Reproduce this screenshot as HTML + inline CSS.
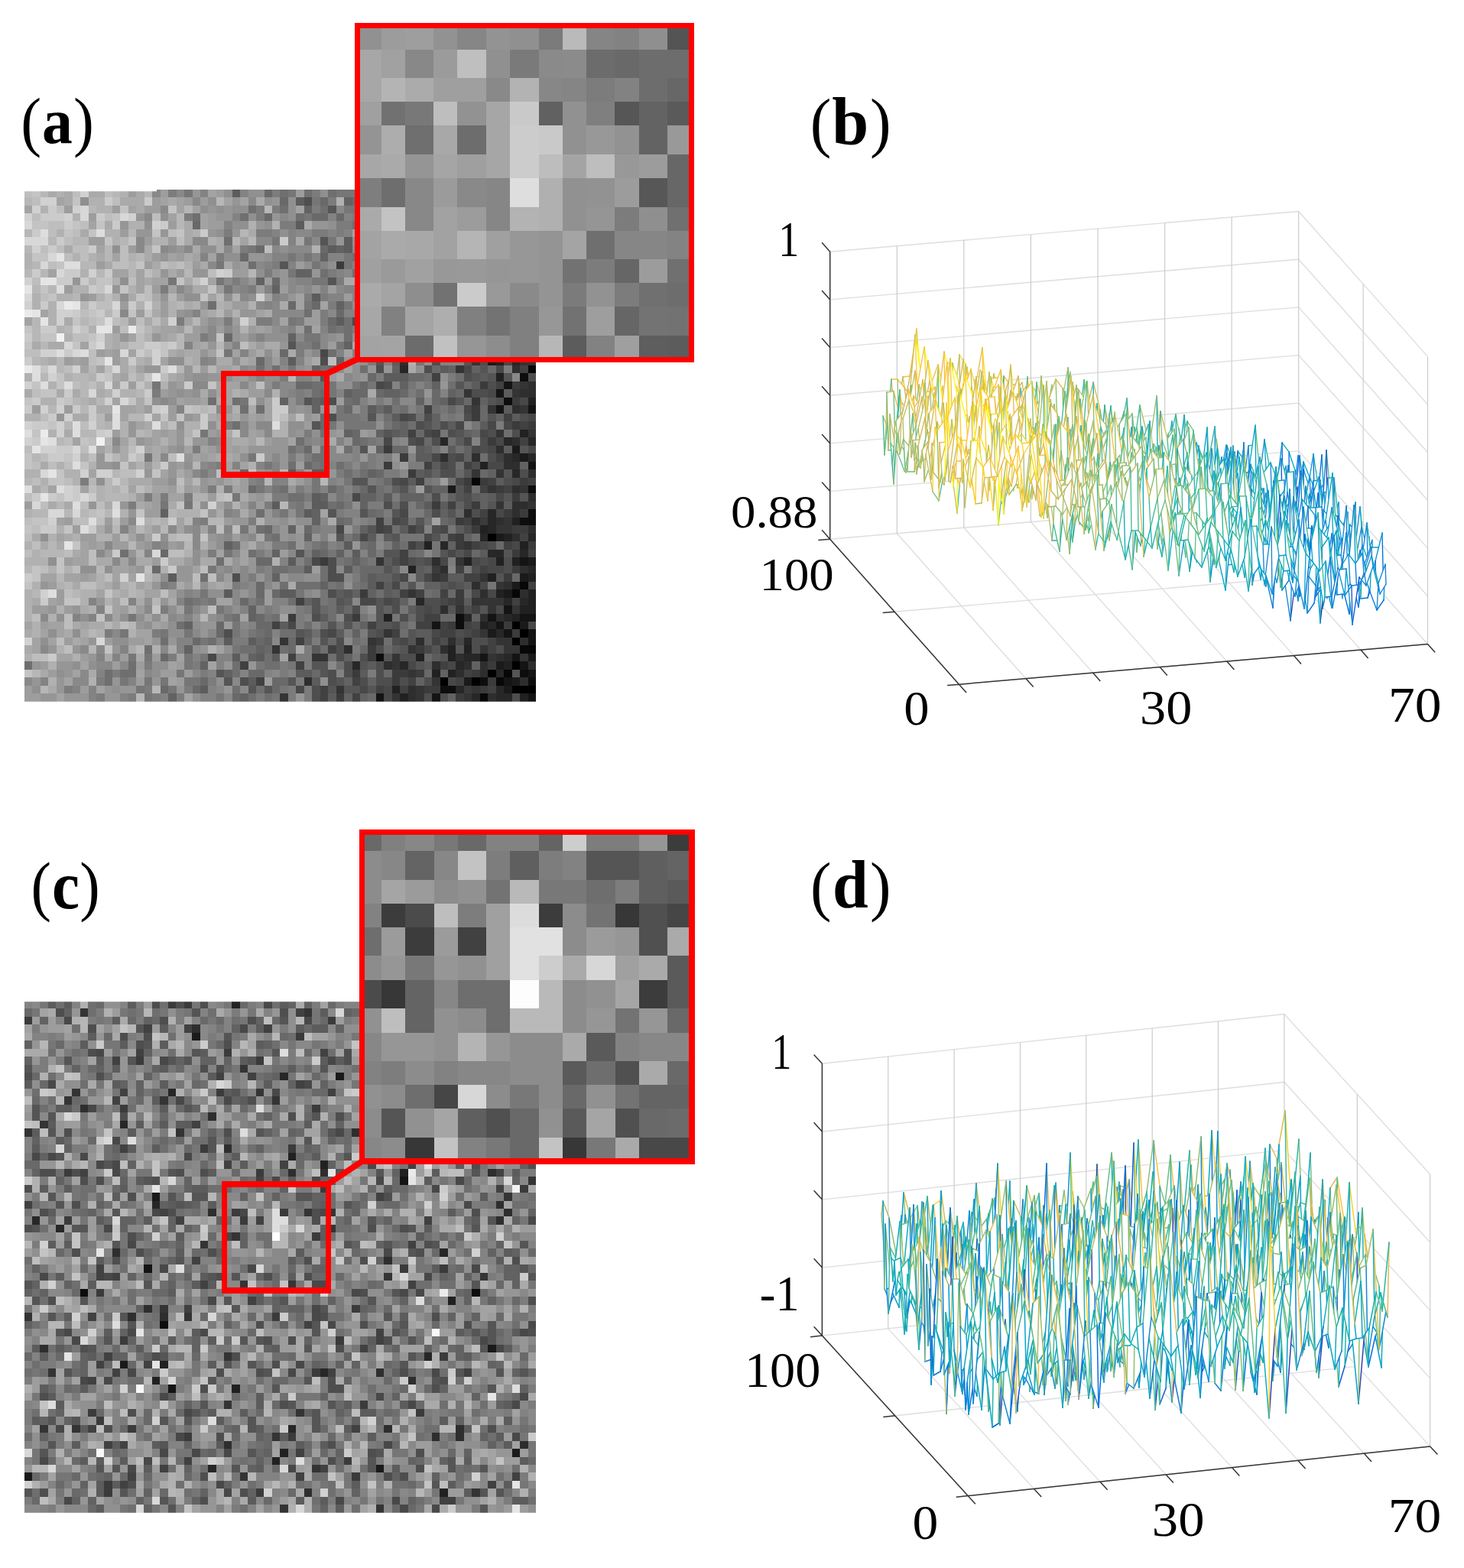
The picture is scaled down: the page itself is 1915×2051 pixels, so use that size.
<!DOCTYPE html>
<html lang="en"><head><meta charset="utf-8"><title>Infrared small target: raw and background-suppressed image with 3D intensity meshes</title>
<style>html,body{margin:0;padding:0;background:#fff}body{width:1915px;height:2051px;overflow:hidden}figure{margin:0}svg{display:block}text{font-family:"Liberation Serif","DejaVu Serif",serif;font-size:100px;fill:#000}.w{fill:#fff;stroke:none}.a{stroke:#352a87}.b{stroke:#343fb1}.c{stroke:#1558da}.d{stroke:#046de0}.e{stroke:#117ada}.f{stroke:#1487d3}.g{stroke:#0998d1}.h{stroke:#06a4c9}.i{stroke:#0dadbb}.j{stroke:#24b5aa}.k{stroke:#44bb97}.l{stroke:#6abe83}.m{stroke:#8fbf73}.n{stroke:#afbe67}.o{stroke:#ccbb5b}.p{stroke:#e7b94f}.q{stroke:#fdbe3d}.r{stroke:#fbd02c}.s{stroke:#f5e21e}.t{stroke:#f9fb0e}</style></head><body><figure>
<svg width="1915" height="2051" viewBox="0 0 1915 2051">
<rect width="1915" height="2051" fill="#fff"/>
<g id="panel-a">
<clipPath id="ca"><path d="M32 250.3H205V248H701V917.7H32Z"/></clipPath>
<g id="image-a" clip-path="url(#ca)"><g transform="translate(32.00 252.84) scale(10.4531 10.4703)" shape-rendering="crispEdges" fill="none" stroke-width="1">
<path stroke="#000" d="M62 1h1M58 3h1M61 8h1M63 16h1M58 43h1M61 54h1M62 55h1M61 56h1M61 59h1M58 60h1M52 61h1M56 61h1M61 62h3"/>
<path stroke="#070707" d="M63 22h1M56 36h1M62 49h1M61 50h1M62 57h2M60 60h1M59 61h1M57 63h1"/>
<path stroke="#0d0d0d" d="M63 8h1M63 9h1M62 23h1M60 26h1M63 37h1M63 40h1M62 41h2M54 53h1M54 54h1M44 58h1M62 60h1M57 61h1M63 61h1M52 62h2"/>
<path stroke="#141414" d="M63 0h1M59 1h1M62 2h1M63 5h1M62 15h1M60 24h1M59 25h1M59 27h1M63 27h1M63 34h1M62 46h1M60 52h1M58 53h1M62 53h2M51 54h1M59 54h1M60 55h1M63 55h1M63 56h1M57 58h1M61 58h1M62 59h1M63 60h1M60 61h1M44 63h1M51 63h1M63 63h1"/>
<path stroke="#1a1a1a" d="M57 3h1M62 3h2M60 4h1M59 7h1M61 15h1M63 15h1M63 17h1M63 20h1M58 21h1M61 32h1M62 33h1M53 37h1M59 43h1M63 46h1M62 48h1M61 49h1M60 50h1M62 54h1M58 55h1M63 58h1M59 59h1M55 61h1M61 61h1M60 62h1"/>
<path stroke="#212121" d="M60 1h1M55 3h1M62 4h1M61 5h1M63 12h1M62 13h1M55 15h1M55 16h1M59 21h1M59 23h1M63 26h1M62 30h1M57 34h1M61 41h1M57 42h1M60 43h1M50 44h1M62 44h1M55 46h1M59 46h1M61 46h1M48 47h1M58 48h1M63 48h1M59 50h1M63 50h1M63 51h1M62 52h2M45 53h1M61 53h1M57 54h1M53 57h1M55 57h1M49 58h1M53 58h1M60 59h1M51 60h1M53 60h1M46 62h1M47 63h1M62 63h1"/>
<path stroke="#272727" d="M61 6h1M47 7h1M58 8h1M61 12h1M62 20h1M61 21h1M47 22h1M52 31h1M60 31h1M63 31h1M61 33h1M63 33h1M61 35h1M58 40h1M58 41h1M58 42h1M57 43h1M63 43h1M52 44h1M58 45h2M62 45h1M63 47h1M49 51h1M60 51h1M62 51h1M55 53h1M60 53h1M58 54h1M59 55h1M55 56h1M55 58h2M60 58h1M41 59h1M47 59h1M54 59h1M59 60h1M54 62h1M59 62h1M56 63h1M59 63h2"/>
<path stroke="#2e2e2e" d="M61 0h1M61 2h1M58 5h1M63 6h1M63 7h1M59 11h1M62 12h1M59 13h1M63 13h1M61 14h1M63 14h1M62 17h1M47 21h1M61 22h1M63 24h1M62 25h2M61 27h1M61 31h1M59 32h1M52 33h1M56 33h1M60 33h1M60 34h2M63 35h1M61 37h1M63 38h1M61 39h2M55 40h1M61 40h1M56 41h1M59 41h1M63 42h1M61 43h1M51 46h1M52 47h1M62 47h1M56 49h1M60 49h1M57 50h1M62 50h1M52 52h1M57 53h1M59 53h1M49 56h1M53 56h1M62 56h1M40 57h1M52 57h1M54 58h1M59 58h1M45 59h1M51 59h1M55 59h1M57 59h1M63 59h1M54 60h1M57 60h1M35 61h1M62 61h1M48 62h1M48 63h1M58 63h1"/>
<path stroke="#343434" d="M59 0h1M62 0h1M59 3h1M61 4h1M51 5h1M54 6h1M57 6h1M53 7h1M58 7h1M62 7h1M53 8h1M58 9h1M61 10h1M53 15h1M53 16h1M52 18h1M59 18h1M56 20h1M56 21h1M62 21h2M54 22h1M62 24h1M55 25h1M61 25h1M56 26h1M58 27h1M62 27h1M59 30h1M63 30h1M56 35h1M59 35h1M58 37h1M62 37h1M59 39h1M63 39h1M60 41h1M59 42h2M55 44h1M44 46h1M54 46h1M51 48h1M57 48h1M59 49h1M48 50h1M56 51h4M54 52h1M58 52h1M61 52h1M45 55h1M57 55h1M32 56h1M43 56h1M59 56h2M31 57h1M48 57h1M57 57h1M60 57h2M36 58h2M46 58h1M58 58h1M62 58h1M46 59h1M48 60h1M51 61h1M39 62h1M49 62h1M56 62h1M32 63h1M46 63h1M49 63h1M55 63h1"/>
<path stroke="#3b3b3b" d="M57 1h1M61 3h1M46 5h1M57 5h1M60 5h1M62 5h1M59 6h1M60 7h2M60 8h1M39 9h1M60 9h1M52 10h1M60 10h1M60 11h1M63 11h1M50 12h1M57 12h1M58 15h1M56 16h1M61 16h1M45 17h1M47 17h1M61 18h1M57 24h1M61 24h1M61 26h1M56 27h1M56 28h1M61 29h1M63 29h1M58 31h1M45 32h1M47 33h1M45 34h1M48 35h1M55 36h1M57 36h1M62 36h1M59 37h1M61 38h1M51 39h1M56 39h1M60 40h1M62 40h1M54 41h1M57 41h1M56 42h1M61 42h2M54 43h1M54 44h1M63 44h1M61 45h1M37 46h1M51 47h1M61 47h1M52 48h1M60 48h1M42 50h1M54 50h1M54 51h1M33 53h1M41 53h1M53 54h1M60 54h1M61 55h1M44 56h1M43 57h1M49 57h1M43 58h1M58 59h1M41 60h1M46 60h2M49 60h1M56 60h1M46 61h1M58 61h1M50 62h2M55 62h1M57 62h1M39 63h1M54 63h1"/>
<path stroke="#414141" d="M51 0h1M60 0h1M51 1h1M53 1h1M58 1h1M61 1h1M63 1h1M56 3h1M53 4h1M58 4h1M59 5h1M51 6h1M56 6h1M62 6h1M54 7h1M57 7h1M62 8h1M59 9h1M53 10h1M63 10h1M62 11h1M60 13h1M57 15h1M59 15h1M51 17h1M56 19h1M63 19h1M48 20h1M54 20h1M62 22h1M51 23h1M59 24h1M50 27h1M60 28h1M62 29h1M48 30h1M51 30h1M62 31h1M59 33h1M50 34h1M55 34h1M49 36h1M58 36h1M63 36h1M55 37h1M57 37h1M60 37h1M53 39h1M57 40h1M44 41h1M55 41h1M44 42h1M48 42h1M53 43h1M62 43h1M48 44h1M56 44h1M60 44h1M47 45h1M63 45h1M47 46h1M54 47h1M57 47h1M55 48h2M44 49h1M63 49h1M47 50h1M49 50h1M52 50h1M34 51h1M53 51h1M61 51h1M56 52h1M50 53h2M31 54h1M43 54h1M49 54h2M52 54h1M55 54h1M46 55h1M52 55h2M56 55h1M34 56h1M51 56h1M58 56h1M38 57h1M58 57h1M33 58h1M27 59h1M34 59h1M52 59h1M55 60h1M29 61h1M41 61h1M48 61h1M54 61h1M37 62h1M44 62h1M47 62h1M58 62h1M37 63h1M41 63h1"/>
<path stroke="#484848" d="M45 0h1M47 2h1M55 2h2M60 2h1M63 2h1M47 3h1M56 4h2M59 4h1M63 4h1M44 5h1M47 5h1M53 5h1M50 6h1M49 7h1M51 7h1M52 11h1M49 12h1M53 12h1M55 12h1M58 12h1M58 13h1M60 15h1M41 16h1M57 16h2M60 16h1M48 18h1M53 18h1M58 18h1M62 18h1M59 19h1M37 20h1M61 20h1M60 21h1M55 22h1M59 22h1M44 24h1M58 25h1M53 26h1M62 26h1M55 27h1M47 28h1M63 28h1M54 29h1M58 29h1M60 29h1M50 30h1M57 30h1M45 31h1M49 31h1M55 31h1M59 31h1M56 32h1M58 32h1M63 32h1M51 33h1M54 33h1M52 34h1M58 34h2M47 36h1M54 36h1M61 36h1M41 38h1M59 38h1M47 40h1M59 40h1M46 41h1M39 42h1M45 42h1M52 42h1M42 43h1M50 43h1M57 44h1M61 44h1M53 45h1M55 45h1M36 46h1M52 46h1M56 46h1M58 46h1M58 47h2M47 48h1M50 48h1M46 49h1M57 49h1M56 50h1M58 50h1M42 51h2M45 51h1M52 51h1M50 52h1M59 52h1M33 54h1M56 54h1M63 54h1M38 55h1M51 55h1M55 55h1M47 56h1M54 56h1M50 57h1M23 58h1M48 59h1M53 59h1M53 61h1M34 62h1M42 62h1M45 62h1M45 63h1"/>
<path stroke="#4e4e4e" d="M54 0h1M56 0h1M35 1h1M48 1h1M56 1h1M46 2h1M52 2h2M57 2h1M43 3h1M44 7h1M43 8h1M56 9h1M61 9h1M54 10h1M57 10h1M56 11h1M46 12h1M50 13h1M54 13h1M56 13h1M53 14h2M62 14h1M47 16h1M51 16h1M59 16h1M52 17h1M59 17h3M57 18h1M60 18h1M52 19h1M58 19h1M57 20h1M60 20h1M37 21h1M51 21h1M57 21h1M44 22h1M50 22h1M55 23h1M63 23h1M45 24h1M58 24h1M56 25h2M38 26h1M59 26h1M38 28h1M48 28h1M50 28h1M55 28h1M62 28h1M49 29h1M52 29h1M53 30h1M58 30h1M61 30h1M48 31h1M51 31h1M57 31h1M57 32h1M53 33h1M58 33h1M53 34h1M56 34h1M52 35h2M62 35h1M46 36h1M60 36h1M51 38h1M55 38h1M45 39h1M47 39h1M55 39h1M51 40h1M56 40h1M47 41h1M49 42h1M51 42h1M55 42h1M49 44h1M58 44h1M38 46h1M46 46h1M48 46h1M50 46h1M57 46h1M60 46h1M38 47h1M56 47h1M60 47h1M26 48h1M38 48h2M53 49h1M38 50h1M46 51h1M50 51h2M41 52h1M46 52h1M49 52h1M51 52h1M55 52h1M36 53h1M40 53h1M47 53h1M49 53h1M46 54h1M25 55h1M37 55h1M44 55h1M54 55h1M39 56h1M46 56h1M52 56h1M56 56h2M39 57h1M44 57h1M56 57h1M59 57h1M39 58h1M42 58h1M47 58h2M40 59h1M44 59h1M38 60h1M40 60h1M44 60h1M27 61h1M38 61h1M42 61h1M44 61h2M47 61h1M50 61h1M36 62h1M36 63h1M50 63h1M52 63h1M61 63h1"/>
<path stroke="#555" d="M42 0h1M48 0h1M55 1h1M38 2h1M49 2h1M59 2h1M52 3h1M54 3h1M48 4h1M52 4h1M54 4h1M52 5h1M56 5h1M37 6h1M48 6h1M55 6h1M52 7h1M48 8h1M57 8h1M32 9h1M62 9h1M45 10h1M48 10h1M62 10h1M38 11h1M53 11h1M55 11h1M61 11h1M42 12h1M57 13h1M61 13h1M59 14h1M54 15h1M50 16h1M62 16h1M55 17h1M33 19h1M49 19h1M60 19h2M43 20h1M58 20h1M44 21h1M55 21h1M57 22h1M37 23h1M56 23h1M58 23h1M60 23h1M54 24h1M35 26h1M54 26h1M58 26h1M43 28h1M58 28h1M36 29h1M50 29h1M45 30h1M54 30h1M42 32h1M62 32h1M50 35h1M55 35h1M60 35h1M41 36h2M43 37h1M47 37h1M50 37h1M54 37h1M54 38h1M60 38h1M62 38h1M58 39h1M38 40h1M42 40h1M46 40h1M53 40h1M49 41h1M43 42h1M39 43h1M46 43h1M51 43h1M34 45h1M45 45h2M52 45h1M54 45h1M60 45h1M49 46h1M45 47h1M46 48h1M59 48h1M48 49h1M52 49h1M54 49h1M40 50h1M36 51h1M39 51h1M44 51h1M36 52h1M44 52h1M53 52h1M57 52h1M44 53h1M38 54h1M40 54h1M44 54h2M34 55h1M43 55h1M48 55h1M37 56h1M48 56h1M47 57h1M51 57h1M54 57h1M45 58h1M52 58h1M36 59h2M42 59h1M49 59h1M24 60h1M37 60h1M61 60h1M25 61h1M33 61h1M39 61h1M28 62h1M30 62h1M38 62h1M40 62h2M43 62h1"/>
<path stroke="#5c5c5c" d="M26 0h1M52 0h1M57 0h1M34 1h1M51 2h1M48 3h1M50 3h1M34 4h1M47 4h1M50 5h1M40 6h1M43 6h1M47 6h1M49 6h1M52 6h1M58 6h1M38 7h1M40 7h1M43 7h1M59 8h1M48 9h1M52 9h3M49 10h2M58 10h1M50 11h1M57 11h2M51 12h2M54 12h1M59 12h1M36 13h1M43 13h1M55 13h1M49 14h2M56 14h1M47 15h1M52 15h1M56 15h1M39 16h1M52 16h1M46 17h1M50 18h2M54 18h1M43 19h1M46 19h1M48 19h1M54 19h1M62 19h1M59 20h1M33 21h1M46 21h1M52 22h1M45 23h3M57 23h1M56 24h1M60 25h1M37 26h1M43 27h1M45 27h1M60 27h1M46 28h1M61 28h1M53 29h1M57 29h1M46 30h1M54 31h1M49 32h1M53 32h1M60 32h1M49 33h2M51 34h1M33 35h1M36 35h2M49 35h1M48 36h1M59 36h1M36 38h1M45 38h1M56 38h1M58 38h1M31 39h1M36 39h2M50 39h1M52 39h1M60 39h1M35 40h1M47 42h1M54 42h1M43 43h1M45 43h1M40 44h1M41 45h1M57 45h1M33 46h1M45 46h1M35 47h1M40 47h1M49 47h1M18 48h1M43 48h1M49 48h1M53 48h2M43 49h1M45 49h1M55 49h1M25 50h1M32 50h2M39 50h1M45 50h1M40 51h1M55 51h1M39 52h1M48 52h1M37 53h1M32 54h1M35 55h1M39 55h1M49 55h2M25 56h1M28 56h1M50 56h1M36 57h1M46 57h1M26 58h1M29 58h1M31 58h1M51 58h1M43 59h1M50 59h1M34 60h2M42 60h1M28 61h1M36 61h1M22 62h1M38 63h1"/>
<path stroke="#626262" d="M53 0h1M55 0h1M40 1h1M49 1h2M52 1h1M35 2h1M42 2h1M44 2h1M54 2h1M58 2h1M51 3h1M60 3h1M51 4h1M44 6h2M60 6h1M39 7h1M56 7h1M37 8h1M49 8h1M52 8h1M54 8h1M49 9h1M34 10h2M43 10h1M29 11h1M44 11h1M48 11h1M51 11h1M31 12h1M56 12h1M51 13h1M39 14h1M46 14h1M51 14h2M57 14h1M48 15h1M51 15h1M44 17h1M54 17h1M33 18h1M63 18h1M40 19h1M39 21h1M36 22h1M46 22h1M53 22h1M56 22h1M47 24h1M51 24h1M40 25h1M45 25h2M53 25h1M32 26h1M36 26h1M49 26h1M52 26h1M57 26h1M36 27h1M51 28h1M59 28h1M47 29h1M51 29h1M40 30h1M44 30h1M47 30h1M55 30h1M44 32h1M50 32h1M55 32h1M55 33h1M62 34h1M43 35h1M51 35h1M58 35h1M46 37h1M51 37h2M37 38h1M42 38h2M47 38h3M53 38h1M57 38h1M42 39h1M54 39h1M57 39h1M17 40h1M36 40h1M52 40h1M36 41h1M53 41h1M33 42h1M42 42h1M35 43h1M55 43h1M25 44h1M46 44h1M53 44h1M31 45h1M36 45h1M39 45h1M41 46h1M46 47h1M50 47h1M31 48h1M44 48h2M37 49h1M50 49h2M41 50h1M43 50h1M46 50h1M35 51h1M47 51h1M28 52h1M45 52h1M28 53h1M56 53h1M20 54h1M42 54h1M41 55h1M30 56h1M35 56h1M20 57h1M29 57h1M28 58h1M40 58h1M22 59h1M56 59h1M25 60h1M52 60h1M40 61h1M43 61h1M49 61h1M18 63h1M27 63h1M40 63h1M42 63h1M53 63h1"/>
<path stroke="#696969" d="M30 0h1M47 0h1M58 0h1M32 1h1M37 1h1M41 1h1M44 1h2M54 1h1M45 2h1M50 2h1M30 3h1M36 3h2M39 3h1M45 3h2M21 4h1M46 4h1M55 4h1M54 5h1M46 6h1M29 7h1M37 7h1M45 7h1M27 8h1M51 8h1M56 8h1M44 10h1M47 10h1M56 10h1M31 11h1M47 11h1M49 11h1M48 12h1M52 13h1M33 14h1M36 14h1M43 14h1M48 14h1M58 14h1M39 15h1M50 15h1M38 16h1M43 16h1M42 17h1M48 17h1M58 17h1M25 18h1M46 18h1M56 18h1M50 19h1M53 19h1M32 20h1M47 20h1M53 20h1M29 21h1M38 22h1M51 22h1M58 22h1M43 23h1M48 23h2M34 24h2M42 24h1M55 24h1M37 25h1M41 25h2M44 25h1M47 25h1M51 25h1M54 25h1M41 26h1M51 26h1M55 26h1M40 27h1M44 27h1M53 27h1M57 27h1M37 28h1M57 28h1M37 29h1M46 29h1M41 30h1M49 30h1M56 30h1M41 31h1M50 31h1M35 32h1M46 32h2M35 34h1M27 35h1M44 35h1M54 35h1M57 35h1M45 36h1M28 37h1M38 37h1M42 37h1M39 39h1M49 39h1M43 40h1M50 40h1M54 40h1M39 41h1M52 41h1M30 42h1M35 42h1M41 43h1M43 44h1M59 44h1M17 45h1M37 45h1M43 45h1M48 45h1M56 45h1M29 46h2M16 47h1M42 47h3M42 48h1M61 48h1M29 49h1M29 50h1M31 50h1M51 50h1M53 50h1M55 50h1M27 51h1M37 52h1M40 52h1M29 53h1M48 53h1M52 53h2M24 54h1M29 54h2M47 54h1M24 55h1M30 55h1M21 56h1M29 56h1M33 56h1M38 56h1M30 57h1M33 57h1M42 57h1M45 57h1M17 58h1M50 58h1M28 60h2M36 60h1M45 60h1M50 60h1M22 61h1M31 61h2M17 62h1M21 62h1M31 62h1M26 63h1M43 63h1"/>
<path stroke="#6f6f6f" d="M32 0h1M35 0h1M38 0h1M43 0h1M50 0h1M28 2h1M32 2h1M37 2h1M21 3h1M27 3h1M34 3h1M41 4h2M50 4h1M25 6h1M53 6h1M41 8h1M50 8h1M55 8h1M28 9h1M57 9h1M37 10h1M41 10h1M51 10h1M46 11h1M43 12h2M47 13h2M53 13h1M23 14h1M55 14h1M35 15h1M42 15h1M49 15h1M40 16h1M35 17h1M38 17h1M40 17h1M56 17h1M40 18h1M45 18h1M49 18h1M55 18h1M36 19h1M42 19h1M57 19h1M38 20h1M46 20h1M29 22h1M31 22h1M37 22h1M42 22h1M50 23h1M54 23h1M36 24h2M53 24h1M36 25h1M49 25h1M23 26h1M26 26h1M40 26h1M46 26h1M27 27h1M29 27h1M47 27h1M51 27h1M45 28h1M49 28h1M26 29h1M48 29h1M37 30h1M60 30h1M34 31h1M42 31h1M53 31h1M33 32h1M37 32h1M40 32h1M51 32h1M54 32h1M36 33h2M57 33h1M33 34h1M37 34h1M39 34h1M54 34h1M40 35h1M42 35h1M53 36h1M32 37h1M44 37h1M48 37h1M56 37h1M33 38h2M44 38h1M50 38h1M38 39h1M46 39h1M29 40h1M44 40h1M40 41h1M48 41h1M50 41h1M29 42h1M46 42h1M31 43h1M52 43h1M56 43h1M26 44h1M33 44h1M37 44h1M42 44h1M47 44h1M12 45h1M28 45h1M49 45h1M24 46h1M35 46h1M40 46h1M42 46h1M31 47h2M37 47h1M22 48h1M37 48h1M32 49h1M34 49h3M39 49h1M42 49h1M47 49h1M44 50h1M50 50h1M20 51h1M29 51h1M33 51h1M38 51h1M38 52h1M26 53h1M31 53h1M38 53h1M19 54h1M35 54h1M37 54h1M39 54h1M41 54h1M29 55h1M32 55h2M36 55h1M47 55h1M17 56h1M23 56h1M41 56h1M45 56h1M15 57h1M27 57h2M32 57h1M37 57h1M30 58h1M38 58h1M0 59h1M13 59h1M26 59h1M30 59h2M39 59h1M10 60h1M12 60h2M26 60h1M10 61h1M26 62h1M29 62h1M28 63h1M30 63h1"/>
<path stroke="#767676" d="M20 0h1M33 0h1M39 0h3M36 1h1M42 1h1M47 1h1M40 2h2M35 3h1M49 3h1M53 3h1M43 4h1M43 5h1M45 5h1M49 5h1M31 6h1M35 6h1M38 6h1M28 7h1M48 7h1M55 7h1M33 8h1M35 8h1M40 8h1M45 8h3M24 9h1M36 9h1M40 9h1M45 9h2M50 9h1M55 9h1M33 10h1M59 10h1M18 11h1M24 11h1M36 11h2M25 12h1M45 12h1M35 14h1M40 14h1M47 14h1M33 16h1M39 17h1M50 17h1M35 18h2M39 19h1M51 19h1M25 20h1M51 20h1M55 20h1M49 21h1M33 22h1M16 24h1M38 24h1M41 24h1M43 24h1M48 24h1M50 24h1M38 25h1M27 26h1M39 27h1M46 27h1M49 27h1M52 27h1M54 27h1M39 28h3M53 28h1M38 29h1M40 29h4M45 29h1M56 29h1M22 30h1M52 30h1M43 31h1M15 33h1M28 33h1M30 34h1M36 34h1M42 34h1M36 36h1M40 36h1M44 36h1M50 36h1M29 37h1M31 37h1M36 37h1M39 37h1M41 37h1M45 37h1M26 38h1M39 38h1M52 38h1M17 39h1M20 39h1M34 39h1M40 39h1M32 40h1M34 40h1M45 41h1M27 42h1M53 42h1M30 43h1M40 43h1M47 43h3M36 44h1M51 44h1M25 45h1M38 45h1M51 45h1M39 46h1M43 46h1M23 47h1M33 47h2M41 47h1M55 47h1M38 49h1M41 49h1M58 49h1M22 50h1M34 50h1M37 50h1M21 51h1M23 51h1M37 51h1M20 52h1M24 52h1M35 52h1M47 52h1M13 53h1M25 53h1M30 53h1M42 53h1M46 53h1M26 54h1M48 54h1M12 55h1M17 55h1M20 55h1M26 55h1M28 55h1M22 56h1M42 56h1M26 57h1M13 58h1M15 58h1M20 58h1M22 58h1M41 58h1M20 59h1M29 59h1M33 59h1M19 60h1M12 61h1M15 61h1M17 61h1M20 61h2M14 62h1M18 62h1M32 62h1M15 63h1M24 63h1M31 63h1"/>
<path stroke="#7c7c7c" d="M18 0h1M31 0h1M36 0h1M46 0h1M38 1h1M43 1h1M46 1h1M29 2h1M31 2h1M36 2h1M43 2h1M20 3h1M29 3h1M41 3h1M32 4h2M39 4h2M45 4h1M25 5h1M29 5h2M36 5h2M39 5h1M48 5h1M42 6h1M27 7h1M50 7h1M24 8h1M44 8h1M31 9h1M47 9h1M30 10h1M38 10h1M26 11h1M39 11h1M17 12h1M28 12h1M35 13h1M37 13h1M38 14h1M44 14h1M60 14h1M37 15h1M44 15h1M19 16h1M25 16h1M29 16h2M34 16h1M37 16h1M44 16h1M48 16h1M54 16h1M41 17h1M22 18h1M34 19h2M44 19h2M34 20h1M42 20h1M49 20h1M52 20h1M43 21h1M60 22h1M32 23h1M44 23h1M53 23h1M31 24h1M16 25h1M34 25h1M48 25h1M34 26h1M44 26h1M42 27h1M42 28h1M52 28h1M54 28h1M25 29h1M59 29h1M35 30h1M44 31h1M21 32h1M34 32h1M33 33h1M35 33h1M43 33h1M45 33h1M24 34h1M40 34h1M43 34h1M48 34h2M22 35h1M39 35h1M41 35h1M45 35h2M7 36h1M29 36h1M43 36h1M51 36h1M23 37h1M25 37h1M34 37h1M15 38h1M17 38h1M20 38h1M31 38h2M35 38h1M40 38h1M46 38h1M13 39h1M30 39h1M33 39h1M43 39h2M48 39h1M39 40h1M45 40h1M48 40h2M22 41h1M28 41h1M43 41h1M36 42h1M41 42h1M31 44h2M39 44h1M45 44h1M23 45h1M29 45h1M35 45h1M44 45h1M53 46h1M29 47h1M28 48h1M41 48h1M17 49h1M26 49h1M49 49h1M22 51h1M28 51h1M48 51h1M17 52h1M30 52h1M34 52h1M34 53h1M34 54h1M10 55h1M16 55h1M40 55h1M42 55h1M26 56h2M36 56h1M35 57h1M41 57h1M18 58h1M34 58h2M15 59h1M21 59h1M32 59h1M35 59h1M11 60h1M22 60h1M32 60h1M43 60h1M9 61h1M23 61h1M34 61h1M5 62h1M15 62h1M20 62h1M33 62h1M35 62h1M9 63h1M13 63h1M16 63h1M19 63h1M29 63h1M33 63h1M35 63h1"/>
<path stroke="#838383" d="M22 0h1M27 0h1M48 2h1M26 3h1M38 3h1M40 3h1M44 3h1M25 4h1M31 5h1M33 5h1M38 5h1M40 5h1M42 5h1M33 6h1M22 8h1M31 8h2M34 8h1M36 8h1M38 8h2M42 8h1M30 9h1M33 9h1M37 9h1M41 9h1M39 10h1M42 10h1M34 11h2M43 11h1M27 12h1M30 12h1M37 12h1M40 12h2M60 12h1M31 13h1M38 13h2M41 13h1M46 13h1M30 14h1M45 14h1M21 15h1M40 15h2M46 15h1M49 16h1M33 17h1M37 17h1M49 17h1M29 18h1M47 18h1M20 19h1M26 19h1M47 19h1M27 20h1M39 20h1M41 20h1M22 21h1M32 21h1M34 21h1M45 21h1M52 21h3M29 23h1M34 23h2M46 24h1M49 24h1M33 25h1M35 25h1M39 25h1M52 25h1M42 26h1M19 27h1M48 27h1M44 28h1M23 31h1M35 31h1M37 31h1M39 31h1M46 31h1M56 31h1M41 32h1M52 32h1M41 33h1M44 33h1M48 33h1M23 34h1M26 34h1M29 34h1M31 34h1M38 34h1M44 34h1M31 35h1M34 35h1M28 36h1M31 36h2M38 36h1M30 37h1M37 37h1M40 37h1M28 39h1M25 40h1M31 40h1M40 40h2M21 41h1M42 41h1M12 42h1M23 42h1M25 42h1M37 42h2M50 42h1M37 43h1M44 43h1M16 44h1M35 44h1M38 44h1M15 45h1M40 45h1M42 45h1M32 46h1M34 46h1M30 47h1M53 47h1M30 48h1M18 49h1M27 49h1M20 50h1M8 51h1M13 51h1M19 51h1M31 51h2M9 52h1M25 52h1M27 52h1M31 52h1M42 52h1M6 53h1M8 53h1M20 53h1M35 53h1M43 53h1M28 54h1M36 54h1M27 55h1M31 55h1M19 56h2M24 56h1M12 57h1M19 57h1M9 58h1M11 58h1M21 58h1M24 58h2M27 58h1M24 59h1M9 60h1M23 60h1M27 60h1M30 60h1M33 60h1M39 60h1M2 61h1M13 61h1M6 62h1M8 62h1M23 62h1M8 63h1M12 63h1M17 63h1M22 63h2"/>
<path stroke="#898989" d="M16 0h1M19 0h1M21 1h1M28 1h1M17 2h1M39 2h1M15 3h1M32 3h1M49 4h1M34 5h2M55 5h1M14 6h1M21 6h2M29 6h2M36 6h1M14 7h1M17 7h1M20 7h1M25 7h1M31 7h1M33 7h3M41 7h2M23 9h1M29 9h1M42 9h1M40 10h1M46 10h1M25 11h1M27 11h1M33 11h1M19 12h1M26 12h1M33 12h1M35 12h1M39 12h1M27 13h1M32 13h1M42 13h1M44 13h1M29 14h1M31 14h1M12 15h1M31 15h4M38 15h1M31 16h1M42 16h1M46 16h1M23 17h1M25 17h1M32 17h1M53 17h1M57 17h1M23 18h1M34 18h1M37 18h1M37 19h1M36 20h1M23 21h1M30 21h1M27 22h1M30 22h1M32 22h1M40 23h1M61 23h1M21 24h2M27 24h1M32 24h2M30 25h1M32 25h1M17 26h1M45 26h1M47 26h2M50 26h1M24 27h1M27 29h1M29 29h2M55 29h1M27 30h1M30 30h1M11 31h1M24 31h1M36 31h1M47 31h1M38 32h1M17 33h1M31 33h1M38 33h3M22 34h1M41 34h1M21 35h1M23 35h1M47 35h1M39 36h1M35 37h1M38 38h1M35 39h1M26 40h1M13 41h1M37 41h1M41 41h1M18 42h1M21 42h1M31 42h1M21 43h1M25 43h1M28 43h1M10 44h1M17 44h1M21 44h1M44 44h1M9 45h1M26 45h1M30 45h1M33 45h1M50 45h1M11 46h1M13 46h1M25 47h1M27 47h1M39 47h1M47 47h1M24 48h1M27 48h1M33 48h2M40 48h1M48 48h1M28 49h1M30 49h1M21 50h1M26 50h1M28 50h1M35 50h1M26 51h1M41 51h1M15 52h1M21 52h1M29 52h1M2 53h1M10 53h1M18 53h1M24 53h1M39 53h1M27 54h1M11 55h1M21 55h1M23 55h1M31 56h1M40 56h1M2 57h1M7 57h1M9 57h1M17 57h1M9 59h2M12 59h1M38 59h1M7 60h1M15 60h1M21 60h1M31 60h1M0 61h1M6 61h2M26 61h1M24 62h1M27 62h1M25 63h1"/>
<path stroke="#909090" d="M25 0h1M28 0h2M37 0h1M44 0h1M49 0h1M7 1h1M23 1h1M30 1h1M33 1h1M22 2h1M24 2h1M26 2h2M33 2h1M17 3h1M28 3h1M33 3h1M15 4h1M26 4h2M30 4h1M38 4h1M24 5h1M32 5h1M41 6h1M11 7h1M18 7h1M22 7h2M32 7h1M46 7h1M25 8h2M30 8h1M35 9h1M38 9h1M44 9h1M51 9h1M29 10h1M31 10h1M55 10h1M12 11h1M45 11h1M54 11h1M34 12h1M47 12h1M12 13h1M20 13h2M25 13h1M28 13h1M49 13h1M41 14h1M20 15h1M23 16h1M31 17h1M43 17h1M28 18h1M30 18h3M38 18h1M41 18h1M43 18h1M30 20h1M18 21h2M26 21h1M42 21h1M50 21h1M28 22h1M34 22h1M39 22h1M41 22h1M49 22h1M21 23h2M25 23h1M28 23h1M30 23h2M36 23h1M41 23h1M52 23h1M30 24h1M39 24h2M19 25h1M21 25h1M23 25h1M16 26h1M18 26h1M29 26h1M33 26h1M43 26h1M33 27h1M35 27h1M41 27h1M19 29h1M23 29h1M33 29h2M39 29h1M44 29h1M33 30h1M36 30h1M19 32h1M24 32h1M27 33h1M34 33h1M11 34h1M20 34h1M46 34h1M30 35h1M9 36h1M18 36h1M35 36h1M22 39h1M25 39h1M41 39h1M33 40h1M32 41h1M34 41h2M20 42h1M2 43h1M14 43h1M17 43h1M24 43h1M27 43h1M33 43h1M24 44h1M29 44h1M21 45h1M3 46h1M21 46h1M7 47h2M10 47h1M24 47h1M17 48h1M35 48h2M22 49h1M40 49h1M19 50h1M23 50h2M36 50h1M15 51h1M18 52h1M26 52h1M32 52h2M43 52h1M4 53h1M7 53h1M12 53h1M14 53h1M16 53h1M19 53h1M23 53h1M15 54h1M18 54h1M21 54h1M3 55h1M6 55h1M18 55h2M2 56h1M11 56h2M21 57h1M25 57h1M6 59h1M8 59h1M16 59h2M4 60h1M16 60h1M24 61h1M37 61h1M1 62h1M11 62h1M21 63h1"/>
<path stroke="#969696" d="M21 0h1M26 1h1M31 1h1M23 2h1M25 2h1M14 3h1M24 3h2M31 3h1M12 4h1M29 4h1M36 4h2M44 4h1M14 5h2M17 5h1M23 5h1M26 5h1M39 6h1M19 7h1M17 8h1M28 8h2M26 9h1M17 10h1M21 10h2M32 10h1M36 10h1M6 11h1M28 11h1M32 11h1M42 11h1M11 12h1M20 12h1M36 12h1M7 13h1M17 13h1M33 13h1M22 14h1M42 14h1M19 15h1M27 15h2M24 16h1M22 17h1M26 17h1M12 18h1M16 18h1M26 18h1M39 18h1M42 18h1M44 18h1M23 19h1M25 19h1M32 19h1M22 20h1M35 20h1M44 20h1M40 21h2M15 22h2M20 22h1M35 22h1M43 22h1M45 22h1M20 23h1M23 23h2M42 23h1M18 24h1M52 24h1M18 25h1M20 25h1M50 25h1M25 27h1M34 27h1M37 27h1M4 28h1M20 28h1M27 28h1M35 28h1M13 29h1M13 30h1M19 30h1M24 30h1M34 30h1M38 30h1M43 30h1M14 31h1M19 31h1M21 31h2M31 31h2M40 31h1M11 32h1M18 32h1M28 32h5M48 32h1M9 33h1M20 33h1M30 33h1M32 33h1M42 33h1M46 33h1M9 34h2M18 34h1M32 34h1M15 35h1M18 35h1M29 35h1M38 35h1M22 36h1M24 36h1M22 37h1M33 37h1M29 38h1M8 39h1M12 39h1M13 40h1M23 40h1M28 40h1M30 40h1M26 41h2M30 41h2M10 42h1M32 42h1M40 42h1M23 43h1M32 43h1M34 43h1M36 43h1M15 44h1M19 44h1M30 44h1M34 44h1M41 44h1M13 45h1M26 46h1M28 46h1M14 47h1M19 47h2M26 47h1M28 47h1M19 48h2M29 48h1M32 48h1M2 49h1M16 49h1M31 49h1M27 50h1M9 51h1M17 51h1M3 52h1M6 52h1M22 52h1M21 53h1M14 54h1M22 54h2M22 55h1M8 56h1M16 56h1M18 56h1M3 57h1M6 57h1M11 57h1M22 57h1M8 58h1M1 59h1M4 59h2M25 59h1M28 59h1M5 60h1M1 61h1M4 61h1M11 61h1M16 61h1M4 62h1M10 62h1M12 62h2M19 62h1M25 62h1M2 63h2M5 63h3M10 63h2M34 63h1"/>
<path stroke="#9d9d9d" d="M13 0h1M17 0h1M24 0h1M34 0h1M16 1h1M20 1h1M22 1h1M5 2h1M11 2h1M15 2h2M8 3h1M23 3h1M18 4h1M23 4h2M12 5h1M8 6h2M15 6h1M18 6h1M13 7h1M16 8h1M19 8h1M9 9h1M15 9h1M21 9h1M27 9h1M34 9h1M43 9h1M19 10h1M26 10h2M30 11h1M5 12h1M16 12h1M24 12h1M29 12h1M32 12h1M38 12h1M8 13h1M19 13h1M40 13h1M12 14h1M17 14h1M26 14h2M14 15h1M17 15h1M25 15h1M36 15h1M45 15h1M13 16h1M22 16h1M26 16h1M35 16h2M45 16h1M11 17h1M19 17h1M21 17h1M24 17h1M28 17h1M30 17h1M34 17h1M20 18h2M27 18h1M29 19h1M38 19h1M55 19h1M9 20h1M11 20h1M28 20h1M45 20h1M5 21h1M7 21h1M11 21h1M31 21h1M35 21h1M22 22h1M26 23h2M38 23h1M13 24h1M19 24h1M28 24h1M17 25h1M28 25h2M20 26h2M39 26h1M1 27h1M5 27h1M15 27h1M18 27h1M10 28h1M18 28h1M21 28h1M29 28h1M36 28h1M28 29h1M35 29h1M11 30h1M17 30h1M23 30h1M29 30h1M39 30h1M42 30h1M15 31h1M30 31h1M23 32h1M26 32h1M36 32h1M22 33h1M15 34h1M19 34h1M34 34h1M47 34h1M20 35h1M35 35h1M16 36h2M23 36h1M27 36h1M34 36h1M52 36h1M18 37h1M20 37h1M27 37h1M49 37h1M14 38h1M16 38h1M23 38h1M28 38h1M0 39h1M16 39h1M27 39h1M29 39h1M15 40h2M5 41h1M10 41h1M12 41h1M25 41h1M33 41h1M6 42h1M13 42h1M16 42h1M28 42h1M34 42h1M7 43h2M11 43h1M26 43h1M38 43h1M8 44h1M11 44h2M14 44h1M18 44h1M23 44h1M27 44h1M10 45h1M22 45h1M32 45h1M5 46h1M16 46h1M20 46h1M13 47h1M36 47h1M7 48h1M25 48h1M3 49h1M11 49h1M20 49h1M4 50h1M30 50h1M4 51h1M30 51h1M1 52h2M5 52h1M12 52h1M14 52h1M2 54h1M17 54h1M25 54h1M5 56h1M10 56h1M13 56h2M7 58h1M12 58h1M16 58h1M2 59h1M11 59h1M14 59h1M19 59h1M3 60h1M17 60h2M20 60h1M14 61h1M19 61h1M30 61h1M0 62h1M7 62h1M0 63h2"/>
<path stroke="#a3a3a3" d="M23 0h1M4 1h1M17 1h1M19 1h1M25 1h1M27 1h1M0 2h1M13 2h1M19 2h1M21 2h1M34 2h1M18 3h1M22 3h1M42 3h1M8 4h1M22 4h1M41 5h1M27 6h1M9 7h1M26 7h1M11 8h1M18 8h1M21 8h1M23 8h1M3 10h1M11 10h2M14 10h1M14 11h1M16 11h2M23 11h1M14 12h1M18 12h1M23 13h1M30 13h1M34 13h1M45 13h1M34 14h1M37 14h1M2 15h1M22 15h1M29 15h1M43 15h1M0 16h1M20 16h1M32 16h1M17 17h2M29 17h1M36 17h1M13 18h1M17 18h1M7 19h1M21 19h1M10 20h1M13 20h1M19 20h1M23 20h1M26 20h1M31 20h1M40 20h1M50 20h1M6 21h1M17 21h1M28 21h1M7 22h1M9 22h1M14 22h1M24 22h2M40 22h1M12 23h1M19 23h1M11 24h1M24 24h3M24 25h2M11 26h1M19 26h1M22 26h1M25 26h1M30 26h1M12 27h2M30 27h1M38 27h1M12 28h1M16 28h1M24 28h2M28 28h1M30 28h1M33 28h1M14 29h1M16 30h1M18 30h1M28 30h1M6 31h1M12 31h1M16 31h1M18 31h1M25 31h1M28 31h1M33 31h1M9 32h1M15 32h1M17 32h1M20 32h1M22 32h1M25 32h1M27 32h1M43 32h1M21 33h1M23 33h1M26 33h1M13 34h1M25 34h1M27 34h1M8 35h1M17 35h1M25 35h2M20 36h1M25 36h1M3 37h1M7 37h1M13 37h1M16 37h2M21 37h1M26 37h1M18 38h2M30 38h1M15 39h1M24 39h1M37 40h1M4 41h1M19 41h1M51 41h1M19 42h1M22 42h1M4 43h1M13 43h1M15 43h1M7 44h1M9 44h1M7 45h1M24 45h1M27 45h1M6 46h2M12 46h1M27 46h1M11 47h2M21 47h1M2 48h2M5 48h2M8 48h1M11 48h1M13 48h1M14 49h1M23 49h1M25 49h1M9 50h1M15 50h2M18 50h1M3 51h1M11 51h1M24 51h2M11 52h1M19 52h1M11 53h1M15 53h1M27 53h1M32 53h1M0 54h1M3 54h2M7 54h1M16 54h1M2 55h1M4 55h1M14 55h2M1 56h1M3 56h1M7 56h1M15 56h1M1 57h1M24 57h1M4 58h2M19 58h1M32 58h1M7 59h1M18 59h1M23 59h1M6 60h1M14 60h1M5 61h1M18 61h1M9 62h1M4 63h1M20 63h1"/>
<path stroke="#aaa" d="M3 0h1M5 0h1M8 0h2M14 0h1M5 1h1M12 1h3M18 1h1M29 1h1M14 2h1M10 4h1M20 4h1M35 4h1M7 5h1M20 5h1M28 5h1M20 6h1M24 6h1M34 6h1M5 7h1M15 7h1M21 7h1M24 7h1M9 8h1M15 8h1M20 8h1M10 9h1M16 9h1M22 9h1M25 9h1M18 10h1M15 11h1M20 11h1M40 11h2M21 12h2M13 13h1M16 13h1M20 14h1M25 14h1M32 14h1M16 15h1M23 15h1M30 15h1M5 16h1M15 16h1M17 16h1M16 17h1M11 18h1M18 18h1M1 19h1M3 19h2M11 19h1M22 19h1M28 19h1M30 19h2M41 19h1M18 20h1M20 20h2M29 20h1M33 20h1M3 21h1M12 21h1M15 21h1M21 21h1M24 21h2M27 21h1M36 21h1M12 22h1M26 22h1M48 22h1M11 23h1M18 23h1M39 23h1M0 25h1M4 25h1M6 25h1M9 25h1M22 25h1M27 25h1M43 25h1M8 26h1M14 26h1M24 26h1M9 27h2M14 27h1M28 27h1M6 28h2M23 28h1M26 28h1M15 29h1M24 29h1M5 30h1M25 30h1M26 31h2M38 31h1M12 32h1M16 32h1M39 32h1M12 33h1M16 33h1M24 33h2M2 34h1M19 35h1M13 36h3M26 36h1M33 36h1M1 37h1M27 38h1M3 39h1M5 39h1M10 39h1M14 39h1M18 39h1M24 40h1M27 40h1M38 41h1M9 42h1M15 42h1M1 43h1M5 43h1M29 43h1M2 44h1M4 44h1M28 44h1M6 45h1M9 46h2M14 46h2M18 46h2M22 46h2M25 46h1M16 48h1M6 49h1M10 49h1M15 49h1M19 49h1M24 49h1M33 49h1M12 50h1M1 51h1M14 51h1M18 51h1M7 52h1M17 53h1M6 54h1M8 54h2M11 54h1M0 55h1M5 55h1M7 55h1M6 56h1M0 57h1M13 57h1M18 57h1M34 57h1M10 58h1M14 58h1M2 60h1M8 60h1M3 62h1"/>
<path stroke="#b1b1b1" d="M4 0h1M12 0h1M8 1h2M39 1h1M2 2h1M9 2h2M6 3h1M13 4h2M28 4h1M31 4h1M4 5h1M10 5h2M21 5h1M11 6h1M16 6h2M23 6h1M36 7h1M0 8h1M6 8h1M8 8h1M13 8h1M0 9h1M20 9h1M7 10h1M16 10h1M11 11h1M6 12h2M13 12h1M1 13h1M4 13h2M9 13h1M11 13h1M26 13h1M1 14h1M3 14h1M14 14h1M16 14h1M18 14h1M21 14h1M24 14h1M28 14h1M3 15h1M18 15h1M26 15h1M3 16h1M28 16h1M4 17h1M8 17h1M27 17h1M5 18h1M10 18h1M15 18h1M10 19h1M12 19h1M2 21h1M14 21h1M20 21h1M48 21h1M0 23h1M5 23h1M8 23h1M14 23h1M3 24h1M9 24h1M15 24h1M17 24h1M10 25h1M12 25h2M26 25h1M31 25h1M2 26h2M7 26h1M26 27h1M0 28h2M10 29h1M12 29h1M17 29h1M20 29h2M32 29h1M3 30h1M12 30h1M15 30h1M20 30h1M31 30h2M17 31h1M10 32h1M7 33h1M4 34h1M8 34h1M14 34h1M16 34h1M28 34h1M0 35h2M5 35h2M2 36h1M6 36h1M9 37h1M11 37h1M15 37h1M24 37h1M9 38h1M13 38h1M21 38h2M26 39h1M0 40h1M12 40h1M19 40h3M15 41h1M17 41h1M29 41h1M4 42h1M3 43h1M6 43h1M9 43h2M0 44h1M22 44h1M1 45h1M14 45h1M20 45h1M0 46h3M31 46h1M3 47h1M5 47h1M17 47h1M9 48h1M1 49h1M4 49h1M9 49h1M12 49h1M0 50h1M7 50h2M11 50h1M14 50h1M0 51h1M7 51h1M10 51h1M0 52h1M4 52h1M8 52h1M13 52h1M0 53h1M3 53h1M1 54h1M1 55h1M9 55h1M13 55h1M4 57h1M16 57h1M23 57h1M0 58h1M6 58h1M3 59h1M3 61h1M8 61h1"/>
<path stroke="#b7b7b7" d="M2 0h1M11 0h1M15 0h1M0 1h1M24 1h1M8 2h1M20 2h1M30 2h1M19 3h1M19 4h1M0 5h1M13 5h1M27 5h1M3 6h1M6 6h2M12 6h1M26 6h1M28 6h1M0 7h1M10 7h1M10 8h1M14 8h1M1 9h1M7 9h2M13 9h1M18 9h1M0 10h1M2 10h1M9 10h1M13 10h1M20 10h1M28 10h1M8 11h1M1 12h1M3 12h1M6 13h1M18 13h1M24 13h1M7 14h1M19 14h1M10 15h1M24 15h1M1 16h1M7 16h1M12 16h1M21 16h1M1 17h1M5 17h1M15 17h1M20 17h1M1 18h1M19 18h1M2 19h1M19 19h1M24 19h1M1 21h1M4 21h1M4 22h1M8 22h1M13 22h1M19 22h1M21 22h1M23 22h1M2 23h1M6 23h2M33 23h1M7 24h1M7 25h1M14 25h1M6 26h1M9 26h1M3 27h1M7 27h1M22 27h1M9 28h1M13 28h2M5 29h1M9 29h1M7 30h2M14 30h1M4 31h1M10 31h1M13 31h1M20 31h1M29 31h1M1 33h1M11 33h1M21 34h1M11 35h1M32 35h1M0 36h1M8 36h1M10 36h1M12 36h1M21 36h1M30 36h1M37 36h1M2 37h1M10 37h1M19 37h1M10 38h3M4 39h1M21 39h1M32 39h1M1 40h2M5 40h1M7 40h1M10 40h1M18 40h1M16 41h1M20 41h1M23 41h2M11 42h1M14 42h1M17 42h1M12 43h1M18 43h1M3 44h1M13 44h1M20 44h1M2 45h3M0 47h1M9 47h1M4 48h1M15 48h1M5 49h1M13 49h1M21 49h1M1 50h1M6 50h1M13 50h1M16 51h1M22 53h1M10 54h1M13 54h1M8 55h1M8 57h1M14 57h1M1 60h1M2 62h1M16 62h1M14 63h1"/>
<path stroke="#bebebe" d="M0 0h1M6 0h1M10 0h1M1 1h1M11 1h1M4 2h1M1 3h1M10 3h1M16 3h1M3 4h2M7 4h1M3 5h1M6 5h1M18 5h1M5 6h1M19 6h1M2 7h1M4 7h1M6 7h2M12 7h1M30 7h1M5 8h1M7 8h1M12 8h1M3 9h1M11 9h2M17 9h1M19 9h1M15 10h1M23 10h1M1 11h1M13 11h1M21 11h1M15 12h1M2 13h1M10 13h1M15 13h1M9 14h2M7 15h1M8 16h1M11 16h1M14 16h1M16 16h1M12 17h1M6 18h2M14 18h1M13 19h2M27 19h1M0 20h2M8 20h1M15 20h1M8 21h1M38 21h1M5 22h1M10 22h1M13 23h1M17 23h1M6 24h1M8 24h1M29 24h1M1 25h1M28 26h1M21 27h1M23 27h1M2 28h1M32 28h1M34 28h1M7 29h1M18 29h1M5 31h1M8 31h1M0 32h1M7 32h1M13 32h1M2 33h1M8 33h1M14 33h1M18 33h1M1 34h1M3 34h1M5 34h1M12 35h2M24 35h1M1 36h1M5 36h1M19 36h1M8 37h1M12 37h1M14 37h1M0 38h1M24 38h1M2 39h1M7 39h1M9 39h1M8 40h1M0 41h1M6 41h2M9 41h1M11 41h1M1 42h1M24 42h1M26 42h1M0 43h1M19 43h2M1 44h1M0 45h1M5 45h1M8 45h1M18 45h2M8 46h1M2 47h1M6 47h1M15 47h1M22 47h1M10 48h1M21 48h1M23 48h1M7 49h2M5 50h1M17 50h1M12 51h1M23 52h1M1 53h1M5 53h1M5 54h1M12 54h1M4 56h1M5 57h1M1 58h2"/>
<path stroke="#c4c4c4" d="M1 0h1M6 1h1M12 2h1M18 2h1M11 3h1M1 4h2M6 4h1M9 4h1M5 5h1M8 5h1M16 5h1M19 5h1M10 6h1M13 6h1M16 7h1M1 8h2M4 9h1M14 9h1M9 11h2M19 11h1M2 12h1M9 12h1M12 12h1M23 12h1M3 13h1M14 13h1M22 13h1M8 15h1M13 15h1M15 15h1M6 16h1M9 16h1M0 17h1M7 17h1M14 17h1M2 18h2M8 18h1M24 18h1M0 19h1M6 19h1M17 19h1M17 20h1M24 20h1M9 21h1M2 22h1M4 23h1M10 23h1M15 23h1M1 24h1M4 24h1M14 24h1M23 24h1M2 25h2M0 26h1M5 26h1M13 26h1M15 26h1M20 27h1M17 28h1M19 28h1M3 29h1M1 30h1M21 30h1M26 30h1M7 31h1M0 33h1M5 33h1M10 33h1M0 34h1M7 34h1M12 34h1M4 35h1M16 35h1M28 35h1M3 36h2M4 38h1M25 38h1M19 39h1M9 40h1M14 40h1M22 40h1M1 41h2M0 42h1M5 42h1M22 43h1M6 44h1M4 46h1M1 47h1M4 47h1M1 48h1M0 49h1M10 50h1M5 51h2M10 52h1M16 52h1M9 53h1M10 57h1M0 60h1"/>
<path stroke="#cbcbcb" d="M10 1h1M15 1h1M3 2h1M2 3h3M9 3h1M5 4h1M11 4h1M17 4h1M1 5h1M22 5h1M4 6h1M32 6h1M3 7h1M8 7h1M1 10h1M5 10h2M10 10h1M25 10h1M4 11h2M7 11h1M8 12h1M2 14h1M8 14h1M13 14h1M6 15h1M9 15h1M11 15h1M2 17h2M0 18h1M8 19h1M15 19h2M18 19h1M5 20h1M14 20h1M0 21h1M13 21h1M17 22h1M9 23h1M12 24h1M20 24h1M5 25h1M15 25h1M1 26h1M4 26h1M31 26h1M0 27h1M6 27h1M8 27h1M16 27h1M31 27h2M3 28h1M8 28h1M22 28h1M31 28h1M1 29h2M22 29h1M9 30h1M1 31h1M4 32h2M3 33h2M13 33h1M29 33h1M17 34h1M11 36h1M6 37h1M1 38h1M3 38h1M6 38h1M8 38h1M18 41h1M2 42h2M8 42h1M16 43h1M11 45h1M17 46h1M18 47h1M0 48h1M2 51h1M3 58h1"/>
<path stroke="#d1d1d1" d="M7 0h1M2 1h2M1 2h1M6 2h1M0 3h1M5 3h1M13 3h1M16 4h1M1 7h1M8 10h1M24 10h1M0 11h1M22 11h1M29 13h1M0 14h1M15 14h1M4 15h2M4 16h1M18 16h1M27 16h1M6 17h1M9 18h1M2 20h2M16 20h1M16 21h1M6 22h1M3 23h1M0 24h1M11 25h1M10 26h1M2 27h1M4 27h1M17 27h1M5 28h1M15 28h1M0 29h1M4 29h1M8 29h1M4 30h1M10 30h1M0 31h1M2 32h2M14 32h1M6 33h1M7 35h1M9 35h2M14 35h1M5 37h1M5 38h1M23 39h1M3 41h1M12 48h1M2 50h1M0 56h1"/>
<path stroke="#d8d8d8" d="M7 2h1M7 3h1M12 3h1M0 4h1M0 6h3M3 8h1M2 9h1M4 10h1M10 12h1M0 13h1M4 14h1M11 14h1M5 19h1M9 19h1M6 20h1M12 20h1M3 22h1M11 22h1M10 24h1M8 25h1M12 26h1M6 32h1M2 35h1M7 38h1M1 39h1M11 39h1M3 40h2M6 40h1M16 45h1M9 56h1"/>
<path stroke="#dedede" d="M2 5h1M9 5h1M5 9h2M4 12h1M10 16h1M4 20h1M7 20h1M1 22h1M18 22h1M1 23h1M2 24h1M5 24h1M11 28h1M6 29h1M11 29h1M16 29h1M31 29h1M0 30h1M6 30h1M3 31h1M8 32h1M19 33h1M6 34h1M0 37h1M4 37h1M6 39h1M11 40h1M8 41h1M14 41h1M7 42h1M3 50h1"/>
<path stroke="#e5e5e5" d="M4 8h1M2 11h2M0 12h1M6 14h1M1 15h1M2 16h1M9 17h2M10 21h1M16 23h1M11 27h1M2 31h1M1 32h1M3 35h1M2 38h1M5 44h1M14 48h1"/>
<path stroke="#ebebeb" d="M5 14h1M0 15h1M13 17h1M0 22h1M2 30h1"/>
<path stroke="#f2f2f2" d="M4 18h1M9 31h1"/>
</g></g>
<g id="inset-a"><rect x="464" y="30" width="444" height="444" fill="#f00"/>
<g shape-rendering="crispEdges">
<rect x="471" y="37" width="28" height="28" fill="#919191"/>
<rect x="499" y="37" width="31" height="28" fill="#9c9c9c"/>
<rect x="530" y="37" width="37" height="28" fill="#9e9e9e"/>
<rect x="567" y="37" width="31" height="28" fill="#929292"/>
<rect x="598" y="37" width="38" height="28" fill="#868686"/>
<rect x="636" y="37" width="31" height="28" fill="#939393"/>
<rect x="667" y="37" width="38" height="28" fill="#909090"/>
<rect x="705" y="37" width="31" height="28" fill="#7b7b7b"/>
<rect x="736" y="37" width="31" height="28" fill="#bababa"/>
<rect x="767" y="37" width="37" height="28" fill="#858585"/>
<rect x="804" y="37" width="32" height="28" fill="#828282"/>
<rect x="836" y="37" width="37" height="28" fill="#8f8f8f"/>
<rect x="873" y="37" width="28" height="28" fill="#545454"/>
<rect x="471" y="65" width="28" height="37" fill="#a7a7a7"/>
<rect x="499" y="65" width="31" height="37" fill="#a1a1a1"/>
<rect x="530" y="65" width="37" height="37" fill="#888"/>
<rect x="567" y="65" width="31" height="37" fill="#9b9b9b"/>
<rect x="598" y="65" width="38" height="37" fill="#bfbfbf"/>
<rect x="636" y="65" width="31" height="37" fill="#909090"/>
<rect x="667" y="65" width="38" height="37" fill="#7a7a7a"/>
<rect x="705" y="65" width="31" height="37" fill="#8a8a8a"/>
<rect x="736" y="65" width="31" height="37" fill="#8b8b8b"/>
<rect x="767" y="65" width="37" height="37" fill="#6c6c6c"/>
<rect x="804" y="65" width="32" height="37" fill="#696969"/>
<rect x="836" y="65" width="37" height="37" fill="#6d6d6d"/>
<rect x="873" y="65" width="28" height="37" fill="#6d6d6d"/>
<rect x="471" y="102" width="28" height="31" fill="#a7a7a7"/>
<rect x="499" y="102" width="31" height="31" fill="#b4b4b4"/>
<rect x="530" y="102" width="37" height="31" fill="#ababab"/>
<rect x="567" y="102" width="31" height="31" fill="#9f9f9f"/>
<rect x="598" y="102" width="38" height="31" fill="#9f9f9f"/>
<rect x="636" y="102" width="31" height="31" fill="#898989"/>
<rect x="667" y="102" width="38" height="31" fill="#b3b3b3"/>
<rect x="705" y="102" width="31" height="31" fill="#878787"/>
<rect x="736" y="102" width="31" height="31" fill="#858585"/>
<rect x="767" y="102" width="37" height="31" fill="#7c7c7c"/>
<rect x="804" y="102" width="32" height="31" fill="#828282"/>
<rect x="836" y="102" width="37" height="31" fill="#6d6d6d"/>
<rect x="873" y="102" width="28" height="31" fill="#676767"/>
<rect x="471" y="133" width="28" height="31" fill="#a0a0a0"/>
<rect x="499" y="133" width="31" height="31" fill="#717171"/>
<rect x="530" y="133" width="37" height="31" fill="#787878"/>
<rect x="567" y="133" width="31" height="31" fill="#bebebe"/>
<rect x="598" y="133" width="38" height="31" fill="#929292"/>
<rect x="636" y="133" width="31" height="31" fill="#a6a6a6"/>
<rect x="667" y="133" width="38" height="31" fill="#c9c9c9"/>
<rect x="705" y="133" width="31" height="31" fill="#616161"/>
<rect x="736" y="133" width="31" height="31" fill="#919191"/>
<rect x="767" y="133" width="37" height="31" fill="#7f7f7f"/>
<rect x="804" y="133" width="32" height="31" fill="#565656"/>
<rect x="836" y="133" width="37" height="31" fill="#636363"/>
<rect x="873" y="133" width="28" height="31" fill="#5a5a5a"/>
<rect x="471" y="164" width="28" height="38" fill="#949494"/>
<rect x="499" y="164" width="31" height="38" fill="#adadad"/>
<rect x="530" y="164" width="37" height="38" fill="#6f6f6f"/>
<rect x="567" y="164" width="31" height="38" fill="#a8a8a8"/>
<rect x="598" y="164" width="38" height="38" fill="#6d6d6d"/>
<rect x="636" y="164" width="31" height="38" fill="#a6a6a6"/>
<rect x="667" y="164" width="38" height="38" fill="#ccc"/>
<rect x="705" y="164" width="31" height="38" fill="#c9c9c9"/>
<rect x="736" y="164" width="31" height="38" fill="#919191"/>
<rect x="767" y="164" width="37" height="38" fill="#989898"/>
<rect x="804" y="164" width="32" height="38" fill="#929292"/>
<rect x="836" y="164" width="37" height="38" fill="#636363"/>
<rect x="873" y="164" width="28" height="38" fill="#999"/>
<rect x="471" y="202" width="28" height="31" fill="#a7a7a7"/>
<rect x="499" y="202" width="31" height="31" fill="#aaa"/>
<rect x="530" y="202" width="37" height="31" fill="#959595"/>
<rect x="567" y="202" width="31" height="31" fill="#a5a5a5"/>
<rect x="598" y="202" width="38" height="31" fill="#9f9f9f"/>
<rect x="636" y="202" width="31" height="31" fill="#a6a6a6"/>
<rect x="667" y="202" width="38" height="31" fill="#ccc"/>
<rect x="705" y="202" width="31" height="31" fill="#bdbdbd"/>
<rect x="736" y="202" width="31" height="31" fill="#a4a4a4"/>
<rect x="767" y="202" width="37" height="31" fill="#bebebe"/>
<rect x="804" y="202" width="32" height="31" fill="#989898"/>
<rect x="836" y="202" width="37" height="31" fill="#9c9c9c"/>
<rect x="873" y="202" width="28" height="31" fill="#676767"/>
<rect x="471" y="233" width="28" height="38" fill="#7e7e7e"/>
<rect x="499" y="233" width="31" height="38" fill="#6e6e6e"/>
<rect x="530" y="233" width="37" height="38" fill="#888"/>
<rect x="567" y="233" width="31" height="38" fill="#9b9b9b"/>
<rect x="598" y="233" width="38" height="38" fill="#898989"/>
<rect x="636" y="233" width="31" height="38" fill="#868686"/>
<rect x="667" y="233" width="38" height="38" fill="#dedede"/>
<rect x="705" y="233" width="31" height="38" fill="#b0b0b0"/>
<rect x="736" y="233" width="31" height="38" fill="#919191"/>
<rect x="767" y="233" width="37" height="38" fill="#929292"/>
<rect x="804" y="233" width="32" height="38" fill="#9c9c9c"/>
<rect x="836" y="233" width="37" height="38" fill="#575757"/>
<rect x="873" y="233" width="28" height="38" fill="#676767"/>
<rect x="471" y="271" width="28" height="31" fill="#aaa"/>
<rect x="499" y="271" width="31" height="31" fill="#c3c3c3"/>
<rect x="530" y="271" width="37" height="31" fill="#888"/>
<rect x="567" y="271" width="31" height="31" fill="#a2a2a2"/>
<rect x="598" y="271" width="38" height="31" fill="#9c9c9c"/>
<rect x="636" y="271" width="31" height="31" fill="#868686"/>
<rect x="667" y="271" width="38" height="31" fill="#b3b3b3"/>
<rect x="705" y="271" width="31" height="31" fill="#b0b0b0"/>
<rect x="736" y="271" width="31" height="31" fill="#919191"/>
<rect x="767" y="271" width="37" height="31" fill="#959595"/>
<rect x="804" y="271" width="32" height="31" fill="#7c7c7c"/>
<rect x="836" y="271" width="37" height="31" fill="#8f8f8f"/>
<rect x="873" y="271" width="28" height="31" fill="#707070"/>
<rect x="471" y="302" width="28" height="37" fill="#a3a3a3"/>
<rect x="499" y="302" width="31" height="37" fill="#aaa"/>
<rect x="530" y="302" width="37" height="37" fill="#a8a8a8"/>
<rect x="567" y="302" width="31" height="37" fill="#a2a2a2"/>
<rect x="598" y="302" width="38" height="37" fill="#b5b5b5"/>
<rect x="636" y="302" width="31" height="37" fill="#a0a0a0"/>
<rect x="667" y="302" width="38" height="37" fill="#979797"/>
<rect x="705" y="302" width="31" height="37" fill="#949494"/>
<rect x="736" y="302" width="31" height="37" fill="#a4a4a4"/>
<rect x="767" y="302" width="37" height="37" fill="#6f6f6f"/>
<rect x="804" y="302" width="32" height="37" fill="#868686"/>
<rect x="836" y="302" width="37" height="37" fill="#868686"/>
<rect x="873" y="302" width="28" height="37" fill="#838383"/>
<rect x="471" y="339" width="28" height="31" fill="#a0a0a0"/>
<rect x="499" y="339" width="31" height="31" fill="#9a9a9a"/>
<rect x="530" y="339" width="37" height="31" fill="#a1a1a1"/>
<rect x="567" y="339" width="31" height="31" fill="#989898"/>
<rect x="598" y="339" width="38" height="31" fill="#999"/>
<rect x="636" y="339" width="31" height="31" fill="#969696"/>
<rect x="667" y="339" width="38" height="31" fill="#979797"/>
<rect x="705" y="339" width="31" height="31" fill="#949494"/>
<rect x="736" y="339" width="31" height="31" fill="#727272"/>
<rect x="767" y="339" width="37" height="31" fill="#7c7c7c"/>
<rect x="804" y="339" width="32" height="31" fill="#666"/>
<rect x="836" y="339" width="37" height="31" fill="#9c9c9c"/>
<rect x="873" y="339" width="28" height="31" fill="#707070"/>
<rect x="471" y="370" width="28" height="31" fill="#aaa"/>
<rect x="499" y="370" width="31" height="31" fill="#a4a4a4"/>
<rect x="530" y="370" width="37" height="31" fill="#8e8e8e"/>
<rect x="567" y="370" width="31" height="31" fill="#727272"/>
<rect x="598" y="370" width="38" height="31" fill="#cbcbcb"/>
<rect x="636" y="370" width="31" height="31" fill="#999"/>
<rect x="667" y="370" width="38" height="31" fill="#8a8a8a"/>
<rect x="705" y="370" width="31" height="31" fill="#949494"/>
<rect x="736" y="370" width="31" height="31" fill="#7b7b7b"/>
<rect x="767" y="370" width="37" height="31" fill="#929292"/>
<rect x="804" y="370" width="32" height="31" fill="#7c7c7c"/>
<rect x="836" y="370" width="37" height="31" fill="#707070"/>
<rect x="873" y="370" width="28" height="31" fill="#6d6d6d"/>
<rect x="471" y="401" width="28" height="38" fill="#a7a7a7"/>
<rect x="499" y="401" width="31" height="38" fill="#818181"/>
<rect x="530" y="401" width="37" height="38" fill="#a4a4a4"/>
<rect x="567" y="401" width="31" height="38" fill="#aeaeae"/>
<rect x="598" y="401" width="38" height="38" fill="#808080"/>
<rect x="636" y="401" width="31" height="38" fill="#737373"/>
<rect x="667" y="401" width="38" height="38" fill="#808080"/>
<rect x="705" y="401" width="31" height="38" fill="#979797"/>
<rect x="736" y="401" width="31" height="38" fill="#727272"/>
<rect x="767" y="401" width="37" height="38" fill="#9e9e9e"/>
<rect x="804" y="401" width="32" height="38" fill="#666"/>
<rect x="836" y="401" width="37" height="38" fill="#737373"/>
<rect x="873" y="401" width="28" height="38" fill="#727272"/>
<rect x="471" y="439" width="28" height="28" fill="#a3a3a3"/>
<rect x="499" y="439" width="31" height="28" fill="#a4a4a4"/>
<rect x="530" y="439" width="37" height="28" fill="#6c6c6c"/>
<rect x="567" y="439" width="31" height="28" fill="#c1c1c1"/>
<rect x="598" y="439" width="38" height="28" fill="#969696"/>
<rect x="636" y="439" width="31" height="28" fill="#8d8d8d"/>
<rect x="667" y="439" width="38" height="28" fill="#808080"/>
<rect x="705" y="439" width="31" height="28" fill="#b7b7b7"/>
<rect x="736" y="439" width="31" height="28" fill="#5c5c5c"/>
<rect x="767" y="439" width="37" height="28" fill="#828282"/>
<rect x="804" y="439" width="32" height="28" fill="#9f9f9f"/>
<rect x="836" y="439" width="37" height="28" fill="#5e5e5e"/>
<rect x="873" y="439" width="28" height="28" fill="#5c5c5c"/>
</g></g>
<path fill="#f00" d="M289 485H431V625H289ZM296 492V617H424V492ZM464 30H908V474H464ZM471 37V467H901V37ZM426.7 484.8L463.7 467.1L467.4 474.2L431.2 491.2Z"/>
<text transform="matrix(0.8065 0 0 0.8628 0 0)"><tspan x="33.8" y="217.6">(</tspan><tspan x="68.3" y="216.7" font-weight="bold" font-size="98.8px">a</tspan><tspan x="119.1" y="217.6">)</tspan></text>
</g>
<g id="panel-b">
<path d="M1085.7 705.3L1698.7 652.6M1085.7 642.6L1698.7 589.9M1085.7 579.9L1698.7 527.2M1085.7 517.3L1698.7 464.6M1085.7 454.6L1698.7 401.9M1085.7 391.9L1698.7 339.2M1085.7 329.2L1698.7 276.5M1698.7 652.6L1867.5 842.5M1698.7 589.9L1867.5 779.8M1698.7 527.2L1867.5 717.1M1698.7 464.6L1867.5 654.5M1698.7 401.9L1867.5 591.8M1698.7 339.2L1867.5 529.1M1698.7 276.5L1867.5 466.4M1254.5 895.2L1085.7 705.3M1342.1 887.7L1173.3 697.8M1429.6 880.1L1260.8 690.2M1517.2 872.6L1348.4 682.7M1604.8 865.1L1436 675.2M1692.4 857.6L1523.6 667.7M1779.9 850L1611.1 660.1M1867.5 842.5L1698.7 652.6M1254.5 895.2L1867.5 842.5M1170.1 800.2L1783.1 747.5M1085.7 705.3L1698.7 652.6" fill="none" stroke="#dedede" stroke-width="1.4"/><path d="M1085.7 705.3L1085.7 329.2M1173.3 697.8L1173.3 321.7M1260.8 690.2L1260.8 314.1M1348.4 682.7L1348.4 306.6M1436 675.2L1436 299.1M1523.6 667.7L1523.6 291.6M1611.1 660.1L1611.1 284M1698.7 652.6L1698.7 276.5M1867.5 842.5L1867.5 466.4M1783.1 747.5L1783.1 371.4M1698.7 652.6L1698.7 276.5" fill="none" stroke="#cacaca" stroke-width="1.15"/>
<g fill="none" stroke-width="1.35" stroke-linejoin="round" stroke-linecap="round">
<path class="w" d="M1691 648l9-26-2-26-9 87z"/>
<path class="g" d="M1700 622l-2-26"/>
<path class="d" d="M1689 683l9-87"/>
<path class="w" d="M1656 614l9 61-2-51-9-49z"/>
<path class="d" d="M1665 675l-2-51"/>
<path class="j" d="M1654 575l9 49"/>
<path class="w" d="M1647 627l9-13-2-39-8 62z"/>
<path class="h" d="M1656 614l-2-39"/>
<path class="f" d="M1646 637l8-62"/>
<path class="w" d="M1621 605l9 23-2-26-9-12z"/>
<path class="g" d="M1630 628l-2-26"/>
<path class="i" d="M1619 590l9 12"/>
<path class="w" d="M1612 642l9-37-2-15-8 87z"/>
<path class="h" d="M1621 605l-2-15"/>
<path class="d" d="M1611 677l8-87"/>
<path class="w" d="M1568 597l9 36-1-27-9-23z"/>
<path class="g" d="M1577 633l-1-27"/>
<path class="j" d="M1567 583l9 23"/>
<path class="w" d="M1455 557l8 12-1 35-9-73z"/>
<path class="k" d="M1463 569l-1 35"/>
<path class="m" d="M1453 531l9 73"/>
<path class="w" d="M1446 558l9-1-2-26-9 74z"/>
<path class="l" d="M1455 557l-2-26"/>
<path class="i" d="M1444 605l9-74"/>
<path class="w" d="M1420 597l8-13-1-26-9-61z"/>
<path class="k" d="M1428 584l-1-26"/>
<path class="o" d="M1418 497l9 61"/>
<path class="w" d="M1411 524l9 73-2-100-9 75z"/>
<path class="j" d="M1420 597l-2-100"/>
<path class="k" d="M1409 572l9-75"/>
<path class="w" d="M1393 526l9 11-2-51-8 50z"/>
<path class="m" d="M1402 537l-2-51-8 50"/>
<path class="w" d="M1271 561l9-50-2-14-9 1z"/>
<path class="o" d="M1280 511l-2-14"/>
<path class="p" d="M1269 498l9-1"/>
<path class="w" d="M1236 527l8-25-1-27-9 1z"/>
<path class="p" d="M1244 502l-1-27"/>
<path class="r" d="M1234 476l9-1"/>
<path class="w" d="M1201 518l8 48-1-26-9-110z"/>
<path class="m" d="M1209 566l-1-26"/>
<path class="t" d="M1199 430l9 110"/>
<path class="w" d="M1192 519l9-1-2-88-9 62z"/>
<path class="o" d="M1201 518l-2-88"/>
<path class="q" d="M1190 492l9-62"/>
<path class="w" d="M1183 507l9 12-2-27-9 1z"/>
<path class="o" d="M1192 519l-2-27"/>
<path class="q" d="M1181 493l9-1"/>
<path class="w" d="M1174 496l9 11-2-14-8 50z"/>
<path class="p" d="M1183 507l-2-14"/>
<path class="n" d="M1173 543l8-50"/>
<path class="w" d="M1157 595l9-99-2 72-9-24z"/>
<path class="q" d="M1166 496l-2 72"/>
<path class="n" d="M1155 544l9 24"/>
<path class="k" d="M1157 595l-2-51"/>
<path class="w" d="M1596 658l9-75-1-1-9 49z"/>
<path class="j" d="M1605 583l-1-1"/>
<path class="g" d="M1595 631l9-49"/>
<path class="w" d="M1526 639l9 12-2-100-8 50z"/>
<path class="f" d="M1535 651l-2-100"/>
<path class="i" d="M1525 601l8-50"/>
<path class="w" d="M1369 518l9 24-2-39-9 50z"/>
<path class="m" d="M1378 542l-2-39-9 50"/>
<path class="w" d="M1351 532l9-1-2-14-8-12z"/>
<path class="n" d="M1360 531l-2-14"/>
<path class="o" d="M1350 505l8 12"/>
<path class="w" d="M1185 521l9-50-2 48-9-12z"/>
<path class="r" d="M1194 471l-2 48"/>
<path class="p" d="M1183 507l9 12"/>
<path class="w" d="M1176 571l9-50-2-14-9-11z"/>
<path class="o" d="M1185 521l-2-14"/>
<path class="q" d="M1174 496l9 11"/>
<path class="w" d="M1167 510l9 61-2-75-8 0z"/>
<path class="m" d="M1176 571l-2-75"/>
<path class="q" d="M1166 496l8 0"/>
<path class="w" d="M1159 560l8-50-1-14-9 99z"/>
<path class="p" d="M1167 510l-1-14"/>
<path class="k" d="M1157 595l9-99"/>
<path class="m" d="M1159 560l-2 35"/>
<path class="w" d="M1607 671l9-25-2-39-9-24z"/>
<path class="f" d="M1616 646l-2-39"/>
<path class="j" d="M1605 583l9 24"/>
<path class="w" d="M1598 598l9 73-2-88-9 75z"/>
<path class="e" d="M1607 671l-2-88"/>
<path class="f" d="M1596 658l9-75"/>
<path class="w" d="M1563 601l9 0-2 22-9-60z"/>
<path class="i" d="M1572 601l-2 22"/>
<path class="k" d="M1561 563l9 60"/>
<path class="w" d="M1554 565l9 36-2-38-8-12z"/>
<path class="i" d="M1563 601l-2-38"/>
<path class="l" d="M1553 551l8 12"/>
<path class="w" d="M1546 640l8-75-1-14-9 38z"/>
<path class="k" d="M1554 565l-1-14"/>
<path class="j" d="M1544 589l9-38"/>
<path class="w" d="M1476 609l8-50-1 60-9-98z"/>
<path class="l" d="M1484 559l-1 60"/>
<path class="n" d="M1474 521l9 98"/>
<path class="w" d="M1467 597l9 12-2-88-9 50z"/>
<path class="i" d="M1476 609l-2-88"/>
<path class="k" d="M1465 571l9-50"/>
<path class="w" d="M1449 587l9-26-2-14-8 38z"/>
<path class="l" d="M1458 561l-2-14"/>
<path class="k" d="M1448 585l8-38"/>
<path class="w" d="M1441 587l8 0-1-2-9-49z"/>
<path class="k" d="M1449 587l-1-2"/>
<path class="m" d="M1439 536l9 49"/>
<path class="w" d="M1432 637l9-50-2-51-9-36z"/>
<path class="k" d="M1441 587l-2-51"/>
<path class="o" d="M1430 500l9 36"/>
<path class="w" d="M1423 564l9 73-2-137-9 38z"/>
<path class="h" d="M1432 637l-2-137"/>
<path class="m" d="M1421 538l9-38"/>
<path class="w" d="M1187 523l8 36-1-88-9 50z"/>
<path class="m" d="M1195 559l-1-88"/>
<path class="o" d="M1185 521l9-50"/>
<path class="w" d="M1160 513l9-1-2-2-8 50z"/>
<path class="p" d="M1169 512l-2-2"/>
<path class="m" d="M1159 560l8-50"/>
<path class="p" d="M1160 513l-1 47"/>
<path class="w" d="M1696 653l9-49-2 35-9-24z"/>
<path class="h" d="M1705 604l-2 35-9-24"/>
<path class="w" d="M1687 679l9-26-2-38-8-24z"/>
<path class="f" d="M1696 653l-2-38"/>
<path class="i" d="M1686 591l8 24"/>
<path class="w" d="M1679 692l8-13-1-88-9-12z"/>
<path class="d" d="M1687 679l-1-88"/>
<path class="j" d="M1677 579l9 12"/>
<path class="w" d="M1670 631l9 61-2-113-9 75z"/>
<path class="d" d="M1679 692l-2-113"/>
<path class="f" d="M1668 654l9-75"/>
<path class="w" d="M1635 646l9 0-2-64-9 1z"/>
<path class="f" d="M1644 646l-2-64"/>
<path class="j" d="M1633 583l9-1"/>
<path class="w" d="M1626 635l9 11-2-63-9 75z"/>
<path class="f" d="M1635 646l-2-63-9 75"/>
<path class="w" d="M1591 613l9 61-2-76-9 50z"/>
<path class="e" d="M1600 674l-2-76"/>
<path class="f" d="M1589 648l9-50"/>
<path class="w" d="M1530 594l9 36-2-76-9 14z"/>
<path class="h" d="M1539 630l-2-76"/>
<path class="k" d="M1528 568l9-14"/>
<path class="w" d="M1521 582l9 12-2-26-9 25z"/>
<path class="j" d="M1530 594l-2-26-9 25"/>
<path class="w" d="M1477 586l9 36-2-63-8 50z"/>
<path class="h" d="M1486 622l-2-63"/>
<path class="i" d="M1476 609l8-50"/>
<path class="w" d="M1398 605l9-74-2 35-8-85z"/>
<path class="n" d="M1407 531l-2 35"/>
<path class="q" d="M1397 481l8 85"/>
<path class="w" d="M1390 508l8 97-1-124-9 49z"/>
<path class="j" d="M1398 605l-1-124"/>
<path class="n" d="M1388 530l9-49"/>
<path class="w" d="M1302 540l9-25-2 10-9-36z"/>
<path class="o" d="M1311 515l-2 10"/>
<path class="q" d="M1300 489l9 36"/>
<path class="w" d="M1293 541l9-1-2-51-8 37z"/>
<path class="n" d="M1302 540l-2-51"/>
<path class="o" d="M1292 526l8-37"/>
<path class="w" d="M1267 531l9-26-2 35-9-60z"/>
<path class="p" d="M1276 505l-2 35"/>
<path class="r" d="M1265 480l9 60"/>
<path class="w" d="M1258 507l9 24-2-51-8 37z"/>
<path class="o" d="M1267 531l-2-51-8 37"/>
<path class="w" d="M1171 588l8-62-1 22-9-36z"/>
<path class="o" d="M1179 526l-1 22"/>
<path class="p" d="M1169 512l9 36"/>
<path class="w" d="M1162 589l9-1-2-76-9 1z"/>
<path class="l" d="M1171 588l-2-76"/>
<path class="p" d="M1160 513l9-1"/>
<path class="l" d="M1162 589l-2-76"/>
<path class="w" d="M1707 642l8 12-1-27-9-23z"/>
<path class="f" d="M1715 654l-1-27"/>
<path class="h" d="M1705 604l9 23"/>
<path class="w" d="M1698 655l9-13-2-38-9 49z"/>
<path class="f" d="M1707 642l-2-38-9 49"/>
<path class="w" d="M1566 642l9-38-1-1-9-24z"/>
<path class="i" d="M1575 604l-1-1"/>
<path class="k" d="M1565 579l9 24"/>
<path class="w" d="M1558 581l8 61-1-63-9 25z"/>
<path class="g" d="M1566 642l-1-63"/>
<path class="i" d="M1556 604l9-25"/>
<path class="w" d="M1391 559l9-1-2 47-8-97z"/>
<path class="m" d="M1400 558l-2 47"/>
<path class="o" d="M1390 508l8 97"/>
<path class="w" d="M1383 560l8-1-1-51-9-12z"/>
<path class="m" d="M1391 559l-1-51"/>
<path class="p" d="M1381 496l9 12"/>
<path class="w" d="M1374 523l9 37-2-64-9 26z"/>
<path class="m" d="M1383 560l-2-64"/>
<path class="o" d="M1372 522l9-26"/>
<path class="w" d="M1365 536l9-13-2-1-9 0z"/>
<path class="o" d="M1374 523l-2-1-9 0"/>
<path class="w" d="M1330 503l9 11-2-14-9 13z"/>
<path class="o" d="M1339 514l-2-14-9 13"/>
<path class="w" d="M1286 494l9 36-2 11-8-86z"/>
<path class="o" d="M1295 530l-2 11"/>
<path class="s" d="M1285 455l8 86"/>
<path class="w" d="M1278 519l8-25-1-39-9 50z"/>
<path class="q" d="M1286 494l-1-39"/>
<path class="p" d="M1276 505l9-50"/>
<path class="w" d="M1199 489l8 73-1-63-9-61z"/>
<path class="m" d="M1207 562l-1-63"/>
<path class="t" d="M1197 438l9 61"/>
<path class="w" d="M1190 515l9-26-2-51-9 99z"/>
<path class="r" d="M1199 489l-2-51"/>
<path class="o" d="M1188 537l9-99"/>
<path class="w" d="M1181 552l9-37-2 22-9-11z"/>
<path class="p" d="M1190 515l-2 22"/>
<path class="o" d="M1179 526l9 11"/>
<path class="w" d="M1164 542l8 48-1-2-9 1z"/>
<path class="l" d="M1172 590l-1-2-9 1"/>
<path class="o" d="M1164 542l-2 47"/>
<path class="w" d="M1463 579l9-25-2-14-9 25z"/>
<path class="m" d="M1472 554l-2-14"/>
<path class="l" d="M1461 565l9-25"/>
<path class="w" d="M1402 548l9-38-2-2-9 50z"/>
<path class="o" d="M1411 510l-2-2"/>
<path class="m" d="M1400 558l9-50"/>
<path class="w" d="M1376 550l8 48-1-38-9-37z"/>
<path class="k" d="M1384 598l-1-38"/>
<path class="o" d="M1374 523l9 37"/>
<path class="w" d="M1367 526l9 24-2-27-9 13z"/>
<path class="m" d="M1376 550l-2-27"/>
<path class="n" d="M1365 536l9-13"/>
<path class="w" d="M1358 576l9-50-2 10-9-36z"/>
<path class="o" d="M1367 526l-2 10"/>
<path class="p" d="M1356 500l9 36"/>
<path class="w" d="M1349 589l9-13-2-76-8 99z"/>
<path class="l" d="M1358 576l-2-76"/>
<path class="k" d="M1348 599l8-99"/>
<path class="w" d="M1323 518l9-26-2 11-9 0z"/>
<path class="q" d="M1332 492l-2 11"/>
<path class="p" d="M1321 503l9 0"/>
<path class="w" d="M1314 518l9 0-2-15-8-11z"/>
<path class="o" d="M1323 518l-2-15"/>
<path class="q" d="M1313 492l8 11"/>
<path class="w" d="M1305 494l9 24-1-26-9 123z"/>
<path class="o" d="M1314 518l-1-26"/>
<path class="j" d="M1304 615l9-123"/>
<path class="w" d="M1288 557l9-62-2 35-9-36z"/>
<path class="q" d="M1297 495l-2 35-9-36"/>
<path class="w" d="M1192 504l8 0-1-15-9 26z"/>
<path class="q" d="M1200 504l-1-15"/>
<path class="p" d="M1190 515l9-26"/>
<path class="w" d="M1183 616l9-112-2 11-9 37z"/>
<path class="q" d="M1192 504l-2 11"/>
<path class="n" d="M1181 552l9-37"/>
<path class="w" d="M1165 580l9 12-2-2-8-48z"/>
<path class="l" d="M1174 592l-2-2"/>
<path class="o" d="M1164 542l8 48"/>
<path class="m" d="M1165 580l-1-38"/>
<path class="w" d="M1701 696l9-38-2-1-8-61z"/>
<path class="f" d="M1710 658l-2-1"/>
<path class="i" d="M1700 596l8 61"/>
<path class="w" d="M1692 635l9 61-1-100-9 74z"/>
<path class="d" d="M1701 696l-1-100"/>
<path class="e" d="M1691 670l9-74"/>
<path class="w" d="M1684 648l8-13-1 35-9-60z"/>
<path class="g" d="M1692 635l-1 35"/>
<path class="h" d="M1682 610l9 60"/>
<path class="w" d="M1675 649l9-1-2-38-9 25z"/>
<path class="f" d="M1684 648l-2-38"/>
<path class="g" d="M1673 635l9-25"/>
<path class="w" d="M1570 634l9-75-2 97-9-73z"/>
<path class="l" d="M1579 559l-2 97"/>
<path class="k" d="M1568 583l9 73"/>
<path class="w" d="M1561 647l9-13-2-51-9 49z"/>
<path class="h" d="M1570 634l-2-51-9 49"/>
<path class="w" d="M1544 624l8-50-1 35-9-49z"/>
<path class="k" d="M1552 574l-1 35"/>
<path class="l" d="M1542 560l9 49"/>
<path class="w" d="M1482 592l9-62-2 84-8-73z"/>
<path class="n" d="M1491 530l-2 84"/>
<path class="m" d="M1481 541l8 73"/>
<path class="w" d="M1474 580l8 12-1-51-9 13z"/>
<path class="k" d="M1482 592l-1-51"/>
<path class="m" d="M1472 554l9-13"/>
<path class="w" d="M1412 549l9-50-2 23-8-12z"/>
<path class="p" d="M1421 499l-2 23"/>
<path class="o" d="M1411 510l8 12"/>
<path class="w" d="M1403 500l9 49-1-39-9 38z"/>
<path class="m" d="M1412 549l-1-39-9 38"/>
<path class="w" d="M1395 563l8-63-1 48-9-36z"/>
<path class="p" d="M1403 500l-1 48"/>
<path class="o" d="M1393 512l9 36"/>
<path class="w" d="M1386 563l9 0-2-51-9 86z"/>
<path class="m" d="M1395 563l-2-51"/>
<path class="k" d="M1384 598l9-86"/>
<path class="w" d="M1333 519l9-13-2 47-8-61z"/>
<path class="p" d="M1342 506l-2 47"/>
<path class="q" d="M1332 492l8 61"/>
<path class="w" d="M1325 519l8 0-1-27-9 26z"/>
<path class="o" d="M1333 519l-1-27-9 26"/>
<path class="w" d="M1298 559l9-50-2-15-8 1z"/>
<path class="p" d="M1307 509l-2-15"/>
<path class="q" d="M1297 495l8-1"/>
<path class="w" d="M1228 552l9-62-2 23-8-36z"/>
<path class="r" d="M1237 490l-2 23-8-36"/>
<path class="w" d="M1220 516l8 36-1-75-9 25z"/>
<path class="n" d="M1228 552l-1-75"/>
<path class="q" d="M1218 502l9-25"/>
<path class="w" d="M1211 492l9 24-2-14-9-48z"/>
<path class="p" d="M1220 516l-2-14"/>
<path class="t" d="M1209 454l9 48"/>
<path class="w" d="M1202 542l9-50-2-38-9 50z"/>
<path class="r" d="M1211 492l-2-38"/>
<path class="q" d="M1200 504l9-50"/>
<path class="w" d="M1185 618l8-87-1-27-9 112z"/>
<path class="o" d="M1193 531l-1-27"/>
<path class="k" d="M1183 616l9-112"/>
<path class="w" d="M1176 520l9 98-2-2-9-24z"/>
<path class="k" d="M1185 618l-2-2"/>
<path class="l" d="M1174 592l9 24"/>
<path class="w" d="M1167 607l9-87-2 72-9-12z"/>
<path class="p" d="M1176 520l-2 72"/>
<path class="m" d="M1165 580l9 12"/>
<path class="k" d="M1167 607l-2-27"/>
<path class="w" d="M1607 669l8-25-1-2-9-48z"/>
<path class="g" d="M1615 644l-1-2"/>
<path class="j" d="M1605 594l9 48"/>
<path class="w" d="M1598 682l9-13-2-75-9 37z"/>
<path class="f" d="M1607 669l-2-75"/>
<path class="h" d="M1596 631l9-37"/>
<path class="w" d="M1580 635l9-1-2 72-8-147z"/>
<path class="h" d="M1589 634l-2 72"/>
<path class="l" d="M1579 559l8 147"/>
<path class="w" d="M1572 635l8 0-1-76-9 75z"/>
<path class="h" d="M1580 635l-1-76-9 75"/>
<path class="w" d="M1493 581l9-26-2 11-9-36z"/>
<path class="m" d="M1502 555l-2 11"/>
<path class="n" d="M1491 530l9 36"/>
<path class="w" d="M1484 594l9-13-2-51-9 62z"/>
<path class="k" d="M1493 581l-2-51-9 62"/>
<path class="w" d="M1414 551l9-1-2-51-9 50z"/>
<path class="m" d="M1423 550l-2-51-9 50"/>
<path class="w" d="M1405 551l9 0-2-2-9-49z"/>
<path class="m" d="M1414 551l-2-2"/>
<path class="p" d="M1403 500l9 49"/>
<path class="w" d="M1396 577l9-26-2-51-8 63z"/>
<path class="m" d="M1405 551l-2-51-8 63"/>
<path class="w" d="M1335 508l9 36-2-38-9 13z"/>
<path class="n" d="M1344 544l-2-38"/>
<path class="o" d="M1333 519l9-13"/>
<path class="w" d="M1326 558l9-50-2 11-8 0z"/>
<path class="p" d="M1335 508l-2 11"/>
<path class="o" d="M1325 519l8 0"/>
<path class="w" d="M1265 576l9-62-2 22-9-60z"/>
<path class="p" d="M1274 514l-2 22"/>
<path class="r" d="M1263 476l9 60"/>
<path class="w" d="M1256 552l9 24-2-100-8-12z"/>
<path class="m" d="M1265 576l-2-100"/>
<path class="s" d="M1255 464l8 12"/>
<path class="w" d="M1248 516l8 36-1-88-9 75z"/>
<path class="n" d="M1256 552l-1-88"/>
<path class="o" d="M1246 539l9-75"/>
<path class="w" d="M1204 556l9-13-2-51-9 50z"/>
<path class="o" d="M1213 543l-2-51-9 50"/>
<path class="w" d="M1177 510l9 73-1 35-9-98z"/>
<path class="m" d="M1186 583l-1 35"/>
<path class="p" d="M1176 520l9 98"/>
<path class="w" d="M1169 633l8-123-1 10-9 87z"/>
<path class="q" d="M1177 510l-1 10"/>
<path class="k" d="M1167 607l9-87"/>
<path class="j" d="M1169 633l-2-26"/>
<path class="w" d="M1643 631l9 12-2-2-8-85z"/>
<path class="g" d="M1652 643l-2-2"/>
<path class="l" d="M1642 556l8 85"/>
<path class="w" d="M1635 608l8 23-1-75-9 62z"/>
<path class="h" d="M1643 631l-1-75-9 62"/>
<path class="w" d="M1626 657l9-49-2 10-9 1z"/>
<path class="i" d="M1635 608l-2 10"/>
<path class="h" d="M1624 619l9-1"/>
<path class="w" d="M1494 558l9 49-1-52-9 26z"/>
<path class="j" d="M1503 607l-1-52"/>
<path class="k" d="M1493 581l9-26"/>
<path class="w" d="M1451 562l8 48-1-63-9 13z"/>
<path class="j" d="M1459 610l-1-63"/>
<path class="m" d="M1449 560l9-13"/>
<path class="w" d="M1381 580l8 12-1 10-9-73z"/>
<path class="k" d="M1389 592l-1 10"/>
<path class="o" d="M1379 529l9 73"/>
<path class="w" d="M1372 569l9 11-2-51-9 25z"/>
<path class="l" d="M1381 580l-2-51"/>
<path class="m" d="M1370 554l9-25"/>
<path class="w" d="M1337 645l9-99-2-2-9-36z"/>
<path class="n" d="M1346 546l-2-2"/>
<path class="p" d="M1335 508l9 36"/>
<path class="w" d="M1328 536l9 109-2-137-9 50z"/>
<path class="h" d="M1337 645l-2-137"/>
<path class="m" d="M1326 558l9-50"/>
<path class="w" d="M1284 588l9-13-2-63-8-24z"/>
<path class="m" d="M1293 575l-2-63"/>
<path class="r" d="M1283 488l8 24"/>
<path class="w" d="M1179 585l9-50-2 48-9-73z"/>
<path class="o" d="M1188 535l-2 48"/>
<path class="q" d="M1177 510l9 73"/>
<path class="w" d="M1170 561l9 24-2-75-8 123z"/>
<path class="m" d="M1179 585l-2-75"/>
<path class="j" d="M1169 633l8-123"/>
<path class="n" d="M1170 561l-1 72"/>
<path class="w" d="M1706 689l9-13-2-38-8-24z"/>
<path class="e" d="M1715 676l-2-38"/>
<path class="h" d="M1705 614l8 24"/>
<path class="w" d="M1698 690l8-1-1-75-9 99z"/>
<path class="d" d="M1706 689l-1-75"/>
<path class="c" d="M1696 713l9-99"/>
<path class="w" d="M1627 647l9-13-1-26-9 49z"/>
<path class="h" d="M1636 634l-1-26"/>
<path class="f" d="M1626 657l9-49"/>
<path class="w" d="M1592 613l9-13-1 35-9-61z"/>
<path class="j" d="M1601 600l-1 35"/>
<path class="k" d="M1591 574l9 61"/>
<path class="w" d="M1540 618l9-75-2 47-9-48z"/>
<path class="m" d="M1549 543l-2 47-9-48"/>
<path class="w" d="M1531 618l9 0-2-76-9 38z"/>
<path class="i" d="M1540 618l-2-76"/>
<path class="k" d="M1529 580l9-38"/>
<path class="w" d="M1496 621l9 0-2-14-9-49z"/>
<path class="i" d="M1505 621l-2-14"/>
<path class="m" d="M1494 558l9 49"/>
<path class="w" d="M1487 647l9-26-2-63-8 87z"/>
<path class="i" d="M1496 621l-2-63"/>
<path class="h" d="M1486 645l8-87"/>
<path class="w" d="M1312 539l9-25-2-15-8 26z"/>
<path class="p" d="M1321 514l-2-15"/>
<path class="o" d="M1311 525l8-26"/>
<path class="w" d="M1216 498l9 36-2-14-9-48z"/>
<path class="o" d="M1225 534l-2-14"/>
<path class="s" d="M1214 472l9 48"/>
<path class="w" d="M1207 548l9-50-2-26-9 62z"/>
<path class="r" d="M1216 498l-2-26"/>
<path class="o" d="M1205 534l9-62"/>
<path class="w" d="M1198 536l9 12-2-14-8-49z"/>
<path class="o" d="M1207 548l-2-14"/>
<path class="r" d="M1197 485l8 49"/>
<path class="w" d="M1190 562l8-26-1-51-9 50z"/>
<path class="o" d="M1198 536l-1-51-9 50"/>
<path class="w" d="M1172 551l9-13-2 47-9-24z"/>
<path class="o" d="M1181 538l-2 47"/>
<path class="n" d="M1170 561l9 24"/>
<path class="o" d="M1172 551l-2 10"/>
<path class="w" d="M1603 651l9-1-2-1-9-49z"/>
<path class="g" d="M1612 650l-2-1"/>
<path class="j" d="M1601 600l9 49"/>
<path class="w" d="M1594 640l9 11-2-51-9 13z"/>
<path class="g" d="M1603 651l-2-51"/>
<path class="i" d="M1592 613l9-13"/>
<path class="w" d="M1550 643l9-49-2 10-8-61z"/>
<path class="k" d="M1559 594l-2 10"/>
<path class="m" d="M1549 543l8 61"/>
<path class="w" d="M1542 607l8 36-1-100-9 75z"/>
<path class="h" d="M1550 643l-1-100"/>
<path class="i" d="M1540 618l9-75"/>
<path class="w" d="M1463 577l9 24-2-63-9 62z"/>
<path class="k" d="M1472 601l-2-63-9 62"/>
<path class="w" d="M1437 629l8-99-1 35-9-37z"/>
<path class="o" d="M1445 530l-1 35-9-37"/>
<path class="w" d="M1428 654l9-25-2-101-9 87z"/>
<path class="i" d="M1437 629l-2-101"/>
<path class="j" d="M1426 615l9-87"/>
<path class="w" d="M1288 531l8-38-1 72-9-73z"/>
<path class="r" d="M1296 493l-1 72-9-73"/>
<path class="w" d="M1279 519l9 12-2-39-9 1z"/>
<path class="o" d="M1288 531l-2-39"/>
<path class="r" d="M1277 493l9-1"/>
<path class="w" d="M1270 483l9 36-2-26-9 62z"/>
<path class="p" d="M1279 519l-2-26"/>
<path class="n" d="M1268 555l9-62"/>
<path class="w" d="M1261 508l9-25-2 72-8-85z"/>
<path class="r" d="M1270 483l-2 72"/>
<path class="s" d="M1260 470l8 85"/>
<path class="w" d="M1253 558l8-50-1-38-9 62z"/>
<path class="q" d="M1261 508l-1-38"/>
<path class="o" d="M1251 532l9-62"/>
<path class="w" d="M1218 512l8 49-1-27-9-36z"/>
<path class="n" d="M1226 561l-1-27"/>
<path class="r" d="M1216 498l9 36"/>
<path class="w" d="M1209 513l9-1-2-14-9 50z"/>
<path class="q" d="M1218 512l-2-14"/>
<path class="o" d="M1207 548l9-50"/>
<path class="w" d="M1174 577l9 12-2-51-9 13z"/>
<path class="m" d="M1183 589l-2-51"/>
<path class="o" d="M1172 551l9-13"/>
<path class="m" d="M1174 577l-2-26"/>
<path class="w" d="M1447 556l9 12-2 10-9-48z"/>
<path class="m" d="M1456 568l-2 10"/>
<path class="o" d="M1445 530l9 48"/>
<path class="w" d="M1438 545l9 11-2-26-8 99z"/>
<path class="m" d="M1447 556l-2-26"/>
<path class="i" d="M1437 629l8-99"/>
<path class="w" d="M1324 591l9-62-2-14-8 37z"/>
<path class="o" d="M1333 529l-2-14"/>
<path class="n" d="M1323 552l8-37"/>
<path class="w" d="M1298 593l9-37-2-27-9-36z"/>
<path class="n" d="M1307 556l-2-27"/>
<path class="r" d="M1296 493l9 36"/>
<path class="w" d="M1289 594l9-1-2-100-8 38z"/>
<path class="l" d="M1298 593l-2-100"/>
<path class="o" d="M1288 531l8-38"/>
<path class="w" d="M1272 534l9 24-2-39-9-36z"/>
<path class="n" d="M1281 558l-2-39"/>
<path class="r" d="M1270 483l9 36"/>
<path class="w" d="M1263 535l9-1-2-51-9 25z"/>
<path class="o" d="M1272 534l-2-51"/>
<path class="q" d="M1261 508l9-25"/>
<path class="w" d="M1211 527l8 12-1-27-9 1z"/>
<path class="o" d="M1219 539l-1-27"/>
<path class="q" d="M1209 513l9-1"/>
<path class="w" d="M1175 567l9-38-1 60-9-12z"/>
<path class="p" d="M1184 529l-1 60"/>
<path class="m" d="M1174 577l9 12"/>
<path class="n" d="M1175 567l-1 10"/>
<path class="w" d="M1720 694l9-99-2 60-9-61z"/>
<path class="j" d="M1729 595l-2 60-9-61"/>
<path class="w" d="M1711 634l9 60-2-100-8 50z"/>
<path class="d" d="M1720 694l-2-100"/>
<path class="g" d="M1710 644l8-50"/>
<path class="w" d="M1598 656l8-1-1-51-9 38z"/>
<path class="g" d="M1606 655l-1-51"/>
<path class="h" d="M1596 642l9-38"/>
<path class="w" d="M1475 580l9-13-2 23-9-49z"/>
<path class="m" d="M1484 567l-2 23"/>
<path class="n" d="M1473 541l9 49"/>
<path class="w" d="M1466 606l9-26-2-39-9 14z"/>
<path class="l" d="M1475 580l-2-39"/>
<path class="m" d="M1464 555l9-14"/>
<path class="w" d="M1457 631l9-25-2-51-8 13z"/>
<path class="k" d="M1466 606l-2-51"/>
<path class="m" d="M1456 568l8-13"/>
<path class="w" d="M1449 583l8 48-1-63-9-12z"/>
<path class="i" d="M1457 631l-1-63"/>
<path class="m" d="M1447 556l9 12"/>
<path class="w" d="M1440 559l9 24-2-27-9-11z"/>
<path class="l" d="M1449 583l-2-27"/>
<path class="n" d="M1438 545l9 11"/>
<path class="w" d="M1431 584l9-25-2-14-9-24z"/>
<path class="m" d="M1440 559l-2-14"/>
<path class="o" d="M1429 521l9 24"/>
<path class="w" d="M1405 586l9 24-2-63-9-36z"/>
<path class="k" d="M1414 610l-2-63"/>
<path class="p" d="M1403 511l9 36"/>
<path class="w" d="M1256 525l9 24-2-14-9-36z"/>
<path class="o" d="M1265 549l-2-14"/>
<path class="r" d="M1254 499l9 36"/>
<path class="w" d="M1247 575l9-50-2-26-8-24z"/>
<path class="p" d="M1256 525l-2-26"/>
<path class="s" d="M1246 475l8 24"/>
<path class="w" d="M1238 564l9 11-1-100-9 87z"/>
<path class="m" d="M1247 575l-1-100"/>
<path class="n" d="M1237 562l9-87"/>
<path class="w" d="M1203 530l9-1-1-2-9-24z"/>
<path class="p" d="M1212 529l-1-2"/>
<path class="r" d="M1202 503l9 24"/>
<path class="w" d="M1195 518l8 12-1-27-9 75z"/>
<path class="p" d="M1203 530l-1-27"/>
<path class="m" d="M1193 578l9-75"/>
<path class="w" d="M1177 594l9-38-2-27-9 38z"/>
<path class="o" d="M1186 556l-2-27"/>
<path class="n" d="M1175 567l9-38"/>
<path class="m" d="M1177 594l-2-27"/>
<path class="w" d="M1722 647l9-13-2-39-9 99z"/>
<path class="h" d="M1731 634l-2-39"/>
<path class="d" d="M1720 694l9-99"/>
<path class="w" d="M1696 674l8-1-1-14-9-24z"/>
<path class="f" d="M1704 673l-1-14"/>
<path class="h" d="M1694 635l9 24"/>
<path class="w" d="M1678 725l9 11-2-100-9-36z"/>
<path class="b" d="M1687 736l-2-100"/>
<path class="j" d="M1676 600l9 36"/>
<path class="w" d="M1669 664l9 61-2-125-8 37z"/>
<path class="c" d="M1678 725l-2-125"/>
<path class="h" d="M1668 637l8-37"/>
<path class="w" d="M1590 658l9-25-1 23-9-98z"/>
<path class="h" d="M1599 633l-1 23"/>
<path class="m" d="M1589 558l9 98"/>
<path class="w" d="M1582 622l8 36-1-100-9 50z"/>
<path class="g" d="M1590 658l-1-100"/>
<path class="j" d="M1580 608l9-50"/>
<path class="w" d="M1442 647l8-63-1-1-9-24z"/>
<path class="l" d="M1450 584l-1-1"/>
<path class="m" d="M1440 559l9 24"/>
<path class="w" d="M1433 586l9 61-2-88-9 25z"/>
<path class="h" d="M1442 647l-2-88"/>
<path class="l" d="M1431 584l9-25"/>
<path class="w" d="M1424 550l9 36-2-2-9-85z"/>
<path class="l" d="M1433 586l-2-2"/>
<path class="q" d="M1422 499l9 85"/>
<path class="w" d="M1415 600l9-50-2-51-8 111z"/>
<path class="n" d="M1424 550l-2-51"/>
<path class="k" d="M1414 610l8-111"/>
<path class="w" d="M1345 532l9 12-2 10-8-61z"/>
<path class="o" d="M1354 544l-2 10"/>
<path class="r" d="M1344 493l8 61"/>
<path class="w" d="M1336 545l9-13-1-39-9 112z"/>
<path class="o" d="M1345 532l-1-39"/>
<path class="k" d="M1335 605l9-112"/>
<path class="w" d="M1310 535l9-1-2-2-8-48z"/>
<path class="o" d="M1319 534l-2-2"/>
<path class="r" d="M1309 484l8 48"/>
<path class="w" d="M1301 560l9-25-1-51-9 25z"/>
<path class="o" d="M1310 535l-1-51"/>
<path class="q" d="M1300 509l9-25"/>
<path class="w" d="M1196 533l9-14-2 11-8-12z"/>
<path class="q" d="M1205 519l-2 11-8-12"/>
<path class="w" d="M1188 509l8 24-1-15-9 38z"/>
<path class="p" d="M1196 533l-1-15"/>
<path class="o" d="M1186 556l9-38"/>
<path class="w" d="M1179 546l9-37-2 47-9 38z"/>
<path class="r" d="M1188 509l-2 47"/>
<path class="m" d="M1177 594l9-38"/>
<path class="o" d="M1179 546l-2 48"/>
<path class="w" d="M1723 649l9 36-1-51-9 13z"/>
<path class="e" d="M1732 685l-1-51"/>
<path class="g" d="M1722 647l9-13"/>
<path class="w" d="M1715 662l8-13-1-2-9-24z"/>
<path class="g" d="M1723 649l-1-2"/>
<path class="h" d="M1713 623l9 24"/>
<path class="w" d="M1706 651l9 11-2-39-9 50z"/>
<path class="f" d="M1715 662l-2-39-9 50"/>
<path class="w" d="M1399 542l9-38-1 96-9-109z"/>
<path class="q" d="M1408 504l-1 96"/>
<path class="r" d="M1398 491l9 109"/>
<path class="w" d="M1391 555l8-13-1-51-9 111z"/>
<path class="o" d="M1399 542l-1-51"/>
<path class="k" d="M1389 602l9-111"/>
<path class="w" d="M1224 557l9 24-2-52-8-23z"/>
<path class="m" d="M1233 581l-2-52"/>
<path class="r" d="M1223 506l8 23"/>
<path class="w" d="M1216 557l8 0-1-51-9 13z"/>
<path class="o" d="M1224 557l-1-51"/>
<path class="q" d="M1214 519l9-13"/>
<path class="w" d="M1207 497l9 60-2-38-9 0z"/>
<path class="o" d="M1216 557l-2-38"/>
<path class="q" d="M1205 519l9 0"/>
<path class="w" d="M1198 547l9-50-2 22-9 14z"/>
<path class="r" d="M1207 497l-2 22"/>
<path class="p" d="M1196 533l9-14"/>
<path class="w" d="M1189 523l9 24-2-14-8-24z"/>
<path class="o" d="M1198 547l-2-14"/>
<path class="r" d="M1188 509l8 24"/>
<path class="w" d="M1181 548l8-25-1-14-9 37z"/>
<path class="q" d="M1189 523l-1-14"/>
<path class="o" d="M1179 546l9-37"/>
<path class="o" d="M1181 548l-2-2"/>
<path class="w" d="M1673 692l8-13-1-51-9 1z"/>
<path class="f" d="M1681 679l-1-51"/>
<path class="h" d="M1671 629l9-1"/>
<path class="w" d="M1664 668l9 24-2-63-9-24z"/>
<path class="e" d="M1673 692l-2-63"/>
<path class="j" d="M1662 605l9 24"/>
<path class="w" d="M1655 669l9-1-2-63-9 13z"/>
<path class="f" d="M1664 668l-2-63"/>
<path class="i" d="M1653 618l9-13"/>
<path class="w" d="M1638 671l8-1-1-39-9-24z"/>
<path class="f" d="M1646 670l-1-39"/>
<path class="j" d="M1636 607l9 24"/>
<path class="w" d="M1629 622l9 49-2-64-9 63z"/>
<path class="f" d="M1638 671l-2-64-9 63"/>
<path class="w" d="M1611 661l9-26-2 23-8-73z"/>
<path class="h" d="M1620 635l-2 23"/>
<path class="k" d="M1610 585l8 73"/>
<path class="w" d="M1603 686l8-25-1-76-9 75z"/>
<path class="g" d="M1611 661l-1-76-9 75"/>
<path class="w" d="M1594 650l9 36-2-26-9-73z"/>
<path class="f" d="M1603 686l-2-26"/>
<path class="k" d="M1592 587l9 73"/>
<path class="w" d="M1585 614l9 36-2-63-9 62z"/>
<path class="h" d="M1594 650l-2-63-9 62"/>
<path class="w" d="M1489 610l8-13-1 10-9-48z"/>
<path class="k" d="M1497 597l-1 10"/>
<path class="m" d="M1487 559l9 48"/>
<path class="w" d="M1480 635l9-25-2-51-9 25z"/>
<path class="k" d="M1489 610l-2-51"/>
<path class="l" d="M1478 584l9-25"/>
<path class="w" d="M1462 575l9 24-1-39-9 62z"/>
<path class="k" d="M1471 599l-1-39"/>
<path class="j" d="M1461 622l9-62"/>
<path class="w" d="M1410 604l9 0-2-27-9-73z"/>
<path class="k" d="M1419 604l-2-27"/>
<path class="q" d="M1408 504l9 73"/>
<path class="w" d="M1401 593l9 11-2-100-9 38z"/>
<path class="k" d="M1410 604l-2-100"/>
<path class="o" d="M1399 542l9-38"/>
<path class="w" d="M1209 523l8 24-1 10-9-60z"/>
<path class="o" d="M1217 547l-1 10"/>
<path class="r" d="M1207 497l9 60"/>
<path class="w" d="M1200 598l9-75-2-26-9 50z"/>
<path class="q" d="M1209 523l-2-26"/>
<path class="o" d="M1198 547l9-50"/>
<path class="w" d="M1191 586l9 12-2-51-9-24z"/>
<path class="m" d="M1200 598l-2-51"/>
<path class="q" d="M1189 523l9 24"/>
<path class="w" d="M1182 575l9 11-2-63-8 25z"/>
<path class="m" d="M1191 586l-2-63"/>
<path class="o" d="M1181 548l8-25"/>
<path class="n" d="M1182 575l-1-27"/>
<path class="w" d="M1324 540l9-25-2 47-9-85z"/>
<path class="q" d="M1333 515l-2 47"/>
<path class="s" d="M1322 477l9 85"/>
<path class="w" d="M1315 553l9-13-2-63-8 74z"/>
<path class="o" d="M1324 540l-2-63-8 74"/>
<path class="w" d="M1245 584l9-50-2-27-8-11z"/>
<path class="p" d="M1254 534l-2-27"/>
<path class="r" d="M1244 496l8 11"/>
<path class="w" d="M1236 523l9 61-1-88-9-36z"/>
<path class="m" d="M1245 584l-1-88"/>
<path class="t" d="M1235 460l9 36"/>
<path class="w" d="M1228 536l8-13-1-63-9 74z"/>
<path class="q" d="M1236 523l-1-63"/>
<path class="p" d="M1226 534l9-74"/>
<path class="w" d="M1184 613l9-49-2 22-9-11z"/>
<path class="o" d="M1193 564l-2 22"/>
<path class="n" d="M1182 575l9 11"/>
<path class="l" d="M1184 613l-2-38"/>
<path class="w" d="M1729 667l8-13-1 47-9-73z"/>
<path class="g" d="M1737 654l-1 47"/>
<path class="h" d="M1727 628l9 73"/>
<path class="w" d="M1720 692l9-25-2-39-9 1z"/>
<path class="f" d="M1729 667l-2-39"/>
<path class="h" d="M1718 629l9-1"/>
<path class="w" d="M1711 693l9-1-2-63-9 50z"/>
<path class="e" d="M1720 692l-2-63"/>
<path class="f" d="M1709 679l9-50"/>
<path class="w" d="M1658 648l9 37-1 10-9-61z"/>
<path class="f" d="M1667 685l-1 10"/>
<path class="h" d="M1657 634l9 61"/>
<path class="w" d="M1650 661l8-13-1-14-9-36z"/>
<path class="h" d="M1658 648l-1-14"/>
<path class="k" d="M1648 598l9 36"/>
<path class="w" d="M1641 650l9 11-2-63-9 38z"/>
<path class="g" d="M1650 661l-2-63"/>
<path class="h" d="M1639 636l9-38"/>
<path class="w" d="M1580 631l8 48-1-26-9-61z"/>
<path class="f" d="M1588 679l-1-26"/>
<path class="k" d="M1578 592l9 61"/>
<path class="w" d="M1571 607l9 24-2-39-9 25z"/>
<path class="i" d="M1580 631l-2-39"/>
<path class="j" d="M1569 617l9-25"/>
<path class="w" d="M1352 515l9 36-2-26-9 13z"/>
<path class="o" d="M1361 551l-2-26-9 13"/>
<path class="w" d="M1334 541l9-1-1-2-9-23z"/>
<path class="o" d="M1343 540l-1-2"/>
<path class="q" d="M1333 515l9 23"/>
<path class="w" d="M1326 517l8 24-1-26-9 25z"/>
<path class="o" d="M1334 541l-1-26-9 25"/>
<path class="w" d="M1212 576l9-37-2 47-9-85z"/>
<path class="p" d="M1221 539l-2 47"/>
<path class="r" d="M1210 501l9 85"/>
<path class="w" d="M1203 577l9-1-2-75-9 86z"/>
<path class="n" d="M1212 576l-2-75"/>
<path class="m" d="M1201 587l9-86"/>
<path class="w" d="M1186 615l8-74-1 23-9 49z"/>
<path class="p" d="M1194 541l-1 23"/>
<path class="l" d="M1184 613l9-49"/>
<path class="l" d="M1186 615l-2-2"/>
<path class="w" d="M1686 660l9 0-1 35-9-86z"/>
<path class="g" d="M1695 660l-1 35"/>
<path class="j" d="M1685 609l9 86"/>
<path class="w" d="M1678 686l8-26-1-51-9 99z"/>
<path class="g" d="M1686 660l-1-51"/>
<path class="d" d="M1676 708l9-99"/>
<path class="w" d="M1616 617l9 49-2-2-8-73z"/>
<path class="g" d="M1625 666l-2-2"/>
<path class="k" d="M1615 591l8 73"/>
<path class="w" d="M1608 593l8 24-1-26-9 99z"/>
<path class="j" d="M1616 617l-1-26"/>
<path class="f" d="M1606 690l9-99"/>
<path class="w" d="M1538 612l8-1-1 10-9-60z"/>
<path class="k" d="M1546 611l-1 10"/>
<path class="m" d="M1536 561l9 60"/>
<path class="w" d="M1529 600l9 12-2-51-9 13z"/>
<path class="k" d="M1538 612l-2-51"/>
<path class="m" d="M1527 574l9-13"/>
<path class="w" d="M1520 576l9 24-2-26-9-36z"/>
<path class="k" d="M1529 600l-2-26"/>
<path class="o" d="M1518 538l9 36"/>
<path class="w" d="M1511 626l9-50-2-38-8 99z"/>
<path class="m" d="M1520 576l-2-38"/>
<path class="i" d="M1510 637l8-99"/>
<path class="w" d="M1485 641l9-62-2-15-9 50z"/>
<path class="m" d="M1494 579l-2-15"/>
<path class="k" d="M1483 614l9-50"/>
<path class="w" d="M1432 535l9 48-1-14-9-12z"/>
<path class="m" d="M1441 583l-1-14"/>
<path class="n" d="M1431 557l9 12"/>
<path class="w" d="M1415 585l9-25-2 35-9-73z"/>
<path class="n" d="M1424 560l-2 35"/>
<path class="p" d="M1413 522l9 73"/>
<path class="w" d="M1406 525l9 60-2-63-8 111z"/>
<path class="m" d="M1415 585l-2-63"/>
<path class="j" d="M1405 633l8-111"/>
<path class="w" d="M1354 591l8-99-1 59-9-36z"/>
<path class="r" d="M1362 492l-1 59"/>
<path class="q" d="M1352 515l9 36"/>
<path class="w" d="M1310 570l9-25-2 47-9-86z"/>
<path class="o" d="M1319 545l-2 47"/>
<path class="r" d="M1308 506l9 86"/>
<path class="w" d="M1301 521l9 49-2-64-9 1z"/>
<path class="n" d="M1310 570l-2-64"/>
<path class="r" d="M1299 507l9-1"/>
<path class="w" d="M1292 584l9-63-2-14-8 50z"/>
<path class="q" d="M1301 521l-2-14"/>
<path class="o" d="M1291 557l8-50"/>
<path class="w" d="M1275 573l9-87-2-2-9 62z"/>
<path class="s" d="M1284 486l-2-2"/>
<path class="o" d="M1273 546l9-62"/>
<path class="w" d="M1249 575l8-38-1-26-9 1z"/>
<path class="p" d="M1257 537l-1-26"/>
<path class="r" d="M1247 512l9-1"/>
<path class="w" d="M1196 617l9-50-2 10-9-36z"/>
<path class="o" d="M1205 567l-2 10"/>
<path class="p" d="M1194 541l9 36"/>
<path class="w" d="M1187 617l9 0-2-76-8 74z"/>
<path class="l" d="M1196 617l-2-76-8 74"/>
<path class="l" d="M1187 617l-1-2"/>
<path class="w" d="M1714 685l9-50-2 72-8-61z"/>
<path class="h" d="M1723 635l-2 72-8-61"/>
<path class="w" d="M1706 722l8-37-1-39-9 37z"/>
<path class="f" d="M1714 685l-1-39-9 37"/>
<path class="w" d="M1644 691l9-26-2-26-8 13z"/>
<path class="g" d="M1653 665l-2-26"/>
<path class="h" d="M1643 652l8-13"/>
<path class="w" d="M1609 657l9-38-2-2-8-24z"/>
<path class="j" d="M1618 619l-2-2"/>
<path class="k" d="M1608 593l8 24"/>
<path class="w" d="M1601 694l8-37-1-64-9 112z"/>
<path class="h" d="M1609 657l-1-64"/>
<path class="e" d="M1599 705l9-112"/>
<path class="w" d="M1522 640l9-26-2-14-9-24z"/>
<path class="k" d="M1531 614l-2-14"/>
<path class="m" d="M1520 576l9 24"/>
<path class="w" d="M1513 518l9 122-2-64-9 50z"/>
<path class="i" d="M1522 640l-2-64"/>
<path class="j" d="M1511 626l9-50"/>
<path class="w" d="M1460 596l9-1-1-26-9 25z"/>
<path class="l" d="M1469 595l-1-26-9 25"/>
<path class="w" d="M1434 598l9-25-2 10-9-48z"/>
<path class="m" d="M1443 573l-2 10"/>
<path class="o" d="M1432 535l9 48"/>
<path class="w" d="M1399 626l9-26-2-75-9-24z"/>
<path class="l" d="M1408 600l-2-75"/>
<path class="r" d="M1397 501l9 24"/>
<path class="w" d="M1390 577l9 49-2-125-8 124z"/>
<path class="k" d="M1399 626l-2-125-8 124"/>
<path class="w" d="M1364 567l9-13-2 11-9-73z"/>
<path class="o" d="M1373 554l-2 11"/>
<path class="r" d="M1362 492l9 73"/>
<path class="w" d="M1355 543l9 24-2-75-8 99z"/>
<path class="n" d="M1364 567l-2-75"/>
<path class="m" d="M1354 591l8-99"/>
<path class="w" d="M1329 533l9 24-2-26-9 13z"/>
<path class="o" d="M1338 557l-2-26-9 13"/>
<path class="w" d="M1285 562l9-75-2 97-8-98z"/>
<path class="s" d="M1294 487l-2 97-8-98"/>
<path class="w" d="M1277 538l8 24-1-76-9 87z"/>
<path class="o" d="M1285 562l-1-76"/>
<path class="n" d="M1275 573l9-87"/>
<path class="w" d="M1198 557l8-38-1 48-9 50z"/>
<path class="r" d="M1206 519l-1 48"/>
<path class="l" d="M1196 617l9-50"/>
<path class="w" d="M1189 582l9-25-2 60-9 0z"/>
<path class="o" d="M1198 557l-2 60"/>
<path class="l" d="M1187 617l9 0"/>
<path class="n" d="M1189 582l-2 35"/>
<path class="w" d="M1690 676l9-13-2-26-9 111z"/>
<path class="g" d="M1699 663l-2-26"/>
<path class="b" d="M1688 748l9-111"/>
<path class="w" d="M1515 642l8-50-1 48-9-122z"/>
<path class="l" d="M1523 592l-1 48"/>
<path class="p" d="M1513 518l9 122"/>
<path class="w" d="M1506 606l9 36-2-124-9 62z"/>
<path class="i" d="M1515 642l-2-124"/>
<path class="m" d="M1504 580l9-62"/>
<path class="w" d="M1488 608l9 24-2 22-8-85z"/>
<path class="j" d="M1497 632l-2 22"/>
<path class="m" d="M1487 569l8 85"/>
<path class="w" d="M1480 559l8 49-1-39-9 50z"/>
<path class="k" d="M1488 608l-1-39-9 50"/>
<path class="w" d="M1357 594l9-37-2 10-9-24z"/>
<path class="o" d="M1366 557l-2 10-9-24"/>
<path class="w" d="M1313 574l9-63-2 11-8 37z"/>
<path class="r" d="M1322 511l-2 11"/>
<path class="o" d="M1312 559l8-37"/>
<path class="w" d="M1296 575l9-25-2 22-9-85z"/>
<path class="o" d="M1305 550l-2 22"/>
<path class="s" d="M1294 487l9 85"/>
<path class="w" d="M1287 502l9 73-2-88-9 75z"/>
<path class="n" d="M1296 575l-2-88"/>
<path class="o" d="M1285 562l9-75"/>
<path class="w" d="M1226 532l8 24-1-51-9 37z"/>
<path class="o" d="M1234 556l-1-51"/>
<path class="p" d="M1224 542l9-37"/>
<path class="w" d="M1208 570l9-62-2 35-9-24z"/>
<path class="r" d="M1217 508l-2 35-9-24"/>
<path class="w" d="M1199 620l9-50-2-51-8 38z"/>
<path class="o" d="M1208 570l-2-51-8 38"/>
<path class="w" d="M1191 560l8 60-1-63-9 25z"/>
<path class="l" d="M1199 620l-1-63"/>
<path class="n" d="M1189 582l9-25"/>
<path class="o" d="M1191 560l-2 22"/>
<path class="w" d="M1727 700l8-111-1 108-9-73z"/>
<path class="k" d="M1735 589l-1 108"/>
<path class="i" d="M1725 624l9 73"/>
<path class="w" d="M1718 639l9 61-2-76-9 26z"/>
<path class="e" d="M1727 700l-2-76"/>
<path class="h" d="M1716 650l9-26"/>
<path class="w" d="M1709 701l9-62-2 11-9 25z"/>
<path class="h" d="M1718 639l-2 11"/>
<path class="f" d="M1707 675l9-25"/>
<path class="w" d="M1674 692l9-74-2 22-9 13z"/>
<path class="j" d="M1683 618l-2 22"/>
<path class="h" d="M1672 653l9-13"/>
<path class="w" d="M1586 638l9 49-1-51-9-49z"/>
<path class="f" d="M1595 687l-1-51"/>
<path class="l" d="M1585 587l9 49"/>
<path class="w" d="M1578 627l8 11-1-51-9 99z"/>
<path class="i" d="M1586 638l-1-51"/>
<path class="f" d="M1576 686l9-99"/>
<path class="w" d="M1560 628l9-25-2-2-9 62z"/>
<path class="k" d="M1569 603l-2-2"/>
<path class="h" d="M1558 663l9-62"/>
<path class="w" d="M1481 696l9-111-2 23-8-49z"/>
<path class="m" d="M1490 585l-2 23"/>
<path class="n" d="M1480 559l8 49"/>
<path class="w" d="M1473 599l8 97-1-137-9 75z"/>
<path class="f" d="M1481 696l-1-137"/>
<path class="j" d="M1471 634l9-75"/>
<path class="w" d="M1403 556l8 48-1-14-9-98z"/>
<path class="l" d="M1411 604l-1-14"/>
<path class="r" d="M1401 492l9 98"/>
<path class="w" d="M1394 593l9-37-2-64-9 63z"/>
<path class="o" d="M1403 556l-2-64-9 63"/>
<path class="w" d="M1324 562l8 0-1-2-9-49z"/>
<path class="o" d="M1332 562l-1-2"/>
<path class="r" d="M1322 511l9 49"/>
<path class="w" d="M1315 600l9-38-2-51-9 63z"/>
<path class="o" d="M1324 562l-2-51"/>
<path class="n" d="M1313 574l9-63"/>
<path class="w" d="M1289 553l8-37-1 59-9-73z"/>
<path class="r" d="M1297 516l-1 59-9-73"/>
<path class="w" d="M1280 554l9-1-2-51-9 50z"/>
<path class="o" d="M1289 553l-2-51-9 50"/>
<path class="w" d="M1245 532l9 37-2-52-9-48z"/>
<path class="o" d="M1254 569l-2-52"/>
<path class="t" d="M1243 469l9 48"/>
<path class="w" d="M1236 545l9-13-2-63-9 87z"/>
<path class="q" d="M1245 532l-2-63"/>
<path class="o" d="M1234 556l9-87"/>
<path class="w" d="M1219 584l8-99-1 47-9-24z"/>
<path class="t" d="M1227 485l-1 47"/>
<path class="r" d="M1217 508l9 24"/>
<path class="w" d="M1210 523l9 61-2-76-9 62z"/>
<path class="n" d="M1219 584l-2-76"/>
<path class="o" d="M1208 570l9-62"/>
<path class="w" d="M1201 561l9-38-2 47-9 50z"/>
<path class="r" d="M1210 523l-2 47"/>
<path class="l" d="M1199 620l9-50"/>
<path class="w" d="M1192 598l9-37-2 59-8-60z"/>
<path class="o" d="M1201 561l-2 59-8-60"/>
<path class="m" d="M1192 598l-1-38"/>
<path class="w" d="M1737 750l9-37-2-27-9-97z"/>
<path class="d" d="M1746 713l-2-27"/>
<path class="k" d="M1735 589l9 97"/>
<path class="w" d="M1728 677l9 73-2-161-8 111z"/>
<path class="b" d="M1737 750l-2-161"/>
<path class="e" d="M1727 700l8-111"/>
<path class="w" d="M1719 678l9-1-1 23-9-61z"/>
<path class="f" d="M1728 677l-1 23"/>
<path class="h" d="M1718 639l9 61"/>
<path class="w" d="M1711 691l8-13-1-39-9 62z"/>
<path class="f" d="M1719 678l-1-39"/>
<path class="e" d="M1709 701l9-62"/>
<path class="w" d="M1693 680l9 12-2-2-8-73z"/>
<path class="f" d="M1702 692l-2-2"/>
<path class="j" d="M1692 617l8 73"/>
<path class="w" d="M1684 644l9 36-1-63-9 1z"/>
<path class="f" d="M1693 680l-1-63"/>
<path class="j" d="M1683 618l9-1"/>
<path class="w" d="M1676 706l8-62-1-26-9 74z"/>
<path class="h" d="M1684 644l-1-26"/>
<path class="f" d="M1674 692l9-74"/>
<path class="w" d="M1649 684l9-13-2-26-8 37z"/>
<path class="g" d="M1658 671l-2-26"/>
<path class="f" d="M1648 682l8-37"/>
<path class="w" d="M1623 637l9 85-2-63-9-61z"/>
<path class="d" d="M1632 722l-2-63"/>
<path class="k" d="M1621 598l9 61"/>
<path class="w" d="M1614 626l9 11-2-39-8 50z"/>
<path class="i" d="M1623 637l-2-39"/>
<path class="h" d="M1613 648l8-50"/>
<path class="w" d="M1562 618l9 11-2-26-9 25z"/>
<path class="j" d="M1571 629l-2-26-9 25"/>
<path class="w" d="M1536 620l8-50-1 47-9-48z"/>
<path class="m" d="M1544 570l-1 47-9-48"/>
<path class="w" d="M1527 670l9-50-2-51-9 50z"/>
<path class="k" d="M1536 620l-2-51-9 50"/>
<path class="w" d="M1518 597l9 73-2-51-9-36z"/>
<path class="h" d="M1527 670l-2-51"/>
<path class="m" d="M1516 583l9 36"/>
<path class="w" d="M1509 610l9-13-2-14-8 111z"/>
<path class="l" d="M1518 597l-2-14"/>
<path class="f" d="M1508 694l8-111"/>
<path class="w" d="M1492 636l9-13-2-51-9 13z"/>
<path class="k" d="M1501 623l-2-51"/>
<path class="m" d="M1490 585l9-13"/>
<path class="w" d="M1439 616l9 36-2-88-8 13z"/>
<path class="i" d="M1448 652l-2-88"/>
<path class="m" d="M1438 577l8-13"/>
<path class="w" d="M1404 631l9-25-2-2-8-48z"/>
<path class="l" d="M1413 606l-2-2"/>
<path class="o" d="M1403 556l8 48"/>
<path class="w" d="M1395 608l9 23-1-75-9 37z"/>
<path class="k" d="M1404 631l-1-75"/>
<path class="m" d="M1394 593l9-37"/>
<path class="w" d="M1387 645l8-37-1-15-9-48z"/>
<path class="l" d="M1395 608l-1-15"/>
<path class="o" d="M1385 545l9 48"/>
<path class="w" d="M1378 597l9 48-2-100-9 13z"/>
<path class="j" d="M1387 645l-2-100"/>
<path class="o" d="M1376 558l9-13"/>
<path class="w" d="M1352 587l8-13-1-2-9-73z"/>
<path class="n" d="M1360 574l-1-2"/>
<path class="r" d="M1350 499l9 73"/>
<path class="w" d="M1343 587l9 0-2-88-9 13z"/>
<path class="m" d="M1352 587l-2-88"/>
<path class="r" d="M1341 512l9-13"/>
<path class="w" d="M1334 588l9-1-2-75-9 50z"/>
<path class="m" d="M1343 587l-2-75"/>
<path class="o" d="M1332 562l9-50"/>
<path class="w" d="M1308 566l9-13-2 47-9-97z"/>
<path class="o" d="M1317 553l-2 47"/>
<path class="r" d="M1306 503l9 97"/>
<path class="w" d="M1299 542l9 24-2-63-9 13z"/>
<path class="o" d="M1308 566l-2-63"/>
<path class="r" d="M1297 516l9-13"/>
<path class="w" d="M1290 567l9-25-2-26-8 37z"/>
<path class="p" d="M1299 542l-2-26"/>
<path class="o" d="M1289 553l8-37"/>
<path class="w" d="M1273 557l9-38-2 35-9-48z"/>
<path class="r" d="M1282 519l-2 35-9-48"/>
<path class="w" d="M1264 508l9 49-2-51-9 62z"/>
<path class="o" d="M1273 557l-2-51-9 62"/>
<path class="w" d="M1229 634l9-111-2 22-9-60z"/>
<path class="r" d="M1238 523l-2 22"/>
<path class="t" d="M1227 485l9 60"/>
<path class="w" d="M1220 549l9 85-2-149-8 99z"/>
<path class="k" d="M1229 634l-2-149"/>
<path class="n" d="M1219 584l8-99"/>
<path class="w" d="M1212 586l8-37-1 35-9-61z"/>
<path class="p" d="M1220 549l-1 35"/>
<path class="r" d="M1210 523l9 61"/>
<path class="w" d="M1203 575l9 11-2-63-9 38z"/>
<path class="n" d="M1212 586l-2-63"/>
<path class="o" d="M1201 561l9-38"/>
<path class="w" d="M1194 576l9-1-2-14-9 37z"/>
<path class="o" d="M1203 575l-2-14"/>
<path class="m" d="M1192 598l9-37"/>
<path class="o" d="M1194 576l-2 22"/>
<path class="w" d="M1677 671l9-13-2-14-8 62z"/>
<path class="h" d="M1686 658l-2-14"/>
<path class="e" d="M1676 706l8-62"/>
<path class="w" d="M1590 667l9-1-2-27-9-23z"/>
<path class="h" d="M1599 666l-2-27"/>
<path class="k" d="M1588 616l9 23"/>
<path class="w" d="M1581 618l9 49-2-51-9 62z"/>
<path class="h" d="M1590 667l-2-51"/>
<path class="g" d="M1579 678l9-62"/>
<path class="w" d="M1537 622l9-38-2-14-8 50z"/>
<path class="m" d="M1546 584l-2-14"/>
<path class="k" d="M1536 620l8-50"/>
<path class="w" d="M1371 587l9-13-2 23-9-98z"/>
<path class="n" d="M1380 574l-2 23"/>
<path class="r" d="M1369 499l9 98"/>
<path class="w" d="M1362 563l9 24-2-88-9 75z"/>
<path class="m" d="M1371 587l-2-88"/>
<path class="n" d="M1360 574l9-75"/>
<path class="w" d="M1196 602l8-13-1-14-9 1z"/>
<path class="n" d="M1204 589l-1-14"/>
<path class="o" d="M1194 576l9-1"/>
<path class="m" d="M1196 602l-2-26"/>
<path class="w" d="M1679 747l9-25-2-64-9 13z"/>
<path class="d" d="M1688 722l-2-64"/>
<path class="g" d="M1677 671l9-13"/>
<path class="w" d="M1670 699l9 48-2-76-8-60z"/>
<path class="c" d="M1679 747l-2-76"/>
<path class="k" d="M1669 611l8 60"/>
<path class="w" d="M1662 724l8-25-1-88-9 62z"/>
<path class="f" d="M1670 699l-1-88"/>
<path class="g" d="M1660 673l9-62"/>
<path class="w" d="M1556 610l9-1-1 60-9-110z"/>
<path class="k" d="M1565 609l-1 60"/>
<path class="n" d="M1555 559l9 110"/>
<path class="w" d="M1548 574l8 36-1-51-9 25z"/>
<path class="k" d="M1556 610l-1-51"/>
<path class="m" d="M1546 584l9-25"/>
<path class="w" d="M1495 628l9-13-2-2-9-49z"/>
<path class="k" d="M1504 615l-2-2"/>
<path class="n" d="M1493 564l9 49"/>
<path class="w" d="M1486 628l9 0-2-64-8 50z"/>
<path class="k" d="M1495 628l-2-64-8 50"/>
<path class="w" d="M1346 628l9-74-2 10-8-12z"/>
<path class="o" d="M1355 554l-2 10-8-12"/>
<path class="w" d="M1303 546l8 48-1 11-9-86z"/>
<path class="m" d="M1311 594l-1 11"/>
<path class="r" d="M1301 519l9 86"/>
<path class="w" d="M1294 547l9-1-2-27-9 1z"/>
<path class="p" d="M1303 546l-2-27"/>
<path class="r" d="M1292 520l9-1"/>
<path class="w" d="M1224 528l8 48-1-26-9-36z"/>
<path class="o" d="M1232 576l-1-26"/>
<path class="r" d="M1222 514l9 36"/>
<path class="w" d="M1215 541l9-13-2-14-9 74z"/>
<path class="r" d="M1224 528l-2-14"/>
<path class="n" d="M1213 588l9-74"/>
<path class="w" d="M1197 579l9 24-2-14-8 13z"/>
<path class="m" d="M1206 603l-2-14-8 13"/>
<path class="o" d="M1197 579l-1 23"/>
<path class="w" d="M1733 658l9 36-2-51-8 1z"/>
<path class="f" d="M1742 694l-2-51"/>
<path class="h" d="M1732 644l8-1"/>
<path class="w" d="M1725 721l8-63-1-14-9 50z"/>
<path class="h" d="M1733 658l-1-14"/>
<path class="f" d="M1723 694l9-50"/>
<path class="w" d="M1654 714l9-13-1 23-9-85z"/>
<path class="f" d="M1663 701l-1 23"/>
<path class="i" d="M1653 639l9 85"/>
<path class="w" d="M1646 629l8 85-1-75-9 25z"/>
<path class="e" d="M1654 714l-1-75"/>
<path class="h" d="M1644 664l9-25"/>
<path class="w" d="M1628 692l9-75-2 85-8-123z"/>
<path class="k" d="M1637 617l-2 85"/>
<path class="m" d="M1627 579l8 123"/>
<path class="w" d="M1619 619l9 73-1-113-9 136z"/>
<path class="f" d="M1628 692l-1-113"/>
<path class="e" d="M1618 715l9-136"/>
<path class="w" d="M1549 686l9-62-2-14-8-36z"/>
<path class="k" d="M1558 624l-2-14"/>
<path class="m" d="M1548 574l8 36"/>
<path class="w" d="M1541 613l8 73-1-112-9 13z"/>
<path class="g" d="M1549 686l-1-112"/>
<path class="m" d="M1539 587l9-13"/>
<path class="w" d="M1348 618l9-62-2-2-9 74z"/>
<path class="o" d="M1357 556l-2-2"/>
<path class="k" d="M1346 628l9-74"/>
<path class="w" d="M1278 550l9 36-2-39-9-48z"/>
<path class="n" d="M1287 586l-2-39"/>
<path class="s" d="M1276 499l9 48"/>
<path class="w" d="M1269 563l9-13-2-51-9 62z"/>
<path class="p" d="M1278 550l-2-51"/>
<path class="o" d="M1267 561l9-62"/>
<path class="w" d="M1217 568l8-38-1-2-9 13z"/>
<path class="r" d="M1225 530l-1-2"/>
<path class="q" d="M1215 541l9-13"/>
<path class="w" d="M1208 581l9-13-2-27-9 62z"/>
<path class="o" d="M1217 568l-2-27"/>
<path class="m" d="M1206 603l9-62"/>
<path class="w" d="M1199 606l9-25-2 22-9-24z"/>
<path class="o" d="M1208 581l-2 22-9-24"/>
<path class="m" d="M1199 606l-2-27"/>
<path class="w" d="M1744 709l9-1-2-51-9 37z"/>
<path class="e" d="M1753 708l-2-51"/>
<path class="f" d="M1742 694l9-37"/>
<path class="w" d="M1639 619l8 24-1-14-9-12z"/>
<path class="i" d="M1647 643l-1-14"/>
<path class="k" d="M1637 617l9 12"/>
<path class="w" d="M1630 682l9-63-2-2-9 75z"/>
<path class="k" d="M1639 619l-2-2"/>
<path class="f" d="M1628 692l9-75"/>
<path class="w" d="M1621 695l9-13-2 10-9-73z"/>
<path class="g" d="M1630 682l-2 10"/>
<path class="k" d="M1619 619l9 73"/>
<path class="w" d="M1612 622l9 73-2-76-8 25z"/>
<path class="f" d="M1621 695l-2-76"/>
<path class="i" d="M1611 644l8-25"/>
<path class="w" d="M1472 572l9-1-2-1-8 62z"/>
<path class="n" d="M1481 571l-2-1"/>
<path class="k" d="M1471 632l8-62"/>
<path class="w" d="M1411 565l9 49-2-39-9-61z"/>
<path class="l" d="M1420 614l-2-39"/>
<path class="r" d="M1409 514l9 61"/>
<path class="w" d="M1402 640l9-75-2-51-8 99z"/>
<path class="o" d="M1411 565l-2-51"/>
<path class="l" d="M1401 613l8-99"/>
<path class="w" d="M1385 604l8-37-1 35-9-61z"/>
<path class="o" d="M1393 567l-1 35"/>
<path class="p" d="M1383 541l9 61"/>
<path class="w" d="M1376 581l9 23-2-63-9-12z"/>
<path class="m" d="M1385 604l-2-63"/>
<path class="q" d="M1374 529l9 12"/>
<path class="w" d="M1367 643l9-62-2-52-9 63z"/>
<path class="n" d="M1376 581l-2-52"/>
<path class="m" d="M1365 592l9-63"/>
<path class="w" d="M1253 566l9 37-2-101-8 50z"/>
<path class="m" d="M1262 603l-2-101"/>
<path class="p" d="M1252 552l8-50"/>
<path class="w" d="M1201 583l9-37-2 35-9 25z"/>
<path class="q" d="M1210 546l-2 35"/>
<path class="m" d="M1199 606l9-25"/>
<path class="o" d="M1201 583l-2 23"/>
<path class="w" d="M1693 727l9-111-2 10-9 75z"/>
<path class="k" d="M1702 616l-2 10"/>
<path class="f" d="M1691 701l9-75"/>
<path class="w" d="M1649 645l9 85-2-63-9-24z"/>
<path class="d" d="M1658 730l-2-63"/>
<path class="i" d="M1647 643l9 24"/>
<path class="w" d="M1640 658l9-13-2-2-8-24z"/>
<path class="i" d="M1649 645l-2-2"/>
<path class="k" d="M1639 619l8 24"/>
<path class="w" d="M1632 708l8-50-1-39-9 63z"/>
<path class="h" d="M1640 658l-1-39"/>
<path class="g" d="M1630 682l9-63"/>
<path class="w" d="M1491 597l9 24-1-26-9-12z"/>
<path class="k" d="M1500 621l-1-26"/>
<path class="m" d="M1490 583l9 12"/>
<path class="w" d="M1483 623l8-26-1-14-9-12z"/>
<path class="m" d="M1491 597l-1-14"/>
<path class="n" d="M1481 571l9 12"/>
<path class="w" d="M1474 537l9 86-2-52-9 1z"/>
<path class="k" d="M1483 623l-2-52"/>
<path class="n" d="M1472 572l9-1"/>
<path class="w" d="M1439 577l9-13-2 47-9-48z"/>
<path class="o" d="M1448 564l-2 47-9-48"/>
<path class="w" d="M1316 539l9-26-2 47-8-48z"/>
<path class="r" d="M1325 513l-2 47-8-48"/>
<path class="w" d="M1308 552l8-13-1-27-9 75z"/>
<path class="q" d="M1316 539l-1-27"/>
<path class="n" d="M1306 587l9-75"/>
<path class="w" d="M1211 572l9-13-2 47-8-60z"/>
<path class="p" d="M1220 559l-2 47"/>
<path class="q" d="M1210 546l8 60"/>
<path class="w" d="M1202 610l9-38-1-26-9 37z"/>
<path class="o" d="M1211 572l-1-26-9 37"/>
<path class="m" d="M1202 610l-1-27"/>
<path class="w" d="M1747 725l9-26-2 11-9-85z"/>
<path class="f" d="M1756 699l-2 11"/>
<path class="j" d="M1745 625l9 85"/>
<path class="w" d="M1738 652l9 73-2-100-8 0z"/>
<path class="d" d="M1747 725l-2-100"/>
<path class="j" d="M1737 625l8 0"/>
<path class="w" d="M1730 739l8-87-1-27-9 75z"/>
<path class="h" d="M1738 652l-1-27"/>
<path class="f" d="M1728 700l9-75"/>
<path class="w" d="M1703 704l9-25-2-15-8-48z"/>
<path class="g" d="M1712 679l-2-15"/>
<path class="k" d="M1702 616l8 48"/>
<path class="w" d="M1695 656l8 48-1-88-9 111z"/>
<path class="f" d="M1703 704l-1-88"/>
<path class="d" d="M1693 727l9-111"/>
<path class="w" d="M1651 672l9 48-2 10-9-85z"/>
<path class="e" d="M1660 720l-2 10"/>
<path class="i" d="M1649 645l9 85"/>
<path class="w" d="M1642 660l9 12-2-27-9 13z"/>
<path class="h" d="M1651 672l-2-27-9 13"/>
<path class="w" d="M1589 640l9 48-1-75-9 25z"/>
<path class="g" d="M1598 688l-1-75"/>
<path class="j" d="M1588 638l9-25"/>
<path class="w" d="M1581 678l8-38-1-2-9-36z"/>
<path class="j" d="M1589 640l-1-2"/>
<path class="l" d="M1579 602l9 36"/>
<path class="w" d="M1572 678l9 0-2-76-9 62z"/>
<path class="h" d="M1581 678l-2-76-9 62"/>
<path class="w" d="M1554 643l9-50-1 72-9-73z"/>
<path class="m" d="M1563 593l-1 72-9-73"/>
<path class="w" d="M1546 668l8-25-1-51-9 38z"/>
<path class="j" d="M1554 643l-1-51"/>
<path class="k" d="M1544 630l9-38"/>
<path class="w" d="M1476 637l8-49-1 35-9-86z"/>
<path class="m" d="M1484 588l-1 35"/>
<path class="p" d="M1474 537l9 86"/>
<path class="w" d="M1467 614l9 23-2-100-9 75z"/>
<path class="k" d="M1476 637l-2-100"/>
<path class="l" d="M1465 612l9-75"/>
<path class="w" d="M1441 616l8-1-1-51-9 13z"/>
<path class="l" d="M1449 615l-1-51"/>
<path class="n" d="M1439 577l9-13"/>
<path class="w" d="M1432 604l9 12-2-39-9-61z"/>
<path class="l" d="M1441 616l-2-39"/>
<path class="r" d="M1430 516l9 61"/>
<path class="w" d="M1423 617l9-13-2-88-9 38z"/>
<path class="m" d="M1432 604l-2-88"/>
<path class="o" d="M1421 554l9-38"/>
<path class="w" d="M1414 557l9 60-2-63-8 62z"/>
<path class="l" d="M1423 617l-2-63-8 62"/>
<path class="w" d="M1371 573l8 24-1-15-9-11z"/>
<path class="m" d="M1379 597l-1-15"/>
<path class="o" d="M1369 571l9 11"/>
<path class="w" d="M1327 552l9 36-2-51-9-24z"/>
<path class="n" d="M1336 588l-2-51"/>
<path class="r" d="M1325 513l9 24"/>
<path class="w" d="M1318 614l9-62-2-39-9 26z"/>
<path class="p" d="M1327 552l-2-39"/>
<path class="q" d="M1316 539l9-26"/>
<path class="w" d="M1213 562l9 73-2-76-9 13z"/>
<path class="l" d="M1222 635l-2-76"/>
<path class="o" d="M1211 572l9-13"/>
<path class="w" d="M1204 612l9-50-2 10-9 38z"/>
<path class="p" d="M1213 562l-2 10"/>
<path class="m" d="M1202 610l9-38"/>
<path class="m" d="M1204 612l-2-2"/>
<path class="w" d="M1696 694l9-13-2 23-8-48z"/>
<path class="g" d="M1705 681l-2 23"/>
<path class="h" d="M1695 656l8 48"/>
<path class="w" d="M1688 707l8-13-1-38-9 49z"/>
<path class="f" d="M1696 694l-1-38-9 49"/>
<path class="w" d="M1670 684l9 0-2-27-9 13z"/>
<path class="g" d="M1679 684l-2-27"/>
<path class="h" d="M1668 670l9-13"/>
<path class="w" d="M1495 675l9-124-2 23-9 62z"/>
<path class="o" d="M1504 551l-2 23"/>
<path class="k" d="M1493 636l9-62"/>
<path class="w" d="M1477 603l9-1-2-14-8 49z"/>
<path class="m" d="M1486 602l-2-14"/>
<path class="k" d="M1476 637l8-49"/>
<path class="w" d="M1416 608l9-13-2 22-9-60z"/>
<path class="m" d="M1425 595l-2 22"/>
<path class="o" d="M1414 557l9 60"/>
<path class="w" d="M1407 621l9-13-2-51-8 123z"/>
<path class="m" d="M1416 608l-2-51"/>
<path class="h" d="M1406 680l8-123"/>
<path class="w" d="M1390 610l9-38-2-26-9 99z"/>
<path class="o" d="M1399 572l-2-26"/>
<path class="k" d="M1388 645l9-99"/>
<path class="w" d="M1372 599l9 12-2-14-8-24z"/>
<path class="m" d="M1381 611l-2-14"/>
<path class="o" d="M1371 573l8 24"/>
<path class="w" d="M1285 533l8-13-1-2-9-11z"/>
<path class="r" d="M1293 520l-1-2"/>
<path class="s" d="M1283 507l9 11"/>
<path class="w" d="M1276 534l9-1-2-26-9 37z"/>
<path class="r" d="M1285 533l-2-26"/>
<path class="q" d="M1274 544l9-37"/>
<path class="w" d="M1250 524l8 36-1-51-9 111z"/>
<path class="p" d="M1258 560l-1-51"/>
<path class="m" d="M1248 620l9-111"/>
<path class="w" d="M1241 549l9-25-2 96-9-147z"/>
<path class="r" d="M1250 524l-2 96"/>
<path class="t" d="M1239 473l9 147"/>
<path class="w" d="M1232 587l9-38-2-76-9 75z"/>
<path class="q" d="M1241 549l-2-76-9 75"/>
<path class="w" d="M1206 589l9-13-2-14-9 50z"/>
<path class="o" d="M1215 576l-2-14"/>
<path class="m" d="M1204 612l9-50"/>
<path class="o" d="M1206 589l-2 23"/>
<path class="w" d="M1733 755l9-63-2-14-9-11z"/>
<path class="f" d="M1742 692l-2-14"/>
<path class="h" d="M1731 667l9 11"/>
<path class="w" d="M1724 645l9 110-2-88-8 0z"/>
<path class="c" d="M1733 755l-2-88"/>
<path class="h" d="M1723 667l8 0"/>
<path class="w" d="M1628 715l9-75-2 23-9-73z"/>
<path class="j" d="M1637 640l-2 23"/>
<path class="m" d="M1626 590l9 73"/>
<path class="w" d="M1619 678l9 37-2-125-9 74z"/>
<path class="f" d="M1628 715l-2-125"/>
<path class="h" d="M1617 664l9-74"/>
<path class="w" d="M1505 651l9-25-2-2-8-73z"/>
<path class="k" d="M1514 626l-2-2"/>
<path class="o" d="M1504 551l8 73"/>
<path class="w" d="M1497 615l8 36-1-100-9 124z"/>
<path class="j" d="M1505 651l-1-100"/>
<path class="h" d="M1495 675l9-124"/>
<path class="w" d="M1339 592l9-25-2-15-9-23z"/>
<path class="o" d="M1348 567l-2-15"/>
<path class="r" d="M1337 529l9 23"/>
<path class="w" d="M1330 605l9-13-2-63-9 37z"/>
<path class="n" d="M1339 592l-2-63"/>
<path class="o" d="M1328 566l9-37"/>
<path class="w" d="M1295 559l9 24-2 10-9-73z"/>
<path class="o" d="M1304 583l-2 10"/>
<path class="r" d="M1293 520l9 73"/>
<path class="w" d="M1286 572l9-13-2-39-8 13z"/>
<path class="p" d="M1295 559l-2-39"/>
<path class="r" d="M1285 533l8-13"/>
<path class="w" d="M1269 561l9-1-2-26-9-24z"/>
<path class="p" d="M1278 560l-2-26"/>
<path class="s" d="M1267 510l9 24"/>
<path class="w" d="M1208 603l8-13-1-14-9 13z"/>
<path class="o" d="M1216 590l-1-14-9 13"/>
<path class="n" d="M1208 603l-2-14"/>
<path class="w" d="M1726 708l9 24-2 23-9-110z"/>
<path class="d" d="M1735 732l-2 23"/>
<path class="i" d="M1724 645l9 110"/>
<path class="w" d="M1717 684l9 24-2-63-9 87z"/>
<path class="f" d="M1726 708l-2-63"/>
<path class="d" d="M1715 732l9-87"/>
<path class="w" d="M1682 675l9 12-2 10-9-48z"/>
<path class="g" d="M1691 687l-2 10"/>
<path class="i" d="M1680 649l9 48"/>
<path class="w" d="M1673 676l9-1-2-26-8 62z"/>
<path class="h" d="M1682 675l-2-26"/>
<path class="f" d="M1672 711l8-62"/>
<path class="w" d="M1638 765l9-50-2-63-8-12z"/>
<path class="f" d="M1647 715l-2-63"/>
<path class="j" d="M1637 640l8 12"/>
<path class="w" d="M1630 618l8 147-1-125-9 75z"/>
<path class="c" d="M1638 765l-1-125"/>
<path class="f" d="M1628 715l9-75"/>
<path class="w" d="M1542 650l9-37-2 10-9-36z"/>
<path class="l" d="M1551 613l-2 10"/>
<path class="m" d="M1540 587l9 36"/>
<path class="w" d="M1533 639l9 11-2-63-8 99z"/>
<path class="j" d="M1542 650l-2-63"/>
<path class="h" d="M1532 686l8-99"/>
<path class="w" d="M1402 638l9 11-2-39-9-48z"/>
<path class="k" d="M1411 649l-2-39"/>
<path class="o" d="M1400 562l9 48"/>
<path class="w" d="M1393 577l9 61-2-76-9 38z"/>
<path class="k" d="M1402 638l-2-76"/>
<path class="m" d="M1391 600l9-38"/>
<path class="w" d="M1367 641l9-50-2 47-9-134z"/>
<path class="n" d="M1376 591l-2 47"/>
<path class="s" d="M1365 504l9 134"/>
<path class="w" d="M1358 555l9 86-2-137-9 86z"/>
<path class="k" d="M1367 641l-2-137"/>
<path class="n" d="M1356 590l9-86"/>
<path class="w" d="M1236 578l8-13-1 35-9-73z"/>
<path class="p" d="M1244 565l-1 35"/>
<path class="r" d="M1234 527l9 73"/>
<path class="w" d="M1227 567l9 11-2-51-9 75z"/>
<path class="o" d="M1236 578l-2-51"/>
<path class="n" d="M1225 602l9-75"/>
<path class="w" d="M1209 630l9-26-2-14-8 13z"/>
<path class="n" d="M1218 604l-2-14-8 13"/>
<path class="m" d="M1209 630l-1-27"/>
<path class="w" d="M1710 687l9-13-2 10-9-48z"/>
<path class="h" d="M1719 674l-2 10"/>
<path class="j" d="M1708 636l9 48"/>
<path class="w" d="M1701 700l9-13-2-51-8 87z"/>
<path class="g" d="M1710 687l-2-51"/>
<path class="e" d="M1700 723l8-87"/>
<path class="w" d="M1640 668l9 12-2 35-9 50z"/>
<path class="h" d="M1649 680l-2 35"/>
<path class="c" d="M1638 765l9-50"/>
<path class="w" d="M1631 681l9-13-2 97-8-147z"/>
<path class="h" d="M1640 668l-2 97"/>
<path class="k" d="M1630 618l8 147"/>
<path class="w" d="M1623 670l8 11-1-63-9 50z"/>
<path class="h" d="M1631 681l-1-63-9 50"/>
<path class="w" d="M1500 607l9-26-2 11-9 13z"/>
<path class="n" d="M1509 581l-2 11"/>
<path class="m" d="M1498 605l9-13"/>
<path class="w" d="M1482 596l9 11-2-1-8-24z"/>
<path class="m" d="M1491 607l-2-1"/>
<path class="n" d="M1481 582l8 24"/>
<path class="w" d="M1474 634l8-38-1-14-9 25z"/>
<path class="m" d="M1482 596l-1-14-9 25"/>
<path class="w" d="M1421 589l9-38-2 72-9-73z"/>
<path class="p" d="M1430 551l-2 72-9-73"/>
<path class="w" d="M1412 639l9-50-2-39-8 99z"/>
<path class="n" d="M1421 589l-2-39"/>
<path class="k" d="M1411 649l8-99"/>
<path class="w" d="M1334 596l8-13-1-26-9-24z"/>
<path class="o" d="M1342 583l-1-26"/>
<path class="r" d="M1332 533l9 24"/>
<path class="w" d="M1325 597l9-1-2-63-9 13z"/>
<path class="n" d="M1334 596l-2-63"/>
<path class="q" d="M1323 546l9-13"/>
<path class="w" d="M1316 623l9-26-2-51-9 13z"/>
<path class="n" d="M1325 597l-2-51"/>
<path class="p" d="M1314 559l9-13"/>
<path class="w" d="M1211 595l9 48-2-39-9 26z"/>
<path class="l" d="M1220 643l-2-39"/>
<path class="m" d="M1209 630l9-26"/>
<path class="o" d="M1211 595l-2 35"/>
<path class="w" d="M1756 783l8-62-1-51-9 25z"/>
<path class="e" d="M1764 721l-1-51"/>
<path class="f" d="M1754 695l9-25"/>
<path class="w" d="M1729 663l9 60-2 60-8-61z"/>
<path class="e" d="M1738 723l-2 60-8-61"/>
<path class="w" d="M1659 693l9-37-2-27-8 112z"/>
<path class="i" d="M1668 656l-2-27"/>
<path class="d" d="M1658 741l8-112"/>
<path class="w" d="M1580 663l9-13-2-2-8-11z"/>
<path class="j" d="M1589 650l-2-2"/>
<path class="k" d="M1579 637l8 11"/>
<path class="w" d="M1563 652l9-25-2-2-9-60z"/>
<path class="k" d="M1572 627l-2-2"/>
<path class="o" d="M1561 565l9 60"/>
<path class="w" d="M1554 604l9 48-2-87-9 49z"/>
<path class="j" d="M1563 652l-2-87"/>
<path class="l" d="M1552 614l9-49"/>
<path class="w" d="M1545 703l9-99-2 10-8 75z"/>
<path class="m" d="M1554 604l-2 10"/>
<path class="h" d="M1544 689l8-75"/>
<path class="w" d="M1510 682l9-50-2-39-8-12z"/>
<path class="k" d="M1519 632l-2-39"/>
<path class="n" d="M1509 581l8 12"/>
<path class="w" d="M1502 621l8 61-1-101-9 26z"/>
<path class="h" d="M1510 682l-1-101"/>
<path class="m" d="M1500 607l9-26"/>
<path class="w" d="M1475 623l9-25-2-2-8 38z"/>
<path class="m" d="M1484 598l-2-2"/>
<path class="k" d="M1474 634l8-38"/>
<path class="w" d="M1440 602l9 11-2-39-8 26z"/>
<path class="m" d="M1449 613l-2-39-8 26"/>
<path class="w" d="M1432 602l8 0-1-2-9-49z"/>
<path class="m" d="M1440 602l-1-2"/>
<path class="p" d="M1430 551l9 49"/>
<path class="w" d="M1423 628l9-26-2-51-9 38z"/>
<path class="m" d="M1432 602l-2-51"/>
<path class="n" d="M1421 589l9-38"/>
<path class="w" d="M1397 593l8-1-1 48-9-98z"/>
<path class="n" d="M1405 592l-1 48"/>
<path class="q" d="M1395 542l9 98"/>
<path class="w" d="M1388 606l9-13-2-51-9 38z"/>
<path class="n" d="M1397 593l-2-51"/>
<path class="o" d="M1386 580l9-38"/>
<path class="w" d="M1370 620l9-13-2-14-8-24z"/>
<path class="m" d="M1379 607l-2-14"/>
<path class="o" d="M1369 569l8 24"/>
<path class="w" d="M1274 591l9-37-2 59-9-97z"/>
<path class="q" d="M1283 554l-2 59"/>
<path class="s" d="M1272 516l9 97"/>
<path class="w" d="M1265 543l9 48-2-75-9-24z"/>
<path class="o" d="M1274 591l-2-75"/>
<path class="t" d="M1263 492l9 24"/>
<path class="w" d="M1256 544l9-1-2-51-8 37z"/>
<path class="r" d="M1265 543l-2-51-8 37"/>
<path class="w" d="M1230 558l9 49-2-2-9 50z"/>
<path class="n" d="M1239 607l-2-2"/>
<path class="k" d="M1228 655l9-50"/>
<path class="w" d="M1221 547l9 11-2 97-8-12z"/>
<path class="q" d="M1230 558l-2 97"/>
<path class="l" d="M1220 643l8 12"/>
<path class="w" d="M1213 584l8-37-1 96-9-48z"/>
<path class="r" d="M1221 547l-1 96"/>
<path class="o" d="M1211 595l9 48"/>
<path class="o" d="M1213 584l-2 11"/>
<path class="w" d="M1748 712l9-13-1 84-9-85z"/>
<path class="f" d="M1757 699l-1 84-9-85"/>
<path class="w" d="M1731 702l9-26-2 47-9-60z"/>
<path class="h" d="M1740 676l-2 47-9-60"/>
<path class="w" d="M1722 739l9-37-2-39-8 1z"/>
<path class="f" d="M1731 702l-2-39"/>
<path class="h" d="M1721 664l8-1"/>
<path class="w" d="M1713 691l9 48-1-75-9 0z"/>
<path class="d" d="M1722 739l-1-75"/>
<path class="h" d="M1712 664l9 0"/>
<path class="w" d="M1705 692l8-1-1-27-9-11z"/>
<path class="g" d="M1713 691l-1-27"/>
<path class="i" d="M1703 653l9 11"/>
<path class="w" d="M1696 741l9-49-2-39-9 50z"/>
<path class="g" d="M1705 692l-2-39"/>
<path class="f" d="M1694 703l9-50"/>
<path class="w" d="M1556 667l9-13-2-2-9-48z"/>
<path class="j" d="M1565 654l-2-2"/>
<path class="m" d="M1554 604l9 48"/>
<path class="w" d="M1547 656l9 11-2-63-9 99z"/>
<path class="i" d="M1556 667l-2-63"/>
<path class="g" d="M1545 703l9-99"/>
<path class="w" d="M1538 607l9 49-2 47-8-134z"/>
<path class="j" d="M1547 656l-2 47"/>
<path class="o" d="M1537 569l8 134"/>
<path class="w" d="M1530 608l8-1-1-38-9 62z"/>
<path class="m" d="M1538 607l-1-38"/>
<path class="k" d="M1528 631l9-62"/>
<path class="w" d="M1460 614l8 12-1-39-9-48z"/>
<path class="l" d="M1468 626l-1-39"/>
<path class="q" d="M1458 539l9 48"/>
<path class="w" d="M1451 541l9 73-2-75-9 74z"/>
<path class="m" d="M1460 614l-2-75-9 74"/>
<path class="w" d="M1346 599l8-37-1-2-9 38z"/>
<path class="p" d="M1354 562l-1-2"/>
<path class="n" d="M1344 598l9-38"/>
<path class="w" d="M1319 602l9-13-2-2-8-49z"/>
<path class="o" d="M1328 589l-2-2"/>
<path class="r" d="M1318 538l8 49"/>
<path class="w" d="M1311 627l8-25-1-64-9 1z"/>
<path class="n" d="M1319 602l-1-64"/>
<path class="r" d="M1309 539l9-1"/>
<path class="w" d="M1293 555l9 24-2-15-9-36z"/>
<path class="o" d="M1302 579l-2-15"/>
<path class="r" d="M1291 528l9 36"/>
<path class="w" d="M1267 582l9 23-2-14-9-48z"/>
<path class="n" d="M1276 605l-2-14"/>
<path class="r" d="M1265 543l9 48"/>
<path class="w" d="M1258 570l9 12-2-39-9 1z"/>
<path class="o" d="M1267 582l-2-39"/>
<path class="r" d="M1256 544l9-1"/>
<path class="w" d="M1214 586l9-62-2 23-8 37z"/>
<path class="s" d="M1223 524l-2 23"/>
<path class="o" d="M1213 584l8-37"/>
<path class="o" d="M1214 586l-1-2"/>
<path class="w" d="M1759 689l9 48-2-51-9 13z"/>
<path class="d" d="M1768 737l-2-51"/>
<path class="f" d="M1757 699l9-13"/>
<path class="w" d="M1628 676l8-13-1-27-9 38z"/>
<path class="i" d="M1636 663l-1-27"/>
<path class="h" d="M1626 674l9-38"/>
<path class="w" d="M1540 671l9-1-2-14-9-49z"/>
<path class="i" d="M1549 670l-2-14"/>
<path class="m" d="M1538 607l9 49"/>
<path class="w" d="M1531 610l9 61-2-64-8 1z"/>
<path class="i" d="M1540 671l-2-64"/>
<path class="m" d="M1530 608l8-1"/>
<path class="w" d="M1514 636l8 36-1-63-9-24z"/>
<path class="i" d="M1522 672l-1-63"/>
<path class="n" d="M1512 585l9 24"/>
<path class="w" d="M1505 588l9 48-2-51-9 38z"/>
<path class="k" d="M1514 636l-2-51"/>
<path class="l" d="M1503 623l9-38"/>
<path class="w" d="M1452 605l9 23-1-14-9-73z"/>
<path class="l" d="M1461 628l-1-14"/>
<path class="q" d="M1451 541l9 73"/>
<path class="w" d="M1444 667l8-62-1-64-9 112z"/>
<path class="m" d="M1452 605l-1-64"/>
<path class="k" d="M1442 653l9-112"/>
<path class="w" d="M1426 656l9-74-2 35-9-49z"/>
<path class="o" d="M1435 582l-2 35-9-49"/>
<path class="w" d="M1417 571l9 85-2-88-8 38z"/>
<path class="k" d="M1426 656l-2-88"/>
<path class="m" d="M1416 606l8-38"/>
<path class="w" d="M1347 601l9 24-2-63-8 37z"/>
<path class="m" d="M1356 625l-2-63"/>
<path class="n" d="M1346 599l8-37"/>
<path class="w" d="M1225 563l9 36-2-51-9-24z"/>
<path class="o" d="M1234 599l-2-51"/>
<path class="s" d="M1223 524l9 24"/>
<path class="w" d="M1216 600l9-37-2-39-9 62z"/>
<path class="q" d="M1225 563l-2-39"/>
<path class="o" d="M1214 586l9-62"/>
<path class="o" d="M1216 600l-2-14"/>
<path class="w" d="M1752 753l9-50-2-14-9-12z"/>
<path class="f" d="M1761 703l-2-14"/>
<path class="h" d="M1750 677l9 12"/>
<path class="w" d="M1743 619l9 134-2-76-9-11z"/>
<path class="d" d="M1752 753l-2-76"/>
<path class="h" d="M1741 666l9 11"/>
<path class="w" d="M1603 606l9 73-2-76-9 38z"/>
<path class="h" d="M1612 679l-2-76"/>
<path class="k" d="M1601 641l9-38"/>
<path class="w" d="M1577 657l8 0-1 35-9-98z"/>
<path class="j" d="M1585 657l-1 35"/>
<path class="m" d="M1575 594l9 98"/>
<path class="w" d="M1568 670l9-13-2-63-9 25z"/>
<path class="j" d="M1577 657l-2-63"/>
<path class="l" d="M1566 619l9-25"/>
<path class="w" d="M1498 677l9-38-2-51-9 87z"/>
<path class="k" d="M1507 639l-2-51"/>
<path class="i" d="M1496 675l9-87"/>
<path class="w" d="M1454 656l9-50-2 22-9-23z"/>
<path class="m" d="M1463 606l-2 22-9-23"/>
<path class="w" d="M1445 669l9-13-2-51-8 62z"/>
<path class="k" d="M1454 656l-2-51"/>
<path class="j" d="M1444 667l8-62"/>
<path class="w" d="M1419 634l9-50-2 72-9-85z"/>
<path class="o" d="M1428 584l-2 72-9-85"/>
<path class="w" d="M1410 610l9 24-2-63-8 62z"/>
<path class="l" d="M1419 634l-2-63-8 62"/>
<path class="w" d="M1323 593l9-1-2 35-9-85z"/>
<path class="o" d="M1332 592l-2 35"/>
<path class="r" d="M1321 542l9 85"/>
<path class="w" d="M1314 594l9-1-2-51-9 50z"/>
<path class="o" d="M1323 593l-2-51-9 50"/>
<path class="w" d="M1218 627l8-75-1 11-9 37z"/>
<path class="r" d="M1226 552l-1 11"/>
<path class="o" d="M1216 600l9-37"/>
<path class="m" d="M1218 627l-2-27"/>
<path class="w" d="M1745 706l9 0-2 47-9-134z"/>
<path class="f" d="M1754 706l-2 47"/>
<path class="k" d="M1743 619l9 134"/>
<path class="w" d="M1736 695l9 11-2-87-9 62z"/>
<path class="f" d="M1745 706l-2-87"/>
<path class="h" d="M1734 681l9-62"/>
<path class="w" d="M1727 720l9-25-2-14-8 25z"/>
<path class="g" d="M1736 695l-2-14"/>
<path class="f" d="M1726 706l8-25"/>
<path class="w" d="M1613 583l9 122-1-64-9 38z"/>
<path class="g" d="M1622 705l-1-64"/>
<path class="h" d="M1612 679l9-38"/>
<path class="w" d="M1605 706l8-123-1 96-9-73z"/>
<path class="n" d="M1613 583l-1 96"/>
<path class="m" d="M1603 606l9 73"/>
<path class="w" d="M1596 658l9 48-2-100-9 25z"/>
<path class="g" d="M1605 706l-2-100"/>
<path class="k" d="M1594 631l9-25"/>
<path class="w" d="M1587 671l9-13-2-27-9 26z"/>
<path class="j" d="M1596 658l-2-27-9 26"/>
<path class="w" d="M1552 686l9 24-2-88-9-11z"/>
<path class="g" d="M1561 710l-2-88"/>
<path class="m" d="M1550 611l9 11"/>
<path class="w" d="M1543 625l9 61-2-75-8 25z"/>
<path class="h" d="M1552 686l-2-75"/>
<path class="k" d="M1542 636l8-25"/>
<path class="w" d="M1508 641l9-38-2-14-8 50z"/>
<path class="m" d="M1517 603l-2-14"/>
<path class="k" d="M1507 639l8-50"/>
<path class="w" d="M1482 606l9 24-2-2-9-36z"/>
<path class="l" d="M1491 630l-2-2"/>
<path class="n" d="M1480 592l9 36"/>
<path class="w" d="M1473 644l9-38-2-14-8 62z"/>
<path class="m" d="M1482 606l-2-14"/>
<path class="k" d="M1472 654l8-62"/>
<path class="w" d="M1421 648l9-74-2 10-9 50z"/>
<path class="o" d="M1430 574l-2 10"/>
<path class="l" d="M1419 634l9-50"/>
<path class="w" d="M1254 552l9 48-2 35-8-48z"/>
<path class="o" d="M1263 600l-2 35-8-48"/>
<path class="w" d="M1228 591l9-1-2-14-9-24z"/>
<path class="o" d="M1237 590l-2-14"/>
<path class="r" d="M1226 552l9 24"/>
<path class="w" d="M1219 580l9 11-2-39-8 75z"/>
<path class="o" d="M1228 591l-2-39"/>
<path class="m" d="M1218 627l8-75"/>
<path class="p" d="M1219 580l-1 47"/>
<path class="w" d="M1694 762l9-38-2-14-9-60z"/>
<path class="f" d="M1703 724l-2-14"/>
<path class="j" d="M1692 650l9 60"/>
<path class="w" d="M1685 689l9 73-2-112-9 74z"/>
<path class="d" d="M1694 762l-2-112"/>
<path class="f" d="M1683 724l9-74"/>
<path class="w" d="M1650 729l9-87-2 11-9 49z"/>
<path class="k" d="M1659 642l-2 11"/>
<path class="g" d="M1648 702l9-49"/>
<path class="w" d="M1615 707l9-50-2 48-9-122z"/>
<path class="j" d="M1624 657l-2 48"/>
<path class="n" d="M1613 583l9 122"/>
<path class="w" d="M1606 659l9 48-2-124-8 123z"/>
<path class="g" d="M1615 707l-2-124-8 123"/>
<path class="w" d="M1545 664l9-25-2 47-9-61z"/>
<path class="k" d="M1554 639l-2 47"/>
<path class="l" d="M1543 625l9 61"/>
<path class="w" d="M1536 653l9 11-2-39-8 38z"/>
<path class="j" d="M1545 664l-2-39-8 38"/>
<path class="w" d="M1458 623l8-1-1-27-9 13z"/>
<path class="m" d="M1466 622l-1-27-9 13"/>
<path class="w" d="M1431 600l9 12-2-2-8-36z"/>
<path class="m" d="M1440 612l-2-2"/>
<path class="o" d="M1430 574l8 36"/>
<path class="w" d="M1422 663l9-63-1-26-9 74z"/>
<path class="n" d="M1431 600l-1-26"/>
<path class="k" d="M1421 648l9-74"/>
<path class="w" d="M1405 603l9 23-2 60-9-122z"/>
<path class="m" d="M1414 626l-2 60"/>
<path class="p" d="M1403 564l9 122"/>
<path class="w" d="M1396 603l9 0-2-39-8 50z"/>
<path class="n" d="M1405 603l-2-39"/>
<path class="m" d="M1395 614l8-50"/>
<path class="w" d="M1352 582l9 12-2-26-8 0z"/>
<path class="o" d="M1361 594l-2-26"/>
<path class="p" d="M1351 568l8 0"/>
<path class="w" d="M1335 584l9 24-2-27-9-36z"/>
<path class="n" d="M1344 608l-2-27"/>
<path class="r" d="M1333 545l9 36"/>
<path class="w" d="M1326 572l9 12-2-39-9 38z"/>
<path class="o" d="M1335 584l-2-39-9 38"/>
<path class="w" d="M1309 611l8-1-1-14-9-73z"/>
<path class="n" d="M1317 610l-1-14"/>
<path class="s" d="M1307 523l9 73"/>
<path class="w" d="M1300 575l9 36-2-88-9 38z"/>
<path class="n" d="M1309 611l-2-88"/>
<path class="q" d="M1298 561l9-38"/>
<path class="w" d="M1274 614l8-50-1 47-9-85z"/>
<path class="q" d="M1282 564l-1 47"/>
<path class="s" d="M1272 526l9 85"/>
<path class="w" d="M1265 602l9 12-2-88-9 74z"/>
<path class="n" d="M1274 614l-2-88"/>
<path class="o" d="M1263 600l9-74"/>
<path class="w" d="M1221 618l9 12-2-39-9-11z"/>
<path class="m" d="M1230 630l-2-39"/>
<path class="p" d="M1219 580l9 11"/>
<path class="n" d="M1221 618l-2-38"/>
<path class="w" d="M1766 733l8-13-1-63-9 74z"/>
<path class="f" d="M1774 720l-1-63"/>
<path class="e" d="M1764 731l9-74"/>
<path class="w" d="M1722 737l9-37-2 59-9-85z"/>
<path class="g" d="M1731 700l-2 59"/>
<path class="h" d="M1720 674l9 85"/>
<path class="w" d="M1713 750l9-13-2-63-9-12z"/>
<path class="e" d="M1722 737l-2-63"/>
<path class="i" d="M1711 662l9 12"/>
<path class="w" d="M1704 689l9 61-2-88-8 62z"/>
<path class="d" d="M1713 750l-2-88"/>
<path class="f" d="M1703 724l8-62"/>
<path class="w" d="M1661 693l8-74-1 133-9-110z"/>
<path class="l" d="M1669 619l-1 133"/>
<path class="k" d="M1659 642l9 110"/>
<path class="w" d="M1652 706l9-13-2-51-9 87z"/>
<path class="h" d="M1661 693l-2-51"/>
<path class="f" d="M1650 729l9-87"/>
<path class="w" d="M1591 687l8-1-1-39-9-23z"/>
<path class="h" d="M1599 686l-1-39"/>
<path class="l" d="M1589 624l9 23"/>
<path class="w" d="M1582 663l9 24-2-63-9 50z"/>
<path class="h" d="M1591 687l-2-63"/>
<path class="i" d="M1580 674l9-50"/>
<path class="w" d="M1372 669l8-13-1-100-9 50z"/>
<path class="k" d="M1380 656l-1-100"/>
<path class="n" d="M1370 606l9-50"/>
<path class="w" d="M1232 607l8-62-1 35-9 50z"/>
<path class="r" d="M1240 545l-1 35"/>
<path class="m" d="M1230 630l9-50"/>
<path class="w" d="M1223 559l9 48-2 23-9-12z"/>
<path class="o" d="M1232 607l-2 23"/>
<path class="n" d="M1221 618l9 12"/>
<path class="r" d="M1223 559l-2 59"/>
<path class="w" d="M1732 701l9 49-2-64-8 14z"/>
<path class="d" d="M1741 750l-2-64"/>
<path class="g" d="M1731 700l8-14"/>
<path class="w" d="M1689 693l8 48-1-38-9-24z"/>
<path class="e" d="M1697 741l-1-38"/>
<path class="h" d="M1687 679l9 24"/>
<path class="w" d="M1671 694l9-25-2 10-9-60z"/>
<path class="i" d="M1680 669l-2 10"/>
<path class="l" d="M1669 619l9 60"/>
<path class="w" d="M1662 695l9-1-2-75-8 74z"/>
<path class="h" d="M1671 694l-2-75-8 74"/>
<path class="w" d="M1513 622l9 36-2-63-8 37z"/>
<path class="k" d="M1522 658l-2-63"/>
<path class="l" d="M1512 632l8-37"/>
<path class="w" d="M1347 612l9-50-2 35-9-49z"/>
<path class="q" d="M1356 562l-2 35"/>
<path class="r" d="M1345 548l9 49"/>
<path class="w" d="M1338 551l9 61-2-64-8 26z"/>
<path class="n" d="M1347 612l-2-64"/>
<path class="p" d="M1337 574l8-26"/>
<path class="w" d="M1251 595l8 36-1-87-9-24z"/>
<path class="m" d="M1259 631l-1-87"/>
<path class="t" d="M1249 520l9 24"/>
<path class="w" d="M1242 571l9 24-2-75-9 25z"/>
<path class="o" d="M1251 595l-2-75"/>
<path class="r" d="M1240 545l9-25"/>
<path class="w" d="M1233 597l9-26-2-26-8 62z"/>
<path class="q" d="M1242 571l-2-26"/>
<path class="o" d="M1232 607l8-62"/>
<path class="w" d="M1224 561l9 36-1 10-9-48z"/>
<path class="o" d="M1233 597l-1 10"/>
<path class="r" d="M1223 559l9 48"/>
<path class="r" d="M1224 561l-1-2"/>
<path class="w" d="M1752 739l8-50-1 47-9-61z"/>
<path class="h" d="M1760 689l-1 47-9-61"/>
<path class="w" d="M1743 727l9 12-2-64-9 75z"/>
<path class="e" d="M1752 739l-2-64"/>
<path class="d" d="M1741 750l9-75"/>
<path class="w" d="M1708 718l9-1-2-26-9 0z"/>
<path class="f" d="M1717 717l-2-26"/>
<path class="h" d="M1706 691l9 0"/>
<path class="w" d="M1681 696l9 48-1-51-9-24z"/>
<path class="e" d="M1690 744l-1-51"/>
<path class="i" d="M1680 669l9 24"/>
<path class="w" d="M1673 721l8-25-1-27-9 25z"/>
<path class="h" d="M1681 696l-1-27-9 25"/>
<path class="w" d="M1611 714l9-13-1-27-9-60z"/>
<path class="h" d="M1620 701l-1-27"/>
<path class="m" d="M1610 614l9 60"/>
<path class="w" d="M1603 678l8 36-1-100-9 74z"/>
<path class="g" d="M1611 714l-1-100"/>
<path class="h" d="M1601 688l9-74"/>
<path class="w" d="M1541 708l9-87-2 22-8-11z"/>
<path class="m" d="M1550 621l-2 22"/>
<path class="l" d="M1540 632l8 11"/>
<path class="w" d="M1489 638l9-25-2-14-9 123z"/>
<path class="m" d="M1498 613l-2-14"/>
<path class="g" d="M1487 722l9-123"/>
<path class="w" d="M1480 602l9 36-2 84-9-109z"/>
<path class="l" d="M1489 638l-2 84"/>
<path class="m" d="M1478 613l9 109"/>
<path class="w" d="M1471 640l9-38-2 11-8-37z"/>
<path class="n" d="M1480 602l-2 11"/>
<path class="o" d="M1470 576l8 37"/>
<path class="w" d="M1463 665l8-25-1-64-9 63z"/>
<path class="l" d="M1471 640l-1-64-9 63"/>
<path class="w" d="M1436 594l9 36-2 23-8-86z"/>
<path class="m" d="M1445 630l-2 23"/>
<path class="p" d="M1435 567l8 86"/>
<path class="w" d="M1428 668l8-74-1-27-9 38z"/>
<path class="o" d="M1436 594l-1-27"/>
<path class="n" d="M1426 605l9-38"/>
<path class="w" d="M1419 644l9 24-2-63-9-24z"/>
<path class="k" d="M1428 668l-2-63"/>
<path class="o" d="M1417 581l9 24"/>
<path class="w" d="M1410 571l9 73-2-63-9-36z"/>
<path class="l" d="M1419 644l-2-63"/>
<path class="r" d="M1408 545l9 36"/>
<path class="w" d="M1401 609l9-38-2-26-8 62z"/>
<path class="p" d="M1410 571l-2-26"/>
<path class="n" d="M1400 607l8-62"/>
<path class="w" d="M1357 551l9 61-1-39-9-11z"/>
<path class="n" d="M1366 612l-1-39"/>
<path class="q" d="M1356 562l9 11"/>
<path class="w" d="M1331 615l9-62-2-2-8 25z"/>
<path class="r" d="M1340 553l-2-2"/>
<path class="p" d="M1330 576l8-25"/>
<path class="w" d="M1287 594l9-13-2 60-8-24z"/>
<path class="p" d="M1296 581l-2 60"/>
<path class="n" d="M1286 617l8 24"/>
<path class="w" d="M1261 572l9-25-2-2-9 86z"/>
<path class="r" d="M1270 547l-2-2"/>
<path class="m" d="M1259 631l9-86"/>
<path class="w" d="M1252 671l9-99-2 59-8-36z"/>
<path class="q" d="M1261 572l-2 59"/>
<path class="o" d="M1251 595l8 36"/>
<path class="w" d="M1226 563l9-13-2 47-9-36z"/>
<path class="r" d="M1235 550l-2 47-9-36"/>
<path class="r" d="M1226 563l-2-2"/>
<path class="w" d="M1762 777l9-87-2-2-9 1z"/>
<path class="h" d="M1771 690l-2-2-9 1"/>
<path class="w" d="M1657 687l9 24-2-51-9 38z"/>
<path class="g" d="M1666 711l-2-51"/>
<path class="h" d="M1655 698l9-38"/>
<path class="w" d="M1552 660l9 23-2-38-9-24z"/>
<path class="i" d="M1561 683l-2-38"/>
<path class="m" d="M1550 621l9 24"/>
<path class="w" d="M1543 660l9 0-2-39-9 87z"/>
<path class="k" d="M1552 660l-2-39"/>
<path class="h" d="M1541 708l9-87"/>
<path class="w" d="M1526 613l8 11-1-14-9-12z"/>
<path class="m" d="M1534 624l-1-14"/>
<path class="n" d="M1524 598l9 12"/>
<path class="w" d="M1517 638l9-25-2-15-9 1z"/>
<path class="m" d="M1526 613l-2-15"/>
<path class="n" d="M1515 599l9-1"/>
<path class="w" d="M1508 614l9 24-2-39-9-11z"/>
<path class="l" d="M1517 638l-2-39"/>
<path class="o" d="M1506 588l9 11"/>
<path class="w" d="M1499 701l9-87-2-26-8 25z"/>
<path class="m" d="M1508 614l-2-26-8 25"/>
<path class="w" d="M1438 682l9-63-2 11-9-36z"/>
<path class="m" d="M1447 619l-2 11"/>
<path class="o" d="M1436 594l9 36"/>
<path class="w" d="M1429 646l9 36-2-88-8 74z"/>
<path class="j" d="M1438 682l-2-88"/>
<path class="k" d="M1428 668l8-74"/>
<path class="w" d="M1412 635l8-38-1 47-9-73z"/>
<path class="o" d="M1420 597l-1 47"/>
<path class="p" d="M1410 571l9 73"/>
<path class="w" d="M1403 709l9-74-2-64-9 38z"/>
<path class="m" d="M1412 635l-2-64"/>
<path class="n" d="M1401 609l9-38"/>
<path class="w" d="M1385 625l9 24-1-2-9-98z"/>
<path class="l" d="M1394 649l-1-2"/>
<path class="r" d="M1384 549l9 98"/>
<path class="w" d="M1377 625l8 0-1-76-9 111z"/>
<path class="m" d="M1385 625l-1-76"/>
<path class="k" d="M1375 660l9-111"/>
<path class="w" d="M1359 602l9-37-2 47-9-61z"/>
<path class="q" d="M1368 565l-2 47"/>
<path class="r" d="M1357 551l9 61"/>
<path class="w" d="M1350 652l9-50-2-51-8 75z"/>
<path class="o" d="M1359 602l-2-51"/>
<path class="m" d="M1349 626l8-75"/>
<path class="w" d="M1254 513l9 73-2-14-9 99z"/>
<path class="p" d="M1263 586l-2-14"/>
<path class="k" d="M1252 671l9-99"/>
<path class="w" d="M1245 612l9-99-2 158-8-61z"/>
<path class="t" d="M1254 513l-2 158"/>
<path class="o" d="M1244 610l8 61"/>
<path class="w" d="M1237 588l8 24-1-2-9-60z"/>
<path class="o" d="M1245 612l-1-2"/>
<path class="r" d="M1235 550l9 60"/>
<path class="w" d="M1228 638l9-50-2-38-9 13z"/>
<path class="p" d="M1237 588l-2-38"/>
<path class="r" d="M1226 563l9-13"/>
<path class="m" d="M1228 638l-2-75"/>
<path class="w" d="M1466 620l9 61-2-76-9 1z"/>
<path class="j" d="M1475 681l-2-76"/>
<path class="n" d="M1464 606l9-1"/>
<path class="w" d="M1457 608l9 12-2-14-9 25z"/>
<path class="m" d="M1466 620l-2-14-9 25"/>
<path class="w" d="M1413 624l9-13-2-14-8 38z"/>
<path class="n" d="M1422 611l-2-14"/>
<path class="m" d="M1412 635l8-38"/>
<path class="w" d="M1405 650l8-26-1 11-9 74z"/>
<path class="m" d="M1413 624l-1 11"/>
<path class="h" d="M1403 709l9-74"/>
<path class="w" d="M1396 564l9 86-2 59-9-60z"/>
<path class="l" d="M1405 650l-2 59-9-60"/>
<path class="w" d="M1370 677l8-87-1 35-9-60z"/>
<path class="o" d="M1378 590l-1 35"/>
<path class="q" d="M1368 565l9 60"/>
<path class="w" d="M1361 617l9 60-2-112-9 37z"/>
<path class="k" d="M1370 677l-2-112"/>
<path class="o" d="M1359 602l9-37"/>
<path class="w" d="M1352 580l9 37-2-15-9 50z"/>
<path class="n" d="M1361 617l-2-15"/>
<path class="l" d="M1350 652l9-50"/>
<path class="w" d="M1343 630l9-50-2 72-8-85z"/>
<path class="p" d="M1352 580l-2 72"/>
<path class="q" d="M1342 567l8 85"/>
<path class="w" d="M1282 574l9-13-2-39-9 75z"/>
<path class="r" d="M1291 561l-2-39"/>
<path class="o" d="M1280 597l9-75"/>
<path class="w" d="M1247 577l9 36-2-100-9 99z"/>
<path class="o" d="M1256 613l-2-100-9 99"/>
<path class="w" d="M1229 579l9-1-1 10-9 50z"/>
<path class="q" d="M1238 578l-1 10"/>
<path class="m" d="M1228 638l9-50"/>
<path class="q" d="M1229 579l-1 59"/>
<path class="w" d="M1608 659l8 73-1-64-9-36z"/>
<path class="f" d="M1616 732l-1-64"/>
<path class="l" d="M1606 632l9 36"/>
<path class="w" d="M1599 733l9-74-2-27-9 1z"/>
<path class="k" d="M1608 659l-2-27"/>
<path class="l" d="M1597 633l9-1"/>
<path class="w" d="M1590 660l9 73-2-100-8 38z"/>
<path class="f" d="M1599 733l-2-100"/>
<path class="j" d="M1589 671l8-38"/>
<path class="w" d="M1573 686l8 0-1-15-9-60z"/>
<path class="i" d="M1581 686l-1-15"/>
<path class="m" d="M1571 611l9 60"/>
<path class="w" d="M1564 675l9 11-2-75-9 13z"/>
<path class="i" d="M1573 686l-2-75"/>
<path class="m" d="M1562 624l9-13"/>
<path class="w" d="M1555 663l9 12-2-51-8 13z"/>
<path class="j" d="M1564 675l-2-51"/>
<path class="l" d="M1554 637l8-13"/>
<path class="w" d="M1433 649l8-74-1 59-9-36z"/>
<path class="p" d="M1441 575l-1 59"/>
<path class="o" d="M1431 598l9 36"/>
<path class="w" d="M1424 576l9 73-2-51-9 13z"/>
<path class="l" d="M1433 649l-2-51"/>
<path class="n" d="M1422 611l9-13"/>
<path class="w" d="M1398 652l8-62-1 60-9-86z"/>
<path class="o" d="M1406 590l-1 60"/>
<path class="q" d="M1396 564l9 86"/>
<path class="w" d="M1389 628l9 24-2-88-9-11z"/>
<path class="l" d="M1398 652l-2-88"/>
<path class="r" d="M1387 553l9 11"/>
<path class="w" d="M1380 678l9-50-2-75-9 37z"/>
<path class="m" d="M1389 628l-2-75"/>
<path class="o" d="M1378 590l9-37"/>
<path class="w" d="M1363 618l8 12-1 47-9-60z"/>
<path class="m" d="M1371 630l-1 47"/>
<path class="n" d="M1361 617l9 60"/>
<path class="w" d="M1231 605l9-37-2 10-9 1z"/>
<path class="r" d="M1240 568l-2 10"/>
<path class="q" d="M1229 579l9-1"/>
<path class="o" d="M1231 605l-2-26"/>
<path class="w" d="M1723 725l9 11-2 60-8-36z"/>
<path class="f" d="M1732 736l-2 60"/>
<path class="d" d="M1722 760l8 36"/>
<path class="w" d="M1688 740l9-38-2 35-8-97z"/>
<path class="h" d="M1697 702l-2 35"/>
<path class="k" d="M1687 640l8 97"/>
<path class="w" d="M1679 692l9 48-1-100-9 111z"/>
<path class="f" d="M1688 740l-1-100"/>
<path class="e" d="M1678 751l9-111"/>
<path class="w" d="M1539 691l9-25-2-14-8-24z"/>
<path class="k" d="M1548 666l-2-14"/>
<path class="m" d="M1538 628l8 24"/>
<path class="w" d="M1522 644l9-1-2 23-9 62z"/>
<path class="l" d="M1531 643l-2 23"/>
<path class="g" d="M1520 728l9-62"/>
<path class="w" d="M1513 644l9 0-2 84-9-36z"/>
<path class="l" d="M1522 644l-2 84"/>
<path class="i" d="M1511 692l9 36"/>
<path class="w" d="M1496 683l8-75-1 48-9-73z"/>
<path class="n" d="M1504 608l-1 48"/>
<path class="o" d="M1494 583l9 73"/>
<path class="w" d="M1487 647l9 36-2-100-9 13z"/>
<path class="j" d="M1496 683l-2-100"/>
<path class="o" d="M1485 596l9-13"/>
<path class="w" d="M1478 611l9 36-2-51-9 13z"/>
<path class="l" d="M1487 647l-2-51"/>
<path class="n" d="M1476 609l9-13"/>
<path class="w" d="M1469 624l9-13-2-2-8 0z"/>
<path class="n" d="M1478 611l-2-2-8 0"/>
<path class="w" d="M1461 637l8-13-1-15-9 13z"/>
<path class="m" d="M1469 624l-1-15-9 13"/>
<path class="w" d="M1443 663l9-13-2-27-9-48z"/>
<path class="l" d="M1452 650l-2-27"/>
<path class="p" d="M1441 575l9 48"/>
<path class="w" d="M1434 639l9 24-2-88-8 74z"/>
<path class="k" d="M1443 663l-2-88"/>
<path class="l" d="M1433 649l8-74"/>
<path class="w" d="M1426 615l8 24-1 10-9-73z"/>
<path class="m" d="M1434 639l-1 10"/>
<path class="p" d="M1424 576l9 73"/>
<path class="w" d="M1417 640l9-25-2-39-9 87z"/>
<path class="n" d="M1426 615l-2-39"/>
<path class="k" d="M1415 663l9-87"/>
<path class="w" d="M1268 604l9-74-2 10-9 50z"/>
<path class="t" d="M1277 530l-2 10"/>
<path class="p" d="M1266 590l9-50"/>
<path class="w" d="M1233 632l9-38-2-26-9 37z"/>
<path class="p" d="M1242 594l-2-26"/>
<path class="o" d="M1231 605l9-37"/>
<path class="n" d="M1233 632l-2-27"/>
<path class="w" d="M1646 610l9 123-2-64-9-11z"/>
<path class="f" d="M1655 733l-2-64"/>
<path class="k" d="M1644 658l9 11"/>
<path class="w" d="M1637 685l9-75-2 48-8-12z"/>
<path class="m" d="M1646 610l-2 48"/>
<path class="k" d="M1636 646l8 12"/>
<path class="w" d="M1629 649l8 36-1-39-9-36z"/>
<path class="i" d="M1637 685l-1-39"/>
<path class="m" d="M1627 610l9 36"/>
<path class="w" d="M1620 662l9-13-2-39-9 50z"/>
<path class="k" d="M1629 649l-2-39-9 50"/>
<path class="w" d="M1611 663l9-1-2-2-9-12z"/>
<path class="k" d="M1620 662l-2-2-9-12"/>
<path class="w" d="M1602 676l9-13-2-15-8 26z"/>
<path class="k" d="M1611 663l-2-15"/>
<path class="j" d="M1601 674l8-26"/>
<path class="w" d="M1585 689l9-25-2 23-9 74z"/>
<path class="k" d="M1594 664l-2 23"/>
<path class="e" d="M1583 761l9-74"/>
<path class="w" d="M1576 727l9-38-2 72-9-97z"/>
<path class="i" d="M1585 689l-2 72"/>
<path class="k" d="M1574 664l9 97"/>
<path class="w" d="M1559 716l8-99-1 23-9 13z"/>
<path class="m" d="M1567 617l-1 23"/>
<path class="k" d="M1557 653l9-13"/>
<path class="w" d="M1480 711l9-87-2 23-9-36z"/>
<path class="m" d="M1489 624l-2 23"/>
<path class="n" d="M1478 611l9 36"/>
<path class="w" d="M1471 650l9 61-2-100-9 13z"/>
<path class="h" d="M1480 711l-2-100"/>
<path class="m" d="M1469 624l9-13"/>
<path class="w" d="M1418 642l9-25-1-2-9 25z"/>
<path class="n" d="M1427 617l-1-2"/>
<path class="m" d="M1417 640l9-25"/>
<path class="w" d="M1278 605l9 24-2-63-8-36z"/>
<path class="n" d="M1287 629l-2-63"/>
<path class="t" d="M1277 530l8 36"/>
<path class="w" d="M1270 557l8 48-1-75-9 74z"/>
<path class="o" d="M1278 605l-1-75-9 74"/>
<path class="w" d="M1235 634l8-50-1 10-9 38z"/>
<path class="q" d="M1243 584l-1 10"/>
<path class="n" d="M1233 632l9-38"/>
<path class="n" d="M1235 634l-2-2"/>
<path class="w" d="M1753 726l9-13-2 11-9-24z"/>
<path class="g" d="M1762 713l-2 11"/>
<path class="h" d="M1751 700l9 24"/>
<path class="w" d="M1744 702l9 24-2-26-9-36z"/>
<path class="f" d="M1753 726l-2-26"/>
<path class="j" d="M1742 664l9 36"/>
<path class="w" d="M1735 740l9-38-2-38-8 50z"/>
<path class="h" d="M1744 702l-2-38"/>
<path class="g" d="M1734 714l8-50"/>
<path class="w" d="M1700 780l9-13-2-14-8-73z"/>
<path class="d" d="M1709 767l-2-14"/>
<path class="i" d="M1699 680l8 73"/>
<path class="w" d="M1692 719l8 61-1-100-9 37z"/>
<path class="d" d="M1700 780l-1-100"/>
<path class="g" d="M1690 717l9-37"/>
<path class="w" d="M1648 698l9 61-2-26-9-123z"/>
<path class="e" d="M1657 759l-2-26"/>
<path class="m" d="M1646 610l9 123"/>
<path class="w" d="M1639 687l9 11-2-88-9 75z"/>
<path class="h" d="M1648 698l-2-88"/>
<path class="i" d="M1637 685l9-75"/>
<path class="w" d="M1630 700l9-13-2-2-8-36z"/>
<path class="i" d="M1639 687l-2-2"/>
<path class="k" d="M1629 649l8 36"/>
<path class="w" d="M1613 665l9 11-2-14-9 1z"/>
<path class="j" d="M1622 676l-2-14"/>
<path class="k" d="M1611 663l9-1"/>
<path class="w" d="M1604 690l9-25-2-2-9 13z"/>
<path class="k" d="M1613 665l-2-2"/>
<path class="j" d="M1602 676l9-13"/>
<path class="w" d="M1560 669l9-62-2 10-8 99z"/>
<path class="n" d="M1569 607l-2 10"/>
<path class="h" d="M1559 716l8-99"/>
<path class="w" d="M1429 668l9-50-2 11-9-12z"/>
<path class="n" d="M1438 618l-2 11-9-12"/>
<path class="w" d="M1420 693l9-25-2-51-9 25z"/>
<path class="k" d="M1429 668l-2-51"/>
<path class="m" d="M1418 642l9-25"/>
<path class="w" d="M1333 590l8-25-1 72-9 1z"/>
<path class="r" d="M1341 565l-1 72"/>
<path class="m" d="M1331 638l9-1"/>
<path class="w" d="M1324 591l9-1-2 48-9-37z"/>
<path class="p" d="M1333 590l-2 48"/>
<path class="o" d="M1322 601l9 37"/>
<path class="w" d="M1306 642l9-124-2 23-8 0z"/>
<path class="t" d="M1315 518l-2 23"/>
<path class="s" d="M1305 541l8 0"/>
<path class="w" d="M1298 618l8 24-1-101-9 1z"/>
<path class="m" d="M1306 642l-1-101"/>
<path class="s" d="M1296 542l9-1"/>
<path class="w" d="M1289 619l9-1-2-76-9 87z"/>
<path class="o" d="M1298 618l-2-76"/>
<path class="n" d="M1287 629l9-87"/>
<path class="w" d="M1245 549l9 48-2-51-9 38z"/>
<path class="p" d="M1254 597l-2-51"/>
<path class="q" d="M1243 584l9-38"/>
<path class="w" d="M1236 623l9-74-2 35-8 50z"/>
<path class="s" d="M1245 549l-2 35"/>
<path class="n" d="M1235 634l8-50"/>
<path class="o" d="M1236 623l-1 11"/>
<path class="w" d="M1781 689l9 36-2 35-9-97z"/>
<path class="f" d="M1790 725l-2 35"/>
<path class="j" d="M1779 663l9 97"/>
<path class="w" d="M1772 739l9-50-2-26-9 74z"/>
<path class="h" d="M1781 689l-2-26"/>
<path class="f" d="M1770 737l9-74"/>
<path class="w" d="M1728 694l9 11-2 35-8 75z"/>
<path class="h" d="M1737 705l-2 35"/>
<path class="a" d="M1727 815l8-75"/>
<path class="w" d="M1720 682l8 12-1 121-9-123z"/>
<path class="h" d="M1728 694l-1 121-9-123"/>
<path class="w" d="M1702 733l9-13-2 47-9 13z"/>
<path class="g" d="M1711 720l-2 47"/>
<path class="d" d="M1700 780l9-13"/>
<path class="w" d="M1693 746l9-13-2 47-8-61z"/>
<path class="f" d="M1702 733l-2 47"/>
<path class="g" d="M1692 719l8 61"/>
<path class="w" d="M1676 723l9-38-2 10-9-48z"/>
<path class="i" d="M1685 685l-2 10"/>
<path class="k" d="M1674 647l9 48"/>
<path class="w" d="M1667 748l9-25-2-76-9 148z"/>
<path class="g" d="M1676 723l-2-76"/>
<path class="c" d="M1665 795l9-148"/>
<path class="w" d="M1658 687l9 61-2 47-8-36z"/>
<path class="f" d="M1667 748l-2 47"/>
<path class="e" d="M1657 759l8 36"/>
<path class="w" d="M1614 703l9-50-1 23-9-11z"/>
<path class="k" d="M1623 653l-1 23-9-11"/>
<path class="w" d="M1606 679l8 24-1-38-9 25z"/>
<path class="h" d="M1614 703l-1-38"/>
<path class="i" d="M1604 690l9-25"/>
<path class="w" d="M1571 670l8 12-1-2-9-73z"/>
<path class="j" d="M1579 682l-1-2"/>
<path class="n" d="M1569 607l9 73"/>
<path class="w" d="M1562 696l9-26-2-63-9 62z"/>
<path class="k" d="M1571 670l-2-63-9 62"/>
<path class="w" d="M1422 658l9-25-2 35-9 25z"/>
<path class="m" d="M1431 633l-2 35"/>
<path class="j" d="M1420 693l9-25"/>
<path class="w" d="M1413 622l9 36-2 35-9-11z"/>
<path class="l" d="M1422 658l-2 35"/>
<path class="k" d="M1411 682l9 11"/>
<path class="w" d="M1404 685l9-63-2 60-8-61z"/>
<path class="n" d="M1413 622l-2 60-8-61"/>
<path class="w" d="M1317 581l9 61-2-51-9-73z"/>
<path class="m" d="M1326 642l-2-51"/>
<path class="t" d="M1315 518l9 73"/>
<path class="w" d="M1308 607l9-26-2-63-9 124z"/>
<path class="q" d="M1317 581l-2-63"/>
<path class="m" d="M1306 642l9-124"/>
<path class="w" d="M1247 637l8-124-1 84-9-48z"/>
<path class="t" d="M1255 513l-1 84"/>
<path class="s" d="M1245 549l9 48"/>
<path class="w" d="M1238 527l9 110-2-88-9 74z"/>
<path class="n" d="M1247 637l-2-88"/>
<path class="o" d="M1236 623l9-74"/>
<path class="t" d="M1238 527l-2 96"/>
<path class="w" d="M1783 740l8-38-1 23-9-36z"/>
<path class="h" d="M1791 702l-1 23-9-36"/>
<path class="w" d="M1774 753l9-13-2-51-9 50z"/>
<path class="f" d="M1783 740l-2-51-9 50"/>
<path class="w" d="M1748 694l8 73-1-63-9 37z"/>
<path class="d" d="M1756 767l-1-63"/>
<path class="f" d="M1746 741l9-37"/>
<path class="w" d="M1730 720l9-1-2-14-9-11z"/>
<path class="g" d="M1739 719l-2-14"/>
<path class="h" d="M1728 694l9 11"/>
<path class="w" d="M1721 684l9 36-2-26-8-12z"/>
<path class="g" d="M1730 720l-2-26"/>
<path class="i" d="M1720 682l8 12"/>
<path class="w" d="M1713 734l8-50-1-2-9 38z"/>
<path class="i" d="M1721 684l-1-2"/>
<path class="g" d="M1711 720l9-38"/>
<path class="w" d="M1686 711l9 49-2-14-8-61z"/>
<path class="e" d="M1695 760l-2-14"/>
<path class="i" d="M1685 685l8 61"/>
<path class="w" d="M1677 761l9-50-1-26-9 38z"/>
<path class="h" d="M1686 711l-1-26"/>
<path class="g" d="M1676 723l9-38"/>
<path class="w" d="M1651 678l9 73-2-64-8-24z"/>
<path class="f" d="M1660 751l-2-64"/>
<path class="k" d="M1650 663l8 24"/>
<path class="w" d="M1642 691l9-13-1-15-9 13z"/>
<path class="j" d="M1651 678l-1-15-9 13"/>
<path class="w" d="M1634 679l8 12-1-15-9 1z"/>
<path class="i" d="M1642 691l-1-15"/>
<path class="j" d="M1632 677l9-1"/>
<path class="w" d="M1494 605l8 24-1 47-9 38z"/>
<path class="m" d="M1502 629l-1 47"/>
<path class="h" d="M1492 714l9-38"/>
<path class="w" d="M1485 630l9-25-2 109-9-24z"/>
<path class="o" d="M1494 605l-2 109"/>
<path class="j" d="M1483 690l9 24"/>
<path class="w" d="M1467 693l9-49-2-15-8 13z"/>
<path class="m" d="M1476 644l-2-15-8 13"/>
<path class="w" d="M1450 670l9-62-2 72-9 25z"/>
<path class="o" d="M1459 608l-2 72"/>
<path class="i" d="M1448 705l9-25"/>
<path class="w" d="M1397 638l9 48-2-1-8-86z"/>
<path class="k" d="M1406 686l-2-1"/>
<path class="o" d="M1396 599l8 86"/>
<path class="w" d="M1388 590l9 48-1-39-9 62z"/>
<path class="m" d="M1397 638l-1-39"/>
<path class="l" d="M1387 661l9-62"/>
<path class="w" d="M1371 616l9 48-2-76-9 63z"/>
<path class="l" d="M1380 664l-2-76"/>
<path class="m" d="M1369 651l9-63"/>
<path class="w" d="M1318 583l9 0-1 59-9-61z"/>
<path class="q" d="M1327 583l-1 59-9-61"/>
<path class="w" d="M1292 586l9-26-2 23-9-61z"/>
<path class="r" d="M1301 560l-2 23"/>
<path class="t" d="M1290 522l9 61"/>
<path class="w" d="M1283 513l9 73-2-64-8 62z"/>
<path class="q" d="M1292 586l-2-64-8 62"/>
<path class="w" d="M1266 576l9-1-2-14-9-12z"/>
<path class="r" d="M1275 575l-2-14"/>
<path class="s" d="M1264 549l9 12"/>
<path class="w" d="M1257 576l9 0-2-27-9-36z"/>
<path class="r" d="M1266 576l-2-27"/>
<path class="t" d="M1255 513l9 36"/>
<path class="w" d="M1248 565l9 11-2-63-8 124z"/>
<path class="r" d="M1257 576l-2-63"/>
<path class="n" d="M1247 637l8-124"/>
<path class="w" d="M1240 590l8-25-1 72-9-110z"/>
<path class="r" d="M1248 565l-1 72"/>
<path class="t" d="M1238 527l9 110"/>
<path class="q" d="M1240 590l-2-63"/>
<path class="w" d="M1767 731l8-1-1 23-9 50z"/>
<path class="f" d="M1775 730l-1 23"/>
<path class="b" d="M1765 803l9-50"/>
<path class="w" d="M1758 757l9-26-2 72-9-36z"/>
<path class="f" d="M1767 731l-2 72"/>
<path class="d" d="M1756 767l9 36"/>
<path class="w" d="M1749 720l9 37-2 10-8-73z"/>
<path class="e" d="M1758 757l-2 10"/>
<path class="h" d="M1748 694l8 73"/>
<path class="w" d="M1740 721l9-1-1-26-9 25z"/>
<path class="g" d="M1749 720l-1-26-9 25"/>
<path class="w" d="M1644 729l9-37-2-14-9 13z"/>
<path class="i" d="M1653 692l-2-14-9 13"/>
<path class="w" d="M1592 722l8-13-1-2-9-86z"/>
<path class="h" d="M1600 709l-1-2"/>
<path class="m" d="M1590 621l9 86"/>
<path class="w" d="M1583 722l9 0-2-101-9 63z"/>
<path class="h" d="M1592 722l-2-101"/>
<path class="j" d="M1581 684l9-63"/>
<path class="w" d="M1530 604l9 36-2-14-8 38z"/>
<path class="m" d="M1539 640l-2-14"/>
<path class="k" d="M1529 664l8-38"/>
<path class="w" d="M1487 608l8 85-1-88-9 25z"/>
<path class="j" d="M1495 693l-1-88"/>
<path class="m" d="M1485 630l9-25"/>
<path class="w" d="M1451 611l9 48-1-51-9 62z"/>
<path class="l" d="M1460 659l-1-51"/>
<path class="k" d="M1450 670l9-62"/>
<path class="w" d="M1425 675l9 11-2-14-8 25z"/>
<path class="k" d="M1434 686l-2-14"/>
<path class="j" d="M1424 697l8-25"/>
<path class="w" d="M1416 602l9 73-1 22-9-48z"/>
<path class="k" d="M1425 675l-1 22"/>
<path class="m" d="M1415 649l9 48"/>
<path class="w" d="M1408 602l8 0-1 47-9 37z"/>
<path class="o" d="M1416 602l-1 47"/>
<path class="k" d="M1406 686l9-37"/>
<path class="w" d="M1399 677l9-75-2 84-9-48z"/>
<path class="o" d="M1408 602l-2 84"/>
<path class="m" d="M1397 638l9 48"/>
<path class="w" d="M1390 653l9 24-2-39-9-48z"/>
<path class="k" d="M1399 677l-2-39"/>
<path class="p" d="M1388 590l9 48"/>
<path class="w" d="M1381 555l9 98-2-63-8 74z"/>
<path class="m" d="M1390 653l-2-63"/>
<path class="l" d="M1380 664l8-74"/>
<path class="w" d="M1311 623l9 24-2-64-8-48z"/>
<path class="m" d="M1320 647l-2-64"/>
<path class="t" d="M1310 535l8 48"/>
<path class="w" d="M1303 611l8 12-1-88-9 25z"/>
<path class="o" d="M1311 623l-1-88"/>
<path class="r" d="M1301 560l9-25"/>
<path class="w" d="M1285 601l9-26-2 11-9-73z"/>
<path class="r" d="M1294 575l-2 11"/>
<path class="t" d="M1283 513l9 73"/>
<path class="w" d="M1276 577l9 24-2-88-8 62z"/>
<path class="p" d="M1285 601l-2-88"/>
<path class="r" d="M1275 575l8-62"/>
<path class="w" d="M1259 627l9-13-2-38-9 0z"/>
<path class="o" d="M1268 614l-2-38"/>
<path class="r" d="M1257 576l9 0"/>
<path class="w" d="M1250 554l9 73-2-51-9-11z"/>
<path class="o" d="M1259 627l-2-51"/>
<path class="r" d="M1248 565l9 11"/>
<path class="w" d="M1241 629l9-75-2 11-8 25z"/>
<path class="s" d="M1250 554l-2 11"/>
<path class="q" d="M1240 590l8-25"/>
<path class="o" d="M1241 629l-1-39"/>
<path class="w" d="M1742 698l9 37-2-15-9 1z"/>
<path class="f" d="M1751 735l-2-15"/>
<path class="g" d="M1740 721l9-1"/>
<path class="w" d="M1707 788l9-100-2 35-9-60z"/>
<path class="i" d="M1716 688l-2 35"/>
<path class="k" d="M1705 663l9 60"/>
<path class="w" d="M1698 727l9 61-2-125-8 74z"/>
<path class="d" d="M1707 788l-2-125"/>
<path class="f" d="M1697 737l8-74"/>
<path class="w" d="M1690 740l8-13-1 10-9 75z"/>
<path class="g" d="M1698 727l-1 10"/>
<path class="b" d="M1688 812l9-75"/>
<path class="w" d="M1681 728l9 12-2 72-9-61z"/>
<path class="f" d="M1690 740l-2 72-9-61"/>
<path class="w" d="M1672 717l9 11-2 23-9-73z"/>
<path class="g" d="M1681 728l-2 23"/>
<path class="j" d="M1670 678l9 73"/>
<path class="w" d="M1663 705l9 12-2-39-8 38z"/>
<path class="h" d="M1672 717l-2-39-8 38"/>
<path class="w" d="M1611 673l9 11-2-14-9 26z"/>
<path class="j" d="M1620 684l-2-14"/>
<path class="i" d="M1609 696l9-26"/>
<path class="w" d="M1585 700l8-1-1 23-9 0z"/>
<path class="i" d="M1593 699l-1 23"/>
<path class="h" d="M1583 722l9 0"/>
<path class="w" d="M1576 713l9-13-2 22-9-48z"/>
<path class="i" d="M1585 700l-2 22"/>
<path class="k" d="M1574 674l9 48"/>
<path class="w" d="M1558 714l9-62-2 84-8-85z"/>
<path class="l" d="M1567 652l-2 84-8-85"/>
<path class="w" d="M1532 667l9 12-2-39-9-36z"/>
<path class="k" d="M1541 679l-2-39"/>
<path class="o" d="M1530 604l9 36"/>
<path class="w" d="M1523 656l9 11-2-63-8-12z"/>
<path class="k" d="M1532 667l-2-63"/>
<path class="o" d="M1522 592l8 12"/>
<path class="w" d="M1514 718l9-62-1-64-9 112z"/>
<path class="l" d="M1523 656l-1-64"/>
<path class="i" d="M1513 704l9-112"/>
<path class="w" d="M1453 686l9-86-2 59-9-48z"/>
<path class="o" d="M1462 600l-2 59-9-48"/>
<path class="w" d="M1444 601l9 85-2-75-8 62z"/>
<path class="k" d="M1453 686l-2-75-8 62"/>
<path class="w" d="M1409 616l9 0-2-14-8 0z"/>
<path class="o" d="M1418 616l-2-14-8 0"/>
<path class="w" d="M1401 617l8-1-1-14-9 75z"/>
<path class="o" d="M1409 616l-1-14"/>
<path class="k" d="M1399 677l9-75"/>
<path class="w" d="M1383 631l9 48-2-26-9-98z"/>
<path class="k" d="M1392 679l-2-26"/>
<path class="r" d="M1381 555l9 98"/>
<path class="w" d="M1374 583l9 48-2-76-8 124z"/>
<path class="n" d="M1383 631l-2-76"/>
<path class="k" d="M1373 679l8-124"/>
<path class="w" d="M1366 571l8 12-1 96-9-36z"/>
<path class="q" d="M1374 583l-1 96"/>
<path class="m" d="M1364 643l9 36"/>
<path class="w" d="M1348 548l9 85-2-26-9 50z"/>
<path class="n" d="M1357 633l-2-26"/>
<path class="m" d="M1346 657l9-50"/>
<path class="w" d="M1339 622l9-74-2 109-8-24z"/>
<path class="s" d="M1348 548l-2 109"/>
<path class="n" d="M1338 633l8 24"/>
<path class="w" d="M1331 623l8-1-1 11-9 1z"/>
<path class="o" d="M1339 622l-1 11"/>
<path class="n" d="M1329 634l9-1"/>
<path class="w" d="M1322 563l9 60-2 11-9 13z"/>
<path class="o" d="M1331 623l-2 11"/>
<path class="m" d="M1320 647l9-13"/>
<path class="w" d="M1313 612l9-49-2 84-9-24z"/>
<path class="r" d="M1322 563l-2 84"/>
<path class="o" d="M1311 623l9 24"/>
<path class="w" d="M1252 581l9 48-2-2-9-73z"/>
<path class="o" d="M1261 629l-2-2"/>
<path class="s" d="M1250 554l9 73"/>
<path class="w" d="M1243 631l9-50-2-27-9 75z"/>
<path class="r" d="M1252 581l-2-27"/>
<path class="o" d="M1241 629l9-75"/>
<path class="o" d="M1243 631l-2-2"/>
<path class="w" d="M1788 684l8 61-1-39-9 26z"/>
<path class="f" d="M1796 745l-1-39-9 26"/>
<path class="w" d="M1779 747l9-63-2 48-9 62z"/>
<path class="i" d="M1788 684l-2 48"/>
<path class="c" d="M1777 794l9-62"/>
<path class="w" d="M1770 735l9 12-2 47-9-36z"/>
<path class="f" d="M1779 747l-2 47"/>
<path class="e" d="M1768 758l9 36"/>
<path class="w" d="M1744 750l9-14-2-1-9-37z"/>
<path class="f" d="M1753 736l-2-1"/>
<path class="h" d="M1742 698l9 37"/>
<path class="w" d="M1735 713l9 37-2-52-9 63z"/>
<path class="f" d="M1744 750l-2-52"/>
<path class="e" d="M1733 761l9-63"/>
<path class="w" d="M1718 739l8-25-1 47-9-73z"/>
<path class="h" d="M1726 714l-1 47"/>
<path class="i" d="M1716 688l9 73"/>
<path class="w" d="M1709 728l9 11-2-51-9 100z"/>
<path class="f" d="M1718 739l-2-51"/>
<path class="d" d="M1707 788l9-100"/>
<path class="w" d="M1656 708l9 24-2-27-8-24z"/>
<path class="g" d="M1665 732l-2-27"/>
<path class="j" d="M1655 681l8 24"/>
<path class="w" d="M1648 733l8-25-1-27-9 38z"/>
<path class="h" d="M1656 708l-1-27-9 38"/>
<path class="w" d="M1612 724l9-75-1 35-9-11z"/>
<path class="l" d="M1621 649l-1 35"/>
<path class="k" d="M1611 673l9 11"/>
<path class="w" d="M1604 700l8 24-1-51-9 38z"/>
<path class="h" d="M1612 724l-1-51-9 38"/>
<path class="w" d="M1516 658l9 24-2-26-9 62z"/>
<path class="k" d="M1525 682l-2-26"/>
<path class="h" d="M1514 718l9-62"/>
<path class="w" d="M1507 635l9 23-2 60-8-98z"/>
<path class="l" d="M1516 658l-2 60"/>
<path class="n" d="M1506 620l8 98"/>
<path class="w" d="M1499 697l8-62-1-15-9-23z"/>
<path class="m" d="M1507 635l-1-15"/>
<path class="o" d="M1497 597l9 23"/>
<path class="w" d="M1490 624l9 73-2-100-9 62z"/>
<path class="j" d="M1499 697l-2-100"/>
<path class="l" d="M1488 659l9-62"/>
<path class="w" d="M1464 688l8-63-1 23-9-48z"/>
<path class="n" d="M1472 625l-1 23"/>
<path class="o" d="M1462 600l9 48"/>
<path class="w" d="M1455 676l9 12-2-88-9 86z"/>
<path class="k" d="M1464 688l-2-88-9 86"/>
<path class="w" d="M1437 616l9-13-2-2-8 13z"/>
<path class="o" d="M1446 603l-2-2-8 13"/>
<path class="w" d="M1429 691l8-75-1-2-9 26z"/>
<path class="o" d="M1437 616l-1-2"/>
<path class="m" d="M1427 640l9-26"/>
<path class="w" d="M1411 680l9-62-2-2-9 0z"/>
<path class="o" d="M1420 618l-2-2-9 0"/>
<path class="w" d="M1376 707l9 0-2-76-9-48z"/>
<path class="j" d="M1385 707l-2-76"/>
<path class="q" d="M1374 583l9 48"/>
<path class="w" d="M1367 634l9 73-2-124-8-12z"/>
<path class="j" d="M1376 707l-2-124"/>
<path class="r" d="M1366 571l8 12"/>
<path class="w" d="M1350 599l9-13-2 47-9-85z"/>
<path class="q" d="M1359 586l-2 47"/>
<path class="s" d="M1348 548l9 85"/>
<path class="w" d="M1341 526l9 73-2-51-9 74z"/>
<path class="p" d="M1350 599l-2-51"/>
<path class="o" d="M1339 622l9-74"/>
<path class="w" d="M1324 626l8-25-1 22-9-60z"/>
<path class="p" d="M1332 601l-1 22"/>
<path class="r" d="M1322 563l9 60"/>
<path class="w" d="M1315 651l9-25-2-63-9 49z"/>
<path class="o" d="M1324 626l-2-63-9 49"/>
<path class="w" d="M1245 620l8-13-1-26-9 50z"/>
<path class="p" d="M1253 607l-1-26"/>
<path class="o" d="M1243 631l9-50"/>
<path class="o" d="M1245 620l-2 11"/>
<path class="w" d="M1789 735l9 12-2-2-8-61z"/>
<path class="f" d="M1798 747l-2-2"/>
<path class="i" d="M1788 684l8 61"/>
<path class="w" d="M1781 761l8-26-1-51-9 63z"/>
<path class="f" d="M1789 735l-1-51-9 63"/>
<path class="w" d="M1763 762l9-25-2-2-9-73z"/>
<path class="f" d="M1772 737l-2-2"/>
<path class="k" d="M1761 662l9 73"/>
<path class="w" d="M1754 726l9 36-2-100-8 74z"/>
<path class="e" d="M1763 762l-2-100"/>
<path class="f" d="M1753 736l8-74"/>
<path class="w" d="M1693 731l9 12-2-14-9-12z"/>
<path class="f" d="M1702 743l-2-14"/>
<path class="h" d="M1691 717l9 12"/>
<path class="w" d="M1684 757l9-26-2-14-8-36z"/>
<path class="g" d="M1693 731l-2-14"/>
<path class="j" d="M1683 681l8 36"/>
<path class="w" d="M1675 671l9 86-1-76-9 50z"/>
<path class="f" d="M1684 757l-1-76"/>
<path class="g" d="M1674 731l9-50"/>
<path class="w" d="M1632 724l8-25-1 10-9-60z"/>
<path class="i" d="M1640 699l-1 10"/>
<path class="l" d="M1630 649l9 60"/>
<path class="w" d="M1623 664l9 60-2-75-9 0z"/>
<path class="h" d="M1632 724l-2-75"/>
<path class="l" d="M1621 649l9 0"/>
<path class="w" d="M1614 738l9-74-2-15-9 75z"/>
<path class="k" d="M1623 664l-2-15"/>
<path class="h" d="M1612 724l9-75"/>
<path class="w" d="M1597 666l8 73-1-39-9-61z"/>
<path class="g" d="M1605 739l-1-39"/>
<path class="m" d="M1595 639l9 61"/>
<path class="w" d="M1588 642l9 24-2-27-9 87z"/>
<path class="k" d="M1597 666l-2-27"/>
<path class="h" d="M1586 726l9-87"/>
<path class="w" d="M1579 643l9-1-2 84-9-60z"/>
<path class="m" d="M1588 642l-2 84"/>
<path class="k" d="M1577 666l9 60"/>
<path class="w" d="M1544 683l9-50-2 96-9-60z"/>
<path class="m" d="M1553 633l-2 96"/>
<path class="k" d="M1542 669l9 60"/>
<path class="w" d="M1483 639l9 61-2-76-9 62z"/>
<path class="j" d="M1492 700l-2-76"/>
<path class="k" d="M1481 686l9-62"/>
<path class="w" d="M1465 689l9-49-2-15-8 63z"/>
<path class="m" d="M1474 640l-2-15"/>
<path class="k" d="M1464 688l8-63"/>
<path class="w" d="M1448 630l9-26-2 72-9-73z"/>
<path class="o" d="M1457 604l-2 72-9-73"/>
<path class="w" d="M1439 655l9-25-2-27-9 13z"/>
<path class="n" d="M1448 630l-2-27"/>
<path class="o" d="M1437 616l9-13"/>
<path class="w" d="M1430 643l9 12-2-39-8 75z"/>
<path class="m" d="M1439 655l-2-39"/>
<path class="k" d="M1429 691l8-75"/>
<path class="w" d="M1413 657l9-38-2-1-9 62z"/>
<path class="o" d="M1422 619l-2-1"/>
<path class="k" d="M1411 680l9-62"/>
<path class="w" d="M1404 572l9 85-2 23-9-49z"/>
<path class="m" d="M1413 657l-2 23"/>
<path class="n" d="M1402 631l9 49"/>
<path class="w" d="M1386 721l9-99-1-14-9 99z"/>
<path class="o" d="M1395 622l-1-14"/>
<path class="j" d="M1385 707l9-99"/>
<path class="w" d="M1378 685l8 36-1-14-9 0z"/>
<path class="i" d="M1386 721l-1-14"/>
<path class="j" d="M1376 707l9 0"/>
<path class="w" d="M1369 612l9 73-2 22-9-73z"/>
<path class="k" d="M1378 685l-2 22"/>
<path class="n" d="M1367 634l9 73"/>
<path class="w" d="M1351 601l9 73-1-88-9 13z"/>
<path class="l" d="M1360 674l-1-88"/>
<path class="p" d="M1350 599l9-13"/>
<path class="w" d="M1343 663l8-62-1-2-9-73z"/>
<path class="p" d="M1351 601l-1-2"/>
<path class="t" d="M1341 526l9 73"/>
<path class="w" d="M1334 578l9 85-2-137-9 75z"/>
<path class="m" d="M1343 663l-2-137"/>
<path class="p" d="M1332 601l9-75"/>
<path class="w" d="M1316 555l9 60-1 11-9 25z"/>
<path class="o" d="M1325 615l-1 11"/>
<path class="m" d="M1315 651l9-25"/>
<path class="w" d="M1308 568l8-13-1 96-9 13z"/>
<path class="s" d="M1316 555l-1 96"/>
<path class="m" d="M1306 664l9-13"/>
<path class="w" d="M1290 582l9 85-2-113-9 38z"/>
<path class="m" d="M1299 667l-2-113"/>
<path class="q" d="M1288 592l9-38"/>
<path class="w" d="M1273 632l8-74-1 59-9-85z"/>
<path class="s" d="M1281 558l-1 59"/>
<path class="t" d="M1271 532l9 85"/>
<path class="w" d="M1264 584l9 48-2-100-9 62z"/>
<path class="o" d="M1273 632l-2-100"/>
<path class="q" d="M1262 594l9-62"/>
<path class="w" d="M1246 610l9 24-2-27-8 13z"/>
<path class="o" d="M1255 634l-2-27-8 13"/>
<path class="p" d="M1246 610l-1 10"/>
<path class="w" d="M1747 778l9-38-2-14-8 1z"/>
<path class="f" d="M1756 740l-2-14"/>
<path class="g" d="M1746 727l8-1"/>
<path class="w" d="M1712 781l9-1-2-2-8-73z"/>
<path class="d" d="M1721 780l-2-2"/>
<path class="h" d="M1711 705l8 73"/>
<path class="w" d="M1703 769l9 12-1-76-9 38z"/>
<path class="d" d="M1712 781l-1-76"/>
<path class="f" d="M1702 743l9-38"/>
<path class="w" d="M1677 772l9-13-2-2-9-86z"/>
<path class="f" d="M1686 759l-2-2"/>
<path class="k" d="M1675 671l9 86"/>
<path class="w" d="M1668 699l9 73-2-101-8 87z"/>
<path class="e" d="M1677 772l-2-101"/>
<path class="f" d="M1667 758l8-87"/>
<path class="w" d="M1625 715l8-13-1 22-9-60z"/>
<path class="i" d="M1633 702l-1 22"/>
<path class="k" d="M1623 664l9 60"/>
<path class="w" d="M1616 715l9 0-2-51-9 74z"/>
<path class="h" d="M1625 715l-2-51"/>
<path class="g" d="M1614 738l9-74"/>
<path class="w" d="M1607 655l9 60-2 23-9 1z"/>
<path class="h" d="M1616 715l-2 23"/>
<path class="g" d="M1605 739l9-1"/>
<path class="w" d="M1590 705l8-25-1-14-9-24z"/>
<path class="k" d="M1598 680l-1-14"/>
<path class="m" d="M1588 642l9 24"/>
<path class="w" d="M1581 657l9 48-2-63-9 1z"/>
<path class="i" d="M1590 705l-2-63"/>
<path class="m" d="M1579 643l9-1"/>
<path class="w" d="M1555 647l8 36-1-14-9-36z"/>
<path class="k" d="M1563 683l-1-14"/>
<path class="m" d="M1553 633l9 36"/>
<path class="w" d="M1546 635l9 12-2-14-9 50z"/>
<path class="m" d="M1555 647l-2-14"/>
<path class="k" d="M1544 683l9-50"/>
<path class="w" d="M1528 686l9-50-2 35-8-61z"/>
<path class="m" d="M1537 636l-2 35"/>
<path class="o" d="M1527 610l8 61"/>
<path class="w" d="M1520 711l8-25-1-76-9 87z"/>
<path class="k" d="M1528 686l-1-76"/>
<path class="j" d="M1518 697l9-87"/>
<path class="w" d="M1511 663l9 48-2-14-9-97z"/>
<path class="i" d="M1520 711l-2-14"/>
<path class="o" d="M1509 600l9 97"/>
<path class="w" d="M1502 676l9-13-2-63-9 13z"/>
<path class="l" d="M1511 663l-2-63"/>
<path class="o" d="M1500 613l9-13"/>
<path class="w" d="M1493 701l9-25-2-63-8 87z"/>
<path class="k" d="M1502 676l-2-63"/>
<path class="j" d="M1492 700l8-87"/>
<path class="w" d="M1485 628l8 73-1-1-9-61z"/>
<path class="j" d="M1493 701l-1-1"/>
<path class="m" d="M1483 639l9 61"/>
<path class="w" d="M1458 643l9-1-2 47-8-85z"/>
<path class="m" d="M1467 642l-2 47"/>
<path class="o" d="M1457 604l8 85"/>
<path class="w" d="M1449 681l9-38-1-39-9 26z"/>
<path class="m" d="M1458 643l-1-39"/>
<path class="n" d="M1448 630l9-26"/>
<path class="w" d="M1441 681l8 0-1-51-9 25z"/>
<path class="k" d="M1449 681l-1-51"/>
<path class="m" d="M1439 655l9-25"/>
<path class="w" d="M1423 634l9 48-2-39-8-24z"/>
<path class="k" d="M1432 682l-2-39"/>
<path class="o" d="M1422 619l8 24"/>
<path class="w" d="M1414 647l9-13-1-15-9 38z"/>
<path class="n" d="M1423 634l-1-15"/>
<path class="m" d="M1413 657l9-38"/>
<path class="w" d="M1406 635l8 12-1 10-9-85z"/>
<path class="m" d="M1414 647l-1 10"/>
<path class="r" d="M1404 572l9 85"/>
<path class="w" d="M1397 599l9 36-2-63-9 50z"/>
<path class="n" d="M1406 635l-2-63"/>
<path class="o" d="M1395 622l9-50"/>
<path class="w" d="M1388 661l9-62-2 23-9 99z"/>
<path class="p" d="M1397 599l-2 23"/>
<path class="i" d="M1386 721l9-99"/>
<path class="w" d="M1379 650l9 11-2 60-8-36z"/>
<path class="m" d="M1388 661l-2 60"/>
<path class="k" d="M1378 685l8 36"/>
<path class="w" d="M1371 650l8 0-1 35-9-73z"/>
<path class="m" d="M1379 650l-1 35"/>
<path class="o" d="M1369 612l9 73"/>
<path class="w" d="M1353 591l9 85-2-2-9-73z"/>
<path class="l" d="M1362 676l-2-2"/>
<path class="p" d="M1351 601l9 73"/>
<path class="w" d="M1344 579l9 12-2 10-8 62z"/>
<path class="q" d="M1353 591l-2 10"/>
<path class="m" d="M1343 663l8-62"/>
<path class="w" d="M1336 567l8 12-1 84-9-85z"/>
<path class="r" d="M1344 579l-1 84-9-85"/>
<path class="w" d="M1318 643l9-62-2 34-9-60z"/>
<path class="r" d="M1327 581l-2 34"/>
<path class="s" d="M1316 555l9 60"/>
<path class="w" d="M1309 607l9 36-2-88-8 13z"/>
<path class="n" d="M1318 643l-2-88"/>
<path class="r" d="M1308 568l8-13"/>
<path class="w" d="M1301 620l8-13-1-39-9 99z"/>
<path class="p" d="M1309 607l-1-39"/>
<path class="m" d="M1299 667l9-99"/>
<path class="w" d="M1292 559l9 61-2 47-9-85z"/>
<path class="o" d="M1301 620l-2 47"/>
<path class="r" d="M1290 582l9 85"/>
<path class="w" d="M1283 646l9-87-2 23-9-24z"/>
<path class="s" d="M1292 559l-2 23-9-24"/>
<path class="w" d="M1274 573l9 73-2-88-8 74z"/>
<path class="n" d="M1283 646l-2-88"/>
<path class="o" d="M1273 632l8-74"/>
<path class="w" d="M1266 610l8-37-1 59-9-48z"/>
<path class="r" d="M1274 573l-1 59-9-48"/>
<path class="w" d="M1257 587l9 23-2-26-9 50z"/>
<path class="p" d="M1266 610l-2-26"/>
<path class="o" d="M1255 634l9-50"/>
<path class="w" d="M1248 612l9-25-2 47-9-24z"/>
<path class="r" d="M1257 587l-2 47"/>
<path class="p" d="M1246 610l9 24"/>
<path class="p" d="M1248 612l-2-2"/>
<path class="w" d="M1784 740l9-25-2 22-9-24z"/>
<path class="h" d="M1793 715l-2 22-9-24"/>
<path class="w" d="M1775 728l9 12-2-27-9 38z"/>
<path class="f" d="M1784 740l-2-27-9 38"/>
<path class="w" d="M1766 729l9-1-2 23-8-61z"/>
<path class="g" d="M1775 728l-2 23"/>
<path class="i" d="M1765 690l8 61"/>
<path class="w" d="M1758 767l8-38-1-39-9 50z"/>
<path class="g" d="M1766 729l-1-39"/>
<path class="f" d="M1756 740l9-50"/>
<path class="w" d="M1740 731l9 12-2 35-9-24z"/>
<path class="f" d="M1749 743l-2 35-9-24"/>
<path class="w" d="M1723 770l8-1-1-2-9 13z"/>
<path class="e" d="M1731 769l-1-2"/>
<path class="d" d="M1721 780l9-13"/>
<path class="w" d="M1714 771l9-1-2 10-9 1z"/>
<path class="e" d="M1723 770l-2 10"/>
<path class="d" d="M1712 781l9-1"/>
<path class="w" d="M1679 688l9 23-2 48-9 13z"/>
<path class="h" d="M1688 711l-2 48"/>
<path class="e" d="M1677 772l9-13"/>
<path class="w" d="M1670 762l9-74-2 84-9-73z"/>
<path class="j" d="M1679 688l-2 84"/>
<path class="i" d="M1668 699l9 73"/>
<path class="w" d="M1653 702l8 24-1-14-9-12z"/>
<path class="h" d="M1661 726l-1-14"/>
<path class="i" d="M1651 700l9 12"/>
<path class="w" d="M1609 718l9-25-2 22-9-60z"/>
<path class="j" d="M1618 693l-2 22"/>
<path class="l" d="M1607 655l9 60"/>
<path class="w" d="M1600 657l9 61-2-63-9 25z"/>
<path class="h" d="M1609 718l-2-63"/>
<path class="k" d="M1598 680l9-25"/>
<path class="w" d="M1556 747l9-62-2-2-8-36z"/>
<path class="k" d="M1565 685l-2-2"/>
<path class="m" d="M1555 647l8 36"/>
<path class="w" d="M1547 687l9 60-1-100-9-12z"/>
<path class="g" d="M1556 747l-1-100"/>
<path class="m" d="M1546 635l9 12"/>
<path class="w" d="M1539 638l8 49-1-52-9 1z"/>
<path class="k" d="M1547 687l-1-52"/>
<path class="m" d="M1537 636l9-1"/>
<path class="w" d="M1530 713l9-75-2-2-9 50z"/>
<path class="m" d="M1539 638l-2-2"/>
<path class="k" d="M1528 686l9-50"/>
<path class="w" d="M1521 640l9 73-2-27-8 25z"/>
<path class="i" d="M1530 713l-2-27-8 25"/>
<path class="w" d="M1512 665l9-25-1 71-9-48z"/>
<path class="m" d="M1521 640l-1 71"/>
<path class="l" d="M1511 663l9 48"/>
<path class="w" d="M1399 724l8-99-1 10-9-36z"/>
<path class="o" d="M1407 625l-1 10"/>
<path class="p" d="M1397 599l9 36"/>
<path class="w" d="M1390 639l9 85-2-125-9 62z"/>
<path class="i" d="M1399 724l-2-125"/>
<path class="m" d="M1388 661l9-62"/>
<path class="w" d="M1364 555l8 48-1 47-9 26z"/>
<path class="p" d="M1372 603l-1 47"/>
<path class="l" d="M1362 676l9-26"/>
<path class="w" d="M1355 654l9-99-2 121-9-85z"/>
<path class="s" d="M1364 555l-2 121"/>
<path class="q" d="M1353 591l9 85"/>
<path class="w" d="M1337 668l9-50-2-39-8-12z"/>
<path class="o" d="M1346 618l-2-39"/>
<path class="r" d="M1336 567l8 12"/>
<path class="w" d="M1329 582l8 86-1-101-9 14z"/>
<path class="m" d="M1337 668l-1-101"/>
<path class="r" d="M1327 581l9-14"/>
<path class="w" d="M1320 608l9-26-2-1-9 62z"/>
<path class="r" d="M1329 582l-2-1"/>
<path class="n" d="M1318 643l9-62"/>
<path class="w" d="M1311 596l9 12-2 35-9-36z"/>
<path class="p" d="M1320 608l-2 35-9-36"/>
<path class="w" d="M1267 588l9 24-2-39-8 37z"/>
<path class="p" d="M1276 612l-2-39-8 37"/>
<path class="w" d="M1250 626l9-1-2-38-9 25z"/>
<path class="o" d="M1259 625l-2-38"/>
<path class="p" d="M1248 612l9-25"/>
<path class="o" d="M1250 626l-2-14"/>
<path class="w" d="M1786 742l8-26-1-1-9 25z"/>
<path class="h" d="M1794 716l-1-1"/>
<path class="f" d="M1784 740l9-25"/>
<path class="w" d="M1681 739l8-1-1-27-9-23z"/>
<path class="g" d="M1689 738l-1-27"/>
<path class="j" d="M1679 688l9 23"/>
<path class="w" d="M1663 666l9 86-2 10-9-36z"/>
<path class="f" d="M1672 752l-2 10"/>
<path class="h" d="M1661 726l9 36"/>
<path class="w" d="M1654 765l9-99-2 60-8-24z"/>
<path class="k" d="M1663 666l-2 60"/>
<path class="i" d="M1653 702l8 24"/>
<path class="w" d="M1646 643l8 122-1-63-9-24z"/>
<path class="f" d="M1654 765l-1-63"/>
<path class="k" d="M1644 678l9 24"/>
<path class="w" d="M1602 733l8-38-1 23-9-61z"/>
<path class="j" d="M1610 695l-1 23"/>
<path class="l" d="M1600 657l9 61"/>
<path class="w" d="M1593 734l9-1-2-76-9 75z"/>
<path class="h" d="M1602 733l-2-76-9 75"/>
<path class="w" d="M1558 725l9-38-2-2-9 62z"/>
<path class="k" d="M1567 687l-2-2"/>
<path class="g" d="M1556 747l9-62"/>
<path class="w" d="M1549 676l9 49-2 22-9-60z"/>
<path class="h" d="M1558 725l-2 22"/>
<path class="k" d="M1547 687l9 60"/>
<path class="w" d="M1540 652l9 24-2 11-8-49z"/>
<path class="k" d="M1549 676l-2 11"/>
<path class="m" d="M1539 638l8 49"/>
<path class="w" d="M1532 678l8-26-1-14-9 75z"/>
<path class="m" d="M1540 652l-1-14"/>
<path class="i" d="M1530 713l9-75"/>
<path class="w" d="M1462 659l8 12-1-51-9 13z"/>
<path class="l" d="M1470 671l-1-51"/>
<path class="n" d="M1460 633l9-13"/>
<path class="w" d="M1453 635l9 24-2-26-9 74z"/>
<path class="m" d="M1462 659l-2-26"/>
<path class="j" d="M1451 707l9-74"/>
<path class="w" d="M1444 661l9-26-2 72-9-73z"/>
<path class="n" d="M1453 635l-2 72-9-73"/>
<path class="w" d="M1435 661l9 0-2-27-8 1z"/>
<path class="m" d="M1444 661l-2-27"/>
<path class="n" d="M1434 635l8-1"/>
<path class="w" d="M1418 663l9 11-2-2-9-73z"/>
<path class="l" d="M1427 674l-2-2"/>
<path class="p" d="M1416 599l9 73"/>
<path class="w" d="M1409 627l9 36-2-64-9 26z"/>
<path class="m" d="M1418 663l-2-64"/>
<path class="o" d="M1407 625l9-26"/>
<path class="w" d="M1400 664l9-37-2-2-8 99z"/>
<path class="o" d="M1409 627l-2-2"/>
<path class="i" d="M1399 724l8-99"/>
<path class="w" d="M1392 628l8 36-1 60-9-85z"/>
<path class="m" d="M1400 664l-1 60"/>
<path class="n" d="M1390 639l9 85"/>
<path class="w" d="M1365 581l9 36-2-14-8-48z"/>
<path class="o" d="M1374 617l-2-14"/>
<path class="s" d="M1364 555l8 48"/>
<path class="w" d="M1357 607l8-26-1-26-9 99z"/>
<path class="r" d="M1365 581l-1-26"/>
<path class="m" d="M1355 654l9-99"/>
<path class="w" d="M1348 632l9-25-2 47-9-36z"/>
<path class="p" d="M1357 607l-2 47"/>
<path class="o" d="M1346 618l9 36"/>
<path class="w" d="M1339 596l9 36-2-14-9 50z"/>
<path class="o" d="M1348 632l-2-14"/>
<path class="m" d="M1337 668l9-50"/>
<path class="w" d="M1330 621l9-25-2 72-8-86z"/>
<path class="q" d="M1339 596l-2 72"/>
<path class="r" d="M1329 582l8 86"/>
<path class="w" d="M1295 612l9-62-2-2-8 25z"/>
<path class="t" d="M1304 550l-2-2"/>
<path class="r" d="M1294 573l8-25"/>
<path class="w" d="M1260 603l9-13-2-2-8 37z"/>
<path class="r" d="M1269 590l-2-2"/>
<path class="o" d="M1259 625l8-37"/>
<path class="w" d="M1251 603l9 0-1 22-9 1z"/>
<path class="q" d="M1260 603l-1 22"/>
<path class="o" d="M1250 626l9-1"/>
<path class="q" d="M1251 603l-1 23"/>
<path class="w" d="M1796 768l9 11-2-63-9 0z"/>
<path class="d" d="M1805 779l-2-63"/>
<path class="h" d="M1794 716l9 0"/>
<path class="w" d="M1787 744l9 24-2-52-8 26z"/>
<path class="e" d="M1796 768l-2-52"/>
<path class="f" d="M1786 742l8-26"/>
<path class="w" d="M1752 771l9-74-2 22-8 38z"/>
<path class="i" d="M1761 697l-2 22"/>
<path class="f" d="M1751 757l8-38"/>
<path class="w" d="M1735 736l9 36-2 23-9-36z"/>
<path class="e" d="M1744 772l-2 23"/>
<path class="f" d="M1733 759l9 36"/>
<path class="w" d="M1726 724l9 12-2 23-9 13z"/>
<path class="g" d="M1735 736l-2 23"/>
<path class="e" d="M1724 772l9-13"/>
<path class="w" d="M1717 750l9-26-2 48-8-36z"/>
<path class="h" d="M1726 724l-2 48"/>
<path class="g" d="M1716 736l8 36"/>
<path class="w" d="M1709 738l8 12-1-14-9-37z"/>
<path class="f" d="M1717 750l-1-14"/>
<path class="i" d="M1707 699l9 37"/>
<path class="w" d="M1700 739l9-1-2-39-9 87z"/>
<path class="g" d="M1709 738l-2-39"/>
<path class="d" d="M1698 786l9-87"/>
<path class="w" d="M1691 715l9 24-2 47-9-48z"/>
<path class="g" d="M1700 739l-2 47-9-48"/>
<path class="w" d="M1665 705l8 36-1 11-9-86z"/>
<path class="g" d="M1673 741l-1 11"/>
<path class="k" d="M1663 666l9 86"/>
<path class="w" d="M1647 707l9 60-2-2-8-122z"/>
<path class="f" d="M1656 767l-2-2"/>
<path class="m" d="M1646 643l8 122"/>
<path class="w" d="M1638 720l9-13-1-64-9 38z"/>
<path class="i" d="M1647 707l-1-64"/>
<path class="k" d="M1637 681l9-38"/>
<path class="w" d="M1630 684l8 36-1-39-9 74z"/>
<path class="h" d="M1638 720l-1-39"/>
<path class="f" d="M1628 755l9-74"/>
<path class="w" d="M1621 709l9-25-2 71-9-48z"/>
<path class="k" d="M1630 684l-2 71"/>
<path class="i" d="M1619 707l9 48"/>
<path class="w" d="M1551 690l9-25-2 60-9-49z"/>
<path class="l" d="M1560 665l-2 60"/>
<path class="k" d="M1549 676l9 49"/>
<path class="w" d="M1542 753l9-63-2-14-9-24z"/>
<path class="k" d="M1551 690l-2-14"/>
<path class="m" d="M1540 652l9 24"/>
<path class="w" d="M1533 667l9 86-2-101-8 26z"/>
<path class="g" d="M1542 753l-2-101"/>
<path class="k" d="M1532 678l8-26"/>
<path class="w" d="M1498 646l9 23-2-26-8-24z"/>
<path class="l" d="M1507 669l-2-26"/>
<path class="o" d="M1497 619l8 24"/>
<path class="w" d="M1490 634l8 12-1-27-9 13z"/>
<path class="m" d="M1498 646l-1-27"/>
<path class="n" d="M1488 632l9-13"/>
<path class="w" d="M1455 686l8-13-1-14-9-24z"/>
<path class="l" d="M1463 673l-1-14"/>
<path class="n" d="M1453 635l9 24"/>
<path class="w" d="M1446 662l9 24-2-51-9 26z"/>
<path class="k" d="M1455 686l-2-51"/>
<path class="m" d="M1444 661l9-26"/>
<path class="w" d="M1384 643l9-13-1-2-9 1z"/>
<path class="o" d="M1393 630l-1-2-9 1"/>
<path class="w" d="M1367 595l9 37-2-15-9-36z"/>
<path class="o" d="M1376 632l-2-15"/>
<path class="r" d="M1365 581l9 36"/>
<path class="w" d="M1358 596l9-1-2-14-8 26z"/>
<path class="q" d="M1367 595l-2-14"/>
<path class="p" d="M1357 607l8-26"/>
<path class="w" d="M1349 560l9 36-1 11-9 25z"/>
<path class="q" d="M1358 596l-1 11"/>
<path class="o" d="M1348 632l9-25"/>
<path class="w" d="M1341 610l8-50-1 72-9-36z"/>
<path class="s" d="M1349 560l-1 72"/>
<path class="q" d="M1339 596l9 36"/>
<path class="w" d="M1323 636l9-50-2 35-9-36z"/>
<path class="r" d="M1332 586l-2 35-9-36"/>
<path class="w" d="M1314 612l9 24-2-51-8 87z"/>
<path class="o" d="M1323 636l-2-51"/>
<path class="m" d="M1313 672l8-87"/>
<path class="w" d="M1306 687l8-75-1 60-9-122z"/>
<path class="p" d="M1314 612l-1 60"/>
<path class="t" d="M1304 550l9 122"/>
<path class="w" d="M1297 565l9 122-2-137-9 62z"/>
<path class="l" d="M1306 687l-2-137"/>
<path class="p" d="M1295 612l9-62"/>
<path class="w" d="M1262 605l9 23-2-38-9 13z"/>
<path class="o" d="M1271 628l-2-38"/>
<path class="q" d="M1260 603l9-13"/>
<path class="w" d="M1253 581l9 24-2-2-9 0z"/>
<path class="q" d="M1262 605l-2-2-9 0"/>
<path class="r" d="M1253 581l-2 22"/>
<path class="w" d="M1780 783l9-1-2-38-8-24z"/>
<path class="d" d="M1789 782l-2-38"/>
<path class="h" d="M1779 720l8 24"/>
<path class="w" d="M1771 661l9 122-1-63-9 38z"/>
<path class="d" d="M1780 783l-1-63"/>
<path class="f" d="M1770 758l9-38"/>
<path class="w" d="M1763 748l8-87-1 97-9-61z"/>
<path class="k" d="M1771 661l-1 97"/>
<path class="i" d="M1761 697l9 61"/>
<path class="w" d="M1754 773l9-25-2-51-9 74z"/>
<path class="f" d="M1763 748l-2-51"/>
<path class="e" d="M1752 771l9-74"/>
<path class="w" d="M1693 742l8-1-1-2-9-24z"/>
<path class="g" d="M1701 741l-1-2"/>
<path class="h" d="M1691 715l9 24"/>
<path class="w" d="M1684 718l9 24-2-27-9 1z"/>
<path class="g" d="M1693 742l-2-27"/>
<path class="h" d="M1682 716l9-1"/>
<path class="w" d="M1666 633l9 135-2-27-8-36z"/>
<path class="f" d="M1675 768l-2-27"/>
<path class="i" d="M1665 705l8 36"/>
<path class="w" d="M1658 708l8-75-1 72-9 62z"/>
<path class="m" d="M1666 633l-1 72"/>
<path class="f" d="M1656 767l9-62"/>
<path class="w" d="M1649 758l9-50-2 59-9-60z"/>
<path class="i" d="M1658 708l-2 59-9-60"/>
<path class="w" d="M1631 722l9-13-2 11-8-36z"/>
<path class="i" d="M1640 709l-2 11"/>
<path class="k" d="M1630 684l8 36"/>
<path class="w" d="M1605 712l9 36-2-63-9 87z"/>
<path class="g" d="M1614 748l-2-63"/>
<path class="f" d="M1603 772l9-87"/>
<path class="w" d="M1596 652l9 60-2 60-8-36z"/>
<path class="i" d="M1605 712l-2 60"/>
<path class="h" d="M1595 736l8 36"/>
<path class="w" d="M1588 738l8-86-1 84-9-86z"/>
<path class="m" d="M1596 652l-1 84-9-86"/>
<path class="w" d="M1579 678l9 60-2-88-9-11z"/>
<path class="h" d="M1588 738l-2-88"/>
<path class="m" d="M1577 639l9 11"/>
<path class="w" d="M1570 703l9-25-2-39-9 1z"/>
<path class="k" d="M1579 678l-2-39"/>
<path class="m" d="M1568 640l9-1"/>
<path class="w" d="M1561 679l9 24-2-63-8 25z"/>
<path class="j" d="M1570 703l-2-63"/>
<path class="l" d="M1560 665l8-25"/>
<path class="w" d="M1544 668l9 24-2-2-9 63z"/>
<path class="k" d="M1553 692l-2-2"/>
<path class="g" d="M1542 753l9-63"/>
<path class="w" d="M1535 681l9-13-2 85-9-86z"/>
<path class="l" d="M1544 668l-2 85-9-86"/>
<path class="w" d="M1526 658l9 23-2-14-8-11z"/>
<path class="k" d="M1535 681l-2-14"/>
<path class="m" d="M1525 656l8 11"/>
<path class="w" d="M1483 661l8-13-1-14-9 111z"/>
<path class="m" d="M1491 648l-1-14"/>
<path class="h" d="M1481 745l9-111"/>
<path class="w" d="M1474 662l9-1-2 84-9-60z"/>
<path class="m" d="M1483 661l-2 84"/>
<path class="k" d="M1472 685l9 60"/>
<path class="w" d="M1430 654l9-1-2-2-9-36z"/>
<path class="m" d="M1439 653l-2-2"/>
<path class="o" d="M1428 615l9 36"/>
<path class="w" d="M1421 630l9 24-2-39-8 50z"/>
<path class="m" d="M1430 654l-2-39-8 50"/>
<path class="w" d="M1412 643l9-13-1 35-9-36z"/>
<path class="o" d="M1421 630l-1 35-9-36"/>
<path class="w" d="M1404 668l8-25-1-14-9-24z"/>
<path class="n" d="M1412 643l-1-14"/>
<path class="p" d="M1402 605l9 24"/>
<path class="w" d="M1395 706l9-38-2-63-9 25z"/>
<path class="m" d="M1404 668l-2-63"/>
<path class="o" d="M1393 630l9-25"/>
<path class="w" d="M1386 657l9 49-2-76-9 13z"/>
<path class="k" d="M1395 706l-2-76"/>
<path class="n" d="M1384 643l9-13"/>
<path class="w" d="M1369 671l8-50-1 11-9-37z"/>
<path class="o" d="M1377 621l-1 11"/>
<path class="q" d="M1367 595l9 37"/>
<path class="w" d="M1360 610l9 61-2-76-9 1z"/>
<path class="m" d="M1369 671l-2-76"/>
<path class="q" d="M1358 596l9-1"/>
<path class="w" d="M1351 574l9 36-2-14-9-36z"/>
<path class="p" d="M1360 610l-2-14"/>
<path class="s" d="M1349 560l9 36"/>
<path class="w" d="M1342 649l9-75-2-14-8 50z"/>
<path class="r" d="M1351 574l-2-14"/>
<path class="p" d="M1341 610l8-50"/>
<path class="w" d="M1325 589l9 11-2-14-9 50z"/>
<path class="q" d="M1334 600l-2-14"/>
<path class="o" d="M1323 636l9-50"/>
<path class="w" d="M1316 639l9-50-2 47-9-24z"/>
<path class="r" d="M1325 589l-2 47"/>
<path class="p" d="M1314 612l9 24"/>
<path class="w" d="M1307 553l9 86-2-27-8 75z"/>
<path class="o" d="M1316 639l-2-27"/>
<path class="l" d="M1306 687l8-75"/>
<path class="w" d="M1299 628l8-75-1 134-9-122z"/>
<path class="t" d="M1307 553l-1 134"/>
<path class="s" d="M1297 565l9 122"/>
<path class="w" d="M1290 592l9 36-2-63-9-36z"/>
<path class="o" d="M1299 628l-2-63"/>
<path class="t" d="M1288 529l9 36"/>
<path class="w" d="M1281 568l9 24-2-63-9 74z"/>
<path class="r" d="M1290 592l-2-63"/>
<path class="q" d="M1279 603l9-74"/>
<path class="w" d="M1255 583l9 48-2-26-9-24z"/>
<path class="o" d="M1264 631l-2-26"/>
<path class="r" d="M1253 581l9 24"/>
<path class="r" d="M1255 583l-2-2"/>
<path class="w" d="M1791 772l8-38-1 23-9 25z"/>
<path class="g" d="M1799 734l-1 23"/>
<path class="d" d="M1789 782l9-25"/>
<path class="w" d="M1782 724l9 48-2 10-9 1z"/>
<path class="e" d="M1791 772l-2 10"/>
<path class="d" d="M1780 783l9-1"/>
<path class="w" d="M1773 737l9-13-2 59-9-122z"/>
<path class="h" d="M1782 724l-2 59"/>
<path class="k" d="M1771 661l9 122"/>
<path class="w" d="M1764 725l9 12-2-76-8 87z"/>
<path class="g" d="M1773 737l-2-76"/>
<path class="f" d="M1763 748l8-87"/>
<path class="w" d="M1747 764l9-26-2 35-9-73z"/>
<path class="g" d="M1756 738l-2 35"/>
<path class="i" d="M1745 700l9 73"/>
<path class="w" d="M1738 703l9 61-2-64-9 50z"/>
<path class="f" d="M1747 764l-2-64-9 50"/>
<path class="w" d="M1721 766l8-50-1 23-9 50z"/>
<path class="h" d="M1729 716l-1 23"/>
<path class="d" d="M1719 789l9-50"/>
<path class="w" d="M1712 754l9 12-2 23-9 13z"/>
<path class="f" d="M1721 766l-2 23"/>
<path class="d" d="M1710 802l9-13"/>
<path class="w" d="M1703 755l9-1-2 48-9-61z"/>
<path class="f" d="M1712 754l-2 48"/>
<path class="g" d="M1701 741l9 61"/>
<path class="w" d="M1686 757l8 23-1-38-9-24z"/>
<path class="e" d="M1694 780l-1-38"/>
<path class="h" d="M1684 718l9 24"/>
<path class="w" d="M1677 708l9 49-2-39-9 50z"/>
<path class="f" d="M1686 757l-2-39-9 50"/>
<path class="w" d="M1668 721l9-13-2 60-9-135z"/>
<path class="i" d="M1677 708l-2 60"/>
<path class="m" d="M1666 633l9 135"/>
<path class="w" d="M1659 734l9-13-2-88-8 75z"/>
<path class="h" d="M1668 721l-2-88"/>
<path class="i" d="M1658 708l8-75"/>
<path class="w" d="M1651 710l8 24-1-26-9 50z"/>
<path class="h" d="M1659 734l-1-26"/>
<path class="f" d="M1649 758l9-50"/>
<path class="w" d="M1642 711l9-1-2 48-9-49z"/>
<path class="i" d="M1651 710l-2 48-9-49"/>
<path class="w" d="M1616 677l8 36-1-2-9 37z"/>
<path class="i" d="M1624 713l-1-2"/>
<path class="g" d="M1614 748l9-37"/>
<path class="w" d="M1607 702l9-25-2 71-9-36z"/>
<path class="k" d="M1616 677l-2 71"/>
<path class="i" d="M1605 712l9 36"/>
<path class="w" d="M1589 667l9-14-2-1-8 86z"/>
<path class="m" d="M1598 653l-2-1"/>
<path class="h" d="M1588 738l8-86"/>
<path class="w" d="M1581 716l8-49-1 71-9-60z"/>
<path class="l" d="M1589 667l-1 71"/>
<path class="k" d="M1579 678l9 60"/>
<path class="w" d="M1572 742l9-26-2-38-9 25z"/>
<path class="i" d="M1581 716l-2-38"/>
<path class="j" d="M1570 703l9-25"/>
<path class="w" d="M1545 707l9-1-1-14-9-24z"/>
<path class="j" d="M1554 706l-1-14"/>
<path class="l" d="M1544 668l9 24"/>
<path class="w" d="M1537 671l8 36-1-39-9 13z"/>
<path class="j" d="M1545 707l-1-39"/>
<path class="k" d="M1535 681l9-13"/>
<path class="w" d="M1528 746l9-75-2 10-9-23z"/>
<path class="l" d="M1537 671l-2 10"/>
<path class="m" d="M1526 658l9 23"/>
<path class="w" d="M1449 691l9-38-2 11-9-12z"/>
<path class="m" d="M1458 653l-2 11-9-12"/>
<path class="w" d="M1440 679l9 12-2-39-8 1z"/>
<path class="k" d="M1449 691l-2-39"/>
<path class="m" d="M1439 653l8-1"/>
<path class="w" d="M1432 631l8 48-1-26-9 1z"/>
<path class="l" d="M1440 679l-1-26"/>
<path class="m" d="M1430 654l9-1"/>
<path class="w" d="M1423 681l9-50-2 23-9-24z"/>
<path class="o" d="M1432 631l-2 23-9-24"/>
<path class="w" d="M1414 632l9 49-2-51-9 13z"/>
<path class="l" d="M1423 681l-2-51"/>
<path class="n" d="M1412 643l9-13"/>
<path class="w" d="M1405 658l9-26-2 11-8 25z"/>
<path class="o" d="M1414 632l-2 11"/>
<path class="m" d="M1404 668l8-25"/>
<path class="w" d="M1397 634l8 24-1 10-9 38z"/>
<path class="m" d="M1405 658l-1 10"/>
<path class="k" d="M1395 706l9-38"/>
<path class="w" d="M1388 635l9-1-2 72-9-49z"/>
<path class="o" d="M1397 634l-2 72"/>
<path class="m" d="M1386 657l9 49"/>
<path class="w" d="M1370 624l9-13-2 10-8 50z"/>
<path class="p" d="M1379 611l-2 10"/>
<path class="m" d="M1369 671l8-50"/>
<path class="w" d="M1362 612l8 12-1 47-9-61z"/>
<path class="o" d="M1370 624l-1 47"/>
<path class="p" d="M1360 610l9 61"/>
<path class="w" d="M1344 602l9-13-2-15-9 75z"/>
<path class="r" d="M1353 589l-2-15"/>
<path class="n" d="M1342 649l9-75"/>
<path class="w" d="M1335 651l9-49-2 47-8-49z"/>
<path class="q" d="M1344 602l-2 47-8-49"/>
<path class="w" d="M1318 592l9-1-2-2-9 50z"/>
<path class="r" d="M1327 591l-2-2"/>
<path class="o" d="M1316 639l9-50"/>
<path class="w" d="M1309 654l9-62-2 47-9-86z"/>
<path class="r" d="M1318 592l-2 47"/>
<path class="t" d="M1307 553l9 86"/>
<path class="w" d="M1300 556l9 98-2-101-8 75z"/>
<path class="n" d="M1309 654l-2-101"/>
<path class="o" d="M1299 628l8-75"/>
<path class="w" d="M1292 655l8-99-1 72-9-36z"/>
<path class="t" d="M1300 556l-1 72"/>
<path class="r" d="M1290 592l9 36"/>
<path class="w" d="M1283 607l9 48-2-63-9-24z"/>
<path class="n" d="M1292 655l-2-63"/>
<path class="s" d="M1281 568l9 24"/>
<path class="w" d="M1274 644l9-37-2-39-9 25z"/>
<path class="q" d="M1283 607l-2-39"/>
<path class="r" d="M1272 593l9-25"/>
<path class="w" d="M1257 572l8 36-1 23-9-48z"/>
<path class="q" d="M1265 608l-1 23"/>
<path class="r" d="M1255 583l9 48"/>
<path class="s" d="M1257 572l-2 11"/>
<path class="w" d="M1801 798l9-13-2-88-9 37z"/>
<path class="d" d="M1810 785l-2-88"/>
<path class="g" d="M1799 734l9-37"/>
<path class="w" d="M1792 774l9 24-2-64-8 38z"/>
<path class="d" d="M1801 798l-2-64"/>
<path class="e" d="M1791 772l8-38"/>
<path class="w" d="M1784 750l8 24-1-2-9-48z"/>
<path class="e" d="M1792 774l-1-2"/>
<path class="h" d="M1782 724l9 48"/>
<path class="w" d="M1775 776l9-26-2-26-9 13z"/>
<path class="f" d="M1784 750l-2-26"/>
<path class="g" d="M1773 737l9-13"/>
<path class="w" d="M1766 764l9 12-2-39-9-12z"/>
<path class="e" d="M1775 776l-2-39"/>
<path class="h" d="M1764 725l9 12"/>
<path class="w" d="M1757 777l9-13-2-39-8 13z"/>
<path class="f" d="M1766 764l-2-39"/>
<path class="g" d="M1756 738l8-13"/>
<path class="w" d="M1749 778l8-1-1-39-9 26z"/>
<path class="e" d="M1757 777l-1-39"/>
<path class="f" d="M1747 764l9-26"/>
<path class="w" d="M1740 729l9 49-2-14-9-61z"/>
<path class="e" d="M1749 778l-2-14"/>
<path class="i" d="M1738 703l9 61"/>
<path class="w" d="M1731 792l9-63-2-26-9 13z"/>
<path class="h" d="M1740 729l-2-26-9 13"/>
<path class="w" d="M1722 731l9 61-2-76-8 50z"/>
<path class="d" d="M1731 792l-2-76"/>
<path class="f" d="M1721 766l8-50"/>
<path class="w" d="M1714 744l8-13-1 35-9-12z"/>
<path class="h" d="M1722 731l-1 35"/>
<path class="f" d="M1712 754l9 12"/>
<path class="w" d="M1705 732l9 12-2 10-9 1z"/>
<path class="g" d="M1714 744l-2 10"/>
<path class="f" d="M1703 755l9-1"/>
<path class="w" d="M1696 758l9-26-2 23-9 25z"/>
<path class="h" d="M1705 732l-2 23"/>
<path class="e" d="M1694 780l9-25"/>
<path class="w" d="M1687 746l9 12-2 22-8-23z"/>
<path class="f" d="M1696 758l-2 22-8-23"/>
<path class="w" d="M1679 747l8-1-1 11-9-49z"/>
<path class="g" d="M1687 746l-1 11"/>
<path class="i" d="M1677 708l9 49"/>
<path class="w" d="M1635 689l9-1-2 23-9 62z"/>
<path class="k" d="M1644 688l-2 23"/>
<path class="f" d="M1633 773l9-62"/>
<path class="w" d="M1626 727l9-38-2 84-9-60z"/>
<path class="k" d="M1635 689l-2 84"/>
<path class="i" d="M1624 713l9 60"/>
<path class="w" d="M1617 703l9 24-2-14-8-36z"/>
<path class="h" d="M1626 727l-2-14"/>
<path class="k" d="M1616 677l8 36"/>
<path class="w" d="M1608 728l9-25-1-26-9 25z"/>
<path class="j" d="M1617 703l-1-26-9 25"/>
<path class="w" d="M1600 705l8 23-1-26-9-49z"/>
<path class="h" d="M1608 728l-1-26"/>
<path class="m" d="M1598 653l9 49"/>
<path class="w" d="M1591 742l9-37-2-52-9 14z"/>
<path class="j" d="M1600 705l-2-52"/>
<path class="l" d="M1589 667l9-14"/>
<path class="w" d="M1582 694l9 48-2-75-8 49z"/>
<path class="h" d="M1591 742l-2-75"/>
<path class="i" d="M1581 716l8-49"/>
<path class="w" d="M1573 682l9 12-1 22-9 26z"/>
<path class="k" d="M1582 694l-1 22"/>
<path class="h" d="M1572 742l9-26"/>
<path class="w" d="M1565 671l8 11-1 60-9-12z"/>
<path class="k" d="M1573 682l-1 60"/>
<path class="h" d="M1563 730l9 12"/>
<path class="w" d="M1556 671l9 0-2 59-9-24z"/>
<path class="l" d="M1565 671l-2 59"/>
<path class="j" d="M1554 706l9 24"/>
<path class="w" d="M1547 672l9-1-2 35-9 1z"/>
<path class="l" d="M1556 671l-2 35"/>
<path class="j" d="M1545 707l9-1"/>
<path class="w" d="M1538 673l9-1-2 35-8-36z"/>
<path class="l" d="M1547 672l-2 35-8-36"/>
<path class="w" d="M1530 698l8-25-1-2-9 75z"/>
<path class="l" d="M1538 673l-1-2"/>
<path class="h" d="M1528 746l9-75"/>
<path class="w" d="M1521 613l9 85-2 48-9-73z"/>
<path class="k" d="M1530 698l-2 48"/>
<path class="l" d="M1519 673l9 73"/>
<path class="w" d="M1512 614l9-1-2 60-9 0z"/>
<path class="o" d="M1521 613l-2 60"/>
<path class="l" d="M1510 673l9 0"/>
<path class="w" d="M1468 654l9 36-2-51-8-23z"/>
<path class="k" d="M1477 690l-2-51"/>
<path class="o" d="M1467 616l8 23"/>
<path class="w" d="M1460 631l8 23-1-38-9 37z"/>
<path class="m" d="M1468 654l-1-38-9 37"/>
<path class="w" d="M1416 647l9 23-2 11-9-49z"/>
<path class="m" d="M1425 670l-2 11"/>
<path class="o" d="M1414 632l9 49"/>
<path class="w" d="M1407 660l9-13-2-15-9 26z"/>
<path class="n" d="M1416 647l-2-15"/>
<path class="m" d="M1405 658l9-26"/>
<path class="w" d="M1390 673l8-13-1-26-9 1z"/>
<path class="m" d="M1398 660l-1-26"/>
<path class="o" d="M1388 635l9-1"/>
<path class="w" d="M1381 662l9 11-2-38-9-24z"/>
<path class="m" d="M1390 673l-2-38"/>
<path class="p" d="M1379 611l9 24"/>
<path class="w" d="M1372 663l9-1-2-51-9 13z"/>
<path class="m" d="M1381 662l-2-51"/>
<path class="o" d="M1370 624l9-13"/>
<path class="w" d="M1363 651l9 12-2-39-8-12z"/>
<path class="m" d="M1372 663l-2-39"/>
<path class="p" d="M1362 612l8 12"/>
<path class="w" d="M1355 627l8 24-1-39-9-23z"/>
<path class="n" d="M1363 651l-1-39"/>
<path class="r" d="M1353 589l9 23"/>
<path class="w" d="M1346 579l9 48-2-38-9 13z"/>
<path class="o" d="M1355 627l-2-38"/>
<path class="q" d="M1344 602l9-13"/>
<path class="w" d="M1337 580l9-1-2 23-9 49z"/>
<path class="r" d="M1346 579l-2 23"/>
<path class="n" d="M1335 651l9-49"/>
<path class="w" d="M1328 568l9 12-2 71-8-60z"/>
<path class="r" d="M1337 580l-2 71-8-60"/>
<path class="w" d="M1311 594l8-1-1-1-9 62z"/>
<path class="r" d="M1319 593l-1-1"/>
<path class="n" d="M1309 654l9-62"/>
<path class="w" d="M1302 632l9-38-2 60-9-98z"/>
<path class="r" d="M1311 594l-2 60"/>
<path class="t" d="M1300 556l9 98"/>
<path class="w" d="M1293 583l9 49-2-76-8 99z"/>
<path class="o" d="M1302 632l-2-76"/>
<path class="n" d="M1292 655l8-99"/>
<path class="w" d="M1284 658l9-75-1 72-9-48z"/>
<path class="r" d="M1293 583l-1 72"/>
<path class="q" d="M1283 607l9 48"/>
<path class="w" d="M1267 598l9 61-2-15-9-36z"/>
<path class="n" d="M1276 659l-2-15"/>
<path class="q" d="M1265 608l9 36"/>
<path class="w" d="M1258 623l9-25-2 10-8-36z"/>
<path class="r" d="M1267 598l-2 10"/>
<path class="s" d="M1257 572l8 36"/>
<path class="p" d="M1258 623l-1-51"/>
<path class="w" d="M1803 763l9-25-2 47-9 13z"/>
<path class="g" d="M1812 738l-2 47"/>
<path class="d" d="M1801 798l9-13"/>
<path class="w" d="M1794 727l9 36-2 35-9-24z"/>
<path class="f" d="M1803 763l-2 35"/>
<path class="e" d="M1792 774l9 24"/>
<path class="w" d="M1785 752l9-25-2 47-8-24z"/>
<path class="h" d="M1794 727l-2 47"/>
<path class="f" d="M1784 750l8 24"/>
<path class="w" d="M1777 765l8-13-1-2-9 26z"/>
<path class="f" d="M1785 752l-1-2"/>
<path class="e" d="M1775 776l9-26"/>
<path class="w" d="M1768 766l9-1-2 11-9-12z"/>
<path class="f" d="M1777 765l-2 11-9-12"/>
<path class="w" d="M1759 779l9-13-2-2-9 13z"/>
<path class="f" d="M1768 766l-2-2"/>
<path class="e" d="M1757 777l9-13"/>
<path class="w" d="M1750 743l9 36-2-2-8 1z"/>
<path class="e" d="M1759 779l-2-2-8 1"/>
<path class="w" d="M1742 780l8-37-1 35-9-49z"/>
<path class="g" d="M1750 743l-1 35"/>
<path class="h" d="M1740 729l9 49"/>
<path class="w" d="M1733 781l9-1-2-51-9 63z"/>
<path class="e" d="M1742 780l-2-51"/>
<path class="d" d="M1731 792l9-63"/>
<path class="w" d="M1724 671l9 110-2 11-9-61z"/>
<path class="e" d="M1733 781l-2 11"/>
<path class="h" d="M1722 731l9 61"/>
<path class="w" d="M1715 709l9-38-2 60-8 13z"/>
<path class="k" d="M1724 671l-2 60"/>
<path class="g" d="M1714 744l8-13"/>
<path class="w" d="M1706 796l9-87-1 35-9-12z"/>
<path class="i" d="M1715 709l-1 35"/>
<path class="h" d="M1705 732l9 12"/>
<path class="w" d="M1689 736l9 24-2-2-9-12z"/>
<path class="f" d="M1698 760l-2-2"/>
<path class="g" d="M1687 746l9 12"/>
<path class="w" d="M1680 675l9 61-2 10-8 1z"/>
<path class="h" d="M1689 736l-2 10"/>
<path class="g" d="M1679 747l8-1"/>
<path class="w" d="M1671 713l9-38-1 72-9-24z"/>
<path class="k" d="M1680 675l-1 72"/>
<path class="h" d="M1670 723l9 24"/>
<path class="w" d="M1654 763l9-74-2 23-9 0z"/>
<path class="k" d="M1663 689l-2 23"/>
<path class="i" d="M1652 712l9 0"/>
<path class="w" d="M1645 727l9 36-2-51-8-24z"/>
<path class="f" d="M1654 763l-2-51"/>
<path class="k" d="M1644 688l8 24"/>
<path class="w" d="M1636 679l9 48-1-39-9 1z"/>
<path class="h" d="M1645 727l-1-39"/>
<path class="k" d="M1635 689l9-1"/>
<path class="w" d="M1610 718l9 36-2-51-9 25z"/>
<path class="g" d="M1619 754l-2-51"/>
<path class="h" d="M1608 728l9-25"/>
<path class="w" d="M1601 706l9 12-2 10-8-23z"/>
<path class="i" d="M1610 718l-2 10"/>
<path class="j" d="M1600 705l8 23"/>
<path class="w" d="M1593 695l8 11-1-1-9 37z"/>
<path class="j" d="M1601 706l-1-1"/>
<path class="h" d="M1591 742l9-37"/>
<path class="w" d="M1584 683l9 12-2 47-9-48z"/>
<path class="k" d="M1593 695l-2 47-9-48"/>
<path class="w" d="M1575 721l9-38-2 11-9-12z"/>
<path class="k" d="M1584 683l-2 11-9-12"/>
<path class="w" d="M1566 697l9 24-2-39-8-11z"/>
<path class="i" d="M1575 721l-2-39"/>
<path class="l" d="M1565 671l8 11"/>
<path class="w" d="M1558 686l8 11-1-26-9 0z"/>
<path class="k" d="M1566 697l-1-26"/>
<path class="l" d="M1556 671l9 0"/>
<path class="w" d="M1549 674l9 12-2-15-9 1z"/>
<path class="k" d="M1558 686l-2-15"/>
<path class="l" d="M1547 672l9-1"/>
<path class="w" d="M1540 712l9-38-2-2-9 1z"/>
<path class="l" d="M1549 674l-2-2-9 1"/>
<path class="w" d="M1531 663l9 49-2-39-8 25z"/>
<path class="j" d="M1540 712l-2-39"/>
<path class="k" d="M1530 698l8-25"/>
<path class="w" d="M1523 627l8 36-1 35-9-85z"/>
<path class="m" d="M1531 663l-1 35"/>
<path class="o" d="M1521 613l9 85"/>
<path class="w" d="M1514 652l9-25-2-14-9 1z"/>
<path class="o" d="M1523 627l-2-14-9 1"/>
<path class="w" d="M1505 690l9-38-2-38-9 37z"/>
<path class="m" d="M1514 652l-2-38-9 37"/>
<path class="w" d="M1496 728l9-38-2-39-8-48z"/>
<path class="k" d="M1505 690l-2-39"/>
<path class="p" d="M1495 603l8 48"/>
<path class="w" d="M1488 606l8 122-1-125-9 87z"/>
<path class="i" d="M1496 728l-1-125"/>
<path class="k" d="M1486 690l9-87"/>
<path class="w" d="M1461 706l9-50-2-2-8-23z"/>
<path class="m" d="M1470 656l-2-2"/>
<path class="o" d="M1460 631l8 23"/>
<path class="w" d="M1453 682l8 24-1-75-9 25z"/>
<path class="k" d="M1461 706l-1-75"/>
<path class="m" d="M1451 656l9-25"/>
<path class="w" d="M1444 720l9-38-2-26-9 13z"/>
<path class="l" d="M1453 682l-2-26"/>
<path class="m" d="M1442 669l9-13"/>
<path class="w" d="M1435 622l9 98-2-51-9 50z"/>
<path class="j" d="M1444 720l-2-51-9 50"/>
<path class="w" d="M1426 648l9-26-2 97-8-49z"/>
<path class="o" d="M1435 622l-2 97"/>
<path class="m" d="M1425 670l8 49"/>
<path class="w" d="M1418 698l8-50-1 22-9-23z"/>
<path class="n" d="M1426 648l-1 22-9-23"/>
<path class="w" d="M1409 612l9 86-2-51-9 13z"/>
<path class="k" d="M1418 698l-2-51"/>
<path class="m" d="M1407 660l9-13"/>
<path class="w" d="M1400 675l9-63-2 48-9 0z"/>
<path class="p" d="M1409 612l-2 48"/>
<path class="m" d="M1398 660l9 0"/>
<path class="w" d="M1391 651l9 24-2-15-8 13z"/>
<path class="m" d="M1400 675l-2-15-8 13"/>
<path class="w" d="M1382 627l9 24-1 22-9-11z"/>
<path class="n" d="M1391 651l-1 22"/>
<path class="m" d="M1381 662l9 11"/>
<path class="w" d="M1374 603l8 24-1 35-9 1z"/>
<path class="o" d="M1382 627l-1 35"/>
<path class="m" d="M1372 663l9-1"/>
<path class="w" d="M1365 678l9-75-2 60-9-12z"/>
<path class="q" d="M1374 603l-2 60"/>
<path class="n" d="M1363 651l9 12"/>
<path class="w" d="M1356 568l9 110-2-27-8-24z"/>
<path class="m" d="M1365 678l-2-27"/>
<path class="o" d="M1355 627l8 24"/>
<path class="w" d="M1347 581l9-13-1 59-9-48z"/>
<path class="s" d="M1356 568l-1 59"/>
<path class="r" d="M1346 579l9 48"/>
<path class="w" d="M1339 594l8-13-1-2-9 1z"/>
<path class="r" d="M1347 581l-1-2-9 1"/>
<path class="w" d="M1330 619l9-25-2-14-9-12z"/>
<path class="r" d="M1339 594l-2-14"/>
<path class="s" d="M1328 568l9 12"/>
<path class="w" d="M1321 595l9 24-2-51-9 25z"/>
<path class="p" d="M1330 619l-2-51"/>
<path class="r" d="M1319 593l9-25"/>
<path class="w" d="M1295 598l9 23-2 11-9-49z"/>
<path class="p" d="M1304 621l-2 11"/>
<path class="r" d="M1293 583l9 49"/>
<path class="w" d="M1286 611l9-13-2-15-9 75z"/>
<path class="r" d="M1295 598l-2-15"/>
<path class="n" d="M1284 658l9-75"/>
<path class="w" d="M1277 599l9 12-2 47-8 1z"/>
<path class="q" d="M1286 611l-2 47"/>
<path class="n" d="M1276 659l8-1"/>
<path class="w" d="M1269 637l8-38-1 60-9-61z"/>
<path class="r" d="M1277 599l-1 60-9-61"/>
<path class="w" d="M1260 601l9 36-2-39-9 25z"/>
<path class="o" d="M1269 637l-2-39"/>
<path class="p" d="M1258 623l9-25"/>
<path class="r" d="M1260 601l-2 22"/>
<path class="w" d="M1805 777l8-13-1-26-9 25z"/>
<path class="f" d="M1813 764l-1-26-9 25"/>
<path class="e" d="M1805 777l8-13"/>
<path class="w" d="M1796 741l9 36-2-14-9-36z"/>
<path class="e" d="M1805 777l-2-14"/>
<path class="h" d="M1794 727l9 36"/>
<path class="g" d="M1796 741l9 36"/>
<path class="w" d="M1787 766l9-25-2-14-9 25z"/>
<path class="g" d="M1796 741l-2-14"/>
<path class="f" d="M1785 752l9-25"/>
<path class="f" d="M1787 766l9-25"/>
<path class="w" d="M1778 755l9 11-2-14-8 13z"/>
<path class="f" d="M1787 766l-2-14-8 13"/>
<path class="f" d="M1778 755l9 11"/>
<path class="w" d="M1769 817l9-62-1 10-9 1z"/>
<path class="f" d="M1778 755l-1 10-9 1"/>
<path class="c" d="M1769 817l9-62"/>
<path class="w" d="M1761 744l8 73-1-51-9 13z"/>
<path class="c" d="M1769 817l-1-51"/>
<path class="e" d="M1759 779l9-13"/>
<path class="g" d="M1761 744l8 73"/>
<path class="w" d="M1752 745l9-1-2 35-9-36z"/>
<path class="g" d="M1761 744l-2 35-9-36"/>
<path class="g" d="M1752 745l9-1"/>
<path class="w" d="M1743 795l9-50-2-2-8 37z"/>
<path class="g" d="M1752 745l-2-2"/>
<path class="e" d="M1742 780l8-37"/>
<path class="d" d="M1743 795l9-50"/>
<path class="w" d="M1734 734l9 61-1-15-9 1z"/>
<path class="d" d="M1743 795l-1-15"/>
<path class="e" d="M1733 781l9-1"/>
<path class="h" d="M1734 734l9 61"/>
<path class="w" d="M1726 747l8-13-1 47-9-110z"/>
<path class="h" d="M1734 734l-1 47"/>
<path class="k" d="M1724 671l9 110"/>
<path class="g" d="M1726 747l8-13"/>
<path class="w" d="M1717 735l9 12-2-76-9 38z"/>
<path class="g" d="M1726 747l-2-76"/>
<path class="i" d="M1715 709l9-38"/>
<path class="h" d="M1717 735l9 12"/>
<path class="w" d="M1708 724l9 11-2-26-9 87z"/>
<path class="h" d="M1717 735l-2-26"/>
<path class="d" d="M1706 796l9-87"/>
<path class="h" d="M1708 724l9 11"/>
<path class="w" d="M1699 700l9 24-2 72-8-36z"/>
<path class="h" d="M1708 724l-2 72"/>
<path class="f" d="M1698 760l8 36"/>
<path class="j" d="M1699 700l9 24"/>
<path class="w" d="M1691 762l8-62-1 60-9-24z"/>
<path class="j" d="M1699 700l-1 60"/>
<path class="h" d="M1689 736l9 24"/>
<path class="f" d="M1691 762l8-62"/>
<path class="w" d="M1682 726l9 36-2-26-9-61z"/>
<path class="f" d="M1691 762l-2-26"/>
<path class="k" d="M1680 675l9 61"/>
<path class="h" d="M1682 726l9 36"/>
<path class="w" d="M1673 727l9-1-2-51-9 38z"/>
<path class="h" d="M1682 726l-2-51"/>
<path class="i" d="M1671 713l9-38"/>
<path class="h" d="M1673 727l9-1"/>
<path class="w" d="M1664 777l9-50-2-14-8-24z"/>
<path class="h" d="M1673 727l-2-14"/>
<path class="k" d="M1663 689l8 24"/>
<path class="f" d="M1664 777l9-50"/>
<path class="w" d="M1656 753l8 24-1-88-9 74z"/>
<path class="f" d="M1664 777l-1-88-9 74"/>
<path class="g" d="M1656 753l8 24"/>
<path class="w" d="M1647 741l9 12-2 10-9-36z"/>
<path class="g" d="M1656 753l-2 10"/>
<path class="h" d="M1645 727l9 36"/>
<path class="h" d="M1647 741l9 12"/>
<path class="w" d="M1638 754l9-13-2-14-9-48z"/>
<path class="h" d="M1647 741l-2-14"/>
<path class="k" d="M1636 679l9 48"/>
<path class="g" d="M1638 754l9-13"/>
<path class="w" d="M1629 681l9 73-2-75-8 50z"/>
<path class="g" d="M1638 754l-2-75"/>
<path class="h" d="M1628 729l8-50"/>
<path class="k" d="M1629 681l9 73"/>
<path class="w" d="M1621 707l8-26-1 48-9 25z"/>
<path class="k" d="M1629 681l-1 48"/>
<path class="g" d="M1619 754l9-25"/>
<path class="j" d="M1621 707l8-26"/>
<path class="w" d="M1612 695l9 12-2 47-9-36z"/>
<path class="j" d="M1621 707l-2 47"/>
<path class="i" d="M1610 718l9 36"/>
<path class="k" d="M1612 695l9 12"/>
<path class="w" d="M1603 733l9-38-2 23-9-12z"/>
<path class="k" d="M1612 695l-2 23"/>
<path class="j" d="M1601 706l9 12"/>
<path class="h" d="M1603 733l9-38"/>
<path class="w" d="M1594 709l9 24-2-27-8-11z"/>
<path class="h" d="M1603 733l-2-27"/>
<path class="k" d="M1593 695l8 11"/>
<path class="j" d="M1594 709l9 24"/>
<path class="w" d="M1586 673l8 36-1-14-9-12z"/>
<path class="j" d="M1594 709l-1-14"/>
<path class="k" d="M1584 683l9 12"/>
<path class="l" d="M1586 673l8 36"/>
<path class="w" d="M1577 686l9-13-2 10-9 38z"/>
<path class="l" d="M1586 673l-2 10"/>
<path class="i" d="M1575 721l9-38"/>
<path class="k" d="M1577 686l9-13"/>
<path class="w" d="M1568 699l9-13-2 35-9-24z"/>
<path class="k" d="M1577 686l-2 35-9-24"/>
<path class="k" d="M1568 699l9-13"/>
<path class="w" d="M1559 663l9 36-2-2-8-11z"/>
<path class="k" d="M1568 699l-2-2-8-11"/>
<path class="m" d="M1559 663l9 36"/>
<path class="w" d="M1551 676l8-13-1 23-9-12z"/>
<path class="m" d="M1559 663l-1 23"/>
<path class="l" d="M1549 674l9 12"/>
<path class="l" d="M1551 676l8-13"/>
<path class="w" d="M1542 714l9-38-2-2-9 38z"/>
<path class="l" d="M1551 676l-2-2"/>
<path class="j" d="M1540 712l9-38"/>
<path class="j" d="M1542 714l9-38"/>
<path class="w" d="M1533 690l9 24-2-2-9-49z"/>
<path class="j" d="M1542 714l-2-2"/>
<path class="m" d="M1531 663l9 49"/>
<path class="k" d="M1533 690l9 24"/>
<path class="w" d="M1524 654l9 36-2-27-8-36z"/>
<path class="k" d="M1533 690l-2-27"/>
<path class="o" d="M1523 627l8 36"/>
<path class="m" d="M1524 654l9 36"/>
<path class="w" d="M1516 679l8-25-1-27-9 25z"/>
<path class="m" d="M1524 654l-1-27-9 25"/>
<path class="l" d="M1516 679l8-25"/>
<path class="w" d="M1507 717l9-38-2-27-9 38z"/>
<path class="l" d="M1516 679l-2-27"/>
<path class="k" d="M1505 690l9-38"/>
<path class="j" d="M1507 717l9-38"/>
<path class="w" d="M1498 705l9 12-2-27-9 38z"/>
<path class="j" d="M1507 717l-2-27"/>
<path class="i" d="M1496 728l9-38"/>
<path class="k" d="M1498 705l9 12"/>
<path class="w" d="M1489 694l9 11-2 23-8-122z"/>
<path class="k" d="M1498 705l-2 23"/>
<path class="p" d="M1488 606l8 122"/>
<path class="k" d="M1489 694l9 11"/>
<path class="w" d="M1480 694l9 0-1-88-9 13z"/>
<path class="k" d="M1489 694l-1-88"/>
<path class="o" d="M1479 619l9-13"/>
<path class="k" d="M1480 694l9 0"/>
<path class="w" d="M1472 732l8-38-1-75-9 37z"/>
<path class="k" d="M1480 694l-1-75"/>
<path class="m" d="M1470 656l9-37"/>
<path class="i" d="M1472 732l8-38"/>
<path class="w" d="M1463 696l9 36-2-76-9 50z"/>
<path class="i" d="M1472 732l-2-76"/>
<path class="k" d="M1461 706l9-50"/>
<path class="k" d="M1463 696l9 36"/>
<path class="w" d="M1454 660l9 36-2 10-8-24z"/>
<path class="k" d="M1463 696l-2 10"/>
<path class="l" d="M1453 682l8 24"/>
<path class="m" d="M1454 660l9 36"/>
<path class="w" d="M1445 710l9-50-1 22-9 38z"/>
<path class="m" d="M1454 660l-1 22"/>
<path class="j" d="M1444 720l9-38"/>
<path class="k" d="M1445 710l9-50"/>
<path class="w" d="M1437 698l8 12-1 10-9-98z"/>
<path class="k" d="M1445 710l-1 10"/>
<path class="o" d="M1435 622l9 98"/>
<path class="k" d="M1437 698l8 12"/>
<path class="w" d="M1428 637l9 61-2-76-9 26z"/>
<path class="k" d="M1437 698l-2-76"/>
<path class="n" d="M1426 648l9-26"/>
<path class="o" d="M1428 637l9 61"/>
<path class="w" d="M1419 663l9-26-2 11-8 50z"/>
<path class="o" d="M1428 637l-2 11"/>
<path class="k" d="M1418 698l8-50"/>
<path class="m" d="M1419 663l9-26"/>
<path class="w" d="M1410 663l9 0-1 35-9-86z"/>
<path class="m" d="M1419 663l-1 35"/>
<path class="p" d="M1409 612l9 86"/>
<path class="m" d="M1410 663l9 0"/>
<path class="w" d="M1402 627l8 36-1-51-9 63z"/>
<path class="m" d="M1410 663l-1-51-9 63"/>
<path class="o" d="M1402 627l8 36"/>
<path class="w" d="M1393 640l9-13-2 48-9-24z"/>
<path class="o" d="M1402 627l-2 48"/>
<path class="n" d="M1391 651l9 24"/>
<path class="o" d="M1393 640l9-13"/>
<path class="w" d="M1384 653l9-13-2 11-9-24z"/>
<path class="o" d="M1393 640l-2 11-9-24"/>
<path class="n" d="M1384 653l9-13"/>
<path class="w" d="M1375 642l9 11-2-26-8-24z"/>
<path class="n" d="M1384 653l-2-26"/>
<path class="q" d="M1374 603l8 24"/>
<path class="o" d="M1375 642l9 11"/>
<path class="w" d="M1367 606l8 36-1-39-9 75z"/>
<path class="o" d="M1375 642l-1-39"/>
<path class="m" d="M1365 678l9-75"/>
<path class="q" d="M1367 606l8 36"/>
<path class="w" d="M1358 631l9-25-2 72-9-110z"/>
<path class="q" d="M1367 606l-2 72"/>
<path class="s" d="M1356 568l9 110"/>
<path class="o" d="M1358 631l9-25"/>
<path class="w" d="M1349 570l9 61-2-63-9 13z"/>
<path class="o" d="M1358 631l-2-63"/>
<path class="r" d="M1347 581l9-13"/>
<path class="s" d="M1349 570l9 61"/>
<path class="w" d="M1340 657l9-87-2 11-8 13z"/>
<path class="s" d="M1349 570l-2 11"/>
<path class="r" d="M1339 594l8-13"/>
<path class="n" d="M1340 657l9-87"/>
<path class="w" d="M1332 584l8 73-1-63-9 25z"/>
<path class="n" d="M1340 657l-1-63"/>
<path class="p" d="M1330 619l9-25"/>
<path class="r" d="M1332 584l8 73"/>
<path class="w" d="M1323 610l9-26-2 35-9-24z"/>
<path class="r" d="M1332 584l-2 35-9-24"/>
<path class="q" d="M1323 610l9-26"/>
<path class="w" d="M1314 598l9 12-2-15-9-24z"/>
<path class="q" d="M1323 610l-2-15"/>
<path class="s" d="M1312 571l9 24"/>
<path class="r" d="M1314 598l9 12"/>
<path class="w" d="M1305 623l9-25-2-27-8 50z"/>
<path class="r" d="M1314 598l-2-27"/>
<path class="p" d="M1304 621l8-50"/>
<path class="p" d="M1305 623l9-25"/>
<path class="w" d="M1297 624l8-1-1-2-9-23z"/>
<path class="p" d="M1305 623l-1-2"/>
<path class="r" d="M1295 598l9 23"/>
<path class="p" d="M1297 624l8-1"/>
<path class="w" d="M1288 625l9-1-2-26-9 13z"/>
<path class="p" d="M1297 624l-2-26"/>
<path class="q" d="M1286 611l9-13"/>
<path class="p" d="M1288 625l9-1"/>
<path class="w" d="M1279 576l9 49-2-14-9-12z"/>
<path class="p" d="M1288 625l-2-14"/>
<path class="r" d="M1277 599l9 12"/>
<path class="s" d="M1279 576l9 49"/>
<path class="w" d="M1270 577l9-1-2 23-8 38z"/>
<path class="s" d="M1279 576l-2 23"/>
<path class="o" d="M1269 637l8-38"/>
<path class="s" d="M1270 577l9-1"/>
<path class="w" d="M1262 664l8-87-1 60-9-36z"/>
<path class="s" d="M1270 577l-1 60"/>
<path class="r" d="M1260 601l9 36"/>
<path class="n" d="M1262 664l-2-63"/>
<path class="n" d="M1262 664l8-87"/>
</g>
<path d="M1254.5 895.2L1867.5 842.5M1254.5 895.2L1085.7 705.3M1085.7 705.3L1085.7 329.2M1085.7 705.3L1075.1 693.3M1085.7 642.6L1075.1 630.7M1085.7 579.9L1075.1 568M1085.7 517.3L1075.1 505.3M1085.7 454.6L1075.1 442.6M1085.7 391.9L1075.1 379.9M1085.7 329.2L1075.1 317.2M1254.5 895.2L1264.1 906M1342.1 887.7L1351.7 898.5M1429.6 880.1L1439.3 891M1517.2 872.6L1526.8 883.5M1604.8 865.1L1614.4 875.9M1692.4 857.6L1702 868.4M1779.9 850L1789.6 860.9M1867.5 842.5L1877.1 853.3M1254.5 895.2L1239.1 896.5M1170.1 800.2L1154.7 801.6M1085.7 705.3L1070.3 706.6" fill="none" stroke="#353535" stroke-width="1.5"/>
<text transform="matrix(0.5390 0 0 0.6500 1018.28 335.20)">1</text>
<text transform="matrix(0.6484 0 0 0.6221 955.97 689.87)">0.88</text>
<text transform="matrix(0.6487 0 0 0.6207 993.52 771.58)">100</text>
<text transform="matrix(0.6659 0 0 0.6237 1182.30 948.48)">0</text>
<text transform="matrix(0.6831 0 0 0.6252 1491.06 946.87)">30</text>
<text transform="matrix(0.6953 0 0 0.6504 1815.88 943.55)">70</text>
<text transform="matrix(0.8284 0 0 0.8573 0 0)"><tspan x="1279.4" y="219.9">(</tspan><tspan x="1313.8" y="220.2" font-weight="bold" font-size="104.2px">b</tspan><tspan x="1373.6" y="219.9">)</tspan></text>
</g>
<g id="panel-c">
<clipPath id="cc"><path d="M31.5 1310.3H701V1978.8H31.5Z"/></clipPath>
<g id="image-c" clip-path="url(#cc)"><g transform="translate(31.50 1314.03) scale(10.4609 10.4688)" shape-rendering="crispEdges" fill="none" stroke-width="1">
<path stroke="#0d0d0d" d="M58 3h1M7 36h1M56 36h1M17 40h1"/>
<path stroke="#141414" d="M47 7h1M47 22h1M15 33h1M18 48h1"/>
<path stroke="#1a1a1a" d="M21 4h1M39 9h1M16 24h1M58 43h1M12 45h1M61 56h1M44 58h1M0 59h1"/>
<path stroke="#212121" d="M26 0h1M61 8h1M33 19h1M37 20h1M47 21h1M53 37h1M17 45h1M16 47h1M26 48h1M32 56h1M31 57h1M52 61h1"/>
<path stroke="#272727" d="M32 9h1M18 11h1M12 15h1M55 16h1M45 17h1M16 25h1M1 27h1M4 28h1M52 31h1M50 44h1M37 46h1M33 53h1M23 58h1"/>
<path stroke="#2e2e2e" d="M62 1h1M21 3h1M55 3h1M7 13h1M23 14h1M55 15h1M41 16h1M63 16h1M25 18h1M33 21h1M37 21h1M58 21h1M59 25h1M23 26h1M60 26h1M59 27h1M11 31h1M45 32h1M15 38h1M13 39h1M17 39h1M2 43h1M44 46h1M48 47h1M45 53h1M54 53h1M51 54h1M54 54h1M25 55h1M62 55h1M35 61h1"/>
<path stroke="#343434" d="M7 1h1M35 1h1M59 1h1M57 3h1M46 5h1M27 8h1M6 11h1M29 11h1M5 12h1M17 12h1M31 12h1M2 15h1M0 16h1M19 16h1M47 17h1M63 22h1M60 24h1M35 26h1M38 26h1M38 28h1M26 29h1M22 30h1M45 34h1M57 34h1M27 35h1M33 35h1M17 38h1M0 39h1M20 39h1M25 44h1M3 46h1M25 50h1M34 51h1M2 53h1M6 53h1M31 54h1M36 58h1M27 59h1M56 61h1M32 63h1M44 63h1"/>
<path stroke="#3b3b3b" d="M18 0h1M20 0h1M0 2h1M38 2h1M34 4h1M25 6h1M14 7h1M29 7h1M59 7h1M24 11h1M12 13h1M36 13h1M53 15h1M62 15h1M22 18h1M33 18h1M52 18h1M5 21h1M29 21h1M37 23h1M62 23h1M26 26h1M32 26h1M5 27h1M27 27h1M36 29h1M47 33h1M52 33h1M9 36h1M41 38h1M31 39h1M12 42h1M39 42h1M52 44h1M36 46h1M42 50h1M8 51h1M49 51h1M9 52h1M13 53h1M20 54h1M33 54h1M40 57h1M41 59h1M10 60h1M10 61h1M29 61h1"/>
<path stroke="#414141" d="M34 1h1M15 3h1M20 3h1M30 3h1M60 4h1M44 5h1M51 5h1M14 6h1M37 6h1M11 7h1M43 8h1M24 9h1M28 9h1M34 10h1M52 10h1M12 11h1M38 11h1M11 12h1M50 12h1M21 15h1M53 16h1M12 18h1M25 20h1M32 20h1M48 20h1M7 21h1M59 21h1M29 22h1M59 23h1M44 24h1M0 25h1M17 26h1M19 27h1M29 27h1M50 27h1M48 30h1M21 32h1M9 33h1M9 34h1M11 34h1M22 35h1M48 35h1M28 37h1M20 38h1M8 39h1M35 40h1M44 41h1M44 42h1M42 43h1M10 44h1M9 45h1M15 45h1M11 46h1M38 46h1M55 46h1M8 47h1M8 53h1M41 53h1M10 55h1M12 55h1M34 56h1M20 57h1M17 58h1M37 58h1M13 59h1M34 59h1M61 59h1M12 60h1M58 60h1M52 62h2"/>
<path stroke="#484848" d="M30 0h1M45 0h1M5 2h1M35 2h1M27 3h1M43 3h1M47 3h1M47 5h1M9 6h1M54 6h1M17 7h1M38 7h1M44 7h1M53 7h1M53 8h1M58 8h1M63 8h1M63 9h1M3 10h1M35 10h1M31 11h1M19 12h1M25 12h1M42 12h1M8 13h1M61 15h1M39 16h1M11 17h1M1 19h1M3 19h1M7 19h1M20 19h1M9 20h1M11 20h1M43 20h1M11 21h1M31 22h1M36 22h1M44 22h1M54 22h1M51 23h1M55 25h1M16 26h1M27 26h1M37 26h1M63 27h1M10 28h1M25 29h1M13 30h1M45 31h1M17 33h1M28 33h1M56 33h1M2 34h1M10 34h1M50 34h1M36 35h2M41 36h1M47 36h1M49 36h1M23 37h1M36 38h1M36 39h1M38 40h1M63 40h1M5 41h1M13 41h1M22 41h1M62 41h1M6 42h1M57 42h1M59 43h1M34 45h1M13 46h1M33 46h1M51 46h1M7 47h1M10 47h1M17 49h1M44 49h1M62 49h1M48 50h1M61 50h1M20 51h1M4 53h1M19 54h1M61 54h1M45 55h1M17 56h1M21 56h1M25 56h1M2 57h1M15 57h1M13 58h1M33 58h1M24 60h1M25 61h1M5 62h1M39 62h1M46 62h1M47 63h1M51 63h1"/>
<path stroke="#4e4e4e" d="M16 0h1M19 0h1M22 0h1M42 0h1M4 1h1M32 1h1M17 2h1M28 2h1M62 2h1M8 3h1M12 4h1M15 4h1M14 5h1M25 5h1M8 6h1M40 6h1M51 6h1M40 7h1M22 8h1M24 8h1M0 9h1M9 9h1M28 12h1M46 12h1M12 14h1M33 14h1M39 14h1M5 16h1M25 16h1M51 17h1M48 18h1M43 19h1M56 20h1M63 20h1M2 21h2M6 21h1M19 21h1M22 21h1M7 22h1M9 22h1M16 22h1M0 23h1M13 24h1M45 24h1M6 25h1M2 26h1M18 26h1M36 26h1M56 26h1M36 27h1M0 28h1M43 28h1M47 28h1M13 29h1M50 30h1M6 31h1M14 31h1M23 31h1M49 31h1M11 32h1M35 32h1M42 32h1M61 32h1M24 34h1M30 34h1M35 34h1M42 36h1M3 37h1M63 37h1M37 39h1M51 39h1M29 40h1M42 40h1M55 40h1M63 41h1M30 42h1M33 42h1M45 42h1M7 43h1M39 43h1M16 44h1M26 44h1M31 45h1M24 46h1M29 46h1M47 46h1M38 47h1M52 47h1M22 48h1M38 48h2M51 48h1M2 49h1M32 50h1M13 51h1M10 53h1M58 53h1M24 54h1M38 55h1M43 56h1M49 56h1M38 57h1M49 58h1M22 59h1M45 59h1M47 59h1M13 60h1M2 61h1M27 61h1M22 62h1"/>
<path stroke="#555" d="M51 0h1M63 0h1M21 1h1M51 1h1M60 1h1M32 2h1M46 2h2M14 3h1M62 3h1M25 4h1M53 4h1M15 5h1M58 5h1M61 5h1M63 5h1M21 6h1M31 6h1M5 7h1M13 7h1M18 7h1M20 7h1M28 7h1M49 7h1M51 7h1M0 8h1M37 8h1M26 11h1M52 11h1M59 11h1M49 12h1M1 13h1M20 13h1M43 13h1M59 13h1M1 14h1M3 14h1M36 14h1M63 15h1M3 16h1M29 16h1M38 16h1M47 16h1M56 16h1M23 17h1M35 17h1M63 17h1M23 18h1M4 19h1M40 19h1M10 20h1M18 21h1M39 21h1M44 21h1M56 21h1M15 22h1M3 24h1M18 24h1M21 24h2M34 24h2M4 25h1M19 25h1M40 25h1M11 26h1M43 27h1M58 27h1M1 28h1M6 28h2M48 28h1M56 28h1M11 30h1M40 30h1M45 30h1M51 30h1M62 30h1M48 31h1M19 32h1M62 33h1M23 34h1M26 34h1M63 34h1M0 35h1M15 35h1M56 35h1M46 36h1M1 37h1M7 37h1M25 37h1M32 37h1M43 37h1M26 38h1M37 38h1M3 39h1M12 39h1M45 39h1M13 40h1M36 40h1M47 40h1M58 40h1M4 41h1M36 41h1M46 41h1M56 41h1M58 41h1M10 42h1M27 42h1M29 42h1M48 42h1M58 42h1M8 43h1M35 43h1M57 43h1M17 44h1M48 44h1M25 45h1M28 45h1M47 45h1M5 46h1M30 46h1M54 46h1M59 46h1M62 46h1M23 47h1M35 47h1M51 47h1M31 48h1M58 48h1M22 50h1M33 50h1M38 50h1M21 51h1M36 51h1M3 52h1M6 52h1M17 52h1M20 52h1M28 52h1M36 52h1M28 53h1M36 53h1M3 55h1M17 55h1M2 56h1M28 56h1M44 56h1M43 57h1M53 57h1M9 58h1M11 58h1M26 58h1M43 58h1M53 58h1M57 58h1M51 60h1M0 61h1M12 61h1M57 61h1M59 61h1M17 62h1M18 63h1M57 63h1"/>
<path stroke="#5c5c5c" d="M3 0h1M5 0h1M13 0h1M32 0h1M37 1h1M48 1h1M11 2h1M17 3h1M29 3h1M34 3h1M36 3h2M63 3h1M8 4h1M7 5h1M12 5h1M17 5h1M29 5h1M22 6h1M43 6h1M50 6h1M57 6h1M9 7h1M27 7h1M37 7h1M39 7h1M43 7h1M54 7h1M11 8h1M17 8h1M33 8h1M23 9h1M58 9h1M0 10h1M11 10h1M17 10h1M30 10h1M43 10h1M45 10h1M53 10h1M25 11h1M16 12h1M27 12h1M61 12h1M4 13h2M17 13h1M50 13h1M62 13h1M3 15h1M14 15h1M17 15h1M19 15h2M35 15h1M1 16h1M13 16h1M51 16h1M4 17h1M25 17h1M1 18h1M13 18h1M16 18h1M53 18h1M26 19h1M36 19h1M49 19h1M27 20h1M54 20h1M23 21h1M51 21h1M61 21h1M14 22h1M33 22h1M38 22h1M50 22h1M2 23h1M5 23h1M12 23h1M21 23h2M45 23h1M11 24h1M57 24h1M18 25h1M20 25h1M23 25h1M37 25h1M3 26h1M53 26h1M9 27h1M15 27h1M56 27h1M37 28h1M50 28h1M19 29h1M37 29h1M49 29h1M3 30h1M5 30h1M19 31h1M34 31h1M60 31h1M9 32h1M33 32h1M59 32h1M51 33h1M4 34h1M22 34h1M33 34h1M8 35h1M21 35h1M23 35h1M18 36h1M29 37h1M5 39h1M47 39h1M10 41h1M21 41h1M54 41h1M61 41h1M18 42h1M23 42h1M43 42h1M1 43h1M4 43h1M14 43h1M31 43h1M60 43h1M2 44h1M8 44h1M55 44h1M23 45h1M2 48h1M7 48h1M3 49h1M18 49h1M29 49h1M4 50h1M29 50h1M40 50h1M47 50h1M60 50h1M23 51h1M27 51h1M42 51h2M1 52h1M24 52h1M52 52h1M60 52h1M7 53h1M29 53h1M40 53h1M55 53h1M32 54h1M43 54h1M59 54h1M6 55h1M11 55h1M16 55h1M24 55h1M34 55h1M37 55h1M60 55h1M7 57h1M9 57h1M12 57h1M55 57h1M62 57h1M15 58h1M29 58h1M46 58h1M9 60h1M11 60h1M41 60h1M53 60h1M60 60h1M9 61h1M55 61h1M28 62h1M34 62h1M37 62h1M61 62h2M9 63h1M39 63h1"/>
<path stroke="#626262" d="M33 0h1M35 0h1M5 1h1M40 1h1M53 1h1M2 2h1M15 2h1M29 2h1M42 2h1M26 3h1M39 3h1M62 4h1M0 5h1M30 5h1M57 5h1M15 6h1M48 6h1M61 6h1M0 7h1M19 7h1M22 7h2M25 7h1M58 7h1M6 8h1M9 8h1M16 8h1M15 9h1M31 9h1M12 10h1M14 10h1M33 10h1M37 10h1M48 10h1M14 11h1M26 12h1M53 12h1M57 12h1M63 12h1M21 13h1M30 14h1M61 14h1M39 15h1M57 15h2M23 16h1M30 16h1M33 16h1M50 16h1M1 17h1M38 17h1M42 17h1M44 17h1M46 17h1M52 17h1M5 18h1M11 18h1M29 18h1M35 18h1M59 18h1M2 19h1M46 19h1M56 19h1M13 20h1M38 20h1M62 20h1M1 21h1M46 21h1M4 22h1M12 22h1M20 22h1M37 22h1M61 22h1M20 23h1M32 23h1M27 24h1M31 24h1M36 24h2M9 25h1M17 25h1M21 25h1M36 25h1M41 25h1M8 26h1M41 26h1M63 26h1M12 27h2M18 27h1M24 27h1M40 27h1M45 27h1M61 27h1M12 28h1M18 28h1M20 28h1M14 29h1M27 29h1M19 30h1M27 30h1M41 30h1M44 30h1M59 30h1M15 31h1M24 31h1M58 31h1M61 31h1M18 32h1M44 32h1M1 33h1M36 33h2M60 33h2M13 34h1M20 34h1M29 34h1M52 34h1M55 34h1M60 34h2M1 35h1M5 35h1M18 35h1M61 35h1M0 36h1M2 36h1M29 36h1M55 36h1M31 37h1M38 37h1M47 37h1M55 37h1M58 37h1M14 38h1M31 38h1M33 38h2M42 38h1M53 39h1M56 39h1M0 40h1M25 40h1M32 40h1M12 41h1M47 41h1M13 42h1M21 42h1M35 42h1M21 43h1M30 43h1M43 43h1M46 43h1M50 43h1M54 43h1M7 44h1M11 44h2M15 44h1M40 44h1M54 44h1M7 45h1M36 45h1M39 45h1M41 45h1M58 45h1M7 46h1M46 46h1M61 46h1M40 47h1M52 48h1M62 48h1M37 49h1M46 49h1M56 49h1M20 50h1M59 50h1M4 51h1M35 51h1M39 51h1M2 52h1M5 52h1M41 52h1M54 52h1M26 53h1M2 54h1M29 54h1M57 54h1M20 55h1M58 55h1M23 56h1M30 56h1M39 56h1M55 56h1M29 57h1M48 57h1M52 57h1M20 58h1M28 58h1M10 59h1M46 59h1M51 59h1M7 60h1M25 60h1M15 61h1M22 61h1M28 61h1M41 61h1M6 62h1M8 62h1M14 62h1M21 62h1M48 62h1M15 63h1M37 63h1"/>
<path stroke="#696969" d="M9 0h1M27 0h1M38 0h1M48 0h1M59 0h1M0 1h1M41 1h1M57 1h1M13 2h1M16 2h1M22 2h1M24 2h1M31 2h1M37 2h1M44 2h1M61 2h1M35 3h1M56 3h1M59 3h1M10 4h1M32 4h1M47 4h2M4 5h1M24 5h1M53 5h1M35 6h1M47 6h1M56 6h1M8 8h1M19 8h1M25 8h1M35 8h1M48 8h1M1 9h1M10 9h1M30 9h1M36 9h1M48 9h1M2 10h1M21 10h1M16 11h1M36 11h2M44 11h1M1 12h1M6 12h1M14 12h1M20 12h1M30 12h1M55 12h1M19 13h1M27 13h1M17 14h1M35 14h1M46 14h1M49 14h1M53 14h1M47 15h1M34 16h1M40 16h1M43 16h1M5 17h1M8 17h1M17 17h1M19 17h1M40 17h1M62 17h1M20 18h1M36 18h1M50 18h1M11 19h1M34 19h1M52 19h1M0 20h2M22 20h1M34 20h1M12 21h1M26 21h1M32 21h1M27 22h1M46 22h1M55 22h1M11 23h1M25 23h1M29 23h1M43 23h1M46 23h2M42 24h1M45 25h2M7 26h1M3 27h1M10 27h1M55 27h1M46 28h1M23 29h1M52 29h1M54 29h1M17 30h1M37 30h1M46 30h1M53 30h1M4 31h1M12 31h1M21 31h1M41 31h1M51 31h1M63 31h1M15 32h1M24 32h1M37 32h1M40 32h1M7 33h1M33 33h1M54 33h1M63 33h1M15 34h1M18 34h1M31 34h1M36 34h2M39 34h1M53 34h1M31 35h1M43 35h1M59 35h1M6 36h1M16 36h2M28 36h1M54 36h1M57 36h1M61 37h1M16 38h1M32 38h1M43 38h1M45 38h1M22 39h1M28 39h1M34 39h1M59 39h1M46 40h1M51 40h1M28 41h1M55 41h1M57 41h1M59 41h1M25 42h1M52 42h1M56 42h1M5 43h1M11 43h1M17 43h1M53 43h1M0 44h1M4 44h1M21 44h1M33 44h1M49 44h1M62 44h1M10 45h1M13 45h1M37 45h1M45 45h1M59 45h1M6 46h1M48 46h1M63 46h1M31 47h2M45 47h1M3 48h1M5 48h1M47 48h1M50 48h1M26 49h1M61 49h1M31 50h1M39 50h1M49 50h1M9 51h1M15 51h1M19 51h1M22 51h1M29 51h1M45 51h1M15 52h1M12 53h1M25 53h1M37 53h1M26 54h1M30 54h1M38 54h1M30 55h1M35 55h1M46 55h1M11 56h1M22 56h1M29 56h1M37 56h1M53 56h1M3 57h1M6 57h1M39 57h1M49 57h1M63 57h1M31 58h1M55 58h1M1 59h1M6 59h1M9 59h1M12 59h1M15 59h1M20 59h1M4 60h1M48 60h1M6 61h1M17 61h1M33 61h1M1 62h1M30 62h1M8 63h1M46 63h1M48 63h1"/>
<path stroke="#6f6f6f" d="M4 0h1M8 0h1M17 0h1M31 0h1M61 0h1M8 1h1M13 1h1M16 1h1M23 1h1M26 2h1M49 2h1M52 2h2M6 3h1M48 3h1M18 4h1M33 4h1M56 4h1M31 5h1M52 5h1M3 6h1M6 6h1M18 6h1M29 6h1M38 6h1M44 6h2M59 6h1M57 7h1M60 7h1M31 8h2M41 8h1M3 9h1M29 9h1M7 10h1M22 10h1M44 10h1M54 10h1M61 10h1M1 11h1M27 11h1M50 11h1M53 11h1M3 12h1M7 12h1M18 12h1M62 12h1M2 13h1M6 13h1M9 13h1M13 13h1M25 13h1M31 13h1M35 13h1M54 13h1M22 14h1M29 14h1M40 14h1M43 14h1M50 14h1M54 14h1M37 15h1M42 15h1M48 15h1M31 16h1M37 16h1M21 17h2M39 17h1M10 18h1M17 18h1M28 18h1M40 18h1M51 18h1M10 19h1M23 19h1M25 19h1M35 19h1M39 19h1M42 19h1M48 19h1M4 21h1M28 22h1M30 22h1M7 23h2M23 23h2M55 23h1M7 24h1M9 24h1M19 24h1M38 24h1M47 24h1M54 24h1M63 24h1M1 25h1M10 25h1M12 25h1M34 25h1M38 25h1M42 25h1M44 25h1M61 25h2M6 26h1M14 26h1M19 26h1M21 26h1M40 26h1M25 27h1M39 27h1M44 27h1M2 28h1M16 28h1M21 28h1M39 28h2M5 29h1M29 29h2M38 29h1M50 29h1M18 30h1M24 30h1M30 30h1M47 30h1M16 31h1M22 31h1M55 31h1M0 32h1M17 32h1M34 32h1M12 33h1M20 33h1M27 33h1M53 33h1M6 35h1M17 35h1M44 35h1M49 35h2M52 35h2M1 36h1M13 36h1M36 36h1M2 37h1M13 37h1M18 37h1M22 37h1M30 37h1M36 37h1M42 37h1M51 38h1M10 39h1M16 39h1M30 39h1M38 39h2M42 39h1M1 40h1M15 40h1M34 40h1M61 40h1M39 41h1M16 42h1M20 42h1M42 42h1M49 42h1M59 42h1M3 43h1M45 43h1M9 44h1M14 44h1M31 44h2M1 45h1M6 45h1M29 45h1M46 45h1M0 46h1M2 46h1M35 46h1M52 46h1M13 47h2M29 47h1M54 47h1M6 48h1M17 48h1M43 48h1M32 49h1M52 50h1M57 50h1M1 51h1M3 51h1M33 51h1M40 51h1M46 51h1M56 51h1M39 52h1M44 52h1M18 53h1M20 53h1M31 53h1M50 53h2M57 53h1M62 53h1M0 54h1M15 54h1M40 54h1M49 54h1M53 54h1M58 54h1M29 55h1M8 56h1M12 56h1M35 56h1M19 57h1M27 57h1M36 57h1M18 58h1M22 58h1M39 58h1M42 58h1M54 58h1M56 58h1M61 58h1M8 59h1M36 59h2M54 59h1M59 59h1M19 60h1M28 60h1M34 60h1M38 60h1M46 60h2M1 61h1M7 61h1M13 61h1M20 61h1M38 61h1M60 61h1M18 62h1M36 62h1M49 62h1M63 62h1M13 63h1M27 63h1M41 63h1"/>
<path stroke="#767676" d="M2 0h1M21 0h1M25 0h1M54 0h1M1 1h1M12 1h1M14 1h1M17 1h1M20 1h1M28 1h1M36 1h1M45 1h1M9 2h1M23 2h1M27 2h1M36 2h1M55 2h1M24 3h1M52 3h1M26 4h1M41 4h2M52 4h1M57 4h2M61 4h1M3 5h1M10 5h2M23 5h1M33 5h1M36 5h1M7 6h1M11 6h1M30 6h1M49 6h1M63 6h1M31 7h1M45 7h1M52 7h1M18 8h1M26 8h1M34 8h1M49 8h1M8 9h1M21 9h1M33 9h1M59 9h2M9 10h1M19 10h1M41 10h1M49 10h2M60 10h1M8 11h1M11 11h1M15 11h1M17 11h1M34 11h1M48 11h1M56 11h1M60 11h1M13 12h1M24 12h1M44 12h1M51 12h1M11 13h1M37 13h1M56 13h1M63 13h1M7 14h1M31 14h1M63 14h1M16 15h1M31 15h2M52 15h1M54 15h1M59 15h1M7 16h1M15 16h1M20 16h1M22 16h1M24 16h1M57 16h2M61 16h1M16 17h1M18 17h1M33 17h1M21 18h1M26 18h1M58 18h1M61 18h1M12 19h1M19 20h1M47 20h1M57 20h1M14 21h2M17 21h1M30 21h1M34 21h1M5 22h1M8 22h1M22 22h1M42 22h1M52 22h1M6 23h1M28 23h1M6 24h1M62 24h1M7 25h1M13 25h1M30 25h1M32 25h2M58 25h1M63 25h1M0 26h1M20 26h1M34 26h1M54 26h1M7 27h1M14 27h1M62 27h1M27 28h1M41 28h1M55 28h1M10 29h1M12 29h1M15 29h1M40 29h1M47 29h1M7 30h1M12 30h1M16 30h1M35 30h1M57 30h1M42 31h1M10 32h1M12 32h1M49 32h1M56 32h1M2 33h1M22 33h1M31 33h1M35 33h1M49 33h2M59 33h1M3 34h1M8 34h1M19 34h1M20 35h1M30 35h1M34 35h1M40 35h1M63 35h1M22 36h1M31 36h2M45 36h1M48 36h1M9 37h1M11 37h1M16 37h1M20 37h1M34 37h1M46 37h1M50 37h1M57 37h1M59 37h1M0 38h1M4 39h1M15 39h1M25 39h1M33 39h1M61 39h2M5 40h1M16 40h1M26 40h1M43 40h1M49 41h1M60 41h1M4 42h1M9 42h1M47 42h1M51 42h1M60 42h1M6 43h1M13 43h1M24 43h2M41 43h1M19 44h1M36 44h2M56 44h1M21 45h1M26 45h1M53 45h1M62 45h1M1 46h1M21 46h1M41 46h1M45 46h1M50 46h1M11 47h1M25 47h1M8 48h1M24 48h1M28 48h1M46 48h1M55 48h1M57 48h1M1 49h1M11 49h1M16 49h1M34 49h3M43 49h1M60 49h1M21 50h1M54 50h1M44 51h1M53 51h2M46 52h1M50 52h1M62 52h1M14 53h1M44 53h1M47 53h1M63 53h1M3 54h1M46 54h1M50 54h1M62 54h1M26 55h1M28 55h1M39 55h1M44 55h1M52 55h1M59 55h1M63 55h1M1 56h1M19 56h2M33 56h1M46 56h2M63 56h1M1 57h1M17 57h1M26 57h1M28 57h1M30 57h1M4 59h2M26 59h1M40 59h1M15 60h1M35 60h1M37 60h1M40 60h1M54 60h1M62 60h1M4 61h1M21 61h1M46 61h1M51 61h1M15 62h1M42 62h1M44 62h1M54 62h1M12 63h1M16 63h1M36 63h1M49 63h1"/>
<path stroke="#7c7c7c" d="M14 0h1M28 0h1M36 0h1M39 0h1M56 0h1M9 1h1M19 1h1M26 1h1M44 1h1M49 1h1M58 1h1M8 2h1M10 2h1M14 2h1M19 2h1M40 2h1M45 2h1M51 2h1M56 2h1M1 3h1M28 3h1M32 3h1M45 3h2M50 3h1M54 3h1M3 4h1M13 4h1M23 4h1M27 4h1M46 4h1M54 4h1M37 5h1M39 5h1M50 5h1M59 5h2M5 6h1M33 6h1M46 6h1M52 6h1M2 7h1M4 7h1M6 7h1M10 7h1M15 7h1M33 7h1M61 7h3M1 8h2M5 8h1M7 8h1M10 8h1M13 8h1M15 8h1M30 8h1M40 8h1M60 8h1M7 9h1M16 9h1M26 9h1M37 9h1M40 9h1M49 9h1M52 9h2M56 9h1M29 10h1M38 10h1M47 10h1M57 10h1M33 11h1M35 11h1M39 11h1M46 11h2M51 11h1M55 11h1M33 12h1M43 12h1M52 12h1M58 12h1M3 13h1M16 13h1M28 13h1M32 13h1M51 13h1M58 13h1M60 13h1M14 14h1M38 14h1M48 14h1M7 15h1M10 15h1M22 15h1M25 15h1M28 15h1M33 15h1M8 16h1M17 16h1M52 16h1M24 17h1M26 17h1M32 17h1M48 17h1M2 18h1M6 18h2M30 18h1M32 18h1M34 18h1M45 18h2M54 18h1M57 18h1M0 19h1M21 19h1M54 19h1M58 19h2M18 20h1M23 20h1M30 20h1M55 21h1M57 21h1M62 21h2M2 22h1M32 22h1M4 23h1M14 23h1M18 23h2M34 23h2M48 23h1M56 23h1M1 24h1M15 24h1M30 24h1M32 24h1M41 24h1M59 24h1M61 24h1M2 25h1M35 25h1M47 25h1M56 25h2M9 26h1M29 26h1M49 26h1M61 26h1M9 28h1M45 28h1M7 29h1M9 29h1M41 29h2M46 29h1M51 29h1M53 29h1M58 29h1M61 29h1M1 30h1M8 30h1M15 30h1M23 30h1M54 30h1M5 31h1M18 31h1M7 32h1M26 32h1M46 32h2M53 32h1M0 33h1M1 34h1M51 34h1M56 34h1M58 34h1M42 35h1M14 36h2M20 36h1M24 36h1M40 36h1M58 36h1M17 37h1M39 37h1M62 37h1M9 38h1M35 38h1M39 38h1M47 38h1M63 38h1M55 39h1M2 40h1M7 40h1M23 40h1M31 40h1M57 40h1M0 41h1M40 41h1M9 43h1M28 43h1M51 43h1M61 43h1M63 43h1M3 44h1M18 44h1M46 44h1M2 45h2M35 45h1M43 45h1M55 45h1M9 46h1M12 46h1M16 46h1M40 46h1M49 46h1M0 47h1M3 47h1M12 47h1M20 47h1M33 47h2M37 47h1M42 47h1M13 48h1M19 48h1M37 48h1M63 48h1M6 49h1M27 49h1M45 49h1M48 49h1M59 49h1M9 50h1M19 50h1M41 50h1M45 50h1M63 50h1M0 51h1M17 51h1M28 51h1M50 51h1M52 51h1M57 51h1M60 51h1M0 52h1M12 52h1M18 52h1M21 52h1M25 52h1M37 52h1M58 52h1M16 53h1M30 53h1M49 53h1M60 53h2M4 54h1M7 54h1M14 54h1M18 54h1M52 54h1M2 55h1M4 55h1M32 55h1M43 55h1M3 56h1M5 56h1M24 56h1M33 57h1M44 57h1M8 58h1M2 59h1M21 59h1M44 59h1M55 59h1M62 59h1M5 60h1M26 60h1M29 60h1M49 60h1M63 61h1M0 62h1M4 62h1M20 62h1M38 62h1M50 62h1M60 62h1M3 63h1M26 63h1M56 63h1"/>
<path stroke="#838383" d="M0 0h1M6 0h1M12 0h1M24 0h1M29 0h1M40 0h2M43 0h1M47 0h1M52 0h1M62 0h1M22 1h1M30 1h1M50 1h1M56 1h1M4 2h1M21 2h1M25 2h1M41 2h1M57 2h1M18 3h1M23 3h1M25 3h1M51 3h1M61 3h1M1 4h2M4 4h1M14 4h1M24 4h1M30 4h1M39 4h1M43 4h1M51 4h1M59 4h1M6 5h1M26 5h1M43 5h1M62 5h1M55 6h1M7 7h1M35 7h1M21 8h1M23 8h1M28 8h2M36 8h1M39 8h1M13 9h1M18 10h1M26 10h1M31 10h1M23 11h1M28 11h1M49 11h1M63 11h1M2 12h1M35 12h1M37 12h1M48 12h1M54 12h1M10 13h1M38 13h2M48 13h1M57 13h1M9 14h2M20 14h1M26 14h2M51 14h2M27 15h1M34 15h1M50 15h2M12 16h1M26 16h1M0 17h1M2 17h1M31 17h1M37 17h1M55 17h1M59 17h1M0 18h1M3 18h1M15 18h1M18 18h1M31 18h1M20 20h1M46 20h1M0 21h1M43 21h1M60 21h1M10 22h1M34 22h1M53 22h1M59 22h1M26 23h1M30 23h2M49 23h1M8 24h1M17 24h1M24 24h1M33 24h1M43 24h1M51 24h1M58 24h1M3 25h1M24 25h1M5 26h1M22 26h1M25 26h1M46 26h1M52 26h1M0 27h1M42 27h1M47 27h1M24 28h1M51 28h1M60 28h1M43 29h1M45 29h1M14 30h1M49 30h1M58 30h1M63 30h1M8 31h1M10 31h1M13 31h1M35 31h1M43 31h1M54 31h1M57 31h1M59 31h1M16 32h1M20 32h1M22 32h2M25 32h1M28 32h1M50 32h1M57 32h2M11 33h1M16 33h1M21 33h1M0 34h1M14 34h1M16 34h1M40 34h1M42 34h1M59 34h1M11 35h1M19 35h1M29 35h1M39 35h1M41 35h1M5 36h1M8 36h1M23 36h1M10 37h1M41 37h1M54 37h1M18 38h2M23 38h1M44 38h1M48 38h2M54 38h2M61 38h1M2 39h1M14 39h1M40 39h1M50 39h1M52 39h1M63 39h1M44 40h1M53 40h1M56 40h1M60 40h1M1 42h1M15 42h1M36 42h1M55 42h1M10 43h1M15 43h1M23 43h1M27 43h1M1 44h1M24 44h1M43 44h1M0 45h1M38 45h1M10 46h1M20 46h1M5 47h1M19 47h1M24 47h1M30 47h1M46 47h1M49 47h1M57 47h1M62 47h1M11 48h1M27 48h1M30 48h1M42 48h1M44 48h2M56 48h1M4 49h1M10 49h1M14 49h1M22 49h1M28 49h1M39 49h1M0 50h1M23 50h1M26 50h1M34 50h1M43 50h1M11 51h1M38 51h1M51 51h1M58 51h2M62 51h1M11 52h1M14 52h1M27 52h1M30 52h1M40 52h1M49 52h1M51 52h1M56 52h1M0 53h1M11 53h1M19 53h1M59 53h1M35 54h1M44 54h2M0 55h1M18 55h2M21 55h1M33 55h1M51 55h1M53 55h1M57 55h1M7 56h1M10 56h1M16 56h1M26 56h2M38 56h1M51 56h1M0 57h1M11 57h1M50 57h1M7 58h1M21 58h1M30 58h1M29 59h3M60 59h1M3 60h1M22 60h1M44 60h1M31 61h1M36 61h1M39 61h1M42 61h1M48 61h1M26 62h1M40 62h1M45 62h1M47 62h1M2 63h1M19 63h1M24 63h1M28 63h1"/>
<path stroke="#898989" d="M1 0h1M23 0h1M60 0h1M38 1h1M42 1h1M52 1h1M55 1h1M50 2h1M22 3h1M38 3h1M7 4h1M22 4h1M40 4h1M5 5h1M13 5h1M20 5h1M32 5h1M34 5h2M38 5h1M56 5h1M12 6h1M16 6h1M20 6h1M36 6h1M32 7h1M34 7h1M14 8h1M20 8h1M38 8h1M45 8h2M52 8h1M57 8h1M4 9h1M27 9h1M45 9h2M54 9h1M13 10h1M16 10h1M27 10h1M39 10h1M20 11h1M32 11h1M62 11h1M22 12h1M45 12h1M23 13h1M33 13h1M41 13h1M47 13h1M55 13h1M2 14h1M16 14h1M18 14h1M56 14h1M60 15h1M6 16h1M11 16h1M59 16h2M3 17h1M12 17h1M15 17h1M41 17h1M54 17h1M27 18h1M37 18h1M49 18h1M6 19h1M13 19h1M22 19h1M29 19h1M37 19h1M44 19h1M50 19h1M53 19h1M63 19h1M8 20h1M21 20h1M26 20h1M28 20h1M36 20h1M39 20h1M41 20h2M58 20h1M8 21h1M21 21h1M13 22h1M24 22h2M51 22h1M57 22h1M62 22h1M13 23h1M27 23h1M4 24h1M25 24h2M28 24h1M14 25h1M22 25h1M25 25h1M28 25h1M39 25h1M49 25h1M51 25h1M53 25h1M4 26h1M33 26h1M51 26h1M59 26h1M33 27h1M46 27h1M13 28h2M23 28h1M25 28h1M42 28h1M58 28h1M2 29h2M17 29h1M28 29h1M33 29h1M60 29h1M62 29h2M29 30h1M33 30h1M7 31h1M25 31h1M31 31h2M36 31h2M39 31h1M27 32h1M29 32h4M5 33h1M8 33h1M26 33h1M30 33h1M32 33h1M58 33h1M5 34h1M25 34h1M25 35h2M51 35h1M55 35h1M3 36h2M10 36h1M12 36h1M27 36h1M62 36h1M8 37h1M15 37h1M21 37h1M37 37h1M44 37h1M60 37h1M4 38h1M10 38h4M46 39h1M10 40h1M12 40h1M39 40h1M59 40h1M2 41h1M6 41h1M15 41h1M19 41h1M26 41h2M19 42h1M31 42h1M63 42h1M0 43h1M40 43h1M23 44h1M29 44h1M39 44h1M42 44h1M57 44h1M4 45h1M30 45h1M52 45h1M61 45h1M14 46h1M32 46h1M39 46h1M42 46h1M56 46h1M27 47h1M43 47h2M63 47h1M4 48h1M20 48h1M49 48h1M9 49h1M52 49h2M1 50h1M16 50h1M24 50h1M28 50h1M37 50h1M62 50h1M26 51h1M31 51h1M63 51h1M4 52h1M7 52h1M35 52h1M38 52h1M63 52h1M3 53h1M24 53h1M42 54h1M55 54h1M23 55h1M27 55h1M36 55h1M41 55h1M48 55h1M32 57h1M57 57h1M4 58h2M24 58h1M45 58h1M47 58h2M59 58h1M63 58h1M42 59h1M48 59h1M52 59h1M57 59h1M16 60h1M36 60h1M57 60h1M63 60h1M23 61h1M32 61h1M44 61h1M47 61h1M61 61h1M11 62h1M29 62h1M31 62h1M41 62h1M51 62h1M0 63h2M5 63h3M17 63h1M30 63h1M38 63h1M45 63h1"/>
<path stroke="#909090" d="M10 0h2M18 1h1M33 1h1M43 1h1M61 1h1M33 2h1M43 2h1M60 2h1M10 3h1M33 3h1M40 3h2M20 4h1M29 4h1M8 5h1M45 5h1M17 6h1M24 6h1M42 6h1M62 6h1M21 7h1M26 7h1M44 8h1M47 8h1M51 8h1M62 8h1M11 9h2M20 9h1M22 9h1M35 9h1M1 10h1M5 10h2M32 10h1M42 10h1M63 10h1M9 11h1M13 11h1M30 11h1M21 12h1M29 12h1M34 12h1M39 12h3M52 13h1M21 14h1M44 14h1M47 14h1M8 15h1M18 15h1M23 15h1M38 15h1M40 15h2M44 15h1M49 15h1M56 15h1M44 16h1M7 17h1M28 17h1M30 17h1M60 17h1M8 18h1M60 18h1M32 19h1M45 19h1M5 20h1M60 20h2M9 21h1M20 21h1M31 21h1M19 22h1M35 22h1M56 22h1M40 23h1M44 23h1M50 23h1M58 23h1M0 24h1M48 24h1M56 24h1M29 25h1M1 26h1M24 26h1M42 26h1M44 26h1M58 26h1M51 27h1M53 27h1M3 28h1M29 28h1M49 28h1M1 29h1M20 29h1M34 29h1M48 29h1M57 29h1M25 30h1M28 30h1M1 31h1M17 31h1M28 31h1M44 31h1M50 31h1M62 31h1M5 32h1M38 32h1M3 33h1M23 33h1M25 33h1M34 33h1M38 33h1M41 33h1M43 33h1M55 33h1M27 34h1M32 34h1M38 34h1M43 34h1M4 35h1M25 36h1M38 36h1M43 36h2M27 37h1M35 37h1M45 37h1M51 37h2M28 38h2M40 38h1M53 38h1M59 38h1M7 39h1M18 39h1M24 39h1M35 39h1M43 39h1M49 39h1M8 40h1M28 40h1M30 40h1M33 40h1M50 40h1M52 40h1M62 40h1M1 41h1M7 41h1M32 41h1M45 41h1M0 42h1M11 42h1M22 42h1M37 42h1M54 42h1M61 42h1M12 43h1M37 43h1M35 44h1M60 44h1M5 45h1M22 45h1M33 45h1M54 45h1M15 46h1M28 46h1M34 46h1M58 46h1M50 47h1M58 47h1M61 47h1M9 48h1M16 48h1M60 48h1M5 49h1M15 49h1M20 49h1M30 49h1M38 49h1M57 49h1M7 50h2M12 50h1M15 50h1M46 50h1M56 50h1M7 51h1M32 51h1M37 51h1M22 52h1M29 52h1M31 52h1M34 52h1M45 52h1M48 52h1M21 53h1M23 53h1M34 53h1M38 53h1M1 54h1M6 54h1M9 54h1M21 54h1M27 54h2M34 54h1M37 54h1M39 54h1M1 55h1M5 55h1M7 55h1M55 55h2M13 56h2M48 56h1M52 56h1M21 57h1M46 57h2M25 58h1M40 58h1M58 58h1M60 58h1M16 59h2M24 59h1M21 60h1M23 60h1M42 60h1M59 60h1M11 61h1M45 61h1M10 62h1M13 62h1M55 62h2M59 62h1M10 63h2M59 63h1M63 63h1"/>
<path stroke="#969696" d="M53 0h1M57 0h1M6 1h1M25 1h1M27 1h1M31 1h1M47 1h1M54 2h1M2 3h1M31 3h1M6 4h1M9 4h1M38 4h1M45 4h1M50 4h1M1 5h1M21 5h1M40 5h1M42 5h1M54 5h1M4 6h1M27 6h1M1 7h1M3 7h1M12 7h1M24 7h1M48 7h1M12 8h1M42 8h1M50 8h1M54 8h1M18 9h1M25 9h1M41 9h1M36 10h1M40 10h1M0 11h1M4 11h1M7 11h1M57 11h1M8 12h2M15 12h1M36 12h1M56 12h1M15 13h1M18 13h1M0 14h1M59 14h1M4 15h1M9 15h1M13 15h1M29 15h1M4 16h1M9 16h1M14 16h1M29 17h1M50 17h1M61 17h1M14 18h1M19 18h1M38 18h1M62 18h1M8 19h1M14 19h1M19 19h1M28 19h1M2 20h2M15 20h1M35 20h1M53 20h1M24 21h2M27 21h2M45 21h1M26 22h1M3 23h1M10 23h1M36 23h1M57 23h1M40 24h1M50 24h1M5 25h1M48 25h1M54 25h1M57 26h1M62 26h1M2 27h1M35 27h1M26 28h1M28 28h1M44 28h1M0 29h1M21 29h1M24 29h1M20 30h1M34 30h1M36 30h1M55 30h1M61 30h1M26 31h2M30 31h1M4 32h1M13 32h1M41 32h1M51 32h1M55 32h1M24 33h1M39 33h2M45 33h1M7 34h1M12 35h1M46 35h1M35 36h1M39 36h1M60 36h2M63 36h1M12 37h1M40 37h1M48 37h1M38 38h1M56 38h1M9 39h1M27 39h1M44 39h1M40 40h2M9 41h1M17 41h1M25 41h1M30 41h2M34 41h1M37 41h1M43 41h1M48 41h1M5 42h1M28 42h1M38 42h1M41 42h1M46 42h1M62 42h1M26 43h1M62 43h1M38 44h1M47 44h1M58 44h1M48 45h1M18 46h2M26 46h1M43 46h1M57 46h1M2 47h1M26 47h1M28 47h1M41 47h1M56 47h1M59 47h1M34 48h1M12 49h1M41 49h2M54 49h1M6 50h1M11 50h1M18 50h1M27 50h1M44 50h1M10 51h1M47 51h1M8 52h1M26 52h1M55 52h1M61 52h1M15 53h1M8 54h1M11 54h1M17 54h1M41 54h1M56 54h1M14 55h1M22 55h1M54 55h1M6 56h1M18 56h1M54 56h1M59 56h2M4 57h1M37 57h1M42 57h1M0 58h1M12 58h1M27 58h1M38 58h1M7 59h1M11 59h1M14 59h1M32 59h2M43 59h1M53 59h1M6 60h1M27 60h1M56 60h1M5 61h1M40 61h1M7 62h1M12 62h1M23 62h1M43 62h1M4 63h1M22 63h2M31 63h1M54 63h2M58 63h1"/>
<path stroke="#9d9d9d" d="M15 0h1M50 0h1M55 0h1M11 1h1M46 1h1M63 1h1M1 2h1M3 2h1M39 2h1M59 2h1M3 3h2M16 3h1M19 3h1M49 3h1M5 4h1M19 4h1M49 5h1M10 6h1M23 6h1M41 7h2M56 7h1M17 9h1M38 9h1M42 9h1M47 9h1M61 9h1M15 10h1M51 10h1M58 10h1M5 11h1M10 11h1M43 11h1M58 11h1M12 12h1M32 12h1M0 13h1M14 13h1M30 13h1M42 13h1M46 13h1M53 13h1M8 14h1M19 14h1M25 14h1M45 14h1M62 14h1M5 15h2M16 16h1M42 16h1M6 17h1M14 17h1M20 17h1M34 17h1M47 18h1M47 19h1M51 19h1M60 19h1M29 20h1M31 20h1M51 20h1M35 21h1M49 21h1M21 22h1M23 22h1M39 22h1M9 23h1M17 23h1M41 23h1M54 23h1M60 23h1M14 24h1M39 24h1M46 24h1M53 24h1M55 24h1M27 25h1M13 26h1M15 26h1M30 26h1M55 26h1M6 27h1M8 27h1M22 27h1M26 27h1M28 27h1M30 27h1M34 27h1M49 27h1M5 28h1M8 28h1M30 28h1M35 28h1M62 28h2M39 29h1M4 30h1M56 30h1M0 31h1M20 31h1M53 31h1M3 32h1M4 33h1M10 33h1M14 33h1M12 34h1M44 34h1M13 35h1M45 35h1M54 35h1M60 35h1M26 36h1M6 37h1M19 37h1M26 37h1M33 37h1M1 38h1M3 38h1M21 38h1M50 38h1M29 39h1M54 39h1M58 39h1M19 40h2M45 40h1M54 40h1M11 41h1M16 41h1M35 41h1M50 41h1M52 41h2M14 42h1M32 42h1M32 43h2M55 43h1M6 44h1M27 44h1M30 44h1M53 44h1M63 44h1M8 45h1M14 45h1M24 45h1M8 46h1M1 47h1M9 47h1M21 47h1M1 48h1M25 48h1M29 48h1M33 48h1M41 48h1M53 48h2M19 49h1M50 49h2M58 50h1M14 51h1M53 52h1M35 53h1M22 54h2M60 54h1M15 55h1M31 55h1M49 55h2M15 56h1M36 56h1M50 56h1M62 56h1M25 57h1M35 57h1M60 57h2M16 58h1M34 58h1M49 59h1M2 60h1M32 60h1M55 60h1M50 61h1M53 61h2M32 62h1M40 63h1M60 63h1M62 63h1"/>
<path stroke="#a3a3a3" d="M37 0h1M46 0h1M2 1h1M54 1h1M20 2h1M63 2h1M0 3h1M5 3h1M9 3h1M11 3h1M44 3h1M36 4h2M55 4h1M63 4h1M28 5h1M48 5h1M13 6h1M39 6h1M53 6h1M58 6h1M8 7h1M56 8h1M59 8h1M14 9h1M34 9h1M50 9h1M20 10h1M56 10h1M61 11h1M59 12h1M26 13h1M44 13h1M61 13h1M24 14h1M41 14h1M57 14h1M15 15h1M46 15h1M21 16h1M32 16h1M35 16h2M48 16h1M39 18h1M41 18h1M55 18h2M24 19h1M30 19h1M61 19h1M17 20h1M49 20h1M59 20h1M13 21h1M40 21h1M42 21h1M6 22h1M41 22h1M12 24h1M26 25h1M60 25h1M4 27h1M41 27h1M52 27h1M57 27h1M17 28h1M4 29h1M8 29h1M18 29h1M35 29h1M9 30h1M38 30h1M52 30h1M46 31h1M2 32h1M63 32h1M6 33h1M44 33h1M21 34h1M28 34h1M34 34h1M41 34h1M48 34h2M54 34h1M58 35h1M21 36h1M50 36h1M53 36h1M59 36h1M14 37h1M24 37h1M6 38h1M22 38h1M30 38h1M46 38h1M57 38h2M60 38h1M57 39h1M9 40h1M18 40h1M21 40h1M24 40h1M48 40h1M41 41h2M17 42h1M47 43h3M13 44h1M34 44h1M61 44h1M20 45h1M27 45h1M40 45h1M42 45h1M44 45h1M49 45h1M57 45h1M4 46h1M22 46h1M27 46h1M60 46h1M4 47h1M6 47h1M17 47h1M10 48h1M15 48h1M32 48h1M35 48h1M0 49h1M7 49h2M13 49h1M23 49h1M25 49h1M47 49h1M55 49h1M14 50h1M35 50h1M55 51h1M61 51h1M19 52h1M33 52h1M1 53h1M17 53h1M42 53h1M16 54h1M36 54h1M47 54h1M61 55h1M31 56h1M41 56h1M56 56h1M58 56h1M13 57h1M22 57h1M45 57h1M51 57h1M58 57h1M6 58h1M10 58h1M35 58h1M52 58h1M3 59h1M39 59h1M58 59h1M8 60h1M30 60h1M3 61h1M14 61h1M16 61h1M26 61h1M43 61h1M58 61h1M9 62h1M57 62h1M21 63h1M25 63h1M29 63h1M42 63h1"/>
<path stroke="#aaa" d="M34 0h1M3 1h1M24 1h1M29 1h1M12 2h1M58 2h1M53 3h1M0 4h1M11 4h1M28 4h1M18 5h1M0 6h3M19 6h1M41 6h1M16 7h1M50 7h1M55 8h1M19 9h1M44 9h1M62 9h1M4 10h1M8 10h1M10 10h1M46 10h1M21 11h1M24 13h1M4 14h1M13 14h1M28 14h1M32 14h1M55 14h1M11 15h1M24 15h1M26 15h1M30 15h1M36 15h1M28 16h1M46 16h1M49 16h1M62 16h1M27 17h1M43 17h1M49 17h1M56 17h1M9 18h1M42 18h2M15 19h1M17 19h1M31 19h1M6 20h1M33 20h1M15 23h1M38 23h1M53 23h1M63 23h1M11 25h1M15 25h1M10 26h1M43 26h1M45 26h1M16 27h1M20 27h2M23 27h1M37 27h1M48 27h1M54 27h1M60 27h1M19 28h1M33 28h1M36 28h1M52 28h2M57 28h1M59 28h1M44 29h1M33 31h1M36 32h1M54 32h1M62 32h1M13 33h1M18 33h1M7 35h1M16 35h1M35 35h1M38 35h1M62 35h1M11 36h1M19 36h1M34 36h1M51 36h1M5 38h1M8 38h1M27 38h1M52 38h1M21 39h1M26 39h1M41 39h1M48 39h1M60 39h1M27 40h1M49 40h1M3 41h1M33 41h1M2 42h2M34 42h1M18 43h1M34 43h1M36 43h1M44 43h1M52 43h1M20 44h1M22 44h1M45 44h1M32 45h1M63 45h1M23 46h1M25 46h1M39 47h1M60 47h1M36 48h1M31 49h1M63 49h1M5 50h1M36 50h1M50 50h2M18 51h1M13 52h1M32 52h1M57 52h1M59 52h1M48 53h1M10 54h1M25 54h1M9 55h1M13 55h1M42 56h1M45 56h1M57 56h1M54 57h1M56 57h1M14 58h1M19 58h1M41 58h1M51 58h1M19 59h1M35 59h1M50 59h1M14 60h1M17 60h1M24 61h1M34 61h1M3 62h1M19 62h1M24 62h1M27 62h1M33 62h1M50 63h1M52 63h1"/>
<path stroke="#b1b1b1" d="M7 0h1M44 0h1M10 1h1M6 2h1M18 2h1M48 2h1M60 3h1M16 5h1M26 6h1M28 6h1M3 8h1M2 9h1M55 9h1M23 10h1M62 10h1M19 11h1M42 11h1M38 12h1M34 13h1M40 13h1M34 14h1M37 14h1M42 14h1M58 14h1M36 17h1M58 17h1M5 19h1M9 19h1M16 19h1M18 19h1M38 19h1M62 19h1M14 20h1M52 20h1M55 20h1M41 21h1M1 22h1M3 22h1M58 22h1M1 23h1M42 23h1M49 24h1M8 25h1M39 26h1M47 26h2M61 28h1M56 29h1M10 30h1M39 30h1M40 31h1M47 31h1M60 32h1M48 33h1M2 35h1M47 35h1M57 35h1M5 37h1M62 38h1M1 39h1M14 40h1M20 41h1M8 42h1M53 42h1M29 43h1M51 44h1M51 45h1M0 48h1M40 48h1M59 48h1M24 49h1M13 50h1M30 50h1M53 50h1M5 51h1M16 51h1M24 51h2M47 52h1M5 53h1M5 54h1M13 54h1M8 55h1M40 55h1M4 56h1M62 58h1M18 59h1M63 59h1M1 60h1M18 60h1M20 60h1M33 60h1M45 60h1M8 61h1M19 61h1M62 61h1M35 62h1M58 62h1M33 63h1M35 63h1M43 63h1"/>
<path stroke="#b7b7b7" d="M58 0h1M15 1h1M7 2h1M34 2h1M7 3h1M13 3h1M17 4h1M31 4h1M44 4h1M2 5h1M19 5h1M27 5h1M60 6h1M46 7h1M55 7h1M57 9h1M28 10h1M45 11h1M4 12h1M10 12h1M22 13h1M15 14h1M54 16h1M44 18h1M27 19h1M57 19h1M4 20h1M7 20h1M44 20h1M52 21h1M17 22h1M43 22h1M45 22h1M2 24h1M5 24h1M23 24h1M31 25h1M52 25h1M12 26h1M50 26h1M38 27h1M15 28h1M32 29h1M0 30h1M21 30h1M31 30h2M43 30h1M3 31h1M29 31h1M6 32h1M14 32h1M42 33h1M57 33h1M17 34h1M46 34h1M9 35h2M24 35h1M33 36h1M0 37h1M56 37h1M3 40h2M23 41h2M19 43h2M28 44h1M44 44h1M18 45h1M56 45h1M60 45h1M15 47h1M55 50h1M2 51h1M6 51h1M30 51h1M42 52h1M27 53h1M43 53h1M46 53h1M52 53h2M42 55h1M47 55h1M5 57h1M8 57h1M18 57h1M41 57h1M1 58h2M25 59h1M28 59h1M31 60h1M18 61h1M49 61h1M25 62h1"/>
<path stroke="#bebebe" d="M30 2h1M35 4h1M49 4h1M34 6h1M6 9h1M43 9h1M0 12h1M23 12h1M47 12h1M11 14h1M1 15h1M2 16h1M24 18h1M12 20h1M24 20h1M40 20h1M36 21h1M53 21h2M11 22h1M40 22h1M49 22h1M39 23h1M10 24h1M20 24h1M28 26h1M54 28h1M26 30h1M42 30h1M1 32h1M52 32h1M14 35h1M30 36h1M4 37h1M7 38h1M24 38h1M19 39h1M6 40h1M22 40h1M29 41h1M40 42h1M50 42h1M56 43h1M11 45h1M19 45h1M36 47h1M21 49h1M40 49h1M49 49h1M10 50h1M12 51h1M41 51h1M10 52h1M9 53h1M39 53h1M14 57h1M16 57h1M23 59h1M39 60h1M52 60h1M2 62h1"/>
<path stroke="#c4c4c4" d="M12 3h1M16 4h1M41 5h1M30 7h1M4 8h1M5 9h1M3 11h1M40 11h1M49 13h1M0 15h1M45 15h1M10 16h1M18 16h1M45 16h1M53 17h1M63 18h1M16 20h1M45 20h1M16 21h1M50 21h1M29 24h1M17 27h1M11 28h1M6 29h1M22 29h1M6 30h1M60 30h1M2 31h1M38 31h1M8 32h1M46 33h1M6 34h1M28 35h1M32 35h1M25 38h1M37 40h1M18 41h1M38 43h1M41 44h1M59 44h1M31 46h1M22 47h1M2 50h1M17 50h1M48 51h1M56 53h1M12 54h1M48 54h1M24 57h1M59 57h1M50 58h1M38 59h1M43 60h1M50 60h1M20 63h1"/>
<path stroke="#cbcbcb" d="M49 0h1M42 3h1M9 5h1M22 5h1M36 7h1M51 9h1M25 10h1M2 11h1M22 11h1M41 11h1M6 14h1M43 15h1M9 17h1M41 19h1M10 21h1M0 22h1M33 23h1M52 23h1M22 28h1M32 28h1M11 29h1M55 29h1M39 32h1M48 32h1M62 34h1M2 38h1M11 39h1M32 39h1M24 42h1M26 42h1M16 43h1M22 43h1M17 46h1M53 46h1M47 47h1M21 48h1M23 48h1M33 49h1M22 53h1M32 53h1M63 54h1M40 56h1M53 63h1"/>
<path stroke="#d1d1d1" d="M59 10h1M45 13h1M52 24h1M43 25h1M50 25h1M16 29h1M59 29h1M2 30h1M56 31h1M43 32h1M3 35h1M6 39h1M8 41h1M38 41h1M50 45h1M53 47h1M55 47h1M12 48h1M48 48h1M16 52h1M43 52h1M10 57h1M23 57h1M56 59h1M0 60h1M30 61h1M37 61h1"/>
<path stroke="#d8d8d8" d="M39 1h1M55 5h1M24 10h1M54 11h1M5 14h1M60 14h1M10 17h1M4 18h1M18 22h1M60 22h1M11 27h1M34 28h1M29 33h1M47 34h1M37 36h1M23 39h1M7 42h1M18 47h1M0 56h1M3 58h1M32 58h1M16 62h1M14 63h1M34 63h1"/>
<path stroke="#dedede" d="M32 6h1M55 10h1M29 13h1M27 16h1M13 17h1M57 17h1M31 26h1M31 27h2M31 28h1M19 33h1M49 37h1M11 40h1M61 48h1M3 50h1M23 52h1M34 57h1"/>
<path stroke="#e5e5e5" d="M60 12h1M50 20h1M38 21h1M48 22h1M16 23h1M9 31h1M14 41h1M5 44h1M16 45h1M58 49h1M61 60h1M61 63h1"/>
<path stroke="#ebebeb" d="M55 19h1M48 21h1M52 36h1"/>
<path stroke="#f2f2f2" d="M61 23h1"/>
<path stroke="#f8f8f8" d="M51 41h1M14 48h1M9 56h1"/>
<path stroke="#fff" d="M31 29h1"/>
</g></g>
<g id="inset-c"><rect x="470" y="1085" width="439" height="438" fill="#f00"/>
<g shape-rendering="crispEdges">
<rect x="477" y="1092" width="22" height="21" fill="#696969"/>
<rect x="499" y="1092" width="31" height="21" fill="#808080"/>
<rect x="530" y="1092" width="38" height="21" fill="#878787"/>
<rect x="568" y="1092" width="31" height="21" fill="#787878"/>
<rect x="599" y="1092" width="37" height="21" fill="#696969"/>
<rect x="636" y="1092" width="31" height="21" fill="#828282"/>
<rect x="667" y="1092" width="38" height="21" fill="#828282"/>
<rect x="705" y="1092" width="31" height="21" fill="#646464"/>
<rect x="736" y="1092" width="31" height="21" fill="#cdcdcd"/>
<rect x="767" y="1092" width="38" height="21" fill="#7d7d7d"/>
<rect x="805" y="1092" width="31" height="21" fill="#7d7d7d"/>
<rect x="836" y="1092" width="37" height="21" fill="#969696"/>
<rect x="873" y="1092" width="28" height="21" fill="#3c3c3c"/>
<rect x="477" y="1113" width="22" height="38" fill="#8c8c8c"/>
<rect x="499" y="1113" width="31" height="38" fill="#878787"/>
<rect x="530" y="1113" width="38" height="38" fill="#646464"/>
<rect x="568" y="1113" width="31" height="38" fill="#878787"/>
<rect x="599" y="1113" width="37" height="38" fill="#c3c3c3"/>
<rect x="636" y="1113" width="31" height="38" fill="#7d7d7d"/>
<rect x="667" y="1113" width="38" height="38" fill="#5f5f5f"/>
<rect x="705" y="1113" width="31" height="38" fill="#7d7d7d"/>
<rect x="736" y="1113" width="31" height="38" fill="#828282"/>
<rect x="767" y="1113" width="38" height="38" fill="#555"/>
<rect x="805" y="1113" width="31" height="38" fill="#555"/>
<rect x="836" y="1113" width="37" height="38" fill="#5f5f5f"/>
<rect x="873" y="1113" width="28" height="38" fill="#646464"/>
<rect x="477" y="1151" width="22" height="31" fill="#8c8c8c"/>
<rect x="499" y="1151" width="31" height="31" fill="#a5a5a5"/>
<rect x="530" y="1151" width="38" height="31" fill="#9b9b9b"/>
<rect x="568" y="1151" width="31" height="31" fill="#8c8c8c"/>
<rect x="599" y="1151" width="37" height="31" fill="#919191"/>
<rect x="636" y="1151" width="31" height="31" fill="#737373"/>
<rect x="667" y="1151" width="38" height="31" fill="#b9b9b9"/>
<rect x="705" y="1151" width="31" height="31" fill="#787878"/>
<rect x="736" y="1151" width="31" height="31" fill="#787878"/>
<rect x="767" y="1151" width="38" height="31" fill="#6e6e6e"/>
<rect x="805" y="1151" width="31" height="31" fill="#7d7d7d"/>
<rect x="836" y="1151" width="37" height="31" fill="#5f5f5f"/>
<rect x="873" y="1151" width="28" height="31" fill="#5a5a5a"/>
<rect x="477" y="1182" width="22" height="31" fill="#828282"/>
<rect x="499" y="1182" width="31" height="31" fill="#3c3c3c"/>
<rect x="530" y="1182" width="38" height="31" fill="#4b4b4b"/>
<rect x="568" y="1182" width="31" height="31" fill="#bebebe"/>
<rect x="599" y="1182" width="37" height="31" fill="#7d7d7d"/>
<rect x="636" y="1182" width="31" height="31" fill="#a0a0a0"/>
<rect x="667" y="1182" width="38" height="31" fill="#dcdcdc"/>
<rect x="705" y="1182" width="31" height="31" fill="#3c3c3c"/>
<rect x="736" y="1182" width="31" height="31" fill="#8c8c8c"/>
<rect x="767" y="1182" width="38" height="31" fill="#737373"/>
<rect x="805" y="1182" width="31" height="31" fill="#373737"/>
<rect x="836" y="1182" width="37" height="31" fill="#505050"/>
<rect x="873" y="1182" width="28" height="31" fill="#464646"/>
<rect x="477" y="1213" width="22" height="37" fill="#6e6e6e"/>
<rect x="499" y="1213" width="31" height="37" fill="#9b9b9b"/>
<rect x="530" y="1213" width="38" height="37" fill="#3c3c3c"/>
<rect x="568" y="1213" width="31" height="37" fill="#9b9b9b"/>
<rect x="599" y="1213" width="37" height="37" fill="#414141"/>
<rect x="636" y="1213" width="31" height="37" fill="#a0a0a0"/>
<rect x="667" y="1213" width="38" height="37" fill="#e1e1e1"/>
<rect x="705" y="1213" width="31" height="37" fill="#e1e1e1"/>
<rect x="736" y="1213" width="31" height="37" fill="#8c8c8c"/>
<rect x="767" y="1213" width="38" height="37" fill="#9b9b9b"/>
<rect x="805" y="1213" width="31" height="37" fill="#969696"/>
<rect x="836" y="1213" width="37" height="37" fill="#505050"/>
<rect x="873" y="1213" width="28" height="37" fill="#aaa"/>
<rect x="477" y="1250" width="22" height="32" fill="#8c8c8c"/>
<rect x="499" y="1250" width="31" height="32" fill="#969696"/>
<rect x="530" y="1250" width="38" height="32" fill="#787878"/>
<rect x="568" y="1250" width="31" height="32" fill="#969696"/>
<rect x="599" y="1250" width="37" height="32" fill="#919191"/>
<rect x="636" y="1250" width="31" height="32" fill="#a0a0a0"/>
<rect x="667" y="1250" width="38" height="32" fill="#e1e1e1"/>
<rect x="705" y="1250" width="31" height="32" fill="#cdcdcd"/>
<rect x="736" y="1250" width="31" height="32" fill="#aaa"/>
<rect x="767" y="1250" width="38" height="32" fill="#d7d7d7"/>
<rect x="805" y="1250" width="31" height="32" fill="#a0a0a0"/>
<rect x="836" y="1250" width="37" height="32" fill="#aaa"/>
<rect x="873" y="1250" width="28" height="32" fill="#5a5a5a"/>
<rect x="477" y="1282" width="22" height="37" fill="#4b4b4b"/>
<rect x="499" y="1282" width="31" height="37" fill="#373737"/>
<rect x="530" y="1282" width="38" height="37" fill="#646464"/>
<rect x="568" y="1282" width="31" height="37" fill="#878787"/>
<rect x="599" y="1282" width="37" height="37" fill="#6e6e6e"/>
<rect x="636" y="1282" width="31" height="37" fill="#6e6e6e"/>
<rect x="667" y="1282" width="38" height="37" fill="#fdfdfd"/>
<rect x="705" y="1282" width="31" height="37" fill="#b9b9b9"/>
<rect x="736" y="1282" width="31" height="37" fill="#8c8c8c"/>
<rect x="767" y="1282" width="38" height="37" fill="#919191"/>
<rect x="805" y="1282" width="31" height="37" fill="#a5a5a5"/>
<rect x="836" y="1282" width="37" height="37" fill="#3c3c3c"/>
<rect x="873" y="1282" width="28" height="37" fill="#5a5a5a"/>
<rect x="477" y="1319" width="22" height="32" fill="#919191"/>
<rect x="499" y="1319" width="31" height="32" fill="#bebebe"/>
<rect x="530" y="1319" width="38" height="32" fill="#646464"/>
<rect x="568" y="1319" width="31" height="32" fill="#919191"/>
<rect x="599" y="1319" width="37" height="32" fill="#8c8c8c"/>
<rect x="636" y="1319" width="31" height="32" fill="#6e6e6e"/>
<rect x="667" y="1319" width="38" height="32" fill="#b9b9b9"/>
<rect x="705" y="1319" width="31" height="32" fill="#b9b9b9"/>
<rect x="736" y="1319" width="31" height="32" fill="#8c8c8c"/>
<rect x="767" y="1319" width="38" height="32" fill="#969696"/>
<rect x="805" y="1319" width="31" height="32" fill="#737373"/>
<rect x="836" y="1319" width="37" height="32" fill="#969696"/>
<rect x="873" y="1319" width="28" height="32" fill="#696969"/>
<rect x="477" y="1351" width="22" height="37" fill="#878787"/>
<rect x="499" y="1351" width="31" height="37" fill="#969696"/>
<rect x="530" y="1351" width="38" height="37" fill="#969696"/>
<rect x="568" y="1351" width="31" height="37" fill="#919191"/>
<rect x="599" y="1351" width="37" height="37" fill="#b4b4b4"/>
<rect x="636" y="1351" width="31" height="37" fill="#969696"/>
<rect x="667" y="1351" width="38" height="37" fill="#8c8c8c"/>
<rect x="705" y="1351" width="31" height="37" fill="#8c8c8c"/>
<rect x="736" y="1351" width="31" height="37" fill="#aaa"/>
<rect x="767" y="1351" width="38" height="37" fill="#5a5a5a"/>
<rect x="805" y="1351" width="31" height="37" fill="#828282"/>
<rect x="836" y="1351" width="37" height="37" fill="#878787"/>
<rect x="873" y="1351" width="28" height="37" fill="#878787"/>
<rect x="477" y="1388" width="22" height="31" fill="#828282"/>
<rect x="499" y="1388" width="31" height="31" fill="#7d7d7d"/>
<rect x="530" y="1388" width="38" height="31" fill="#8c8c8c"/>
<rect x="568" y="1388" width="31" height="31" fill="#828282"/>
<rect x="599" y="1388" width="37" height="31" fill="#878787"/>
<rect x="636" y="1388" width="31" height="31" fill="#878787"/>
<rect x="667" y="1388" width="38" height="31" fill="#8c8c8c"/>
<rect x="705" y="1388" width="31" height="31" fill="#8c8c8c"/>
<rect x="736" y="1388" width="31" height="31" fill="#5a5a5a"/>
<rect x="767" y="1388" width="38" height="31" fill="#6e6e6e"/>
<rect x="805" y="1388" width="31" height="31" fill="#505050"/>
<rect x="836" y="1388" width="37" height="31" fill="#aaa"/>
<rect x="873" y="1388" width="28" height="31" fill="#696969"/>
<rect x="477" y="1419" width="22" height="31" fill="#919191"/>
<rect x="499" y="1419" width="31" height="31" fill="#8c8c8c"/>
<rect x="530" y="1419" width="38" height="31" fill="#6e6e6e"/>
<rect x="568" y="1419" width="31" height="31" fill="#464646"/>
<rect x="599" y="1419" width="37" height="31" fill="#d7d7d7"/>
<rect x="636" y="1419" width="31" height="31" fill="#8c8c8c"/>
<rect x="667" y="1419" width="38" height="31" fill="#787878"/>
<rect x="705" y="1419" width="31" height="31" fill="#8c8c8c"/>
<rect x="736" y="1419" width="31" height="31" fill="#696969"/>
<rect x="767" y="1419" width="38" height="31" fill="#919191"/>
<rect x="805" y="1419" width="31" height="31" fill="#737373"/>
<rect x="836" y="1419" width="37" height="31" fill="#646464"/>
<rect x="873" y="1419" width="28" height="31" fill="#646464"/>
<rect x="477" y="1450" width="22" height="38" fill="#8c8c8c"/>
<rect x="499" y="1450" width="31" height="38" fill="#555"/>
<rect x="530" y="1450" width="38" height="38" fill="#919191"/>
<rect x="568" y="1450" width="31" height="38" fill="#a5a5a5"/>
<rect x="599" y="1450" width="37" height="38" fill="#5f5f5f"/>
<rect x="636" y="1450" width="31" height="38" fill="#505050"/>
<rect x="667" y="1450" width="38" height="38" fill="#696969"/>
<rect x="705" y="1450" width="31" height="38" fill="#919191"/>
<rect x="736" y="1450" width="31" height="38" fill="#5a5a5a"/>
<rect x="767" y="1450" width="38" height="38" fill="#a5a5a5"/>
<rect x="805" y="1450" width="31" height="38" fill="#505050"/>
<rect x="836" y="1450" width="37" height="38" fill="#696969"/>
<rect x="873" y="1450" width="28" height="38" fill="#6b6b6b"/>
<rect x="477" y="1488" width="22" height="27" fill="#878787"/>
<rect x="499" y="1488" width="31" height="27" fill="#8c8c8c"/>
<rect x="530" y="1488" width="38" height="27" fill="#373737"/>
<rect x="568" y="1488" width="31" height="27" fill="#c3c3c3"/>
<rect x="599" y="1488" width="37" height="27" fill="#828282"/>
<rect x="636" y="1488" width="31" height="27" fill="#787878"/>
<rect x="667" y="1488" width="38" height="27" fill="#696969"/>
<rect x="705" y="1488" width="31" height="27" fill="#c3c3c3"/>
<rect x="736" y="1488" width="31" height="27" fill="#373737"/>
<rect x="767" y="1488" width="38" height="27" fill="#787878"/>
<rect x="805" y="1488" width="31" height="27" fill="#aaa"/>
<rect x="836" y="1488" width="37" height="27" fill="#484848"/>
<rect x="873" y="1488" width="28" height="27" fill="#484848"/>
</g></g>
<path fill="#f00" d="M290 1545H433V1692H290ZM297 1553V1684H426V1553ZM470 1085H909V1523H470ZM477 1092V1515H901V1092ZM428.8 1544.4L469.9 1516.7L474.2 1523.3L433.1 1550.8Z"/>
<text transform="matrix(0.7940 0 0 0.8628 0 0)"><tspan x="50.9" y="1376.6">(</tspan><tspan x="85.6" y="1377.3" font-weight="bold" font-size="102.1px">c</tspan><tspan x="131.3" y="1376.6">)</tspan></text>
</g>
<g id="panel-d">
<path d="M1075.4 1747.1L1679.9 1682.4M1075.4 1658.1L1679.9 1593.4M1075.4 1569.1L1679.9 1504.4M1075.4 1480.2L1679.9 1415.5M1075.4 1391.2L1679.9 1326.5M1679.9 1682.4L1870.6 1891.9M1679.9 1593.4L1870.6 1802.9M1679.9 1504.4L1870.6 1713.9M1679.9 1415.5L1870.6 1625M1679.9 1326.5L1870.6 1536M1266.1 1956.6L1075.4 1747.1M1352.5 1947.4L1161.8 1737.9M1438.8 1938.1L1248.1 1728.6M1525.2 1928.9L1334.5 1719.4M1611.5 1919.6L1420.8 1710.1M1697.9 1910.4L1507.2 1700.9M1784.2 1901.1L1593.5 1691.6M1870.6 1891.9L1679.9 1682.4M1266.1 1956.6L1870.6 1891.9M1170.8 1851.8L1775.3 1787.1M1075.4 1747.1L1679.9 1682.4" fill="none" stroke="#dedede" stroke-width="1.4"/><path d="M1075.4 1747.1L1075.4 1391.2M1161.8 1737.9L1161.8 1382M1248.1 1728.6L1248.1 1372.7M1334.5 1719.4L1334.5 1363.5M1420.8 1710.1L1420.8 1354.2M1507.2 1700.9L1507.2 1345M1593.5 1691.6L1593.5 1335.7M1679.9 1682.4L1679.9 1326.5M1870.6 1891.9L1870.6 1536M1775.3 1787.1L1775.3 1431.2M1679.9 1682.4L1679.9 1326.5" fill="none" stroke="#cacaca" stroke-width="1.15"/>
<g fill="none" stroke-width="1.5" stroke-linejoin="round" stroke-linecap="round">
<path class="w" d="M1621 1577l9 62-2-104-9 70z"/>
<path class="g" d="M1630 1639l-2-104"/>
<path class="i" d="M1619 1605l9-70"/>
<path class="w" d="M1491 1591l9-32-2 72-9-140z"/>
<path class="m" d="M1500 1559l-2 72"/>
<path class="q" d="M1489 1491l9 140"/>
<path class="w" d="M1483 1640l8-49-2-100-8 130z"/>
<path class="k" d="M1491 1591l-2-100"/>
<path class="i" d="M1481 1621l8-130"/>
<path class="w" d="M1457 1680l8-129-1-5-9 69z"/>
<path class="n" d="M1465 1551l-1-5"/>
<path class="i" d="M1455 1615l9-69"/>
<path class="w" d="M1405 1667l9 11-2-45-9-74z"/>
<path class="f" d="M1414 1678l-2-45"/>
<path class="m" d="M1403 1559l9 74"/>
<path class="w" d="M1396 1588l9 79-2-108-9 20z"/>
<path class="f" d="M1405 1667l-2-108"/>
<path class="l" d="M1394 1579l9-20"/>
<path class="w" d="M1388 1623l8-35-2-9-8-2z"/>
<path class="l" d="M1396 1588l-2-9-8-2"/>
<path class="w" d="M1379 1650l9-27-2-46-9 101z"/>
<path class="i" d="M1388 1623l-2-46"/>
<path class="f" d="M1377 1678l9-101"/>
<path class="w" d="M1370 1670l9-20-2 28-8-156z"/>
<path class="h" d="M1379 1650l-2 28"/>
<path class="p" d="M1369 1522l8 156"/>
<path class="w" d="M1362 1657l8 13-1-148-9 188z"/>
<path class="f" d="M1370 1670l-1-148"/>
<path class="d" d="M1360 1710l9-188"/>
<path class="w" d="M1215 1667l9-67-2 44-9-79z"/>
<path class="l" d="M1224 1600l-2 44"/>
<path class="n" d="M1213 1565l9 79"/>
<path class="w" d="M1206 1682l9-15-2-102-8 50z"/>
<path class="h" d="M1215 1667l-2-102"/>
<path class="k" d="M1205 1615l8-50"/>
<path class="w" d="M1172 1639l9-28-2-21-9 76z"/>
<path class="l" d="M1181 1611l-2-21"/>
<path class="h" d="M1170 1666l9-76"/>
<path class="w" d="M1155 1571l8 22-2 104-8-109z"/>
<path class="m" d="M1163 1593l-2 104-8-109"/>
<path class="n" d="M1155 1571l-2 17"/>
<path class="w" d="M1692 1615l9-77-2-48-9 98z"/>
<path class="m" d="M1701 1538l-2-48"/>
<path class="j" d="M1690 1588l9-98"/>
<path class="w" d="M1683 1575l9 40-2-27-9-135z"/>
<path class="h" d="M1692 1615l-2-27"/>
<path class="r" d="M1681 1453l9 135"/>
<path class="w" d="M1675 1567l8 8-2-122-8 44z"/>
<path class="k" d="M1683 1575l-2-122"/>
<path class="p" d="M1673 1497l8-44"/>
<path class="w" d="M1666 1595l9-28-2-70-9 129z"/>
<path class="k" d="M1675 1567l-2-70"/>
<path class="g" d="M1664 1626l9-129"/>
<path class="w" d="M1657 1559l9 36-2 31-9-124z"/>
<path class="i" d="M1666 1595l-2 31"/>
<path class="o" d="M1655 1502l9 124"/>
<path class="w" d="M1649 1590l8-31-2-57-8 96z"/>
<path class="l" d="M1657 1559l-2-57"/>
<path class="i" d="M1647 1598l8-96"/>
<path class="w" d="M1519 1627l9 32-2-78-9-30z"/>
<path class="f" d="M1528 1659l-2-78"/>
<path class="m" d="M1517 1551l9 30"/>
<path class="w" d="M1511 1654l8-27-2-76-8-59z"/>
<path class="h" d="M1519 1627l-2-76"/>
<path class="q" d="M1509 1492l8 59"/>
<path class="w" d="M1502 1614l9 40-2-162-9 67z"/>
<path class="g" d="M1511 1654l-2-162"/>
<path class="m" d="M1500 1559l9-67"/>
<path class="w" d="M1493 1619l9-5-2-55-9 32z"/>
<path class="i" d="M1502 1614l-2-55"/>
<path class="k" d="M1491 1591l9-32"/>
<path class="w" d="M1467 1563l9-6-2-3-9-3z"/>
<path class="m" d="M1476 1557l-2-3"/>
<path class="n" d="M1465 1551l9 3"/>
<path class="w" d="M1459 1633l8-70-2-12-8 129z"/>
<path class="m" d="M1467 1563l-2-12"/>
<path class="e" d="M1457 1680l8-129"/>
<path class="w" d="M1295 1601l8 66-2-100-8 21z"/>
<path class="g" d="M1303 1667l-2-100"/>
<path class="l" d="M1293 1588l8-21"/>
<path class="w" d="M1286 1624l9-23-2-13-9 52z"/>
<path class="l" d="M1295 1601l-2-13"/>
<path class="i" d="M1284 1640l9-52"/>
<path class="w" d="M1165 1704l9-20-2-45-9-46z"/>
<path class="g" d="M1174 1684l-2-45"/>
<path class="m" d="M1163 1593l9 46"/>
<path class="w" d="M1157 1686l8 18-2-111-8-22z"/>
<path class="f" d="M1165 1704l-2-111"/>
<path class="n" d="M1155 1571l8 22"/>
<path class="g" d="M1157 1686l-2-115"/>
<path class="w" d="M1694 1604l8 14-1-80-9 77z"/>
<path class="h" d="M1702 1618l-1-80-9 77"/>
<path class="w" d="M1625 1586l8-45-2 51-8-46z"/>
<path class="m" d="M1633 1541l-2 51-8-46"/>
<path class="w" d="M1616 1587l9-1-2-40-9 111z"/>
<path class="j" d="M1625 1586l-2-40"/>
<path class="f" d="M1614 1657l9-111"/>
<path class="w" d="M1331 1628l9-35-2-24-9 138z"/>
<path class="l" d="M1340 1593l-2-24"/>
<path class="e" d="M1329 1707l9-138"/>
<path class="w" d="M1279 1597l9 26-2 1-9-76z"/>
<path class="j" d="M1288 1623l-2 1"/>
<path class="o" d="M1277 1548l9 76"/>
<path class="w" d="M1271 1586l8 11-2-49-8 124z"/>
<path class="l" d="M1279 1597l-2-49"/>
<path class="g" d="M1269 1672l8-124"/>
<path class="w" d="M1262 1666l9-80-2 86-9-73z"/>
<path class="m" d="M1271 1586l-2 86"/>
<path class="l" d="M1260 1599l9 73"/>
<path class="w" d="M1253 1622l9 44-2-67-9 32z"/>
<path class="h" d="M1262 1666l-2-67"/>
<path class="j" d="M1251 1631l9-32"/>
<path class="w" d="M1245 1629l8-7-2 9-8-47z"/>
<path class="k" d="M1253 1622l-2 9"/>
<path class="m" d="M1243 1584l8 47"/>
<path class="w" d="M1236 1718l9-89-2-45-9 73z"/>
<path class="j" d="M1245 1629l-2-45"/>
<path class="h" d="M1234 1657l9-73"/>
<path class="w" d="M1202 1662l8 9-2-35-8-59z"/>
<path class="h" d="M1210 1671l-2-35"/>
<path class="n" d="M1200 1577l8 59"/>
<path class="w" d="M1193 1625l9 37-2-85-9 16z"/>
<path class="i" d="M1202 1662l-2-85"/>
<path class="m" d="M1191 1593l9-16"/>
<path class="w" d="M1184 1589l9 36-2-32-9-33z"/>
<path class="k" d="M1193 1625l-2-32"/>
<path class="o" d="M1182 1560l9 33"/>
<path class="w" d="M1176 1710l8-121-2-29-8 124z"/>
<path class="m" d="M1184 1589l-2-29"/>
<path class="g" d="M1174 1684l8-124"/>
<path class="w" d="M1167 1690l9 20-2-26-9 20z"/>
<path class="f" d="M1176 1710l-2-26-9 20"/>
<path class="w" d="M1158 1601l9 89-2 14-8-18z"/>
<path class="g" d="M1167 1690l-2 14-8-18"/>
<path class="m" d="M1158 1601l-1 85"/>
<path class="w" d="M1558 1563l8-16-2 116-8-158z"/>
<path class="n" d="M1566 1547l-2 116"/>
<path class="p" d="M1556 1505l8 158"/>
<path class="w" d="M1549 1689l9-126-2-58-9 101z"/>
<path class="m" d="M1558 1563l-2-58"/>
<path class="j" d="M1547 1606l9-101"/>
<path class="w" d="M1463 1581l8 78-2-65-8-41z"/>
<path class="g" d="M1471 1659l-2-65"/>
<path class="n" d="M1461 1553l8 41"/>
<path class="w" d="M1454 1508l9 73-2-28-9 80z"/>
<path class="l" d="M1463 1581l-2-28"/>
<path class="i" d="M1452 1633l9-80"/>
<path class="w" d="M1437 1578l8 4-2 35-8-94z"/>
<path class="l" d="M1445 1582l-2 35"/>
<path class="p" d="M1435 1523l8 94"/>
<path class="w" d="M1428 1594l9-16-2-55-9 218z"/>
<path class="l" d="M1437 1578l-2-55"/>
<path class="b" d="M1426 1741l9-218"/>
<path class="w" d="M1385 1664l8-65-1-19-9 10z"/>
<path class="k" d="M1393 1599l-1-19"/>
<path class="l" d="M1383 1590l9-10"/>
<path class="w" d="M1273 1593l8 89-2-85-8-11z"/>
<path class="g" d="M1281 1682l-2-85"/>
<path class="m" d="M1271 1586l8 11"/>
<path class="w" d="M1264 1624l9-31-2-7-9 80z"/>
<path class="m" d="M1273 1593l-2-7"/>
<path class="h" d="M1262 1666l9-80"/>
<path class="w" d="M1186 1621l9-8-2 12-9-36z"/>
<path class="l" d="M1195 1613l-2 12"/>
<path class="m" d="M1184 1589l9 36"/>
<path class="w" d="M1178 1647l8-26-2-32-8 121z"/>
<path class="k" d="M1186 1621l-2-32"/>
<path class="f" d="M1176 1710l8-121"/>
<path class="w" d="M1169 1683l9-36-2 63-9-20z"/>
<path class="j" d="M1178 1647l-2 63"/>
<path class="g" d="M1167 1690l9 20"/>
<path class="w" d="M1160 1686l9-3-2 7-9-89z"/>
<path class="h" d="M1169 1683l-2 7"/>
<path class="m" d="M1158 1601l9 89"/>
<path class="g" d="M1160 1686l-2-85"/>
<path class="w" d="M1698 1608l8-15-2-16-8 2z"/>
<path class="j" d="M1706 1593l-2-16"/>
<path class="k" d="M1696 1579l8-2"/>
<path class="w" d="M1672 1568l8 57-2-33-8-77z"/>
<path class="h" d="M1680 1625l-2-33"/>
<path class="o" d="M1670 1515l8 77"/>
<path class="w" d="M1663 1669l9-101-2-53-9-18z"/>
<path class="l" d="M1672 1568l-2-53"/>
<path class="p" d="M1661 1497l9 18"/>
<path class="w" d="M1654 1590l9 79-2-172-8 110z"/>
<path class="e" d="M1663 1669l-2-172"/>
<path class="i" d="M1653 1607l8-110"/>
<path class="w" d="M1611 1642l9 30-2-15-9-127z"/>
<path class="e" d="M1620 1672l-2-15"/>
<path class="n" d="M1609 1530l9 127"/>
<path class="w" d="M1603 1575l8 67-2-112-8 14z"/>
<path class="g" d="M1611 1642l-2-112"/>
<path class="n" d="M1601 1544l8-14"/>
<path class="w" d="M1594 1578l9-3-2-31-9 17z"/>
<path class="l" d="M1603 1575l-2-31-9 17"/>
<path class="w" d="M1559 1624l9 1-2-78-8 16z"/>
<path class="i" d="M1568 1625l-2-78"/>
<path class="m" d="M1558 1563l8-16"/>
<path class="w" d="M1456 1611l8-51-1 21-9-73z"/>
<path class="n" d="M1464 1560l-1 21"/>
<path class="q" d="M1454 1508l9 73"/>
<path class="w" d="M1447 1702l9-91-2-103-9 74z"/>
<path class="j" d="M1456 1611l-2-103"/>
<path class="l" d="M1445 1582l9-74"/>
<path class="w" d="M1439 1690l8 12-2-120-8-4z"/>
<path class="e" d="M1447 1702l-2-120"/>
<path class="l" d="M1437 1578l8 4"/>
<path class="w" d="M1361 1657l8-69-1 57-9-84z"/>
<path class="l" d="M1369 1588l-1 57"/>
<path class="n" d="M1359 1561l9 84"/>
<path class="w" d="M1352 1608l9 49-2-96-9 31z"/>
<path class="h" d="M1361 1657l-2-96"/>
<path class="l" d="M1350 1592l9-31"/>
<path class="w" d="M1335 1608l9 26-2-67-9 63z"/>
<path class="j" d="M1344 1634l-2-67-9 63"/>
<path class="w" d="M1300 1650l9 0-2-43-9-39z"/>
<path class="i" d="M1309 1650l-2-43"/>
<path class="n" d="M1298 1568l9 39"/>
<path class="w" d="M1292 1668l8-18-2-82-8 48z"/>
<path class="i" d="M1300 1650l-2-82"/>
<path class="k" d="M1290 1616l8-48"/>
<path class="w" d="M1266 1681l8-112-1 24-9 31z"/>
<path class="n" d="M1274 1569l-1 24"/>
<path class="k" d="M1264 1624l9-31"/>
<path class="w" d="M1162 1718l9-45-2 10-9 3z"/>
<path class="h" d="M1171 1673l-2 10"/>
<path class="g" d="M1160 1686l9-3"/>
<path class="e" d="M1162 1718l-2-32"/>
<path class="w" d="M1691 1639l9 6-2-37-9-65z"/>
<path class="g" d="M1700 1645l-2-37"/>
<path class="m" d="M1689 1543l9 65"/>
<path class="w" d="M1682 1576l9 63-2-96-9 82z"/>
<path class="g" d="M1691 1639l-2-96"/>
<path class="h" d="M1680 1625l9-82"/>
<path class="w" d="M1587 1697l9-104-2-15-9-99z"/>
<path class="k" d="M1596 1593l-2-15"/>
<path class="r" d="M1585 1479l9 99"/>
<path class="w" d="M1579 1647l8 50-2-218-8 137z"/>
<path class="d" d="M1587 1697l-2-218"/>
<path class="i" d="M1577 1616l8-137"/>
<path class="w" d="M1510 1587l8 57-2-18-8-93z"/>
<path class="h" d="M1518 1644l-2-18"/>
<path class="o" d="M1508 1533l8 93"/>
<path class="w" d="M1501 1640l9-53-2-54-9 100z"/>
<path class="l" d="M1510 1587l-2-54"/>
<path class="i" d="M1499 1633l9-100"/>
<path class="w" d="M1466 1663l9-74-2-16-9-13z"/>
<path class="l" d="M1475 1589l-2-16"/>
<path class="n" d="M1464 1560l9 13"/>
<path class="w" d="M1458 1682l8-19-2-103-8 51z"/>
<path class="g" d="M1466 1663l-2-103"/>
<path class="j" d="M1456 1611l8-51"/>
<path class="w" d="M1423 1648l9-32-2-70-9 50z"/>
<path class="j" d="M1432 1616l-2-70"/>
<path class="l" d="M1421 1596l9-50"/>
<path class="w" d="M1371 1684l9-24-2 0-9-72z"/>
<path class="h" d="M1380 1660l-2 0"/>
<path class="l" d="M1369 1588l9 72"/>
<path class="w" d="M1363 1602l8 82-2-96-8 69z"/>
<path class="f" d="M1371 1684l-2-96"/>
<path class="h" d="M1361 1657l8-69"/>
<path class="w" d="M1276 1676l9 4-2 26-9-137z"/>
<path class="g" d="M1285 1680l-2 26"/>
<path class="n" d="M1274 1569l9 137"/>
<path class="w" d="M1268 1584l8 92-2-107-8 112z"/>
<path class="h" d="M1276 1676l-2-107"/>
<path class="g" d="M1266 1681l8-112"/>
<path class="w" d="M1259 1695l9-111-2 97-9-71z"/>
<path class="n" d="M1268 1584l-2 97"/>
<path class="l" d="M1257 1610l9 71"/>
<path class="w" d="M1250 1699l9-4-2-85-8 54z"/>
<path class="f" d="M1259 1695l-2-85"/>
<path class="h" d="M1249 1664l8-54"/>
<path class="w" d="M1233 1697l9 27-2-98-9-68z"/>
<path class="e" d="M1242 1724l-2-98"/>
<path class="o" d="M1231 1558l9 68"/>
<path class="w" d="M1225 1629l8 68-2-139-8 132z"/>
<path class="f" d="M1233 1697l-2-139"/>
<path class="g" d="M1223 1690l8-132"/>
<path class="w" d="M1199 1712l8-112-2-7-8 28z"/>
<path class="m" d="M1207 1600l-2-7"/>
<path class="k" d="M1197 1621l8-28"/>
<path class="w" d="M1181 1670l9-90-2 19-9 3z"/>
<path class="n" d="M1190 1580l-2 19"/>
<path class="m" d="M1179 1602l9-3"/>
<path class="w" d="M1173 1648l8 22-2-68-8 71z"/>
<path class="i" d="M1181 1670l-2-68"/>
<path class="h" d="M1171 1673l8-71"/>
<path class="w" d="M1164 1631l9 17-2 25-9 45z"/>
<path class="j" d="M1173 1648l-2 25"/>
<path class="e" d="M1162 1718l9-45"/>
<path class="k" d="M1164 1631l-2 87"/>
<path class="w" d="M1658 1658l9-90-2-4-9-45z"/>
<path class="l" d="M1667 1568l-2-4"/>
<path class="o" d="M1656 1519l9 45"/>
<path class="w" d="M1650 1587l8 71-2-139-8 45z"/>
<path class="f" d="M1658 1658l-2-139"/>
<path class="l" d="M1648 1564l8-45"/>
<path class="w" d="M1615 1604l9-3-2 66-9-107z"/>
<path class="j" d="M1624 1601l-2 66"/>
<path class="m" d="M1613 1560l9 107"/>
<path class="w" d="M1606 1696l9-92-2-44-8-38z"/>
<path class="j" d="M1615 1604l-2-44"/>
<path class="o" d="M1605 1522l8 38"/>
<path class="w" d="M1598 1633l8 63-1-174-9 71z"/>
<path class="d" d="M1606 1696l-1-174"/>
<path class="k" d="M1596 1593l9-71"/>
<path class="w" d="M1270 1664l8-55-2 67-8-92z"/>
<path class="l" d="M1278 1609l-2 67"/>
<path class="n" d="M1268 1584l8 92"/>
<path class="w" d="M1261 1669l9-5-2-80-9 111z"/>
<path class="h" d="M1270 1664l-2-80"/>
<path class="f" d="M1259 1695l9-111"/>
<path class="w" d="M1192 1690l9-53-2 75-9-132z"/>
<path class="k" d="M1201 1637l-2 75"/>
<path class="n" d="M1190 1580l9 132"/>
<path class="w" d="M1183 1745l9-55-2-110-9 90z"/>
<path class="g" d="M1192 1690l-2-110"/>
<path class="i" d="M1181 1670l9-90"/>
<path class="w" d="M1166 1646l9 8-2-6-9-17z"/>
<path class="j" d="M1175 1654l-2-6"/>
<path class="k" d="M1164 1631l9 17"/>
<path class="j" d="M1166 1646l-2-15"/>
<path class="w" d="M1703 1600l9-21-2-3-9-3z"/>
<path class="k" d="M1712 1579l-2-3-9-3"/>
<path class="w" d="M1695 1621l8-21-2-27-8 29z"/>
<path class="j" d="M1703 1600l-2-27-8 29"/>
<path class="w" d="M1677 1692l9-13-2-80-8-78z"/>
<path class="e" d="M1686 1679l-2-80"/>
<path class="o" d="M1676 1521l8 78"/>
<path class="w" d="M1669 1672l8 20-1-171-9 47z"/>
<path class="d" d="M1677 1692l-1-171"/>
<path class="l" d="M1667 1568l9-47"/>
<path class="w" d="M1574 1540l8 139-1-115-9 1z"/>
<path class="e" d="M1582 1679l-1-115"/>
<path class="m" d="M1572 1565l9-1"/>
<path class="w" d="M1505 1640l8-57-2 107-8-120z"/>
<path class="l" d="M1513 1583l-2 107"/>
<path class="m" d="M1503 1570l8 120"/>
<path class="w" d="M1496 1726l9-86-2-70-9 121z"/>
<path class="i" d="M1505 1640l-2-70"/>
<path class="e" d="M1494 1691l9-121"/>
<path class="w" d="M1479 1677l8-39-1-5-9-90z"/>
<path class="i" d="M1487 1638l-1-5"/>
<path class="o" d="M1477 1543l9 90"/>
<path class="w" d="M1470 1559l9 118-2-134-9 40z"/>
<path class="f" d="M1479 1677l-2-134"/>
<path class="l" d="M1468 1583l9-40"/>
<path class="w" d="M1436 1641l8 6-2-16-8-92z"/>
<path class="i" d="M1444 1647l-2-16"/>
<path class="o" d="M1434 1539l8 92"/>
<path class="w" d="M1427 1555l9 86-2-102-9 39z"/>
<path class="i" d="M1436 1641l-2-102"/>
<path class="m" d="M1425 1578l9-39"/>
<path class="w" d="M1323 1645l9-20-2 138-9-218z"/>
<path class="k" d="M1332 1625l-2 138"/>
<path class="p" d="M1321 1545l9 218"/>
<path class="w" d="M1315 1631l8 14-2-100-8 124z"/>
<path class="j" d="M1323 1645l-2-100"/>
<path class="h" d="M1313 1669l8-124"/>
<path class="w" d="M1185 1683l9-39-2 46-9 55z"/>
<path class="j" d="M1194 1644l-2 46"/>
<path class="d" d="M1183 1745l9-55"/>
<path class="w" d="M1177 1598l8 85-2 62-8-91z"/>
<path class="h" d="M1185 1683l-2 62"/>
<path class="j" d="M1175 1654l8 91"/>
<path class="w" d="M1168 1676l9-78-2 56-9-8z"/>
<path class="n" d="M1177 1598l-2 56"/>
<path class="j" d="M1166 1646l9 8"/>
<path class="i" d="M1168 1676l-2-30"/>
<path class="w" d="M1662 1638l9-12-2 46-9-127z"/>
<path class="h" d="M1671 1626l-2 46"/>
<path class="n" d="M1660 1545l9 127"/>
<path class="w" d="M1653 1657l9-19-2-93-8 56z"/>
<path class="h" d="M1662 1638l-2-93"/>
<path class="j" d="M1652 1601l8-56"/>
<path class="w" d="M1610 1598l9 25-2-51-9 60z"/>
<path class="i" d="M1619 1623l-2-51"/>
<path class="h" d="M1608 1632l9-60"/>
<path class="w" d="M1533 1620l8 76-2-105-8-80z"/>
<path class="e" d="M1541 1696l-2-105"/>
<path class="q" d="M1531 1511l8 80"/>
<path class="w" d="M1524 1742l9-122-2-109-9 82z"/>
<path class="j" d="M1533 1620l-2-109"/>
<path class="l" d="M1522 1593l9-82"/>
<path class="w" d="M1515 1691l9 51-2-149-9-10z"/>
<path class="b" d="M1524 1742l-2-149"/>
<path class="l" d="M1513 1583l9 10"/>
<path class="w" d="M1463 1710l9-185-2 34-8 29z"/>
<path class="p" d="M1472 1525l-2 34"/>
<path class="l" d="M1462 1588l8-29"/>
<path class="w" d="M1429 1667l9-104-2 78-9-86z"/>
<path class="n" d="M1438 1563l-2 78"/>
<path class="o" d="M1427 1555l9 86"/>
<path class="w" d="M1420 1612l9 55-2-112-9 25z"/>
<path class="g" d="M1429 1667l-2-112"/>
<path class="m" d="M1418 1580l9-25"/>
<path class="w" d="M1412 1623l8-11-2-32-8-15z"/>
<path class="k" d="M1420 1612l-2-32"/>
<path class="n" d="M1410 1565l8 15"/>
<path class="w" d="M1403 1671l9-48-2-58-9 121z"/>
<path class="j" d="M1412 1623l-2-58"/>
<path class="f" d="M1401 1686l9-121"/>
<path class="w" d="M1239 1636l9-19-2-12-9-8z"/>
<path class="l" d="M1248 1617l-2-12"/>
<path class="m" d="M1237 1597l9 8"/>
<path class="w" d="M1230 1678l9-42-2-39-9 19z"/>
<path class="k" d="M1239 1636l-2-39"/>
<path class="l" d="M1228 1616l9-19"/>
<path class="w" d="M1204 1722l9-53-2 86-9-64z"/>
<path class="i" d="M1213 1669l-2 86"/>
<path class="g" d="M1202 1691l9 64"/>
<path class="w" d="M1178 1645l9 29-2 9-8-85z"/>
<path class="i" d="M1187 1674l-2 9"/>
<path class="n" d="M1177 1598l8 85"/>
<path class="w" d="M1170 1649l8-4-1-47-9 78z"/>
<path class="k" d="M1178 1645l-1-47"/>
<path class="i" d="M1168 1676l9-78"/>
<path class="j" d="M1170 1649l-2 27"/>
<path class="w" d="M1707 1678l9-104-2-66-9 125z"/>
<path class="l" d="M1716 1574l-2-66"/>
<path class="h" d="M1705 1633l9-125"/>
<path class="w" d="M1595 1645l9 21-2-30-9-156z"/>
<path class="g" d="M1604 1666l-2-30"/>
<path class="r" d="M1593 1480l9 156"/>
<path class="w" d="M1586 1578l9 67-2-165-9 193z"/>
<path class="h" d="M1595 1645l-2-165"/>
<path class="f" d="M1584 1673l9-193"/>
<path class="w" d="M1560 1592l9-35-2 93-9-126z"/>
<path class="n" d="M1569 1557l-2 93"/>
<path class="p" d="M1558 1524l9 126"/>
<path class="w" d="M1552 1657l8-65-2-68-8 113z"/>
<path class="l" d="M1560 1592l-2-68"/>
<path class="i" d="M1550 1637l8-113"/>
<path class="w" d="M1500 1635l9-7-2-43-9 30z"/>
<path class="j" d="M1509 1628l-2-43-9 30"/>
<path class="w" d="M1474 1739l9-244-2 174-9-144z"/>
<path class="r" d="M1483 1495l-2 174"/>
<path class="p" d="M1472 1525l9 144"/>
<path class="w" d="M1465 1656l9 83-2-214-9 185z"/>
<path class="c" d="M1474 1739l-2-214"/>
<path class="d" d="M1463 1710l9-185"/>
<path class="w" d="M1439 1591l9 68-2-32-8-64z"/>
<path class="h" d="M1448 1659l-2-32"/>
<path class="n" d="M1438 1563l8 64"/>
<path class="w" d="M1431 1673l8-82-1-28-9 104z"/>
<path class="m" d="M1439 1591l-1-28"/>
<path class="g" d="M1429 1667l9-104"/>
<path class="w" d="M1344 1594l9-30-2 15-8-28z"/>
<path class="o" d="M1353 1564l-2 15"/>
<path class="p" d="M1343 1551l8 28"/>
<path class="w" d="M1336 1671l8-77-1-43-9 116z"/>
<path class="m" d="M1344 1594l-1-43"/>
<path class="h" d="M1334 1667l9-116"/>
<path class="w" d="M1293 1694l8-55-2 34-8-79z"/>
<path class="j" d="M1301 1639l-2 34"/>
<path class="m" d="M1291 1594l8 79"/>
<path class="w" d="M1284 1643l9 51-2-100-9 12z"/>
<path class="g" d="M1293 1694l-2-100"/>
<path class="l" d="M1282 1606l9-12"/>
<path class="w" d="M1180 1682l9-27-2 19-9-29z"/>
<path class="j" d="M1189 1655l-2 19"/>
<path class="k" d="M1178 1645l9 29"/>
<path class="w" d="M1172 1694l8-12-2-37-8 4z"/>
<path class="h" d="M1180 1682l-2-37"/>
<path class="j" d="M1170 1649l8-4"/>
<path class="h" d="M1172 1694l-2-45"/>
<path class="w" d="M1623 1570l8-20-2 15-8-1z"/>
<path class="n" d="M1631 1550l-2 15"/>
<path class="m" d="M1621 1564l8 1"/>
<path class="w" d="M1614 1740l9-170-2-6-9 91z"/>
<path class="m" d="M1623 1570l-2-6"/>
<path class="g" d="M1612 1655l9-91"/>
<path class="w" d="M1545 1614l9 5-2 38-9-137z"/>
<path class="j" d="M1554 1619l-2 38"/>
<path class="p" d="M1543 1520l9 137"/>
<path class="w" d="M1536 1551l9 63-2-94-9 142z"/>
<path class="j" d="M1545 1614l-2-94"/>
<path class="g" d="M1534 1662l9-142"/>
<path class="w" d="M1485 1601l8 22-2 5-8-133z"/>
<path class="j" d="M1493 1623l-2 5"/>
<path class="r" d="M1483 1495l8 133"/>
<path class="w" d="M1476 1657l9-56-2-106-9 244z"/>
<path class="l" d="M1485 1601l-2-106"/>
<path class="c" d="M1474 1739l9-244"/>
<path class="w" d="M1433 1565l8 180-2-154-8 82z"/>
<path class="c" d="M1441 1745l-2-154"/>
<path class="g" d="M1431 1673l8-82"/>
<path class="w" d="M1415 1655l9-52-2-9-8 135z"/>
<path class="l" d="M1424 1603l-2-9"/>
<path class="d" d="M1414 1729l8-135"/>
<path class="w" d="M1355 1621l9 2-2 10-9-69z"/>
<path class="k" d="M1364 1623l-2 10"/>
<path class="o" d="M1353 1564l9 69"/>
<path class="w" d="M1346 1593l9 28-2-57-9 30z"/>
<path class="k" d="M1355 1621l-2-57"/>
<path class="m" d="M1344 1594l9-30"/>
<path class="w" d="M1338 1614l8-21-2 1-8 77z"/>
<path class="m" d="M1346 1593l-2 1"/>
<path class="h" d="M1336 1671l8-77"/>
<path class="w" d="M1269 1725l8-94-2 22-8-31z"/>
<path class="k" d="M1277 1631l-2 22"/>
<path class="l" d="M1267 1622l8 31"/>
<path class="w" d="M1260 1668l9 57-2-103-9 11z"/>
<path class="e" d="M1269 1725l-2-103"/>
<path class="k" d="M1258 1633l9-11"/>
<path class="w" d="M1174 1674l8 15-2-7-8 12z"/>
<path class="h" d="M1182 1689l-2-7-8 12"/>
<path class="i" d="M1174 1674l-2 20"/>
<path class="w" d="M1668 1527l8 47-1-13-9 84z"/>
<path class="l" d="M1676 1574l-1-13"/>
<path class="h" d="M1666 1645l9-84"/>
<path class="w" d="M1642 1601l9 62-2-97-9-14z"/>
<path class="g" d="M1651 1663l-2-97"/>
<path class="n" d="M1640 1552l9 14"/>
<path class="w" d="M1633 1650l9-49-2-49-9-2z"/>
<path class="k" d="M1642 1601l-2-49"/>
<path class="n" d="M1631 1550l9 2"/>
<path class="w" d="M1625 1602l8 48-2-100-8 20z"/>
<path class="h" d="M1633 1650l-2-100"/>
<path class="m" d="M1623 1570l8-20"/>
<path class="w" d="M1616 1655l9-53-2-32-9 170z"/>
<path class="k" d="M1625 1602l-2-32"/>
<path class="b" d="M1614 1740l9-170"/>
<path class="w" d="M1599 1656l8-60-2 78-8-138z"/>
<path class="k" d="M1607 1596l-2 78"/>
<path class="o" d="M1597 1536l8 138"/>
<path class="w" d="M1590 1565l9 91-2-120-9 90z"/>
<path class="g" d="M1599 1656l-2-120"/>
<path class="i" d="M1588 1626l9-90"/>
<path class="w" d="M1573 1680l8-40-1-7-9-146z"/>
<path class="i" d="M1581 1640l-1-7"/>
<path class="r" d="M1571 1487l9 146"/>
<path class="w" d="M1564 1686l9-6-2-193-9 83z"/>
<path class="f" d="M1573 1680l-2-193"/>
<path class="m" d="M1562 1570l9-83"/>
<path class="w" d="M1538 1664l9-59-2 9-9-63z"/>
<path class="k" d="M1547 1605l-2 9"/>
<path class="o" d="M1536 1551l9 63"/>
<path class="w" d="M1530 1641l8 23-2-113-8 20z"/>
<path class="g" d="M1538 1664l-2-113"/>
<path class="m" d="M1528 1571l8-20"/>
<path class="w" d="M1521 1688l9-47-2-70-9 10z"/>
<path class="i" d="M1530 1641l-2-70"/>
<path class="m" d="M1519 1581l9-10"/>
<path class="w" d="M1512 1683l9 5-2-107-9 80z"/>
<path class="f" d="M1521 1688l-2-107"/>
<path class="h" d="M1510 1661l9-80"/>
<path class="w" d="M1461 1697l8-141-2 12-8 8z"/>
<path class="o" d="M1469 1556l-2 12"/>
<path class="m" d="M1459 1576l8-8"/>
<path class="w" d="M1435 1690l8-100-2 155-8-180z"/>
<path class="m" d="M1443 1590l-2 155"/>
<path class="n" d="M1433 1565l8 180"/>
<path class="w" d="M1426 1668l9 22-2-125-9 38z"/>
<path class="f" d="M1435 1690l-2-125"/>
<path class="l" d="M1424 1603l9-38"/>
<path class="w" d="M1417 1717l9-49-2-65-9 52z"/>
<path class="h" d="M1426 1668l-2-65"/>
<path class="i" d="M1415 1655l9-52"/>
<path class="w" d="M1383 1670l8 15-1-27-9-111z"/>
<path class="g" d="M1391 1685l-1-27"/>
<path class="p" d="M1381 1547l9 111"/>
<path class="w" d="M1374 1624l9 46-2-123-9 118z"/>
<path class="h" d="M1383 1670l-2-123-9 118"/>
<path class="w" d="M1348 1721l9-121-2 21-9-28z"/>
<path class="m" d="M1357 1600l-2 21-9-28"/>
<path class="w" d="M1340 1651l8 70-2-128-8 21z"/>
<path class="e" d="M1348 1721l-2-128"/>
<path class="l" d="M1338 1614l8-21"/>
<path class="w" d="M1296 1708l9-186-2 33-8 171z"/>
<path class="r" d="M1305 1522l-2 33"/>
<path class="e" d="M1295 1726l8-171"/>
<path class="w" d="M1245 1716l8 28-2-137-8 2z"/>
<path class="d" d="M1253 1744l-2-137"/>
<path class="m" d="M1243 1609l8-2"/>
<path class="w" d="M1210 1606l9 91-2-32-9-92z"/>
<path class="g" d="M1219 1697l-2-32"/>
<path class="o" d="M1208 1573l9 92"/>
<path class="w" d="M1201 1649l9-43-2-33-8 150z"/>
<path class="m" d="M1210 1606l-2-33"/>
<path class="f" d="M1200 1723l8-150"/>
<path class="w" d="M1193 1628l8 21-1 74-9-22z"/>
<path class="k" d="M1201 1649l-1 74"/>
<path class="g" d="M1191 1701l9 22"/>
<path class="w" d="M1176 1664l8 14-2 11-8-15z"/>
<path class="i" d="M1184 1678l-2 11-8-15"/>
<path class="j" d="M1176 1664l-2 10"/>
<path class="w" d="M1704 1732l9-49-2-133-9 73z"/>
<path class="e" d="M1713 1683l-2-133"/>
<path class="i" d="M1702 1623l9-73"/>
<path class="w" d="M1696 1594l8 138-2-109-8-63z"/>
<path class="b" d="M1704 1732l-2-109"/>
<path class="m" d="M1694 1560l8 63"/>
<path class="w" d="M1670 1536l8 61-2-23-8-47z"/>
<path class="k" d="M1678 1597l-2-23"/>
<path class="o" d="M1668 1527l8 47"/>
<path class="w" d="M1661 1630l9-94-2-9-9 128z"/>
<path class="o" d="M1670 1536l-2-9"/>
<path class="g" d="M1659 1655l9-128"/>
<path class="w" d="M1497 1618l9-21-2 8-9-20z"/>
<path class="l" d="M1506 1597l-2 8"/>
<path class="m" d="M1495 1585l9 20"/>
<path class="w" d="M1488 1562l9 56-2-33-9 115z"/>
<path class="k" d="M1497 1618l-2-33"/>
<path class="e" d="M1486 1700l9-115"/>
<path class="w" d="M1471 1702l9 2-2-55-9-93z"/>
<path class="e" d="M1480 1704l-2-55"/>
<path class="o" d="M1469 1556l9 93"/>
<path class="w" d="M1462 1601l9 101-2-146-8 141z"/>
<path class="f" d="M1471 1702l-2-146-8 141"/>
<path class="w" d="M1437 1630l8 22-2-62-8 100z"/>
<path class="i" d="M1445 1652l-2-62"/>
<path class="f" d="M1435 1690l8-100"/>
<path class="w" d="M1402 1617l9-2-2 59-9-166z"/>
<path class="l" d="M1411 1615l-2 59"/>
<path class="r" d="M1400 1508l9 166"/>
<path class="w" d="M1393 1664l9-47-2-109-9 177z"/>
<path class="l" d="M1402 1617l-2-109"/>
<path class="g" d="M1391 1685l9-177"/>
<path class="w" d="M1307 1608l9-63-2 107-9-130z"/>
<path class="q" d="M1316 1545l-2 107"/>
<path class="r" d="M1305 1522l9 130"/>
<path class="w" d="M1298 1638l9-30-2-86-9 186z"/>
<path class="m" d="M1307 1608l-2-86"/>
<path class="f" d="M1296 1708l9-186"/>
<path class="w" d="M1212 1668l9 54-2-25-9-91z"/>
<path class="f" d="M1221 1722l-2-25"/>
<path class="m" d="M1210 1606l9 91"/>
<path class="w" d="M1203 1693l9-25-2-62-9 43z"/>
<path class="j" d="M1212 1668l-2-62"/>
<path class="k" d="M1201 1649l9-43"/>
<path class="w" d="M1186 1741l9-165-2 52-9 50z"/>
<path class="p" d="M1195 1576l-2 52"/>
<path class="i" d="M1184 1678l9-50"/>
<path class="w" d="M1177 1667l9 74-2-63-8-14z"/>
<path class="e" d="M1186 1741l-2-63"/>
<path class="j" d="M1176 1664l8 14"/>
<path class="j" d="M1177 1667l-1-3"/>
<path class="w" d="M1672 1704l8-117-2 10-8-61z"/>
<path class="l" d="M1680 1587l-2 10"/>
<path class="o" d="M1670 1536l8 61"/>
<path class="w" d="M1663 1560l9 144-2-168-9 94z"/>
<path class="d" d="M1672 1704l-2-168"/>
<path class="i" d="M1661 1630l9-94"/>
<path class="w" d="M1646 1595l8-20-2-38-8 61z"/>
<path class="m" d="M1654 1575l-2-38"/>
<path class="k" d="M1644 1598l8-61"/>
<path class="w" d="M1637 1583l9 12-2 3-9-79z"/>
<path class="k" d="M1646 1595l-2 3"/>
<path class="p" d="M1635 1519l9 79"/>
<path class="w" d="M1628 1629l9-46-2-64-8 148z"/>
<path class="l" d="M1637 1583l-2-64"/>
<path class="g" d="M1627 1667l8-148"/>
<path class="w" d="M1620 1680l8-51-1 38-9-110z"/>
<path class="i" d="M1628 1629l-1 38"/>
<path class="n" d="M1618 1557l9 110"/>
<path class="w" d="M1611 1544l9 136-2-123-9 172z"/>
<path class="f" d="M1620 1680l-2-123"/>
<path class="c" d="M1609 1729l9-172"/>
<path class="w" d="M1594 1664l9-80-2-8-9 43z"/>
<path class="l" d="M1603 1584l-2-8"/>
<path class="j" d="M1592 1619l9-43"/>
<path class="w" d="M1533 1614l9 77-2-64-8-58z"/>
<path class="f" d="M1542 1691l-2-64"/>
<path class="n" d="M1532 1569l8 58"/>
<path class="w" d="M1525 1616l8-2-1-45-9 125z"/>
<path class="k" d="M1533 1614l-1-45"/>
<path class="f" d="M1523 1694l9-125"/>
<path class="w" d="M1516 1657l9-41-2 78-9-121z"/>
<path class="k" d="M1525 1616l-2 78"/>
<path class="n" d="M1514 1573l9 121"/>
<path class="w" d="M1508 1625l8 32-2-84-8 24z"/>
<path class="h" d="M1516 1657l-2-84"/>
<path class="l" d="M1506 1597l8-24"/>
<path class="w" d="M1499 1631l9-6-2-28-9 21z"/>
<path class="j" d="M1508 1625l-2-28"/>
<path class="k" d="M1497 1618l9-21"/>
<path class="w" d="M1490 1632l9-1-2-13-9-56z"/>
<path class="j" d="M1499 1631l-2-13"/>
<path class="n" d="M1488 1562l9 56"/>
<path class="w" d="M1482 1673l8-41-2-70-8 142z"/>
<path class="j" d="M1490 1632l-2-70"/>
<path class="e" d="M1480 1704l8-142"/>
<path class="w" d="M1421 1643l9 0-2 90-9-150z"/>
<path class="j" d="M1430 1643l-2 90"/>
<path class="n" d="M1419 1583l9 150"/>
<path class="w" d="M1413 1659l8-16-2-60-8 32z"/>
<path class="j" d="M1421 1643l-2-60"/>
<path class="l" d="M1411 1615l8-32"/>
<path class="w" d="M1352 1641l9-57-2 49-9-60z"/>
<path class="n" d="M1361 1584l-2 49"/>
<path class="o" d="M1350 1573l9 60"/>
<path class="w" d="M1343 1668l9-27-2-68-8 127z"/>
<path class="j" d="M1352 1641l-2-68"/>
<path class="g" d="M1342 1700l8-127"/>
<path class="w" d="M1318 1698l8-127-2 54-8-80z"/>
<path class="o" d="M1326 1571l-2 54"/>
<path class="q" d="M1316 1545l8 80"/>
<path class="w" d="M1309 1629l9 69-2-153-9 63z"/>
<path class="g" d="M1318 1698l-2-153"/>
<path class="m" d="M1307 1608l9-63"/>
<path class="w" d="M1283 1695l9-7-2-23-9-87z"/>
<path class="h" d="M1292 1688l-2-23"/>
<path class="o" d="M1281 1578l9 87"/>
<path class="w" d="M1274 1691l9 4-2-117-9 91z"/>
<path class="g" d="M1283 1695l-2-117"/>
<path class="i" d="M1272 1669l9-91"/>
<path class="w" d="M1240 1706l8 35-1-89-9-49z"/>
<path class="e" d="M1248 1741l-1-89"/>
<path class="n" d="M1238 1603l9 49"/>
<path class="w" d="M1231 1652l9 54-2-103-9 90z"/>
<path class="g" d="M1240 1706l-2-103"/>
<path class="h" d="M1229 1693l9-90"/>
<path class="w" d="M1197 1707l8-35-2 21-8-117z"/>
<path class="i" d="M1205 1672l-2 21"/>
<path class="p" d="M1195 1576l8 117"/>
<path class="w" d="M1188 1647l9 60-2-131-9 165z"/>
<path class="g" d="M1197 1707l-2-131"/>
<path class="e" d="M1186 1741l9-165"/>
<path class="w" d="M1179 1659l9-12-2 94-9-74z"/>
<path class="k" d="M1188 1647l-2 94"/>
<path class="j" d="M1177 1667l9 74"/>
<path class="k" d="M1179 1659l-2 8"/>
<path class="w" d="M1665 1664l9-90-2 130-9-144z"/>
<path class="m" d="M1674 1574l-2 130"/>
<path class="n" d="M1663 1560l9 144"/>
<path class="w" d="M1656 1644l9 20-2-104-9 15z"/>
<path class="g" d="M1665 1664l-2-104"/>
<path class="m" d="M1654 1575l9-15"/>
<path class="w" d="M1613 1608l9-11-2 83-9-136z"/>
<path class="l" d="M1622 1597l-2 83"/>
<path class="o" d="M1611 1544l9 136"/>
<path class="w" d="M1604 1637l9-29-2-64-8 40z"/>
<path class="k" d="M1613 1608l-2-64"/>
<path class="l" d="M1603 1584l8-40"/>
<path class="w" d="M1579 1604l8 6-2 17-8-47z"/>
<path class="k" d="M1587 1610l-2 17"/>
<path class="m" d="M1577 1580l8 47"/>
<path class="w" d="M1570 1622l9-18-2-24-9 65z"/>
<path class="k" d="M1579 1604l-2-24"/>
<path class="i" d="M1568 1645l9-65"/>
<path class="w" d="M1440 1636l9-57-2-5-9 81z"/>
<path class="n" d="M1449 1579l-2-5"/>
<path class="i" d="M1438 1655l9-81"/>
<path class="w" d="M1363 1649l8-20-2 67-8-112z"/>
<path class="k" d="M1371 1629l-2 67"/>
<path class="n" d="M1361 1584l8 112"/>
<path class="w" d="M1354 1779l9-130-2-65-9 57z"/>
<path class="j" d="M1363 1649l-2-65-9 57"/>
<path class="w" d="M1337 1640l8-9-2 37-8-77z"/>
<path class="k" d="M1345 1631l-2 37"/>
<path class="n" d="M1335 1591l8 77"/>
<path class="w" d="M1328 1656l9-16-2-49-9-20z"/>
<path class="k" d="M1337 1640l-2-49"/>
<path class="o" d="M1326 1571l9 20"/>
<path class="w" d="M1319 1609l9 47-2-85-8 127z"/>
<path class="j" d="M1328 1656l-2-85"/>
<path class="g" d="M1318 1698l8-127"/>
<path class="w" d="M1190 1699l9-98-2 106-9-60z"/>
<path class="n" d="M1199 1601l-2 106"/>
<path class="k" d="M1188 1647l9 60"/>
<path class="w" d="M1181 1685l9 14-2-52-9 12z"/>
<path class="h" d="M1190 1699l-2-52"/>
<path class="k" d="M1179 1659l9-12"/>
<path class="i" d="M1181 1685l-2-26"/>
<path class="w" d="M1675 1718l9-101-2-45-8 2z"/>
<path class="j" d="M1684 1617l-2-45"/>
<path class="m" d="M1674 1574l8-2"/>
<path class="w" d="M1667 1623l8 95-1-144-9 90z"/>
<path class="d" d="M1675 1718l-1-144"/>
<path class="g" d="M1665 1664l9-90"/>
<path class="w" d="M1641 1656l9 49-2-29-9-128z"/>
<path class="e" d="M1650 1705l-2-29"/>
<path class="o" d="M1639 1548l9 128"/>
<path class="w" d="M1632 1585l9 71-2-108-9 85z"/>
<path class="h" d="M1641 1656l-2-108"/>
<path class="i" d="M1630 1633l9-85"/>
<path class="w" d="M1615 1678l9 52-2-133-9 11z"/>
<path class="c" d="M1624 1730l-2-133"/>
<path class="k" d="M1613 1608l9-11"/>
<path class="w" d="M1520 1632l9 0-2-51-9 5z"/>
<path class="j" d="M1529 1632l-2-51"/>
<path class="m" d="M1518 1586l9-5"/>
<path class="w" d="M1511 1631l9 1-2-46-9 87z"/>
<path class="j" d="M1520 1632l-2-46"/>
<path class="g" d="M1509 1673l9-87"/>
<path class="w" d="M1477 1625l8 121-1-141-9-1z"/>
<path class="c" d="M1485 1746l-1-141"/>
<path class="l" d="M1475 1604l9 1"/>
<path class="w" d="M1468 1694l9-69-2-21-9-22z"/>
<path class="k" d="M1477 1625l-2-21"/>
<path class="n" d="M1466 1582l9 22"/>
<path class="w" d="M1451 1632l9-9-2 22-9-66z"/>
<path class="k" d="M1460 1623l-2 22"/>
<path class="n" d="M1449 1579l9 66"/>
<path class="w" d="M1442 1703l9-71-2-53-9 57z"/>
<path class="k" d="M1451 1632l-2-53"/>
<path class="j" d="M1440 1636l9-57"/>
<path class="w" d="M1425 1744l9-131-2 90-9-74z"/>
<path class="l" d="M1434 1613l-2 90"/>
<path class="k" d="M1423 1629l9 74"/>
<path class="w" d="M1416 1714l9 30-2-115-9 3z"/>
<path class="d" d="M1425 1744l-2-115"/>
<path class="k" d="M1414 1632l9-3"/>
<path class="w" d="M1270 1772l8-151-2-14-8 40z"/>
<path class="m" d="M1278 1621l-2-14"/>
<path class="k" d="M1268 1647l8-40"/>
<path class="w" d="M1200 1663l9-11-2 35-8-86z"/>
<path class="k" d="M1209 1652l-2 35"/>
<path class="n" d="M1199 1601l8 86"/>
<path class="w" d="M1192 1704l8-41-1-62-9 98z"/>
<path class="j" d="M1200 1663l-1-62"/>
<path class="h" d="M1190 1699l9-98"/>
<path class="w" d="M1183 1690l9 14-2-5-9-14z"/>
<path class="h" d="M1192 1704l-2-5"/>
<path class="i" d="M1181 1685l9 14"/>
<path class="i" d="M1183 1690l-2-5"/>
<path class="w" d="M1315 1770l8-100-2-65-8 29z"/>
<path class="i" d="M1323 1670l-2-65"/>
<path class="k" d="M1313 1634l8-29"/>
<path class="w" d="M1280 1639l9 75-2-38-9-55z"/>
<path class="g" d="M1289 1714l-2-38"/>
<path class="m" d="M1278 1621l9 55"/>
<path class="w" d="M1271 1686l9-47-2-18-8 151z"/>
<path class="l" d="M1280 1639l-2-18"/>
<path class="c" d="M1270 1772l8-151"/>
<path class="w" d="M1254 1692l9-74-2 50-9-77z"/>
<path class="m" d="M1263 1618l-2 50"/>
<path class="o" d="M1252 1591l9 77"/>
<path class="w" d="M1246 1689l8 3-2-101-8 61z"/>
<path class="h" d="M1254 1692l-2-101"/>
<path class="k" d="M1244 1652l8-61"/>
<path class="w" d="M1194 1666l8 99-2-102-8 41z"/>
<path class="d" d="M1202 1765l-2-102"/>
<path class="h" d="M1192 1704l8-41"/>
<path class="w" d="M1185 1724l9-58-2 38-9-14z"/>
<path class="j" d="M1194 1666l-2 38"/>
<path class="i" d="M1183 1690l9 14"/>
<path class="g" d="M1185 1724l-2-34"/>
<path class="w" d="M1662 1668l9-116-2 23-9 83z"/>
<path class="o" d="M1671 1552l-2 23"/>
<path class="h" d="M1660 1658l9-83"/>
<path class="w" d="M1593 1674l9-35-2-5-9-110z"/>
<path class="i" d="M1602 1639l-2-5"/>
<path class="q" d="M1591 1524l9 110"/>
<path class="w" d="M1584 1622l9 52-2-150-9 38z"/>
<path class="g" d="M1593 1674l-2-150"/>
<path class="n" d="M1582 1562l9-38"/>
<path class="w" d="M1576 1627l8-5-2-60-8 143z"/>
<path class="k" d="M1584 1622l-2-60"/>
<path class="e" d="M1574 1705l8-143"/>
<path class="w" d="M1532 1687l9-41-2-52-8 24z"/>
<path class="i" d="M1541 1646l-2-52"/>
<path class="k" d="M1531 1618l8-24"/>
<path class="w" d="M1489 1678l9-97-2 69-9-69z"/>
<path class="n" d="M1498 1581l-2 69-9-69"/>
<path class="w" d="M1481 1615l8 63-2-97-8 61z"/>
<path class="h" d="M1489 1678l-2-97"/>
<path class="j" d="M1479 1642l8-61"/>
<path class="w" d="M1403 1683l9 13-2-112-9 88z"/>
<path class="g" d="M1412 1696l-2-112"/>
<path class="i" d="M1401 1672l9-88"/>
<path class="w" d="M1386 1678l8-102-2-19-8 58z"/>
<path class="o" d="M1394 1576l-2-19"/>
<path class="l" d="M1384 1615l8-58"/>
<path class="w" d="M1265 1704l8-49-2 31-8-68z"/>
<path class="k" d="M1273 1655l-2 31"/>
<path class="m" d="M1263 1618l8 68"/>
<path class="w" d="M1256 1711l9-7-2-86-9 74z"/>
<path class="h" d="M1265 1704l-2-86-9 74"/>
<path class="w" d="M1230 1682l9-45-2-10-9 2z"/>
<path class="l" d="M1239 1637l-2-10"/>
<path class="m" d="M1228 1629l9-2"/>
<path class="w" d="M1213 1674l9 21-2-118-9 85z"/>
<path class="h" d="M1222 1695l-2-118"/>
<path class="k" d="M1211 1662l9-85"/>
<path class="w" d="M1204 1661l9 13-2-12-9 103z"/>
<path class="j" d="M1213 1674l-2-12"/>
<path class="d" d="M1202 1765l9-103"/>
<path class="w" d="M1196 1704l8-43-2 104-8-99z"/>
<path class="k" d="M1204 1661l-2 104"/>
<path class="j" d="M1194 1666l8 99"/>
<path class="w" d="M1187 1667l9 37-2-38-9 58z"/>
<path class="h" d="M1196 1704l-2-38"/>
<path class="g" d="M1185 1724l9-58"/>
<path class="j" d="M1187 1667l-2 57"/>
<path class="w" d="M1673 1618l8 22-2 47-8-135z"/>
<path class="i" d="M1681 1640l-2 47"/>
<path class="o" d="M1671 1552l8 135"/>
<path class="w" d="M1664 1613l9 5-2-66-9 116z"/>
<path class="j" d="M1673 1618l-2-66"/>
<path class="g" d="M1662 1668l9-116"/>
<path class="w" d="M1612 1635l9 5-2 42-9-89z"/>
<path class="i" d="M1621 1640l-2 42"/>
<path class="l" d="M1610 1593l9 89"/>
<path class="w" d="M1569 1655l9-25-2-3-9-77z"/>
<path class="j" d="M1578 1630l-2-3"/>
<path class="o" d="M1567 1550l9 77"/>
<path class="w" d="M1560 1629l9 26-2-105-9 130z"/>
<path class="i" d="M1569 1655l-2-105"/>
<path class="g" d="M1558 1680l9-130"/>
<path class="w" d="M1491 1657l9-86-2 10-9 97z"/>
<path class="o" d="M1500 1571l-2 10"/>
<path class="h" d="M1489 1678l9-97"/>
<path class="w" d="M1457 1519l8 180-2-104-8 28z"/>
<path class="g" d="M1465 1699l-2-104"/>
<path class="k" d="M1455 1623l8-28"/>
<path class="w" d="M1422 1658l9-52-2-9-9 81z"/>
<path class="m" d="M1431 1606l-2-9"/>
<path class="h" d="M1420 1678l9-81"/>
<path class="w" d="M1396 1621l9 63-2-1-9-107z"/>
<path class="h" d="M1405 1684l-2-1"/>
<path class="o" d="M1394 1576l9 107"/>
<path class="w" d="M1388 1639l8-18-2-45-8 102z"/>
<path class="l" d="M1396 1621l-2-45"/>
<path class="h" d="M1386 1678l8-102"/>
<path class="w" d="M1353 1719l9-62-2 3-9-58z"/>
<path class="j" d="M1362 1657l-2 3"/>
<path class="n" d="M1351 1602l9 58"/>
<path class="w" d="M1344 1609l9 110-2-117-9 60z"/>
<path class="f" d="M1353 1719l-2-117"/>
<path class="j" d="M1342 1662l9-60"/>
<path class="w" d="M1232 1738l9-53-2-48-9 45z"/>
<path class="i" d="M1241 1685l-2-48-9 45"/>
<path class="w" d="M1189 1685l9 20-2-1-9-37z"/>
<path class="h" d="M1198 1705l-2-1"/>
<path class="j" d="M1187 1667l9 37"/>
<path class="j" d="M1189 1685l-2-18"/>
<path class="w" d="M1726 1646l9-13-2-63-9 86z"/>
<path class="i" d="M1735 1633l-2-63"/>
<path class="h" d="M1724 1656l9-86"/>
<path class="w" d="M1700 1643l9 57-2-102-9-7z"/>
<path class="e" d="M1709 1700l-2-102"/>
<path class="l" d="M1698 1591l9 7"/>
<path class="w" d="M1692 1622l8 21-2-52-8-31z"/>
<path class="i" d="M1700 1643l-2-52"/>
<path class="n" d="M1690 1560l8 31"/>
<path class="w" d="M1683 1629l9-7-2-62-9 80z"/>
<path class="j" d="M1692 1622l-2-62"/>
<path class="i" d="M1681 1640l9-80"/>
<path class="w" d="M1666 1757l8-143-1 4-9-5z"/>
<path class="k" d="M1674 1614l-1 4-9-5"/>
<path class="w" d="M1657 1524l9 233-2-144-9 50z"/>
<path class="b" d="M1666 1757l-2-144"/>
<path class="h" d="M1655 1663l9-50"/>
<path class="w" d="M1631 1630l9 43-2-87-9-73z"/>
<path class="g" d="M1640 1673l-2-87"/>
<path class="r" d="M1629 1513l9 73"/>
<path class="w" d="M1623 1661l8-31-2-117-8 127z"/>
<path class="j" d="M1631 1630l-2-117"/>
<path class="i" d="M1621 1640l8-127"/>
<path class="w" d="M1519 1651l9-68-2 97-9-87z"/>
<path class="n" d="M1528 1583l-2 97"/>
<path class="m" d="M1517 1593l9 87"/>
<path class="w" d="M1510 1689l9-38-2-58-9 32z"/>
<path class="j" d="M1519 1651l-2-58"/>
<path class="k" d="M1508 1625l9-32"/>
<path class="w" d="M1502 1640l8 49-2-64-8-54z"/>
<path class="g" d="M1510 1689l-2-64"/>
<path class="o" d="M1500 1571l8 54"/>
<path class="w" d="M1493 1650l9-10-2-69-9 86z"/>
<path class="j" d="M1502 1640l-2-69"/>
<path class="i" d="M1491 1657l9-86"/>
<path class="w" d="M1459 1662l8-75-2 112-8-180z"/>
<path class="n" d="M1467 1587l-2 112"/>
<path class="r" d="M1457 1519l8 180"/>
<path class="w" d="M1450 1648l9 14-2-143-9 117z"/>
<path class="i" d="M1459 1662l-2-143"/>
<path class="k" d="M1448 1636l9-117"/>
<path class="w" d="M1433 1671l8 8-2 24-8-97z"/>
<path class="h" d="M1441 1679l-2 24"/>
<path class="m" d="M1431 1606l8 97"/>
<path class="w" d="M1424 1699l9-28-2-65-9 52z"/>
<path class="i" d="M1433 1671l-2-65"/>
<path class="j" d="M1422 1658l9-52"/>
<path class="w" d="M1381 1747l8-145-1 37-9-88z"/>
<path class="n" d="M1389 1602l-1 37"/>
<path class="q" d="M1379 1551l9 88"/>
<path class="w" d="M1372 1663l9 84-2-196-9 91z"/>
<path class="d" d="M1381 1747l-2-196"/>
<path class="k" d="M1370 1642l9-91"/>
<path class="w" d="M1251 1659l9-28-2 46-9-74z"/>
<path class="m" d="M1260 1631l-2 46"/>
<path class="n" d="M1249 1603l9 74"/>
<path class="w" d="M1243 1580l8 79-2-56-8 82z"/>
<path class="k" d="M1251 1659l-2-56"/>
<path class="i" d="M1241 1685l8-82"/>
<path class="w" d="M1208 1616l9 60-2 63-9-167z"/>
<path class="j" d="M1217 1676l-2 63"/>
<path class="q" d="M1206 1572l9 167"/>
<path class="w" d="M1199 1639l9-23-2-44-8 133z"/>
<path class="n" d="M1208 1616l-2-44"/>
<path class="h" d="M1198 1705l8-133"/>
<path class="w" d="M1191 1659l8-20-1 66-9-20z"/>
<path class="m" d="M1199 1639l-1 66"/>
<path class="j" d="M1189 1685l9 20"/>
<path class="k" d="M1191 1659l-2 26"/>
<path class="w" d="M1659 1620l9 90-2 47-9-233z"/>
<path class="e" d="M1668 1710l-2 47"/>
<path class="q" d="M1657 1524l9 233"/>
<path class="w" d="M1650 1667l9-47-2-96-8 62z"/>
<path class="k" d="M1659 1620l-2-96"/>
<path class="m" d="M1649 1586l8-62"/>
<path class="w" d="M1417 1626l9 74-2-1-9-106z"/>
<path class="g" d="M1426 1700l-2-1"/>
<path class="n" d="M1415 1593l9 106"/>
<path class="w" d="M1409 1611l8 15-2-33-8 96z"/>
<path class="l" d="M1417 1626l-2-33"/>
<path class="h" d="M1407 1689l8-96"/>
<path class="w" d="M1391 1707l9-119-2 12-9 2z"/>
<path class="o" d="M1400 1588l-2 12"/>
<path class="n" d="M1389 1602l9-2"/>
<path class="w" d="M1383 1743l8-36-2-105-8 145z"/>
<path class="g" d="M1391 1707l-2-105"/>
<path class="d" d="M1381 1747l8-145"/>
<path class="w" d="M1357 1686l8-71-1-11-9-19z"/>
<path class="m" d="M1365 1615l-1-11"/>
<path class="o" d="M1355 1585l9 19"/>
<path class="w" d="M1348 1671l9 15-2-101-9 115z"/>
<path class="i" d="M1357 1686l-2-101"/>
<path class="h" d="M1346 1700l9-115"/>
<path class="w" d="M1331 1656l9 29-2-17-9-51z"/>
<path class="i" d="M1340 1685l-2-17"/>
<path class="m" d="M1329 1617l9 51"/>
<path class="w" d="M1262 1708l8-48-1 32-9-61z"/>
<path class="k" d="M1270 1660l-1 32"/>
<path class="m" d="M1260 1631l9 61"/>
<path class="w" d="M1253 1661l9 47-2-77-9 28z"/>
<path class="h" d="M1262 1708l-2-77"/>
<path class="k" d="M1251 1659l9-28"/>
<path class="w" d="M1245 1723l8-62-2-2-8-79z"/>
<path class="k" d="M1253 1661l-2-2"/>
<path class="p" d="M1243 1580l8 79"/>
<path class="w" d="M1236 1617l9 106-2-143-9 192z"/>
<path class="g" d="M1245 1723l-2-143"/>
<path class="d" d="M1234 1772l9-192"/>
<path class="w" d="M1193 1628l8 83-2-72-8 20z"/>
<path class="h" d="M1201 1711l-2-72"/>
<path class="k" d="M1191 1659l8-20"/>
<path class="m" d="M1193 1628l-2 31"/>
<path class="w" d="M1721 1627l9 18-2-58-8 9z"/>
<path class="i" d="M1730 1645l-2-58"/>
<path class="l" d="M1720 1596l8-9"/>
<path class="w" d="M1713 1546l8 81-1-31-9 122z"/>
<path class="j" d="M1721 1627l-1-31"/>
<path class="d" d="M1711 1718l9-122"/>
<path class="w" d="M1696 1633l8 2-2 76-8-178z"/>
<path class="j" d="M1704 1635l-2 76"/>
<path class="p" d="M1694 1533l8 178"/>
<path class="w" d="M1687 1592l9 41-2-100-9 92z"/>
<path class="j" d="M1696 1633l-2-100-9 92"/>
<path class="w" d="M1531 1625l9 59-2-43-8-71z"/>
<path class="h" d="M1540 1684l-2-43"/>
<path class="o" d="M1530 1570l8 71"/>
<path class="w" d="M1523 1712l8-87-1-55-9 42z"/>
<path class="k" d="M1531 1625l-1-55"/>
<path class="l" d="M1521 1612l9-42"/>
<path class="w" d="M1480 1690l8-26-2-30-8-26z"/>
<path class="i" d="M1488 1664l-2-30"/>
<path class="m" d="M1478 1608l8 26"/>
<path class="w" d="M1471 1657l9 33-2-82-9-4z"/>
<path class="h" d="M1480 1690l-2-82"/>
<path class="m" d="M1469 1604l9 4"/>
<path class="w" d="M1402 1712l9-129-2 28-9-23z"/>
<path class="o" d="M1411 1583l-2 28-9-23"/>
<path class="w" d="M1393 1661l9 51-2-124-9 119z"/>
<path class="g" d="M1402 1712l-2-124-9 119"/>
<path class="w" d="M1238 1696l8-40-1 67-9-106z"/>
<path class="k" d="M1246 1656l-1 67"/>
<path class="n" d="M1236 1617l9 106"/>
<path class="w" d="M1229 1676l9 20-2-79-9 12z"/>
<path class="i" d="M1238 1696l-2-79"/>
<path class="m" d="M1227 1629l9-12"/>
<path class="w" d="M1203 1621l9 9-2 79-9 2z"/>
<path class="m" d="M1212 1630l-2 79"/>
<path class="h" d="M1201 1711l9-2"/>
<path class="w" d="M1195 1635l8-14-2 90-8-83z"/>
<path class="n" d="M1203 1621l-2 90"/>
<path class="m" d="M1193 1628l8 83"/>
<path class="m" d="M1195 1635l-2-7"/>
<path class="w" d="M1715 1603l8 73-2-49-8-81z"/>
<path class="g" d="M1723 1676l-2-49"/>
<path class="o" d="M1713 1546l8 81"/>
<path class="w" d="M1689 1663l8-59-1 29-9-41z"/>
<path class="l" d="M1697 1604l-1 29"/>
<path class="m" d="M1687 1592l9 41"/>
<path class="w" d="M1680 1629l9 34-2-71-9 55z"/>
<path class="h" d="M1689 1663l-2-71"/>
<path class="i" d="M1678 1647l9-55"/>
<path class="w" d="M1646 1619l8 47-2-59-8-23z"/>
<path class="h" d="M1654 1666l-2-59"/>
<path class="m" d="M1644 1584l8 23"/>
<path class="w" d="M1568 1726l9-72-2 18-9-101z"/>
<path class="i" d="M1577 1654l-2 18"/>
<path class="o" d="M1566 1571l9 101"/>
<path class="w" d="M1559 1728l9-2-2-155-9-17z"/>
<path class="e" d="M1568 1726l-2-155"/>
<path class="p" d="M1557 1554l9 17"/>
<path class="w" d="M1551 1626l8 102-2-174-8 41z"/>
<path class="e" d="M1559 1728l-2-174"/>
<path class="m" d="M1549 1595l8-41"/>
<path class="w" d="M1412 1643l9 14-2-26-8-48z"/>
<path class="j" d="M1421 1657l-2-26"/>
<path class="o" d="M1411 1583l8 48"/>
<path class="w" d="M1404 1636l8 7-1-60-9 129z"/>
<path class="k" d="M1412 1643l-1-60"/>
<path class="g" d="M1402 1712l9-129"/>
<path class="w" d="M1361 1757l8-65-2 43-8-116z"/>
<path class="h" d="M1369 1692l-2 43"/>
<path class="m" d="M1359 1619l8 116"/>
<path class="w" d="M1352 1710l9 47-2-138-9 104z"/>
<path class="d" d="M1361 1757l-2-138"/>
<path class="f" d="M1350 1723l9-104"/>
<path class="w" d="M1274 1656l9 43-2-62-9-4z"/>
<path class="i" d="M1283 1699l-2-62"/>
<path class="m" d="M1272 1633l9 4"/>
<path class="w" d="M1266 1709l8-53-2-23-8 97z"/>
<path class="k" d="M1274 1656l-2-23"/>
<path class="f" d="M1264 1730l8-97"/>
<path class="w" d="M1214 1697l8-48-1 20-9-39z"/>
<path class="l" d="M1222 1649l-1 20"/>
<path class="m" d="M1212 1630l9 39"/>
<path class="w" d="M1205 1703l9-6-2-67-9-9z"/>
<path class="i" d="M1214 1697l-2-67"/>
<path class="n" d="M1203 1621l9 9"/>
<path class="w" d="M1197 1633l8 70-2-82-8 14z"/>
<path class="i" d="M1205 1703l-2-82"/>
<path class="m" d="M1195 1635l8-14"/>
<path class="m" d="M1197 1633l-2 2"/>
<path class="w" d="M1699 1618l9 58-2-33-9-39z"/>
<path class="g" d="M1708 1676l-2-33"/>
<path class="l" d="M1697 1604l9 39"/>
<path class="w" d="M1691 1602l8 16-2-14-8 59z"/>
<path class="k" d="M1699 1618l-2-14"/>
<path class="h" d="M1689 1663l8-59"/>
<path class="w" d="M1673 1665l9 61-2-97-8-46z"/>
<path class="d" d="M1682 1726l-2-97"/>
<path class="m" d="M1672 1583l8 46"/>
<path class="w" d="M1665 1653l8 12-1-82-9 69z"/>
<path class="h" d="M1673 1665l-1-82"/>
<path class="i" d="M1663 1652l9-69"/>
<path class="w" d="M1587 1755l9-126-2-34-9 19z"/>
<path class="k" d="M1596 1629l-2-34"/>
<path class="l" d="M1585 1614l9-19"/>
<path class="w" d="M1388 1707l9 10-2-46-8-66z"/>
<path class="g" d="M1397 1717l-2-46"/>
<path class="n" d="M1387 1605l8 66"/>
<path class="w" d="M1198 1662l9-71-2 112-8-70z"/>
<path class="p" d="M1207 1591l-2 112"/>
<path class="m" d="M1197 1633l8 70"/>
<path class="l" d="M1198 1662l-1-29"/>
<path class="w" d="M1701 1704l9-30-2 2-9-58z"/>
<path class="g" d="M1710 1674l-2 2"/>
<path class="k" d="M1699 1618l9 58"/>
<path class="w" d="M1693 1668l8 36-2-86-8-16z"/>
<path class="f" d="M1701 1704l-2-86"/>
<path class="l" d="M1691 1602l8 16"/>
<path class="w" d="M1624 1677l8-74-2 69-8-65z"/>
<path class="m" d="M1632 1603l-2 69"/>
<path class="l" d="M1622 1607l8 65"/>
<path class="w" d="M1615 1666l9 11-2-70-9 66z"/>
<path class="h" d="M1624 1677l-2-70-9 66"/>
<path class="w" d="M1598 1638l8-98-2 21-8 68z"/>
<path class="q" d="M1606 1540l-2 21"/>
<path class="k" d="M1596 1629l8-68"/>
<path class="w" d="M1563 1624l9-59-2-3-9 81z"/>
<path class="p" d="M1572 1565l-2-3"/>
<path class="j" d="M1561 1643l9-81"/>
<path class="w" d="M1520 1644l9-42-2 4-9 0z"/>
<path class="m" d="M1529 1602l-2 4-9 0"/>
<path class="w" d="M1511 1596l9 48-2-38-9-48z"/>
<path class="k" d="M1520 1644l-2-38"/>
<path class="p" d="M1509 1558l9 48"/>
<path class="w" d="M1503 1602l8-6-2-38-8 124z"/>
<path class="n" d="M1511 1596l-2-38"/>
<path class="h" d="M1501 1682l8-124"/>
<path class="w" d="M1468 1690l9 21-2 32-9-175z"/>
<path class="g" d="M1477 1711l-2 32"/>
<path class="p" d="M1466 1568l9 175"/>
<path class="w" d="M1459 1717l9-27-2-122-8 125z"/>
<path class="h" d="M1468 1690l-2-122-8 125"/>
<path class="w" d="M1408 1595l8 60-2-31-8-30z"/>
<path class="k" d="M1416 1655l-2-31"/>
<path class="o" d="M1406 1594l8 30"/>
<path class="w" d="M1330 1783l9-83-2-10-9-90z"/>
<path class="h" d="M1339 1700l-2-10"/>
<path class="o" d="M1328 1600l9 90"/>
<path class="w" d="M1321 1650l9 133-2-183-9 79z"/>
<path class="c" d="M1330 1783l-2-183"/>
<path class="j" d="M1319 1679l9-79"/>
<path class="w" d="M1313 1702l8-52-2 29-8-64z"/>
<path class="l" d="M1321 1650l-2 29"/>
<path class="n" d="M1311 1615l8 64"/>
<path class="w" d="M1304 1726l9-24-2-87-9 67z"/>
<path class="h" d="M1313 1702l-2-87"/>
<path class="j" d="M1302 1682l9-67"/>
<path class="w" d="M1261 1761l8 42-1-115-9-60z"/>
<path class="b" d="M1269 1803l-1-115"/>
<path class="m" d="M1259 1628l9 60"/>
<path class="w" d="M1252 1717l9 44-2-133-9 91z"/>
<path class="e" d="M1261 1761l-2-133"/>
<path class="h" d="M1250 1719l9-91"/>
<path class="w" d="M1209 1661l9 26-2 5-9-101z"/>
<path class="j" d="M1218 1687l-2 5"/>
<path class="p" d="M1207 1591l9 101"/>
<path class="w" d="M1200 1737l9-76-2-70-9 71z"/>
<path class="l" d="M1209 1661l-2-70-9 71"/>
<path class="g" d="M1200 1737l-2-75"/>
<path class="w" d="M1686 1596l9 28-2 44-9-98z"/>
<path class="k" d="M1695 1624l-2 44"/>
<path class="n" d="M1684 1570l9 98"/>
<path class="w" d="M1677 1576l9 20-2-26-9 101z"/>
<path class="m" d="M1686 1596l-2-26"/>
<path class="h" d="M1675 1671l9-101"/>
<path class="w" d="M1608 1621l9 89-2-44-9-126z"/>
<path class="f" d="M1617 1710l-2-44"/>
<path class="q" d="M1606 1540l9 126"/>
<path class="w" d="M1600 1756l8-135-2-81-8 98z"/>
<path class="l" d="M1608 1621l-2-81"/>
<path class="k" d="M1598 1638l8-98"/>
<path class="w" d="M1574 1704l8-45-2-38-8-56z"/>
<path class="i" d="M1582 1659l-2-38"/>
<path class="p" d="M1572 1565l8 56"/>
<path class="w" d="M1565 1765l9-61-2-139-9 59z"/>
<path class="g" d="M1574 1704l-2-139"/>
<path class="l" d="M1563 1624l9-59"/>
<path class="w" d="M1539 1707l9-130-2 8-9 23z"/>
<path class="o" d="M1548 1577l-2 8"/>
<path class="m" d="M1537 1608l9-23"/>
<path class="w" d="M1522 1683l8-24-1-57-9 42z"/>
<path class="j" d="M1530 1659l-1-57"/>
<path class="k" d="M1520 1644l9-42"/>
<path class="w" d="M1505 1672l8-8-2-68-8 6z"/>
<path class="j" d="M1513 1664l-2-68"/>
<path class="n" d="M1503 1602l8-6"/>
<path class="w" d="M1496 1631l9 41-2-70-9 67z"/>
<path class="i" d="M1505 1672l-2-70-9 67"/>
<path class="w" d="M1410 1758l8-88-2-15-8-60z"/>
<path class="j" d="M1418 1670l-2-15"/>
<path class="o" d="M1408 1595l8 60"/>
<path class="w" d="M1401 1674l9 84-2-163-9 27z"/>
<path class="d" d="M1410 1758l-2-163"/>
<path class="m" d="M1399 1622l9-27"/>
<path class="w" d="M1392 1641l9 33-2-52-9 81z"/>
<path class="j" d="M1401 1674l-2-52"/>
<path class="h" d="M1390 1703l9-81"/>
<path class="w" d="M1375 1678l9 17-2 21-9-133z"/>
<path class="i" d="M1384 1695l-2 21"/>
<path class="p" d="M1373 1583l9 133"/>
<path class="w" d="M1366 1685l9-7-2-95-9 56z"/>
<path class="j" d="M1375 1678l-2-95"/>
<path class="l" d="M1364 1639l9-56"/>
<path class="w" d="M1237 1672l8 87-1-113-9 70z"/>
<path class="e" d="M1245 1759l-1-113"/>
<path class="h" d="M1235 1716l9-70"/>
<path class="w" d="M1202 1619l9 29-2 13-9 76z"/>
<path class="m" d="M1211 1648l-2 13"/>
<path class="g" d="M1200 1737l9-76"/>
<path class="o" d="M1202 1619l-2 118"/>
<path class="w" d="M1731 1595l9 32-2 136-9-43z"/>
<path class="k" d="M1740 1627l-2 136"/>
<path class="d" d="M1729 1720l9 43"/>
<path class="w" d="M1714 1687l8 7-2-90-8-37z"/>
<path class="f" d="M1722 1694l-2-90"/>
<path class="o" d="M1712 1567l8 37"/>
<path class="w" d="M1688 1611l8 68-1-55-9-28z"/>
<path class="h" d="M1696 1679l-1-55"/>
<path class="m" d="M1686 1596l9 28"/>
<path class="w" d="M1679 1601l9 10-2-15-9-20z"/>
<path class="l" d="M1688 1611l-2-15"/>
<path class="n" d="M1677 1576l9 20"/>
<path class="w" d="M1671 1626l8-25-2-25-8 130z"/>
<path class="m" d="M1679 1601l-2-25"/>
<path class="f" d="M1669 1706l8-130"/>
<path class="w" d="M1662 1703l9-77-2 80-9-144z"/>
<path class="k" d="M1671 1626l-2 80"/>
<path class="o" d="M1660 1562l9 144"/>
<path class="w" d="M1653 1644l9 59-2-141-9 130z"/>
<path class="f" d="M1662 1703l-2-141"/>
<path class="g" d="M1651 1692l9-130"/>
<path class="w" d="M1636 1605l9-10-2-16-9 51z"/>
<path class="m" d="M1645 1595l-2-16"/>
<path class="k" d="M1634 1630l9-51"/>
<path class="w" d="M1550 1636l8 36-2-71-8-24z"/>
<path class="i" d="M1558 1672l-2-71"/>
<path class="o" d="M1548 1577l8 24"/>
<path class="w" d="M1541 1627l9 9-2-59-9 130z"/>
<path class="k" d="M1550 1636l-2-59"/>
<path class="g" d="M1539 1707l9-130"/>
<path class="w" d="M1481 1729l8-83-2-57-8 104z"/>
<path class="k" d="M1489 1646l-2-57"/>
<path class="h" d="M1479 1693l8-104"/>
<path class="w" d="M1394 1657l9 17-2 0-9-33z"/>
<path class="j" d="M1403 1674l-2 0"/>
<path class="l" d="M1392 1641l9 33"/>
<path class="w" d="M1325 1671l9 33-2 15-9-125z"/>
<path class="h" d="M1334 1704l-2 15"/>
<path class="p" d="M1323 1594l9 125"/>
<path class="w" d="M1316 1727l9-56-2-77-8 149z"/>
<path class="k" d="M1325 1671l-2-77"/>
<path class="f" d="M1315 1743l8-149"/>
<path class="w" d="M1273 1690l9 39-2-22-9-77z"/>
<path class="g" d="M1282 1729l-2-22"/>
<path class="n" d="M1271 1630l9 77"/>
<path class="w" d="M1265 1759l8-69-2-60-8 95z"/>
<path class="j" d="M1273 1690l-2-60"/>
<path class="g" d="M1263 1725l8-95"/>
<path class="w" d="M1204 1638l9 96-2-86-9-29z"/>
<path class="g" d="M1213 1734l-2-86"/>
<path class="o" d="M1202 1619l9 29"/>
<path class="n" d="M1204 1638l-2-19"/>
<path class="w" d="M1647 1649l8-90-2 85-8-49z"/>
<path class="p" d="M1655 1559l-2 85"/>
<path class="m" d="M1645 1595l8 49"/>
<path class="w" d="M1638 1627l9 22-2-54-9 10z"/>
<path class="j" d="M1647 1649l-2-54"/>
<path class="m" d="M1636 1605l9-10"/>
<path class="w" d="M1577 1619l9-11-2 9-8-4z"/>
<path class="m" d="M1586 1608l-2 9-8-4"/>
<path class="w" d="M1569 1671l8-52-1-6-9 12z"/>
<path class="l" d="M1577 1619l-1-6-9 12"/>
<path class="w" d="M1396 1672l9-52-2 54-9-17z"/>
<path class="n" d="M1405 1620l-2 54"/>
<path class="k" d="M1394 1657l9 17"/>
<path class="w" d="M1387 1635l9 37-2-15-8 52z"/>
<path class="j" d="M1396 1672l-2-15"/>
<path class="h" d="M1386 1709l8-52"/>
<path class="w" d="M1344 1698l9 31-2-96-9-24z"/>
<path class="g" d="M1353 1729l-2-96"/>
<path class="o" d="M1342 1609l9 24"/>
<path class="w" d="M1336 1676l8 22-2-89-8 95z"/>
<path class="i" d="M1344 1698l-2-89"/>
<path class="h" d="M1334 1704l8-95"/>
<path class="w" d="M1310 1774l8-81-2 34-8-137z"/>
<path class="i" d="M1318 1693l-2 34"/>
<path class="p" d="M1308 1590l8 137"/>
<path class="w" d="M1301 1605l9 169-2-184-9 114z"/>
<path class="d" d="M1310 1774l-2-184"/>
<path class="i" d="M1299 1704l9-114"/>
<path class="w" d="M1232 1719l9 29-2-89-9-89z"/>
<path class="f" d="M1241 1748l-2-89"/>
<path class="r" d="M1230 1570l9 89"/>
<path class="w" d="M1223 1593l9 126-2-149-9 6z"/>
<path class="h" d="M1232 1719l-2-149"/>
<path class="r" d="M1221 1576l9-6"/>
<path class="w" d="M1215 1746l8-153-2-17-8 158z"/>
<path class="q" d="M1223 1593l-2-17"/>
<path class="g" d="M1213 1734l8-158"/>
<path class="w" d="M1206 1730l9 16-2-12-9-96z"/>
<path class="g" d="M1215 1746l-2-12"/>
<path class="n" d="M1204 1638l9 96"/>
<path class="h" d="M1206 1730l-2-92"/>
<path class="w" d="M1683 1647l9 81-2-123-9-4z"/>
<path class="e" d="M1692 1728l-2-123"/>
<path class="m" d="M1681 1601l9 4"/>
<path class="w" d="M1657 1620l9 44-2-19-9-86z"/>
<path class="i" d="M1666 1664l-2-19"/>
<path class="p" d="M1655 1559l9 86"/>
<path class="w" d="M1648 1693l9-73-2-61-8 90z"/>
<path class="l" d="M1657 1620l-2-61"/>
<path class="j" d="M1647 1649l8-90"/>
<path class="w" d="M1588 1666l9-3-2-8-9-47z"/>
<path class="j" d="M1597 1663l-2-8"/>
<path class="m" d="M1586 1608l9 47"/>
<path class="w" d="M1579 1777l9-111-2-58-9 11z"/>
<path class="i" d="M1588 1666l-2-58"/>
<path class="l" d="M1577 1619l9-11"/>
<path class="w" d="M1571 1624l8 153-2-158-8 52z"/>
<path class="b" d="M1579 1777l-2-158"/>
<path class="i" d="M1569 1671l8-52"/>
<path class="w" d="M1536 1792l9-153-2 26-9-84z"/>
<path class="k" d="M1545 1639l-2 26"/>
<path class="o" d="M1534 1581l9 84"/>
<path class="w" d="M1528 1631l8 161-2-211-8 55z"/>
<path class="b" d="M1536 1792l-2-211"/>
<path class="l" d="M1526 1636l8-55"/>
<path class="w" d="M1450 1751l8-116-1 8-9-26z"/>
<path class="l" d="M1458 1635l-1 8"/>
<path class="m" d="M1448 1617l9 26"/>
<path class="w" d="M1441 1728l9 23-2-134-9-22z"/>
<path class="e" d="M1450 1751l-2-134"/>
<path class="o" d="M1439 1595l9 22"/>
<path class="w" d="M1433 1712l8 16-2-133-8 99z"/>
<path class="f" d="M1441 1728l-2-133"/>
<path class="i" d="M1431 1694l8-99"/>
<path class="w" d="M1424 1749l9-37-2-18-9-58z"/>
<path class="h" d="M1433 1712l-2-18"/>
<path class="l" d="M1422 1636l9 58"/>
<path class="w" d="M1415 1715l9 34-2-113-9 37z"/>
<path class="e" d="M1424 1749l-2-113"/>
<path class="j" d="M1413 1673l9-37"/>
<path class="w" d="M1398 1719l9-63-2-36-9 52z"/>
<path class="k" d="M1407 1656l-2-36"/>
<path class="j" d="M1396 1672l9-52"/>
<path class="w" d="M1389 1720l9-1-2-47-9-37z"/>
<path class="g" d="M1398 1719l-2-47"/>
<path class="m" d="M1387 1635l9 37"/>
<path class="w" d="M1268 1690l9 1-2-10-8-59z"/>
<path class="j" d="M1277 1691l-2-10"/>
<path class="n" d="M1267 1622l8 59"/>
<path class="w" d="M1260 1794l8-104-1-68-9 61z"/>
<path class="j" d="M1268 1690l-1-68-9 61"/>
<path class="w" d="M1225 1675l9-44-2 88-9-126z"/>
<path class="n" d="M1234 1631l-2 88"/>
<path class="q" d="M1223 1593l9 126"/>
<path class="w" d="M1217 1651l8 24-2-82-8 153z"/>
<path class="k" d="M1225 1675l-2-82"/>
<path class="g" d="M1215 1746l8-153"/>
<path class="w" d="M1208 1635l9 16-2 95-9-16z"/>
<path class="m" d="M1217 1651l-2 95"/>
<path class="h" d="M1206 1730l9 16"/>
<path class="n" d="M1208 1635l-2 95"/>
<path class="w" d="M1719 1727l9-54-2-84-9 17z"/>
<path class="h" d="M1728 1673l-2-84"/>
<path class="l" d="M1717 1606l9-17"/>
<path class="w" d="M1616 1701l8-19-1-57-9-18z"/>
<path class="h" d="M1624 1682l-1-57"/>
<path class="m" d="M1614 1607l9 18"/>
<path class="w" d="M1607 1606l9 95-2-94-9 27z"/>
<path class="g" d="M1616 1701l-2-94"/>
<path class="k" d="M1605 1634l9-27"/>
<path class="w" d="M1529 1690l9-7-2 109-8-161z"/>
<path class="i" d="M1538 1683l-2 109"/>
<path class="l" d="M1528 1631l8 161"/>
<path class="w" d="M1521 1579l8 111-1-59-9 54z"/>
<path class="h" d="M1529 1690l-1-59"/>
<path class="i" d="M1519 1685l9-54"/>
<path class="w" d="M1495 1707l9-39-2 71-9-151z"/>
<path class="j" d="M1504 1668l-2 71"/>
<path class="o" d="M1493 1588l9 151"/>
<path class="w" d="M1486 1722l9-15-2-119-9 13z"/>
<path class="h" d="M1495 1707l-2-119"/>
<path class="n" d="M1484 1601l9-13"/>
<path class="w" d="M1478 1764l8-42-2-121-8 143z"/>
<path class="g" d="M1486 1722l-2-121"/>
<path class="e" d="M1476 1744l8-143"/>
<path class="w" d="M1253 1778l9-34-2 50-9-155z"/>
<path class="g" d="M1262 1744l-2 50"/>
<path class="n" d="M1251 1639l9 155"/>
<path class="w" d="M1244 1662l9 116-2-139-8 141z"/>
<path class="e" d="M1253 1778l-2-139"/>
<path class="d" d="M1243 1780l8-141"/>
<path class="w" d="M1219 1778l8-104-2 1-8-24z"/>
<path class="l" d="M1227 1674l-2 1"/>
<path class="m" d="M1217 1651l8 24"/>
<path class="w" d="M1210 1781l9-3-2-127-9-16z"/>
<path class="e" d="M1219 1778l-2-127"/>
<path class="n" d="M1208 1635l9 16"/>
<path class="e" d="M1210 1781l-2-146"/>
<path class="w" d="M1695 1653l9-39-2 16-9-19z"/>
<path class="l" d="M1704 1614l-2 16-9-19"/>
<path class="w" d="M1557 1705l9-53-2 12-9-81z"/>
<path class="k" d="M1566 1652l-2 12"/>
<path class="o" d="M1555 1583l9 81"/>
<path class="w" d="M1549 1716l8-11-2-122-8 161z"/>
<path class="g" d="M1557 1705l-2-122"/>
<path class="e" d="M1547 1744l8-161"/>
<path class="w" d="M1523 1652l8 53-2-15-8-111z"/>
<path class="h" d="M1531 1705l-2-15"/>
<path class="p" d="M1521 1579l8 111"/>
<path class="w" d="M1514 1595l9 57-2-73-9 104z"/>
<path class="k" d="M1523 1652l-2-73"/>
<path class="i" d="M1512 1683l9-104"/>
<path class="w" d="M1393 1736l9-23-2-35-9 4z"/>
<path class="h" d="M1402 1713l-2-35"/>
<path class="j" d="M1391 1682l9-4"/>
<path class="w" d="M1367 1710l9 42-2-93-9-82z"/>
<path class="f" d="M1376 1752l-2-93"/>
<path class="q" d="M1365 1577l9 82"/>
<path class="w" d="M1359 1724l8-14-2-133-8 167z"/>
<path class="h" d="M1367 1710l-2-133"/>
<path class="f" d="M1357 1744l8-167"/>
<path class="w" d="M1341 1663l9-40-2 63-9-76z"/>
<path class="n" d="M1350 1623l-2 63"/>
<path class="o" d="M1339 1610l9 76"/>
<path class="w" d="M1333 1703l8-40-2-53-8 42z"/>
<path class="l" d="M1341 1663l-2-53-8 42"/>
<path class="w" d="M1238 1782l8-56-2-64-8 32z"/>
<path class="h" d="M1246 1726l-2-64"/>
<path class="j" d="M1236 1694l8-32"/>
<path class="w" d="M1212 1654l8 83-1 41-9 3z"/>
<path class="h" d="M1220 1737l-1 41"/>
<path class="e" d="M1210 1781l9-3"/>
<path class="m" d="M1212 1654l-2 127"/>
<path class="w" d="M1715 1592l8 18-2 97-8-166z"/>
<path class="m" d="M1723 1610l-2 97"/>
<path class="q" d="M1713 1541l8 166"/>
<path class="w" d="M1706 1702l9-110-2-51-9 73z"/>
<path class="n" d="M1715 1592l-2-51"/>
<path class="l" d="M1704 1614l9-73"/>
<path class="w" d="M1697 1662l9 40-2-88-9 39z"/>
<path class="g" d="M1706 1702l-2-88"/>
<path class="j" d="M1695 1653l9-39"/>
<path class="w" d="M1671 1679l9 13-2-111-9 114z"/>
<path class="h" d="M1680 1692l-2-111"/>
<path class="g" d="M1669 1695l9-114"/>
<path class="w" d="M1637 1653l8 1-1 36-9-93z"/>
<path class="j" d="M1645 1654l-1 36"/>
<path class="n" d="M1635 1597l9 93"/>
<path class="w" d="M1602 1657l9 100-2-42-9-133z"/>
<path class="d" d="M1611 1757l-2-42"/>
<path class="o" d="M1600 1582l9 133"/>
<path class="w" d="M1594 1649l8 8-2-75-8 105z"/>
<path class="j" d="M1602 1657l-2-75"/>
<path class="h" d="M1592 1687l8-105"/>
<path class="w" d="M1585 1695l9-46-2 38-9-61z"/>
<path class="k" d="M1594 1649l-2 38"/>
<path class="l" d="M1583 1626l9 61"/>
<path class="w" d="M1576 1632l9 63-2-69-8 57z"/>
<path class="h" d="M1585 1695l-2-69"/>
<path class="i" d="M1575 1683l8-57"/>
<path class="w" d="M1516 1698l9-6-2-40-9-57z"/>
<path class="i" d="M1525 1692l-2-40"/>
<path class="o" d="M1514 1595l9 57"/>
<path class="w" d="M1507 1727l9-29-2-103-9 46z"/>
<path class="h" d="M1516 1698l-2-103"/>
<path class="l" d="M1505 1641l9-46"/>
<path class="w" d="M1499 1666l8 61-2-86-8-28z"/>
<path class="f" d="M1507 1727l-2-86"/>
<path class="n" d="M1497 1613l8 28"/>
<path class="w" d="M1490 1744l9-78-2-53-9 34z"/>
<path class="k" d="M1499 1666l-2-53"/>
<path class="l" d="M1488 1647l9-34"/>
<path class="w" d="M1481 1700l9 44-2-97-8 10z"/>
<path class="f" d="M1490 1744l-2-97"/>
<path class="k" d="M1480 1657l8-10"/>
<path class="w" d="M1447 1717l9-32-2-67-9 29z"/>
<path class="j" d="M1456 1685l-2-67"/>
<path class="l" d="M1445 1647l9-29"/>
<path class="w" d="M1343 1668l9-38-2-7-9 40z"/>
<path class="n" d="M1352 1630l-2-7"/>
<path class="l" d="M1341 1663l9-40"/>
<path class="w" d="M1291 1721l9-70-2-22-8-20z"/>
<path class="m" d="M1300 1651l-2-22"/>
<path class="p" d="M1290 1609l8 20"/>
<path class="w" d="M1283 1780l8-59-1-112-9 18z"/>
<path class="h" d="M1291 1721l-1-112"/>
<path class="n" d="M1281 1627l9-18"/>
<path class="w" d="M1274 1720l9 60-2-153-9 156z"/>
<path class="e" d="M1283 1780l-2-153"/>
<path class="d" d="M1272 1783l9-156"/>
<path class="w" d="M1214 1760l8-59-2 36-8-83z"/>
<path class="j" d="M1222 1701l-2 36"/>
<path class="m" d="M1212 1654l8 83"/>
<path class="f" d="M1214 1760l-2-106"/>
<path class="w" d="M1751 1655l9 27-2-86-9-56z"/>
<path class="h" d="M1760 1682l-2-86"/>
<path class="q" d="M1749 1540l9 56"/>
<path class="w" d="M1742 1611l9 44-2-115-9 14z"/>
<path class="j" d="M1751 1655l-2-115"/>
<path class="p" d="M1740 1554l9-14"/>
<path class="w" d="M1734 1731l8-120-2-57-8 122z"/>
<path class="m" d="M1742 1611l-2-57"/>
<path class="h" d="M1732 1676l8-122"/>
<path class="w" d="M1716 1677l9-44-2-23-8-18z"/>
<path class="k" d="M1725 1633l-2-23"/>
<path class="n" d="M1715 1592l8 18"/>
<path class="w" d="M1708 1584l8 93-1-85-9 110z"/>
<path class="h" d="M1716 1677l-1-85"/>
<path class="g" d="M1706 1702l9-110"/>
<path class="w" d="M1354 1732l8-48-1 45-9-99z"/>
<path class="j" d="M1362 1684l-1 45"/>
<path class="n" d="M1352 1630l9 99"/>
<path class="w" d="M1345 1689l9 43-2-102-9 38z"/>
<path class="g" d="M1354 1732l-2-102"/>
<path class="k" d="M1343 1668l9-38"/>
<path class="w" d="M1224 1729l9-128-2 46-9 54z"/>
<path class="q" d="M1233 1601l-2 46"/>
<path class="j" d="M1222 1701l9-54"/>
<path class="w" d="M1216 1686l8 43-2-28-8 59z"/>
<path class="h" d="M1224 1729l-2-28"/>
<path class="f" d="M1214 1760l8-59"/>
<path class="k" d="M1216 1686l-2 74"/>
<path class="w" d="M1710 1695l8-21-2 3-8-93z"/>
<path class="i" d="M1718 1674l-2 3"/>
<path class="o" d="M1708 1584l8 93"/>
<path class="w" d="M1701 1702l9-7-2-111-9 109z"/>
<path class="g" d="M1710 1695l-2-111"/>
<path class="h" d="M1699 1693l9-109"/>
<path class="w" d="M1684 1711l8-41-1-72-9 43z"/>
<path class="i" d="M1692 1670l-1-72"/>
<path class="k" d="M1682 1641l9-43"/>
<path class="w" d="M1641 1742l8-65-2-63-8 38z"/>
<path class="i" d="M1649 1677l-2-63"/>
<path class="k" d="M1639 1652l8-38"/>
<path class="w" d="M1597 1633l9 44-2 32-8-117z"/>
<path class="i" d="M1606 1677l-2 32"/>
<path class="o" d="M1596 1592l8 117"/>
<path class="w" d="M1589 1690l8-57-1-41-9 56z"/>
<path class="l" d="M1597 1633l-1-41"/>
<path class="k" d="M1587 1648l9-56"/>
<path class="w" d="M1554 1687l9 36-2-95-9-16z"/>
<path class="g" d="M1563 1723l-2-95"/>
<path class="n" d="M1552 1612l9 16"/>
<path class="w" d="M1546 1701l8-14-2-75-8 19z"/>
<path class="i" d="M1554 1687l-2-75"/>
<path class="m" d="M1544 1631l8-19"/>
<path class="w" d="M1494 1743l9-148-2 38-9-2z"/>
<path class="o" d="M1503 1595l-2 38"/>
<path class="m" d="M1492 1631l9 2"/>
<path class="w" d="M1321 1675l9 113-2-146-9-35z"/>
<path class="d" d="M1330 1788l-2-146"/>
<path class="p" d="M1319 1607l9 35"/>
<path class="w" d="M1313 1717l8-42-2-68-8 125z"/>
<path class="k" d="M1321 1675l-2-68"/>
<path class="h" d="M1311 1732l8-125"/>
<path class="w" d="M1278 1749l9-37-2 4-9-76z"/>
<path class="i" d="M1287 1712l-2 4"/>
<path class="n" d="M1276 1640l9 76"/>
<path class="w" d="M1269 1713l9 36-2-109-9 79z"/>
<path class="g" d="M1278 1749l-2-109"/>
<path class="i" d="M1267 1719l9-79"/>
<path class="w" d="M1243 1736l9-23-2-59-8 142z"/>
<path class="i" d="M1252 1713l-2-59"/>
<path class="d" d="M1242 1796l8-142"/>
<path class="w" d="M1235 1768l8-32-1 60-9-195z"/>
<path class="h" d="M1243 1736l-1 60"/>
<path class="q" d="M1233 1601l9 195"/>
<path class="w" d="M1226 1647l9 121-2-167-9 128z"/>
<path class="f" d="M1235 1768l-2-167"/>
<path class="h" d="M1224 1729l9-128"/>
<path class="w" d="M1218 1811l8-164-2 82-8-43z"/>
<path class="n" d="M1226 1647l-2 82"/>
<path class="k" d="M1216 1686l8 43"/>
<path class="c" d="M1218 1811l-2-125"/>
<path class="w" d="M1660 1598l8 76-1-55-9 1z"/>
<path class="i" d="M1668 1674l-1-55"/>
<path class="m" d="M1658 1620l9-1"/>
<path class="w" d="M1634 1642l9 64-2 36-9-188z"/>
<path class="g" d="M1643 1706l-2 36"/>
<path class="q" d="M1632 1554l9 188"/>
<path class="w" d="M1625 1712l9-70-2-88-9 141z"/>
<path class="l" d="M1634 1642l-2-88"/>
<path class="h" d="M1623 1695l9-141"/>
<path class="w" d="M1582 1675l9-45-2 60-9-61z"/>
<path class="m" d="M1591 1630l-2 60-9-61"/>
<path class="w" d="M1573 1678l9-3-2-46-8-16z"/>
<path class="j" d="M1582 1675l-2-46"/>
<path class="n" d="M1572 1613l8 16"/>
<path class="w" d="M1565 1660l8 18-1-65-9 110z"/>
<path class="j" d="M1573 1678l-1-65"/>
<path class="g" d="M1563 1723l9-110"/>
<path class="w" d="M1504 1699l9-51-2-13-8-40z"/>
<path class="l" d="M1513 1648l-2-13"/>
<path class="o" d="M1503 1595l8 40"/>
<path class="w" d="M1496 1776l8-77-1-104-9 148z"/>
<path class="i" d="M1504 1699l-1-104"/>
<path class="f" d="M1494 1743l9-148"/>
<path class="w" d="M1444 1707l9-28-2-19-9-39z"/>
<path class="j" d="M1453 1679l-2-19"/>
<path class="n" d="M1442 1621l9 39"/>
<path class="w" d="M1435 1649l9 58-2-86-9 100z"/>
<path class="i" d="M1444 1707l-2-86"/>
<path class="h" d="M1433 1721l9-100"/>
<path class="w" d="M1366 1824l9-121-2-44-9-44z"/>
<path class="i" d="M1375 1703l-2-44"/>
<path class="o" d="M1364 1615l9 44"/>
<path class="w" d="M1358 1700l8 124-2-209-8 101z"/>
<path class="b" d="M1366 1824l-2-209"/>
<path class="i" d="M1356 1716l8-101"/>
<path class="w" d="M1306 1711l8 7-1-1-9-128z"/>
<path class="i" d="M1314 1718l-1-1"/>
<path class="q" d="M1304 1589l9 128"/>
<path class="w" d="M1297 1759l9-48-2-122-9 22z"/>
<path class="i" d="M1306 1711l-2-122"/>
<path class="p" d="M1295 1611l9-22"/>
<path class="w" d="M1289 1749l8 10-2-148-8 101z"/>
<path class="f" d="M1297 1759l-2-148"/>
<path class="i" d="M1287 1712l8-101"/>
<path class="w" d="M1228 1754l9-95-2 109-9-121z"/>
<path class="m" d="M1237 1659l-2 109"/>
<path class="n" d="M1226 1647l9 121"/>
<path class="w" d="M1219 1748l9 6-2-107-8 164z"/>
<path class="g" d="M1228 1754l-2-107"/>
<path class="c" d="M1218 1811l8-164"/>
<path class="h" d="M1219 1748l-1 63"/>
<path class="w" d="M1662 1703l8-66-2 37-8-76z"/>
<path class="l" d="M1670 1637l-2 37"/>
<path class="n" d="M1660 1598l8 76"/>
<path class="w" d="M1653 1665l9 38-2-105-9 127z"/>
<path class="h" d="M1662 1703l-2-105"/>
<path class="f" d="M1651 1725l9-127"/>
<path class="w" d="M1610 1668l9 9-2-49-9 115z"/>
<path class="j" d="M1619 1677l-2-49"/>
<path class="e" d="M1608 1743l9-115"/>
<path class="w" d="M1394 1717l9 30-2-40-9-51z"/>
<path class="f" d="M1403 1747l-2-40"/>
<path class="l" d="M1392 1656l9 51"/>
<path class="w" d="M1368 1753l9-98-2 48-9 121z"/>
<path class="m" d="M1377 1655l-2 48"/>
<path class="b" d="M1366 1824l9-121"/>
<path class="w" d="M1360 1687l8 66-2 71-8-124z"/>
<path class="f" d="M1368 1753l-2 71"/>
<path class="j" d="M1358 1700l8 124"/>
<path class="w" d="M1273 1682l9 60-2-1-9-92z"/>
<path class="h" d="M1282 1742l-2-1"/>
<path class="n" d="M1271 1649l9 92"/>
<path class="w" d="M1265 1664l8 18-2-33-8 17z"/>
<path class="l" d="M1273 1682l-2-33"/>
<path class="m" d="M1263 1666l8-17"/>
<path class="w" d="M1256 1682l9-18-2 2-9-14z"/>
<path class="m" d="M1265 1664l-2 2"/>
<path class="n" d="M1254 1652l9 14"/>
<path class="w" d="M1247 1678l9 4-2-30-9 21z"/>
<path class="l" d="M1256 1682l-2-30-9 21"/>
<path class="w" d="M1239 1761l8-83-2-5-8-14z"/>
<path class="l" d="M1247 1678l-2-5"/>
<path class="m" d="M1237 1659l8 14"/>
<path class="w" d="M1230 1794l9-33-2-102-9 95z"/>
<path class="g" d="M1239 1761l-2-102-9 95"/>
<path class="w" d="M1221 1799l9-5-2-40-9-6z"/>
<path class="e" d="M1230 1794l-2-40"/>
<path class="h" d="M1219 1748l9 6"/>
<path class="d" d="M1221 1799l-2-51"/>
<path class="w" d="M1750 1635l9-43-2 21-9-63z"/>
<path class="n" d="M1759 1592l-2 21"/>
<path class="q" d="M1748 1550l9 63"/>
<path class="w" d="M1741 1678l9-43-2-85-9 58z"/>
<path class="l" d="M1750 1635l-2-85"/>
<path class="m" d="M1739 1608l9-58"/>
<path class="w" d="M1681 1603l9 113-2-100-9 145z"/>
<path class="g" d="M1690 1716l-2-100"/>
<path class="d" d="M1679 1761l9-145"/>
<path class="w" d="M1629 1715l9-18-2-13-9-101z"/>
<path class="h" d="M1638 1697l-2-13"/>
<path class="p" d="M1627 1583l9 101"/>
<path class="w" d="M1620 1727l9-12-2-132-8 94z"/>
<path class="g" d="M1629 1715l-2-132"/>
<path class="j" d="M1619 1677l8-94"/>
<path class="w" d="M1560 1628l9-6-2-30-9 82z"/>
<path class="n" d="M1569 1622l-2-30"/>
<path class="j" d="M1558 1674l9-82"/>
<path class="w" d="M1543 1706l8-58-2-10-8 82z"/>
<path class="l" d="M1551 1648l-2-10"/>
<path class="g" d="M1541 1720l8-82"/>
<path class="w" d="M1258 1733l8-66-1-3-9 18z"/>
<path class="m" d="M1266 1667l-1-3"/>
<path class="l" d="M1256 1682l9-18"/>
<path class="w" d="M1232 1770l9-77-2 68-9 33z"/>
<path class="k" d="M1241 1693l-2 68"/>
<path class="e" d="M1230 1794l9-33"/>
<path class="w" d="M1223 1733l9 37-2 24-9 5z"/>
<path class="f" d="M1232 1770l-2 24"/>
<path class="d" d="M1221 1799l9-5"/>
<path class="i" d="M1223 1733l-2 66"/>
<path class="w" d="M1761 1676l8-23-2-34-8-27z"/>
<path class="j" d="M1769 1653l-2-34"/>
<path class="n" d="M1759 1592l8 27"/>
<path class="w" d="M1752 1707l9-31-2-84-9 43z"/>
<path class="i" d="M1761 1676l-2-84"/>
<path class="l" d="M1750 1635l9-43"/>
<path class="w" d="M1700 1675l9 31-2-91-9 63z"/>
<path class="g" d="M1709 1706l-2-91"/>
<path class="i" d="M1698 1678l9-63"/>
<path class="w" d="M1571 1673l8 3-2 4-8-58z"/>
<path class="j" d="M1579 1676l-2 4"/>
<path class="n" d="M1569 1622l8 58"/>
<path class="w" d="M1562 1607l9 66-2-51-9 6z"/>
<path class="j" d="M1571 1673l-2-51"/>
<path class="m" d="M1560 1628l9-6"/>
<path class="w" d="M1553 1726l9-119-2 21-9 20z"/>
<path class="o" d="M1562 1607l-2 21"/>
<path class="l" d="M1551 1648l9-20"/>
<path class="w" d="M1545 1622l8 104-2-78-8 58z"/>
<path class="g" d="M1553 1726l-2-78"/>
<path class="h" d="M1543 1706l8-58"/>
<path class="w" d="M1458 1651l9-63-2 200-9-69z"/>
<path class="q" d="M1467 1588l-2 200"/>
<path class="h" d="M1456 1719l9 69"/>
<path class="w" d="M1277 1697l9 23-2-62-9 45z"/>
<path class="i" d="M1286 1720l-2-62"/>
<path class="j" d="M1275 1703l9-45"/>
<path class="w" d="M1251 1679l9 39-2 15-9 93z"/>
<path class="j" d="M1260 1718l-2 15"/>
<path class="c" d="M1249 1826l9-93"/>
<path class="w" d="M1242 1730l9-51-2 147-8-133z"/>
<path class="l" d="M1251 1679l-2 147"/>
<path class="k" d="M1241 1693l8 133"/>
<path class="w" d="M1225 1741l9 26-2 3-9-37z"/>
<path class="g" d="M1234 1767l-2 3"/>
<path class="i" d="M1223 1733l9 37"/>
<path class="h" d="M1225 1741l-2-8"/>
<path class="w" d="M1685 1631l8 61-2-73-8 1z"/>
<path class="h" d="M1693 1692l-2-73"/>
<path class="m" d="M1683 1620l8-1"/>
<path class="w" d="M1659 1695l8-14-1-60-9 16z"/>
<path class="i" d="M1667 1681l-1-60"/>
<path class="l" d="M1657 1637l9-16"/>
<path class="w" d="M1598 1643l9-69-2 5-9 119z"/>
<path class="q" d="M1607 1574l-2 5"/>
<path class="i" d="M1596 1698l9-119"/>
<path class="w" d="M1581 1696l9-42-2-39-9 61z"/>
<path class="l" d="M1590 1654l-2-39"/>
<path class="j" d="M1579 1676l9-61"/>
<path class="w" d="M1555 1640l9 1-2-34-9 119z"/>
<path class="m" d="M1564 1641l-2-34"/>
<path class="g" d="M1553 1726l9-119"/>
<path class="w" d="M1547 1681l8-41-2 86-8-104z"/>
<path class="m" d="M1555 1640l-2 86"/>
<path class="n" d="M1545 1622l8 104"/>
<path class="w" d="M1538 1687l9-6-2-59-9 180z"/>
<path class="j" d="M1547 1681l-2-59"/>
<path class="b" d="M1536 1802l9-180"/>
<path class="w" d="M1521 1653l8 8-2-36-8 31z"/>
<path class="l" d="M1529 1661l-2-36-8 31"/>
<path class="w" d="M1477 1664l9 3-2 36-8-113z"/>
<path class="l" d="M1486 1667l-2 36"/>
<path class="p" d="M1476 1590l8 113"/>
<path class="w" d="M1469 1656l8 8-1-74-9-2z"/>
<path class="l" d="M1477 1664l-1-74"/>
<path class="q" d="M1467 1588l9 2"/>
<path class="w" d="M1460 1599l9 57-2-68-9 63z"/>
<path class="l" d="M1469 1656l-2-68"/>
<path class="m" d="M1458 1651l9-63"/>
<path class="w" d="M1417 1746l9 11-2-106-9 33z"/>
<path class="f" d="M1426 1757l-2-106"/>
<path class="k" d="M1415 1684l9-33"/>
<path class="w" d="M1227 1698l9 10-2 59-9-26z"/>
<path class="k" d="M1236 1708l-2 59"/>
<path class="h" d="M1225 1741l9 26"/>
<path class="k" d="M1227 1698l-2 43"/>
<path class="w" d="M1687 1699l8-33-2 26-8-61z"/>
<path class="j" d="M1695 1666l-2 26"/>
<path class="m" d="M1685 1631l8 61"/>
<path class="w" d="M1652 1655l9 51-2-11-9-132z"/>
<path class="h" d="M1661 1706l-2-11"/>
<path class="q" d="M1650 1563l9 132"/>
<path class="w" d="M1643 1635l9 20-2-92-8 136z"/>
<path class="k" d="M1652 1655l-2-92"/>
<path class="h" d="M1642 1699l8-136"/>
<path class="w" d="M1609 1618l9 130-2-24-9-150z"/>
<path class="f" d="M1618 1748l-2-24"/>
<path class="q" d="M1607 1574l9 150"/>
<path class="w" d="M1600 1609l9 9-2-44-9 69z"/>
<path class="n" d="M1609 1618l-2-44"/>
<path class="l" d="M1598 1643l9-69"/>
<path class="w" d="M1557 1748l9-134-2 27-9-1z"/>
<path class="o" d="M1566 1614l-2 27"/>
<path class="m" d="M1555 1640l9 1"/>
<path class="w" d="M1548 1699l9 49-2-108-8 41z"/>
<path class="f" d="M1557 1748l-2-108"/>
<path class="j" d="M1547 1681l8-41"/>
<path class="w" d="M1523 1767l8-43-2-63-8-8z"/>
<path class="h" d="M1531 1724l-2-63"/>
<path class="l" d="M1521 1653l8 8"/>
<path class="w" d="M1462 1782l9-26-2-100-9-57z"/>
<path class="f" d="M1471 1756l-2-100"/>
<path class="p" d="M1460 1599l9 57"/>
<path class="w" d="M1453 1709l9 73-2-183-8 25z"/>
<path class="d" d="M1462 1782l-2-183"/>
<path class="o" d="M1452 1624l8-25"/>
<path class="w" d="M1445 1639l8 70-1-85-9 66z"/>
<path class="i" d="M1453 1709l-1-85"/>
<path class="j" d="M1443 1690l9-66"/>
<path class="w" d="M1393 1716l9 33-2-65-9 18z"/>
<path class="g" d="M1402 1749l-2-65"/>
<path class="j" d="M1391 1702l9-18"/>
<path class="w" d="M1333 1697l8-23-2-26-8 68z"/>
<path class="l" d="M1341 1674l-2-26"/>
<path class="i" d="M1331 1716l8-68"/>
<path class="w" d="M1315 1744l9 29-2-124-9 73z"/>
<path class="f" d="M1324 1773l-2-124"/>
<path class="i" d="M1313 1722l9-73"/>
<path class="w" d="M1272 1705l9 72-2-87-9-5z"/>
<path class="f" d="M1281 1777l-2-87"/>
<path class="l" d="M1270 1685l9 5"/>
<path class="w" d="M1229 1654l9 195-2-141-9-10z"/>
<path class="b" d="M1238 1849l-2-141"/>
<path class="k" d="M1227 1698l9 10"/>
<path class="n" d="M1229 1654l-2 44"/>
<path class="w" d="M1732 1742l8-156-2 68-8-111z"/>
<path class="o" d="M1740 1586l-2 68"/>
<path class="r" d="M1730 1543l8 111"/>
<path class="w" d="M1723 1651l9 91-2-199-9 123z"/>
<path class="e" d="M1732 1742l-2-199"/>
<path class="j" d="M1721 1666l9-123"/>
<path class="w" d="M1663 1635l8 79-2-99-8 91z"/>
<path class="h" d="M1671 1714l-2-99-8 91"/>
<path class="w" d="M1645 1637l9 102-2-84-9-20z"/>
<path class="f" d="M1654 1739l-2-84"/>
<path class="m" d="M1643 1635l9 20"/>
<path class="w" d="M1637 1695l8-58-2-2-8 10z"/>
<path class="m" d="M1645 1637l-2-2"/>
<path class="l" d="M1635 1645l8-10"/>
<path class="w" d="M1628 1676l9 19-2-50-9 21z"/>
<path class="i" d="M1637 1695l-2-50"/>
<path class="k" d="M1626 1666l9-21"/>
<path class="w" d="M1611 1717l8-89-1 120-9-130z"/>
<path class="m" d="M1619 1628l-1 120"/>
<path class="n" d="M1609 1618l9 130"/>
<path class="w" d="M1602 1675l9 42-2-99-9-9z"/>
<path class="h" d="M1611 1717l-2-99"/>
<path class="o" d="M1600 1609l9 9"/>
<path class="w" d="M1594 1739l8-64-2-66-8 51z"/>
<path class="k" d="M1602 1675l-2-66-8 51"/>
<path class="w" d="M1576 1701l9 29-2-84-9 128z"/>
<path class="g" d="M1585 1730l-2-84"/>
<path class="d" d="M1574 1774l9-128"/>
<path class="w" d="M1464 1702l9-60-2 114-9 26z"/>
<path class="n" d="M1473 1642l-2 114"/>
<path class="d" d="M1462 1782l9-26"/>
<path class="w" d="M1455 1732l9-30-2 80-9-73z"/>
<path class="j" d="M1464 1702l-2 80"/>
<path class="i" d="M1453 1709l9 73"/>
<path class="w" d="M1447 1712l8 20-2-23-8-70z"/>
<path class="h" d="M1455 1732l-2-23"/>
<path class="n" d="M1445 1639l8 70"/>
<path class="w" d="M1438 1779l9-67-2-73-9 70z"/>
<path class="i" d="M1447 1712l-2-73-9 70"/>
<path class="w" d="M1412 1665l9-4-2 121-9-196z"/>
<path class="m" d="M1421 1661l-2 121"/>
<path class="q" d="M1410 1586l9 196"/>
<path class="w" d="M1404 1693l8-28-2-79-8 163z"/>
<path class="l" d="M1412 1665l-2-79"/>
<path class="g" d="M1402 1749l8-163"/>
<path class="w" d="M1248 1767l9-49-2-5-9-95z"/>
<path class="j" d="M1257 1718l-2-5"/>
<path class="q" d="M1246 1618l9 95"/>
<path class="w" d="M1240 1776l8-9-2-149-8 231z"/>
<path class="g" d="M1248 1767l-2-149"/>
<path class="b" d="M1238 1849l8-231"/>
<path class="w" d="M1231 1632l9 144-2 73-9-195z"/>
<path class="f" d="M1240 1776l-2 73"/>
<path class="n" d="M1229 1654l9 195"/>
<path class="p" d="M1231 1632l-2 22"/>
<path class="w" d="M1742 1634l9 82-2-43-9-87z"/>
<path class="g" d="M1751 1716l-2-43"/>
<path class="o" d="M1740 1586l9 87"/>
<path class="w" d="M1734 1705l8-71-2-48-8 156z"/>
<path class="l" d="M1742 1634l-2-48"/>
<path class="e" d="M1732 1742l8-156"/>
<path class="w" d="M1647 1739l9-112-2 112-9-102z"/>
<path class="m" d="M1656 1627l-2 112-9-102"/>
<path class="w" d="M1639 1714l8 25-2-102-8 58z"/>
<path class="f" d="M1647 1739l-2-102"/>
<path class="i" d="M1637 1695l8-58"/>
<path class="w" d="M1621 1692l9 84-2-100-9-48z"/>
<path class="d" d="M1630 1776l-2-100"/>
<path class="m" d="M1619 1628l9 48"/>
<path class="w" d="M1613 1609l8 83-2-64-8 89z"/>
<path class="i" d="M1621 1692l-2-64"/>
<path class="h" d="M1611 1717l8-89"/>
<path class="w" d="M1518 1786l8-48-2-43-8-58z"/>
<path class="g" d="M1526 1738l-2-43"/>
<path class="n" d="M1516 1637l8 58"/>
<path class="w" d="M1475 1740l8-61-2-18-8-19z"/>
<path class="k" d="M1483 1679l-2-18"/>
<path class="n" d="M1473 1642l8 19"/>
<path class="w" d="M1466 1667l9 73-2-98-9 60z"/>
<path class="g" d="M1475 1740l-2-98"/>
<path class="j" d="M1464 1702l9-60"/>
<path class="w" d="M1414 1727l9-6-2-60-9 4z"/>
<path class="i" d="M1423 1721l-2-60"/>
<path class="l" d="M1412 1665l9-4"/>
<path class="w" d="M1388 1769l9 38-2-63-9-154z"/>
<path class="d" d="M1397 1807l-2-63"/>
<path class="r" d="M1386 1590l9 154"/>
<path class="w" d="M1380 1726l8 43-2-179-8 56z"/>
<path class="f" d="M1388 1769l-2-179"/>
<path class="n" d="M1378 1646l8-56"/>
<path class="w" d="M1371 1689l9 37-2-80-9-5z"/>
<path class="i" d="M1380 1726l-2-80"/>
<path class="n" d="M1369 1641l9 5"/>
<path class="w" d="M1362 1766l9-77-2-48-9 32z"/>
<path class="k" d="M1371 1689l-2-48"/>
<path class="l" d="M1360 1673l9-32"/>
<path class="w" d="M1345 1675l9 68-2-75-9-66z"/>
<path class="h" d="M1354 1743l-2-75"/>
<path class="q" d="M1343 1602l9 66"/>
<path class="w" d="M1336 1722l9-47-2-73-8 114z"/>
<path class="l" d="M1345 1675l-2-73"/>
<path class="j" d="M1335 1716l8-114"/>
<path class="w" d="M1311 1706l8 59-2-59-8-82z"/>
<path class="g" d="M1319 1765l-2-59"/>
<path class="p" d="M1309 1624l8 82"/>
<path class="w" d="M1302 1811l9-105-2-82-9 35z"/>
<path class="k" d="M1311 1706l-2-82"/>
<path class="n" d="M1300 1659l9-35"/>
<path class="w" d="M1293 1846l9-35-2-152-9 12z"/>
<path class="d" d="M1302 1811l-2-152"/>
<path class="m" d="M1291 1671l9-12"/>
<path class="w" d="M1233 1663l8 18-1 95-9-144z"/>
<path class="m" d="M1241 1681l-1 95"/>
<path class="p" d="M1231 1632l9 144"/>
<path class="n" d="M1233 1663l-2-31"/>
<path class="w" d="M1770 1633l9 50-2-97-9 130z"/>
<path class="i" d="M1779 1683l-2-97"/>
<path class="g" d="M1768 1716l9-130"/>
<path class="w" d="M1727 1686l9-38-2 57-9 97z"/>
<path class="l" d="M1736 1648l-2 57"/>
<path class="b" d="M1725 1802l9-97"/>
<path class="w" d="M1718 1647l9 39-2 116-9-144z"/>
<path class="i" d="M1727 1686l-2 116"/>
<path class="k" d="M1716 1658l9 144"/>
<path class="w" d="M1684 1663l8 25-2 24-8-137z"/>
<path class="i" d="M1692 1688l-2 24"/>
<path class="q" d="M1682 1575l8 137"/>
<path class="w" d="M1675 1672l9-9-2-88-9 33z"/>
<path class="k" d="M1684 1663l-2-88"/>
<path class="o" d="M1673 1608l9-33"/>
<path class="w" d="M1666 1653l9 19-2-64-8 24z"/>
<path class="k" d="M1675 1672l-2-64"/>
<path class="m" d="M1665 1632l8-24"/>
<path class="w" d="M1658 1630l8 23-1-21-9-5z"/>
<path class="l" d="M1666 1653l-1-21"/>
<path class="m" d="M1656 1627l9 5"/>
<path class="w" d="M1615 1675l8 0-2 17-8-83z"/>
<path class="k" d="M1623 1675l-2 17"/>
<path class="o" d="M1613 1609l8 83"/>
<path class="w" d="M1606 1665l9 10-2-66-9 133z"/>
<path class="k" d="M1615 1675l-2-66"/>
<path class="f" d="M1604 1742l9-133"/>
<path class="w" d="M1554 1712l9-76-2-18-9 86z"/>
<path class="n" d="M1563 1636l-2-18"/>
<path class="i" d="M1552 1704l9-86"/>
<path class="w" d="M1468 1718l8-26-1 48-9-73z"/>
<path class="k" d="M1476 1692l-1 48"/>
<path class="l" d="M1466 1667l9 73"/>
<path class="w" d="M1459 1697l9 21-2-51-9 23z"/>
<path class="i" d="M1468 1718l-2-51"/>
<path class="k" d="M1457 1690l9-23"/>
<path class="w" d="M1407 1805l9-109-2 31-9-151z"/>
<path class="k" d="M1416 1696l-2 31"/>
<path class="r" d="M1405 1576l9 151"/>
<path class="w" d="M1399 1727l8 78-2-229-8 231z"/>
<path class="d" d="M1407 1805l-2-229-8 231"/>
<path class="w" d="M1295 1752l9-18-2 77-9 35z"/>
<path class="i" d="M1304 1734l-2 77"/>
<path class="b" d="M1293 1846l9-35"/>
<path class="w" d="M1287 1658l8 94-2 94-8-162z"/>
<path class="h" d="M1295 1752l-2 94"/>
<path class="l" d="M1285 1684l8 162"/>
<path class="w" d="M1243 1777l9-10-2-87-9 1z"/>
<path class="g" d="M1252 1767l-2-87"/>
<path class="m" d="M1241 1681l9-1"/>
<path class="w" d="M1235 1798l8-21-2-96-8-18z"/>
<path class="g" d="M1243 1777l-2-96"/>
<path class="n" d="M1233 1663l8 18"/>
<path class="e" d="M1235 1798l-2-135"/>
<path class="w" d="M1746 1646l9-43-2 15-9-4z"/>
<path class="o" d="M1755 1603l-2 15"/>
<path class="n" d="M1744 1614l9 4"/>
<path class="w" d="M1737 1593l9 53-2-32-8 34z"/>
<path class="l" d="M1746 1646l-2-32-8 34"/>
<path class="w" d="M1712 1760l8-83-2-30-8-50z"/>
<path class="j" d="M1720 1677l-2-30"/>
<path class="o" d="M1710 1597l8 50"/>
<path class="w" d="M1703 1695l9 65-2-163-9 139z"/>
<path class="e" d="M1712 1760l-2-163"/>
<path class="f" d="M1701 1736l9-139"/>
<path class="w" d="M1677 1693l9-7-2-23-9 9z"/>
<path class="j" d="M1686 1686l-2-23"/>
<path class="k" d="M1675 1672l9-9"/>
<path class="w" d="M1608 1716l9-61-2 20-9-10z"/>
<path class="l" d="M1617 1655l-2 20"/>
<path class="k" d="M1606 1665l9 10"/>
<path class="w" d="M1599 1671l9 45-2-51-9-9z"/>
<path class="h" d="M1608 1716l-2-51"/>
<path class="l" d="M1597 1656l9 9"/>
<path class="w" d="M1591 1716l8-45-2-15-8-63z"/>
<path class="k" d="M1599 1671l-2-15"/>
<path class="p" d="M1589 1593l8 63"/>
<path class="w" d="M1582 1734l9-18-2-123-9 186z"/>
<path class="h" d="M1591 1716l-2-123"/>
<path class="d" d="M1580 1779l9-186"/>
<path class="w" d="M1573 1752l9-18-2 45-9 18z"/>
<path class="g" d="M1582 1734l-2 45"/>
<path class="c" d="M1571 1797l9-18"/>
<path class="w" d="M1513 1657l9 91-2-58-9-115z"/>
<path class="g" d="M1522 1748l-2-58"/>
<path class="r" d="M1511 1575l9 115"/>
<path class="w" d="M1504 1703l9-46-2-82-9 116z"/>
<path class="m" d="M1513 1657l-2-82"/>
<path class="j" d="M1502 1691l9-116"/>
<path class="w" d="M1435 1726l9 82-2-12-9-98z"/>
<path class="c" d="M1444 1808l-2-12"/>
<path class="k" d="M1433 1698l9 98"/>
<path class="w" d="M1401 1680l8 37-2 88-8-78z"/>
<path class="j" d="M1409 1717l-2 88"/>
<path class="i" d="M1399 1727l8 78"/>
<path class="w" d="M1375 1800l8-85-2 92-8-170z"/>
<path class="j" d="M1383 1715l-2 92"/>
<path class="o" d="M1373 1637l8 170"/>
<path class="w" d="M1366 1682l9 118-2-163-9 45z"/>
<path class="d" d="M1375 1800l-2-163"/>
<path class="l" d="M1364 1682l9-45"/>
<path class="w" d="M1349 1695l8-59-1 23-9-16z"/>
<path class="o" d="M1357 1636l-1 23-9-16"/>
<path class="w" d="M1280 1706l8-44-1-4-9 168z"/>
<path class="n" d="M1288 1662l-1-4"/>
<path class="c" d="M1278 1826l9-168"/>
<path class="w" d="M1271 1755l9-49-2 120-9-25z"/>
<path class="k" d="M1280 1706l-2 120"/>
<path class="e" d="M1269 1801l9 25"/>
<path class="w" d="M1237 1717l8 38-2 22-8 21z"/>
<path class="h" d="M1245 1755l-2 22"/>
<path class="e" d="M1235 1798l8-21"/>
<path class="k" d="M1237 1717l-2 81"/>
<path class="w" d="M1757 1673l8-126-2 150-8-94z"/>
<path class="r" d="M1765 1547l-2 150"/>
<path class="o" d="M1755 1603l8 94"/>
<path class="w" d="M1748 1676l9-3-2-70-9 43z"/>
<path class="j" d="M1757 1673l-2-70"/>
<path class="l" d="M1746 1646l9-43"/>
<path class="w" d="M1739 1660l9 16-2-30-9-53z"/>
<path class="j" d="M1748 1676l-2-30"/>
<path class="o" d="M1737 1593l9 53"/>
<path class="w" d="M1731 1569l8 91-2-67-8 144z"/>
<path class="k" d="M1739 1660l-2-67"/>
<path class="f" d="M1729 1737l8-144"/>
<path class="w" d="M1713 1631l9 35-2 11-8 83z"/>
<path class="k" d="M1722 1666l-2 11"/>
<path class="e" d="M1712 1760l8-83"/>
<path class="w" d="M1705 1712l8-81-1 129-9-65z"/>
<path class="m" d="M1713 1631l-1 129"/>
<path class="i" d="M1703 1695l9 65"/>
<path class="w" d="M1696 1709l9 3-2-17-9-117z"/>
<path class="h" d="M1705 1712l-2-17"/>
<path class="q" d="M1694 1578l9 117"/>
<path class="w" d="M1688 1661l8 48-2-131-8 108z"/>
<path class="h" d="M1696 1709l-2-131"/>
<path class="j" d="M1686 1686l8-108"/>
<path class="w" d="M1618 1717l9-2-2-6-8-54z"/>
<path class="h" d="M1627 1715l-2-6"/>
<path class="l" d="M1617 1655l8 54"/>
<path class="w" d="M1610 1758l8-41-1-62-9 61z"/>
<path class="h" d="M1618 1717l-1-62-9 61"/>
<path class="w" d="M1567 1647l8 56-2 49-8-169z"/>
<path class="i" d="M1575 1703l-2 49"/>
<path class="q" d="M1565 1583l8 169"/>
<path class="w" d="M1558 1647l9 0-2-64-9 114z"/>
<path class="m" d="M1567 1647l-2-64"/>
<path class="j" d="M1556 1697l9-114"/>
<path class="w" d="M1541 1734l8 35-2-105-8-94z"/>
<path class="e" d="M1549 1769l-2-105"/>
<path class="r" d="M1539 1570l8 94"/>
<path class="w" d="M1532 1738l9-4-2-164-9 239z"/>
<path class="h" d="M1541 1734l-2-164"/>
<path class="c" d="M1530 1809l9-239"/>
<path class="w" d="M1523 1703l9 35-2 71-8-61z"/>
<path class="h" d="M1532 1738l-2 71"/>
<path class="g" d="M1522 1748l8 61"/>
<path class="w" d="M1515 1723l8-20-1 45-9-91z"/>
<path class="j" d="M1523 1703l-1 45"/>
<path class="m" d="M1513 1657l9 91"/>
<path class="w" d="M1506 1682l9 41-2-66-9 46z"/>
<path class="i" d="M1515 1723l-2-66"/>
<path class="j" d="M1504 1703l9-46"/>
<path class="w" d="M1472 1680l8 73-2-41-8-55z"/>
<path class="g" d="M1480 1753l-2-41"/>
<path class="m" d="M1470 1657l8 55"/>
<path class="w" d="M1463 1693l9-13-2-23-9 65z"/>
<path class="l" d="M1472 1680l-2-23"/>
<path class="i" d="M1461 1722l9-65"/>
<path class="w" d="M1446 1690l8-74-2 99-8 93z"/>
<path class="p" d="M1454 1616l-2 99"/>
<path class="c" d="M1444 1808l8-93"/>
<path class="w" d="M1437 1600l9 90-2 118-9-82z"/>
<path class="k" d="M1446 1690l-2 118"/>
<path class="i" d="M1435 1726l9 82"/>
<path class="w" d="M1420 1679l8-44-1 120-9 49z"/>
<path class="o" d="M1428 1635l-1 120"/>
<path class="d" d="M1418 1804l9-49"/>
<path class="w" d="M1411 1637l9 42-2 125-9-87z"/>
<path class="l" d="M1420 1679l-2 125"/>
<path class="j" d="M1409 1717l9 87"/>
<path class="w" d="M1368 1729l9-22-2 93-9-118z"/>
<path class="k" d="M1377 1707l-2 93"/>
<path class="l" d="M1366 1682l9 118"/>
<path class="w" d="M1359 1726l9 3-2-47-9-46z"/>
<path class="i" d="M1368 1729l-2-47"/>
<path class="o" d="M1357 1636l9 46"/>
<path class="w" d="M1351 1732l8-6-2-90-8 59z"/>
<path class="j" d="M1359 1726l-2-90"/>
<path class="k" d="M1349 1695l8-59"/>
<path class="w" d="M1290 1727l9-60-2 18-9-23z"/>
<path class="n" d="M1299 1667l-2 18-9-23"/>
<path class="w" d="M1282 1656l8 71-2-65-8 44z"/>
<path class="j" d="M1290 1727l-2-65"/>
<path class="k" d="M1280 1706l8-44"/>
<path class="w" d="M1239 1748l8-35-2 42-8-38z"/>
<path class="k" d="M1247 1713l-2 42-8-38"/>
<path class="i" d="M1239 1748l-2-31"/>
<path class="w" d="M1767 1709l9-22-2-70-9-70z"/>
<path class="i" d="M1776 1687l-2-70"/>
<path class="r" d="M1765 1547l9 70"/>
<path class="w" d="M1759 1593l8 116-2-162-8 126z"/>
<path class="h" d="M1767 1709l-2-162"/>
<path class="j" d="M1757 1673l8-126"/>
<path class="w" d="M1733 1738l8-103-2 25-8-91z"/>
<path class="m" d="M1741 1635l-2 25"/>
<path class="q" d="M1731 1569l8 91"/>
<path class="w" d="M1724 1671l9 67-2-169-9 97z"/>
<path class="f" d="M1733 1738l-2-169"/>
<path class="k" d="M1722 1666l9-97"/>
<path class="w" d="M1715 1646l9 25-2-5-9-35z"/>
<path class="k" d="M1724 1671l-2-5"/>
<path class="m" d="M1713 1631l9 35"/>
<path class="w" d="M1707 1692l8-46-2-15-8 81z"/>
<path class="l" d="M1715 1646l-2-15"/>
<path class="h" d="M1705 1712l8-81"/>
<path class="w" d="M1603 1714l9 46-2-2-9-158z"/>
<path class="f" d="M1612 1760l-2-2"/>
<path class="p" d="M1601 1600l9 158"/>
<path class="w" d="M1594 1732l9-18-2-114-8 108z"/>
<path class="i" d="M1603 1714l-2-114-8 108"/>
<path class="w" d="M1560 1694l9-67-2 20-9 0z"/>
<path class="o" d="M1569 1627l-2 20"/>
<path class="m" d="M1558 1647l9 0"/>
<path class="w" d="M1551 1682l9 12-2-47-9 122z"/>
<path class="j" d="M1560 1694l-2-47"/>
<path class="e" d="M1549 1769l9-122"/>
<path class="w" d="M1499 1695l9 57-2-70-8-43z"/>
<path class="g" d="M1508 1752l-2-70"/>
<path class="n" d="M1498 1639l8 43"/>
<path class="w" d="M1491 1582l8 113-1-56-9 65z"/>
<path class="k" d="M1499 1695l-1-56"/>
<path class="j" d="M1489 1704l9-65"/>
<path class="w" d="M1456 1740l9-45-2-2-9-77z"/>
<path class="k" d="M1465 1695l-2-2"/>
<path class="p" d="M1454 1616l9 77"/>
<path class="w" d="M1448 1700l8 40-2-124-8 74z"/>
<path class="h" d="M1456 1740l-2-124"/>
<path class="k" d="M1446 1690l8-74"/>
<path class="w" d="M1439 1725l9-25-2-10-9-90z"/>
<path class="k" d="M1448 1700l-2-10"/>
<path class="q" d="M1437 1600l9 90"/>
<path class="w" d="M1430 1842l9-117-2-125-9 35z"/>
<path class="i" d="M1439 1725l-2-125"/>
<path class="o" d="M1428 1635l9-35"/>
<path class="w" d="M1422 1675l8 167-2-207-8 44z"/>
<path class="b" d="M1430 1842l-2-207"/>
<path class="l" d="M1420 1679l8-44"/>
<path class="w" d="M1413 1723l9-48-2 4-9-42z"/>
<path class="m" d="M1422 1675l-2 4"/>
<path class="o" d="M1411 1637l9 42"/>
<path class="w" d="M1404 1806l9-83-2-86-8 109z"/>
<path class="i" d="M1413 1723l-2-86"/>
<path class="h" d="M1403 1746l8-109"/>
<path class="w" d="M1335 1741l9 13-2-56-9-45z"/>
<path class="h" d="M1344 1754l-2-56"/>
<path class="n" d="M1333 1653l9 45"/>
<path class="w" d="M1327 1674l8 67-2-88-8-48z"/>
<path class="i" d="M1335 1741l-2-88"/>
<path class="r" d="M1325 1605l8 48"/>
<path class="w" d="M1318 1747l9-73-2-69-9 129z"/>
<path class="m" d="M1327 1674l-2-69"/>
<path class="i" d="M1316 1734l9-129"/>
<path class="w" d="M1309 1792l9-45-2-13-8-63z"/>
<path class="i" d="M1318 1747l-2-13"/>
<path class="m" d="M1308 1671l8 63"/>
<path class="w" d="M1301 1691l8 101-1-121-9-4z"/>
<path class="f" d="M1309 1792l-1-121"/>
<path class="n" d="M1299 1667l9 4"/>
<path class="w" d="M1292 1761l9-70-2-24-9 60z"/>
<path class="l" d="M1301 1691l-2-24"/>
<path class="j" d="M1290 1727l9-60"/>
<path class="w" d="M1284 1796l8-35-2-34-8-71z"/>
<path class="h" d="M1292 1761l-2-34"/>
<path class="o" d="M1282 1656l8 71"/>
<path class="w" d="M1275 1722l9 74-2-140-9 56z"/>
<path class="f" d="M1284 1796l-2-140"/>
<path class="k" d="M1273 1712l9-56"/>
<path class="w" d="M1240 1730l9 80-2-97-8 35z"/>
<path class="e" d="M1249 1810l-2-97"/>
<path class="i" d="M1239 1748l8-35"/>
<path class="j" d="M1240 1730l-1 18"/>
<path class="w" d="M1760 1723l9-53-2 39-8-116z"/>
<path class="k" d="M1769 1670l-2 39"/>
<path class="p" d="M1759 1593l8 116"/>
<path class="w" d="M1752 1702l8 21-1-130-9 112z"/>
<path class="g" d="M1760 1723l-1-130"/>
<path class="h" d="M1750 1705l9-112"/>
<path class="w" d="M1735 1625l8 44-2-34-8 103z"/>
<path class="k" d="M1743 1669l-2-34"/>
<path class="f" d="M1733 1738l8-103"/>
<path class="w" d="M1709 1630l8 69-2-53-8 46z"/>
<path class="i" d="M1717 1699l-2-53-8 46"/>
<path class="w" d="M1648 1786l9-162-2-27-9 128z"/>
<path class="n" d="M1657 1624l-2-27"/>
<path class="h" d="M1646 1725l9-128"/>
<path class="w" d="M1570 1700l9-32-2-18-8-23z"/>
<path class="l" d="M1579 1668l-2-18"/>
<path class="o" d="M1569 1627l8 23"/>
<path class="w" d="M1562 1733l8-33-1-73-9 67z"/>
<path class="j" d="M1570 1700l-1-73-9 67"/>
<path class="w" d="M1493 1717l8-10-2-12-8-113z"/>
<path class="j" d="M1501 1707l-2-12"/>
<path class="r" d="M1491 1582l8 113"/>
<path class="w" d="M1484 1662l9 55-2-135-9 80z"/>
<path class="i" d="M1493 1717l-2-135"/>
<path class="m" d="M1482 1662l9-80"/>
<path class="w" d="M1475 1746l9-84-2 0-8 27z"/>
<path class="m" d="M1484 1662l-2 0"/>
<path class="k" d="M1474 1689l8-27"/>
<path class="w" d="M1432 1730l9 26-2-31-9 117z"/>
<path class="g" d="M1441 1756l-2-31"/>
<path class="b" d="M1430 1842l9-117"/>
<path class="w" d="M1424 1761l8-31-2 112-8-167z"/>
<path class="i" d="M1432 1730l-2 112"/>
<path class="m" d="M1422 1675l8 167"/>
<path class="w" d="M1415 1725l9 36-2-86-9 48z"/>
<path class="g" d="M1424 1761l-2-86"/>
<path class="i" d="M1413 1723l9-48"/>
<path class="w" d="M1406 1615l9 110-2-2-9 83z"/>
<path class="i" d="M1415 1725l-2-2"/>
<path class="d" d="M1404 1806l9-83"/>
<path class="w" d="M1398 1707l8-92-2 191-8-73z"/>
<path class="q" d="M1406 1615l-2 191"/>
<path class="i" d="M1396 1733l8 73"/>
<path class="w" d="M1363 1677l9 97-2-69-9-57z"/>
<path class="g" d="M1372 1774l-2-69"/>
<path class="o" d="M1361 1648l9 57"/>
<path class="w" d="M1355 1743l8-66-2-29-8 39z"/>
<path class="m" d="M1363 1677l-2-29"/>
<path class="l" d="M1353 1687l8-39"/>
<path class="w" d="M1320 1784l9-187-2 77-9 73z"/>
<path class="r" d="M1329 1597l-2 77"/>
<path class="i" d="M1318 1747l9-73"/>
<path class="w" d="M1303 1751l8 15-2 26-8-101z"/>
<path class="h" d="M1311 1766l-2 26"/>
<path class="l" d="M1301 1691l8 101"/>
<path class="w" d="M1294 1732l9 19-2-60-9 70z"/>
<path class="i" d="M1303 1751l-2-60"/>
<path class="h" d="M1292 1761l9-70"/>
<path class="w" d="M1251 1689l9 72-2-47-9 96z"/>
<path class="h" d="M1260 1761l-2-47"/>
<path class="e" d="M1249 1810l9-96"/>
<path class="w" d="M1242 1788l9-99-2 121-9-80z"/>
<path class="m" d="M1251 1689l-2 121"/>
<path class="j" d="M1240 1730l9 80"/>
<path class="g" d="M1242 1788l-2-58"/>
<path class="w" d="M1736 1648l9 32-2-11-8-44z"/>
<path class="j" d="M1745 1680l-2-11"/>
<path class="n" d="M1735 1625l8 44"/>
<path class="w" d="M1728 1683l8-35-1-23-9 74z"/>
<path class="l" d="M1736 1648l-1-23"/>
<path class="i" d="M1726 1699l9-74"/>
<path class="w" d="M1702 1696l9 31-2-97-9 5z"/>
<path class="g" d="M1711 1727l-2-97"/>
<path class="m" d="M1700 1635l9-5"/>
<path class="w" d="M1693 1745l9-49-2-61-9-8z"/>
<path class="j" d="M1702 1696l-2-61"/>
<path class="n" d="M1691 1627l9 8"/>
<path class="w" d="M1685 1747l8-2-2-118-8 105z"/>
<path class="f" d="M1693 1745l-2-118"/>
<path class="g" d="M1683 1732l8-105"/>
<path class="w" d="M1667 1732l9-94-2 3-9-2z"/>
<path class="m" d="M1676 1638l-2 3-9-2"/>
<path class="w" d="M1659 1754l8-22-2-93-8-15z"/>
<path class="g" d="M1667 1732l-2-93"/>
<path class="n" d="M1657 1624l8 15"/>
<path class="w" d="M1650 1632l9 122-2-130-9 162z"/>
<path class="f" d="M1659 1754l-2-130"/>
<path class="d" d="M1648 1786l9-162"/>
<path class="w" d="M1641 1709l9-77-2 154-8-204z"/>
<path class="n" d="M1650 1632l-2 154"/>
<path class="q" d="M1640 1582l8 204"/>
<path class="w" d="M1633 1566l8 143-1-127-9 132z"/>
<path class="i" d="M1641 1709l-1-127-9 132"/>
<path class="w" d="M1624 1737l9-171-2 148-9-73z"/>
<path class="r" d="M1633 1566l-2 148"/>
<path class="n" d="M1622 1641l9 73"/>
<path class="w" d="M1616 1713l8 24-2-96-8 52z"/>
<path class="g" d="M1624 1737l-2-96"/>
<path class="j" d="M1614 1693l8-52"/>
<path class="w" d="M1590 1726l8-59-2 56-8-92z"/>
<path class="l" d="M1598 1667l-2 56"/>
<path class="n" d="M1588 1631l8 92"/>
<path class="w" d="M1581 1723l9 3-2-95-9 37z"/>
<path class="h" d="M1590 1726l-2-95"/>
<path class="l" d="M1579 1668l9-37"/>
<path class="w" d="M1486 1737l9-65-2 45-9-55z"/>
<path class="m" d="M1495 1672l-2 45-9-55"/>
<path class="w" d="M1477 1727l9 10-2-75-9 84z"/>
<path class="h" d="M1486 1737l-2-75-9 84"/>
<path class="w" d="M1408 1734l9 32-2-41-9-110z"/>
<path class="g" d="M1417 1766l-2-41"/>
<path class="q" d="M1406 1615l9 110"/>
<path class="w" d="M1400 1687l8 47-2-119-8 92z"/>
<path class="i" d="M1408 1734l-2-119"/>
<path class="k" d="M1398 1707l8-92"/>
<path class="w" d="M1382 1676l9 51-2 25-9 64z"/>
<path class="j" d="M1391 1727l-2 25"/>
<path class="d" d="M1380 1816l9-64"/>
<path class="w" d="M1374 1691l8-15-2 140-8-42z"/>
<path class="m" d="M1382 1676l-2 140"/>
<path class="g" d="M1372 1774l8 42"/>
<path class="w" d="M1331 1738l8 73-2-79-8-135z"/>
<path class="e" d="M1339 1811l-2-79"/>
<path class="r" d="M1329 1597l8 135"/>
<path class="w" d="M1322 1778l9-40-2-141-9 187z"/>
<path class="i" d="M1331 1738l-2-141"/>
<path class="f" d="M1320 1784l9-187"/>
<path class="w" d="M1287 1749l9 0-2-17-9-72z"/>
<path class="i" d="M1296 1749l-2-17"/>
<path class="o" d="M1285 1660l9 72"/>
<path class="w" d="M1279 1728l8 21-2-89-8 98z"/>
<path class="i" d="M1287 1749l-2-89"/>
<path class="h" d="M1277 1758l8-98"/>
<path class="w" d="M1244 1731l9-2-2-40-9 99z"/>
<path class="k" d="M1253 1729l-2-40"/>
<path class="g" d="M1242 1788l9-99"/>
<path class="j" d="M1244 1731l-2 57"/>
<path class="w" d="M1764 1636l9 18-2-35-9 5z"/>
<path class="l" d="M1773 1654l-2-35"/>
<path class="n" d="M1762 1624l9-5"/>
<path class="w" d="M1756 1773l8-137-2-12-8 50z"/>
<path class="m" d="M1764 1636l-2-12"/>
<path class="k" d="M1754 1674l8-50"/>
<path class="w" d="M1730 1641l8 93-2-86-8 35z"/>
<path class="g" d="M1738 1734l-2-86"/>
<path class="j" d="M1728 1683l8-35"/>
<path class="w" d="M1678 1682l9-23-2 88-9-109z"/>
<path class="l" d="M1687 1659l-2 88"/>
<path class="m" d="M1676 1638l9 109"/>
<path class="w" d="M1669 1714l9-32-2-44-9 94z"/>
<path class="k" d="M1678 1682l-2-44"/>
<path class="g" d="M1667 1732l9-94"/>
<path class="w" d="M1652 1686l9 82-2-14-9-122z"/>
<path class="e" d="M1661 1768l-2-14"/>
<path class="n" d="M1650 1632l9 122"/>
<path class="w" d="M1643 1758l9-72-2-54-9 77z"/>
<path class="k" d="M1652 1686l-2-54"/>
<path class="i" d="M1641 1709l9-77"/>
<path class="w" d="M1635 1721l8 37-2-49-8-143z"/>
<path class="f" d="M1643 1758l-2-49"/>
<path class="r" d="M1633 1566l8 143"/>
<path class="w" d="M1626 1745l9-24-2-155-9 171z"/>
<path class="i" d="M1635 1721l-2-155"/>
<path class="g" d="M1624 1737l9-171"/>
<path class="w" d="M1600 1699l9 35-2-49-9-18z"/>
<path class="h" d="M1609 1734l-2-49"/>
<path class="l" d="M1598 1667l9 18"/>
<path class="w" d="M1592 1684l8 15-2-32-8 59z"/>
<path class="j" d="M1600 1699l-2-32"/>
<path class="h" d="M1590 1726l8-59"/>
<path class="w" d="M1531 1699l9-54-2-1-9 65z"/>
<path class="n" d="M1540 1645l-2-1"/>
<path class="j" d="M1529 1709l9-65"/>
<path class="w" d="M1522 1753l9-54-2 10-8-66z"/>
<path class="k" d="M1531 1699l-2 10"/>
<path class="n" d="M1521 1643l8 66"/>
<path class="w" d="M1514 1776l8-23-1-110-9 71z"/>
<path class="g" d="M1522 1753l-1-110"/>
<path class="j" d="M1512 1714l9-71"/>
<path class="w" d="M1488 1754l9-61-2-21-9 65z"/>
<path class="k" d="M1497 1693l-2-21"/>
<path class="h" d="M1486 1737l9-65"/>
<path class="w" d="M1471 1784l8-60-2 3-8-59z"/>
<path class="i" d="M1479 1724l-2 3"/>
<path class="m" d="M1469 1668l8 59"/>
<path class="w" d="M1462 1742l9 42-2-116-9 71z"/>
<path class="f" d="M1471 1784l-2-116"/>
<path class="h" d="M1460 1739l9-71"/>
<path class="w" d="M1393 1693l9 27-2-33-9 40z"/>
<path class="j" d="M1402 1720l-2-33-9 40"/>
<path class="w" d="M1384 1728l9-35-2 34-9-51z"/>
<path class="l" d="M1393 1693l-2 34"/>
<path class="m" d="M1382 1676l9 51"/>
<path class="w" d="M1376 1748l8-20-2-52-8 15z"/>
<path class="j" d="M1384 1728l-2-52"/>
<path class="l" d="M1374 1691l8-15"/>
<path class="w" d="M1350 1693l8-13-2-7-8 122z"/>
<path class="m" d="M1358 1680l-2-7"/>
<path class="f" d="M1348 1795l8-122"/>
<path class="w" d="M1341 1787l9-94-2 102-9 16z"/>
<path class="l" d="M1350 1693l-2 102"/>
<path class="e" d="M1339 1811l9-16"/>
<path class="w" d="M1332 1740l9 47-2 24-8-73z"/>
<path class="f" d="M1341 1787l-2 24"/>
<path class="i" d="M1331 1738l8 73"/>
<path class="w" d="M1272 1747l9-45-2 26-9-76z"/>
<path class="l" d="M1281 1702l-2 26"/>
<path class="o" d="M1270 1652l9 76"/>
<path class="w" d="M1263 1707l9 40-2-95-9 34z"/>
<path class="i" d="M1272 1747l-2-95"/>
<path class="m" d="M1261 1686l9-34"/>
<path class="w" d="M1255 1673l8 34-2-21-8 43z"/>
<path class="l" d="M1263 1707l-2-21"/>
<path class="k" d="M1253 1729l8-43"/>
<path class="w" d="M1246 1673l9 0-2 56-9 2z"/>
<path class="n" d="M1255 1673l-2 56"/>
<path class="j" d="M1244 1731l9-2"/>
<path class="n" d="M1246 1673l-2 58"/>
<path class="w" d="M1706 1765l8-50-2 8-8-85z"/>
<path class="h" d="M1714 1715l-2 8"/>
<path class="m" d="M1704 1638l8 85"/>
<path class="w" d="M1697 1768l9-3-2-127-9 47z"/>
<path class="e" d="M1706 1765l-2-127"/>
<path class="j" d="M1695 1685l9-47"/>
<path class="w" d="M1688 1757l9 11-2-83-8-26z"/>
<path class="e" d="M1697 1768l-2-83"/>
<path class="l" d="M1687 1659l8 26"/>
<path class="w" d="M1680 1666l8 91-1-98-9 23z"/>
<path class="f" d="M1688 1757l-1-98"/>
<path class="k" d="M1678 1682l9-23"/>
<path class="w" d="M1593 1795l9-121-2 25-8-15z"/>
<path class="l" d="M1602 1674l-2 25"/>
<path class="k" d="M1592 1684l8 15"/>
<path class="w" d="M1585 1747l8 48-1-111-9 6z"/>
<path class="d" d="M1593 1795l-1-111"/>
<path class="k" d="M1583 1690l9-6"/>
<path class="w" d="M1542 1739l8-82-2 19-8-31z"/>
<path class="m" d="M1550 1657l-2 19"/>
<path class="n" d="M1540 1645l8 31"/>
<path class="w" d="M1533 1834l9-95-2-94-9 54z"/>
<path class="h" d="M1542 1739l-2-94"/>
<path class="k" d="M1531 1699l9-54"/>
<path class="w" d="M1455 1682l9 41-2 19-9 51z"/>
<path class="j" d="M1464 1723l-2 19"/>
<path class="e" d="M1453 1793l9-51"/>
<path class="w" d="M1447 1676l8 6-2 111-8-90z"/>
<path class="l" d="M1455 1682l-2 111"/>
<path class="k" d="M1445 1703l8 90"/>
<path class="w" d="M1360 1712l9-64-2 20-9 12z"/>
<path class="o" d="M1369 1648l-2 20"/>
<path class="m" d="M1358 1680l9-12"/>
<path class="w" d="M1352 1734l8-22-2-32-8 13z"/>
<path class="k" d="M1360 1712l-2-32"/>
<path class="l" d="M1350 1693l8-13"/>
<path class="w" d="M1317 1743l9-20-2 71-9-143z"/>
<path class="k" d="M1326 1723l-2 71"/>
<path class="o" d="M1315 1651l9 143"/>
<path class="w" d="M1308 1864l9-121-2-92-8 75z"/>
<path class="i" d="M1317 1743l-2-92"/>
<path class="j" d="M1307 1726l8-75"/>
<path class="w" d="M1257 1804l8-98-2 1-8-34z"/>
<path class="l" d="M1265 1706l-2 1"/>
<path class="n" d="M1255 1673l8 34"/>
<path class="w" d="M1248 1766l9 38-2-131-9 0z"/>
<path class="f" d="M1257 1804l-2-131"/>
<path class="n" d="M1246 1673l9 0"/>
<path class="h" d="M1248 1766l-2-93"/>
<path class="w" d="M1768 1652l9-49-2 61-9-49z"/>
<path class="p" d="M1777 1603l-2 61"/>
<path class="o" d="M1766 1615l9 49"/>
<path class="w" d="M1759 1678l9-26-2-37-8 97z"/>
<path class="l" d="M1768 1652l-2-37"/>
<path class="h" d="M1758 1712l8-97"/>
<path class="w" d="M1708 1666l8-20-2 69-8 50z"/>
<path class="m" d="M1716 1646l-2 69"/>
<path class="e" d="M1706 1765l8-50"/>
<path class="w" d="M1699 1737l9-71-2 99-9 3z"/>
<path class="l" d="M1708 1666l-2 99"/>
<path class="e" d="M1697 1768l9-3"/>
<path class="w" d="M1690 1657l9 80-2 31-9-11z"/>
<path class="g" d="M1699 1737l-2 31"/>
<path class="f" d="M1688 1757l9 11"/>
<path class="w" d="M1673 1679l9 32-2-45-9 80z"/>
<path class="i" d="M1682 1711l-2-45"/>
<path class="g" d="M1671 1746l9-80"/>
<path class="w" d="M1604 1710l9-11-2-22-9-3z"/>
<path class="j" d="M1613 1699l-2-22"/>
<path class="l" d="M1602 1674l9 3"/>
<path class="w" d="M1595 1815l9-105-2-36-9 121z"/>
<path class="j" d="M1604 1710l-2-36"/>
<path class="d" d="M1593 1795l9-121"/>
<path class="w" d="M1569 1776l9 4-2-79-8-51z"/>
<path class="e" d="M1578 1780l-2-79"/>
<path class="n" d="M1568 1650l8 51"/>
<path class="w" d="M1561 1680l8 96-1-126-9 95z"/>
<path class="f" d="M1569 1776l-1-126"/>
<path class="h" d="M1559 1745l9-95"/>
<path class="w" d="M1544 1728l8-56-2-15-8 82z"/>
<path class="m" d="M1552 1672l-2-15"/>
<path class="h" d="M1542 1739l8-82"/>
<path class="w" d="M1535 1612l9 116-2 11-9 95z"/>
<path class="i" d="M1544 1728l-2 11"/>
<path class="b" d="M1533 1834l9-95"/>
<path class="w" d="M1526 1691l9-79-2 222-9-91z"/>
<path class="q" d="M1535 1612l-2 222"/>
<path class="h" d="M1524 1743l9 91"/>
<path class="w" d="M1492 1762l8-22-2-26-8 101z"/>
<path class="i" d="M1500 1740l-2-26"/>
<path class="d" d="M1490 1815l8-101"/>
<path class="w" d="M1483 1701l9 61-2 53-9-80z"/>
<path class="g" d="M1492 1762l-2 53"/>
<path class="i" d="M1481 1735l9 80"/>
<path class="w" d="M1466 1781l8 6-1-111-9 47z"/>
<path class="f" d="M1474 1787l-1-111"/>
<path class="j" d="M1464 1723l9-47"/>
<path class="w" d="M1449 1792l8-82-2-28-8-6z"/>
<path class="k" d="M1457 1710l-2-28"/>
<path class="m" d="M1447 1676l8 6"/>
<path class="w" d="M1440 1695l9 97-2-116-9 0z"/>
<path class="e" d="M1449 1792l-2-116"/>
<path class="m" d="M1438 1676l9 0"/>
<path class="w" d="M1431 1729l9-34-2-19-9 57z"/>
<path class="l" d="M1440 1695l-2-19"/>
<path class="i" d="M1429 1733l9-57"/>
<path class="w" d="M1379 1763l9-82-2 23-8-21z"/>
<path class="m" d="M1388 1681l-2 23-8-21"/>
<path class="w" d="M1371 1745l8 18-1-80-9-35z"/>
<path class="h" d="M1379 1763l-1-80"/>
<path class="o" d="M1369 1648l9 35"/>
<path class="w" d="M1362 1780l9-35-2-97-9 64z"/>
<path class="i" d="M1371 1745l-2-97"/>
<path class="k" d="M1360 1712l9-64"/>
<path class="w" d="M1310 1724l9 42-2-23-9 121z"/>
<path class="h" d="M1319 1766l-2-23"/>
<path class="b" d="M1308 1864l9-121"/>
<path class="w" d="M1302 1719l8 5-2 140-8-117z"/>
<path class="k" d="M1310 1724l-2 140"/>
<path class="i" d="M1300 1747l8 117"/>
<path class="w" d="M1267 1770l9-56-2 6-9-14z"/>
<path class="l" d="M1276 1714l-2 6-9-14"/>
<path class="w" d="M1259 1823l8-53-2-64-8 98z"/>
<path class="h" d="M1267 1770l-2-64"/>
<path class="f" d="M1257 1804l8-98"/>
<path class="w" d="M1250 1784l9 39-2-19-9-38z"/>
<path class="e" d="M1259 1823l-2-19"/>
<path class="h" d="M1248 1766l9 38"/>
<path class="g" d="M1250 1784l-2-18"/>
<path class="w" d="M1787 1716l9-18-2-20-9-63z"/>
<path class="i" d="M1796 1698l-2-20"/>
<path class="o" d="M1785 1615l9 63"/>
<path class="w" d="M1779 1709l8 7-2-101-8-12z"/>
<path class="h" d="M1787 1716l-2-101"/>
<path class="p" d="M1777 1603l8 12"/>
<path class="w" d="M1770 1757l9-48-2-106-9 49z"/>
<path class="i" d="M1779 1709l-2-106"/>
<path class="l" d="M1768 1652l9-49"/>
<path class="w" d="M1710 1622l8 114-2-90-8 20z"/>
<path class="g" d="M1718 1736l-2-90"/>
<path class="l" d="M1708 1666l8-20"/>
<path class="w" d="M1684 1680l8 16-2-39-8 54z"/>
<path class="j" d="M1692 1696l-2-39"/>
<path class="i" d="M1682 1711l8-54"/>
<path class="w" d="M1666 1759l9 36-2-116-9 1z"/>
<path class="d" d="M1675 1795l-2-116"/>
<path class="k" d="M1664 1680l9-1"/>
<path class="w" d="M1640 1694l9 6-2 23-8-78z"/>
<path class="j" d="M1649 1700l-2 23"/>
<path class="n" d="M1639 1645l8 78"/>
<path class="w" d="M1632 1687l8 7-1-49-9 43z"/>
<path class="k" d="M1640 1694l-1-49-9 43"/>
<path class="w" d="M1623 1707l9-20-2 1-9 0z"/>
<path class="k" d="M1632 1687l-2 1-9 0"/>
<path class="w" d="M1563 1777l8-85-2 84-8-96z"/>
<path class="k" d="M1571 1692l-2 84"/>
<path class="l" d="M1561 1680l8 96"/>
<path class="w" d="M1554 1708l9 69-2-97-9-8z"/>
<path class="f" d="M1563 1777l-2-97"/>
<path class="m" d="M1552 1672l9 8"/>
<path class="w" d="M1545 1635l9 73-2-36-8 56z"/>
<path class="j" d="M1554 1708l-2-36"/>
<path class="i" d="M1544 1728l8-56"/>
<path class="w" d="M1537 1759l8-124-1 93-9-116z"/>
<path class="o" d="M1545 1635l-1 93"/>
<path class="q" d="M1535 1612l9 116"/>
<path class="w" d="M1528 1667l9 92-2-147-9 79z"/>
<path class="g" d="M1537 1759l-2-147"/>
<path class="l" d="M1526 1691l9-79"/>
<path class="w" d="M1468 1766l8-55-2 76-8-6z"/>
<path class="k" d="M1476 1711l-2 76"/>
<path class="f" d="M1466 1781l8 6"/>
<path class="w" d="M1459 1643l9 123-2 15-9-71z"/>
<path class="g" d="M1468 1766l-2 15"/>
<path class="k" d="M1457 1710l9 71"/>
<path class="w" d="M1399 1703l8 31-2 52-8 51z"/>
<path class="j" d="M1407 1734l-2 52"/>
<path class="c" d="M1397 1837l8-51"/>
<path class="w" d="M1390 1794l9-91-2 134-9-156z"/>
<path class="l" d="M1399 1703l-2 134"/>
<path class="m" d="M1388 1681l9 156"/>
<path class="w" d="M1381 1741l9 53-2-113-9 82z"/>
<path class="f" d="M1390 1794l-2-113"/>
<path class="h" d="M1379 1763l9-82"/>
<path class="w" d="M1347 1820l8-133-1 44-9-124z"/>
<path class="m" d="M1355 1687l-1 44"/>
<path class="r" d="M1345 1607l9 124"/>
<path class="w" d="M1338 1702l9 118-2-213-9 132z"/>
<path class="e" d="M1347 1820l-2-213"/>
<path class="j" d="M1336 1739l9-132"/>
<path class="w" d="M1260 1745l9 69-2-44-8 53z"/>
<path class="e" d="M1269 1814l-2-44-8 53"/>
<path class="w" d="M1252 1798l8-53-1 78-9-39z"/>
<path class="j" d="M1260 1745l-1 78"/>
<path class="g" d="M1250 1784l9 39"/>
<path class="g" d="M1252 1798l-2-14"/>
<path class="w" d="M1763 1749l9-50-2 58-9 14z"/>
<path class="j" d="M1772 1699l-2 58"/>
<path class="e" d="M1761 1771l9-14"/>
<path class="w" d="M1755 1723l8 26-2 22-8-184z"/>
<path class="f" d="M1763 1749l-2 22"/>
<path class="q" d="M1753 1587l8 184"/>
<path class="w" d="M1746 1696l9 27-2-136-9 82z"/>
<path class="h" d="M1755 1723l-2-136"/>
<path class="l" d="M1744 1669l9-82"/>
<path class="w" d="M1729 1710l8 17-2-46-8 87z"/>
<path class="h" d="M1737 1727l-2-46"/>
<path class="e" d="M1727 1768l8-87"/>
<path class="w" d="M1720 1621l9 89-2 58-9-32z"/>
<path class="i" d="M1729 1710l-2 58"/>
<path class="g" d="M1718 1736l9 32"/>
<path class="w" d="M1711 1687l9-66-2 115-8-114z"/>
<path class="o" d="M1720 1621l-2 115-8-114"/>
<path class="w" d="M1703 1647l8 40-1-65-9 150z"/>
<path class="k" d="M1711 1687l-1-65"/>
<path class="e" d="M1701 1772l9-150"/>
<path class="w" d="M1677 1726l9-41-2-5-9 115z"/>
<path class="k" d="M1686 1685l-2-5"/>
<path class="d" d="M1675 1795l9-115"/>
<path class="w" d="M1668 1690l9 36-2 69-9-36z"/>
<path class="i" d="M1677 1726l-2 69"/>
<path class="f" d="M1666 1759l9 36"/>
<path class="w" d="M1660 1746l8-56-2 69-8-164z"/>
<path class="k" d="M1668 1690l-2 69"/>
<path class="q" d="M1658 1595l8 164"/>
<path class="w" d="M1651 1714l9 32-2-151-9 105z"/>
<path class="g" d="M1660 1746l-2-151"/>
<path class="j" d="M1649 1700l9-105"/>
<path class="w" d="M1625 1714l9 7-2-34-9 20z"/>
<path class="i" d="M1634 1721l-2-34"/>
<path class="j" d="M1623 1707l9-20"/>
<path class="w" d="M1591 1691l8 18-2-20-8 59z"/>
<path class="j" d="M1599 1709l-2-20"/>
<path class="h" d="M1589 1748l8-59"/>
<path class="w" d="M1582 1728l9-37-2 57-9-123z"/>
<path class="k" d="M1591 1691l-2 57"/>
<path class="p" d="M1580 1625l9 123"/>
<path class="w" d="M1573 1758l9-30-2-103-9 67z"/>
<path class="i" d="M1582 1728l-2-103"/>
<path class="k" d="M1571 1692l9-67"/>
<path class="w" d="M1565 1797l8-39-2-66-8 85z"/>
<path class="g" d="M1573 1758l-2-66"/>
<path class="f" d="M1563 1777l8-85"/>
<path class="w" d="M1547 1747l9-20-2-19-9-73z"/>
<path class="i" d="M1556 1727l-2-19"/>
<path class="o" d="M1545 1635l9 73"/>
<path class="w" d="M1539 1664l8 83-2-112-8 124z"/>
<path class="h" d="M1547 1747l-2-112"/>
<path class="g" d="M1537 1759l8-124"/>
<path class="w" d="M1521 1696l9 63-2-92-8 80z"/>
<path class="g" d="M1530 1759l-2-92"/>
<path class="h" d="M1520 1747l8-80"/>
<path class="w" d="M1513 1754l8-58-1 51-9 97z"/>
<path class="l" d="M1521 1696l-1 51"/>
<path class="b" d="M1511 1844l9-97"/>
<path class="w" d="M1504 1829l9-75-2 90-9-160z"/>
<path class="h" d="M1513 1754l-2 90"/>
<path class="l" d="M1502 1684l9 160"/>
<path class="w" d="M1487 1700l9 49-2-68-9 25z"/>
<path class="h" d="M1496 1749l-2-68"/>
<path class="k" d="M1485 1706l9-25"/>
<path class="w" d="M1461 1679l9 95-2-8-9-123z"/>
<path class="g" d="M1470 1774l-2-8"/>
<path class="o" d="M1459 1643l9 123"/>
<path class="w" d="M1452 1712l9-33-2-36-9 129z"/>
<path class="m" d="M1461 1679l-2-36"/>
<path class="g" d="M1450 1772l9-129"/>
<path class="w" d="M1444 1691l8 21-2 60-8 25z"/>
<path class="k" d="M1452 1712l-2 60"/>
<path class="e" d="M1442 1797l8-25"/>
<path class="w" d="M1435 1782l9-91-2 106-9-86z"/>
<path class="l" d="M1444 1691l-2 106"/>
<path class="k" d="M1433 1711l9 86"/>
<path class="w" d="M1366 1756l9-61-2-19-9 135z"/>
<path class="m" d="M1375 1695l-2-19"/>
<path class="e" d="M1364 1811l9-135"/>
<path class="w" d="M1357 1797l9-41-2 55-9-124z"/>
<path class="i" d="M1366 1756l-2 55"/>
<path class="m" d="M1355 1687l9 124"/>
<path class="w" d="M1349 1733l8 64-2-110-8 133z"/>
<path class="f" d="M1357 1797l-2-110"/>
<path class="e" d="M1347 1820l8-133"/>
<path class="w" d="M1340 1661l9 72-2 87-9-118z"/>
<path class="j" d="M1349 1733l-2 87"/>
<path class="l" d="M1338 1702l9 118"/>
<path class="w" d="M1297 1754l9-46-2 96-9-101z"/>
<path class="l" d="M1306 1708l-2 96-9-101"/>
<path class="w" d="M1288 1685l9 69-2-51-9 44z"/>
<path class="i" d="M1297 1754l-2-51"/>
<path class="j" d="M1286 1747l9-44"/>
<path class="w" d="M1280 1787l8-102-2 62-8-77z"/>
<path class="n" d="M1288 1685l-2 62"/>
<path class="o" d="M1278 1670l8 77"/>
<path class="w" d="M1271 1731l9 56-2-117-9 144z"/>
<path class="g" d="M1280 1787l-2-117"/>
<path class="e" d="M1269 1814l9-144"/>
<path class="w" d="M1254 1678l8 146-2-79-8 53z"/>
<path class="e" d="M1262 1824l-2-79"/>
<path class="g" d="M1252 1798l8-53"/>
<path class="o" d="M1254 1678l-2 120"/>
<path class="w" d="M1722 1666l9-41-2 85-9-89z"/>
<path class="o" d="M1731 1625l-2 85-9-89"/>
<path class="w" d="M1713 1733l9-67-2-45-9 66z"/>
<path class="l" d="M1722 1666l-2-45"/>
<path class="k" d="M1711 1687l9-66"/>
<path class="w" d="M1705 1661l8 72-2-46-8-40z"/>
<path class="h" d="M1713 1733l-2-46"/>
<path class="m" d="M1703 1647l8 40"/>
<path class="w" d="M1696 1738l9-77-2-14-9 103z"/>
<path class="m" d="M1705 1661l-2-14"/>
<path class="g" d="M1694 1750l9-103"/>
<path class="w" d="M1618 1664l9 27-2 23-9 104z"/>
<path class="k" d="M1627 1691l-2 23"/>
<path class="c" d="M1616 1818l9-104"/>
<path class="w" d="M1610 1689l8-25-2 154-8-151z"/>
<path class="m" d="M1618 1664l-2 154-8-151"/>
<path class="w" d="M1601 1779l9-90-2-22-9 42z"/>
<path class="l" d="M1610 1689l-2-22"/>
<path class="j" d="M1599 1709l9-42"/>
<path class="w" d="M1592 1722l9 57-2-70-8-18z"/>
<path class="f" d="M1601 1779l-2-70"/>
<path class="k" d="M1591 1691l8 18"/>
<path class="w" d="M1584 1757l8-35-1-31-9 37z"/>
<path class="j" d="M1592 1722l-1-31"/>
<path class="i" d="M1582 1728l9-37"/>
<path class="w" d="M1541 1755l8-72-2 64-8-83z"/>
<path class="l" d="M1549 1683l-2 64"/>
<path class="n" d="M1539 1664l8 83"/>
<path class="w" d="M1532 1676l9 79-2-91-9 95z"/>
<path class="h" d="M1541 1755l-2-91"/>
<path class="g" d="M1530 1759l9-95"/>
<path class="w" d="M1506 1730l9 5-2 19-9 75z"/>
<path class="i" d="M1515 1735l-2 19"/>
<path class="c" d="M1504 1829l9-75"/>
<path class="w" d="M1497 1706l9 24-2 99-8-80z"/>
<path class="j" d="M1506 1730l-2 99"/>
<path class="h" d="M1496 1749l8 80"/>
<path class="w" d="M1394 1694l8 45-1 11-9-117z"/>
<path class="j" d="M1402 1739l-1 11"/>
<path class="q" d="M1392 1633l9 117"/>
<path class="w" d="M1385 1738l9-44-2-61-9 177z"/>
<path class="m" d="M1394 1694l-2-61"/>
<path class="e" d="M1383 1810l9-177"/>
<path class="w" d="M1377 1703l8 35-2 72-8-115z"/>
<path class="j" d="M1385 1738l-2 72"/>
<path class="m" d="M1375 1695l8 115"/>
<path class="w" d="M1342 1804l9 16-2-87-9-72z"/>
<path class="e" d="M1351 1820l-2-87"/>
<path class="o" d="M1340 1661l9 72"/>
<path class="w" d="M1333 1794l9 10-2-143-9 185z"/>
<path class="f" d="M1342 1804l-2-143"/>
<path class="c" d="M1331 1846l9-185"/>
<path class="w" d="M1325 1740l8 54-2 52-8-48z"/>
<path class="g" d="M1333 1794l-2 52"/>
<path class="f" d="M1323 1798l8 48"/>
<path class="w" d="M1299 1763l8-53-1-2-9 46z"/>
<path class="l" d="M1307 1710l-1-2"/>
<path class="i" d="M1297 1754l9-46"/>
<path class="w" d="M1256 1735l8 11-2 78-8-146z"/>
<path class="j" d="M1264 1746l-2 78"/>
<path class="o" d="M1254 1678l8 146"/>
<path class="k" d="M1256 1735l-2-57"/>
<path class="w" d="M1784 1694l9-42-2 45-9-117z"/>
<path class="m" d="M1793 1652l-2 45"/>
<path class="q" d="M1782 1580l9 117"/>
<path class="w" d="M1776 1686l8 8-2-114-8 120z"/>
<path class="j" d="M1784 1694l-2-114-8 120"/>
<path class="w" d="M1750 1746l8-98-1 116-9-148z"/>
<path class="m" d="M1758 1648l-1 116"/>
<path class="o" d="M1748 1616l9 148"/>
<path class="w" d="M1741 1738l9 8-2-130-9 94z"/>
<path class="g" d="M1750 1746l-2-130"/>
<path class="i" d="M1739 1710l9-94"/>
<path class="w" d="M1733 1687l8 51-2-28-8-85z"/>
<path class="h" d="M1741 1738l-2-28"/>
<path class="o" d="M1731 1625l8 85"/>
<path class="w" d="M1724 1628l9 59-2-62-9 41z"/>
<path class="k" d="M1733 1687l-2-62"/>
<path class="l" d="M1722 1666l9-41"/>
<path class="w" d="M1663 1710l9-46-2 66-8-87z"/>
<path class="m" d="M1672 1664l-2 66"/>
<path class="n" d="M1662 1643l8 87"/>
<path class="w" d="M1655 1710l8 0-1-67-9 30z"/>
<path class="j" d="M1663 1710l-1-67"/>
<path class="l" d="M1653 1673l9-30"/>
<path class="w" d="M1646 1749l9-39-2-37-9 151z"/>
<path class="j" d="M1655 1710l-2-37"/>
<path class="c" d="M1644 1824l9-151"/>
<path class="w" d="M1638 1772l8-23-2 75-8-30z"/>
<path class="h" d="M1646 1749l-2 75"/>
<path class="e" d="M1636 1794l8 30"/>
<path class="w" d="M1629 1708l9 64-2 22-9-103z"/>
<path class="f" d="M1638 1772l-2 22"/>
<path class="k" d="M1627 1691l9 103"/>
<path class="w" d="M1620 1769l9-61-2-17-9-27z"/>
<path class="j" d="M1629 1708l-2-17"/>
<path class="m" d="M1618 1664l9 27"/>
<path class="w" d="M1612 1720l8 49-2-105-8 25z"/>
<path class="f" d="M1620 1769l-2-105"/>
<path class="l" d="M1610 1689l8-25"/>
<path class="w" d="M1603 1706l9 14-2-31-9 90z"/>
<path class="j" d="M1612 1720l-2-31"/>
<path class="f" d="M1601 1779l9-90"/>
<path class="w" d="M1568 1733l9 13-2 43-8-19z"/>
<path class="h" d="M1577 1746l-2 43"/>
<path class="g" d="M1567 1770l8 19"/>
<path class="w" d="M1551 1727l9-11-2-6-9-27z"/>
<path class="j" d="M1560 1716l-2-6"/>
<path class="l" d="M1549 1683l9 27"/>
<path class="w" d="M1543 1733l8-6-2-44-8 72z"/>
<path class="j" d="M1551 1727l-2-44"/>
<path class="h" d="M1541 1755l8-72"/>
<path class="w" d="M1491 1752l8-11-2-35-8-8z"/>
<path class="i" d="M1499 1741l-2-35"/>
<path class="l" d="M1489 1698l8 8"/>
<path class="w" d="M1482 1776l9-24-2-54-9-19z"/>
<path class="h" d="M1491 1752l-2-54"/>
<path class="m" d="M1480 1679l9 19"/>
<path class="w" d="M1473 1746l9 30-2-97-8 117z"/>
<path class="g" d="M1482 1776l-2-97"/>
<path class="f" d="M1472 1796l8-117"/>
<path class="w" d="M1465 1701l8 45-1 50-9-49z"/>
<path class="i" d="M1473 1746l-1 50-9-49"/>
<path class="w" d="M1448 1794l8-50-2 28-8-95z"/>
<path class="i" d="M1456 1744l-2 28"/>
<path class="m" d="M1446 1677l8 95"/>
<path class="w" d="M1439 1731l9 63-2-117-9 22z"/>
<path class="f" d="M1448 1794l-2-117"/>
<path class="l" d="M1437 1699l9-22"/>
<path class="w" d="M1430 1792l9-61-2-32-9 3z"/>
<path class="j" d="M1439 1731l-2-32"/>
<path class="l" d="M1428 1702l9-3"/>
<path class="w" d="M1413 1715l9 11-2 63-9-26z"/>
<path class="k" d="M1422 1726l-2 63"/>
<path class="h" d="M1411 1763l9 26"/>
<path class="w" d="M1353 1824l8-173-2 172-8-3z"/>
<path class="p" d="M1361 1651l-2 172"/>
<path class="e" d="M1351 1820l8 3"/>
<path class="w" d="M1344 1793l9 31-2-4-9-16z"/>
<path class="e" d="M1353 1824l-2-4"/>
<path class="f" d="M1342 1804l9 16"/>
<path class="w" d="M1335 1748l9 45-2 11-9-10z"/>
<path class="g" d="M1344 1793l-2 11-9-10"/>
<path class="w" d="M1301 1784l8 4-2-78-8 53z"/>
<path class="g" d="M1309 1788l-2-78"/>
<path class="i" d="M1299 1763l8-53"/>
<path class="w" d="M1283 1764l9-28-2 12-8-57z"/>
<path class="k" d="M1292 1736l-2 12"/>
<path class="n" d="M1282 1691l8 57"/>
<path class="w" d="M1275 1729l8 35-1-73-9 27z"/>
<path class="i" d="M1283 1764l-1-73"/>
<path class="l" d="M1273 1718l9-27"/>
<path class="w" d="M1266 1784l9-55-2-11-9 28z"/>
<path class="k" d="M1275 1729l-2-11"/>
<path class="j" d="M1264 1746l9-28"/>
<path class="w" d="M1258 1819l8-35-2-38-8-11z"/>
<path class="h" d="M1266 1784l-2-38"/>
<path class="k" d="M1256 1735l8 11"/>
<path class="f" d="M1258 1819l-2-84"/>
<path class="w" d="M1683 1735l8-74-2 29-8-17z"/>
<path class="m" d="M1691 1661l-2 29"/>
<path class="l" d="M1681 1673l8 17"/>
<path class="w" d="M1674 1691l9 44-2-62-9-9z"/>
<path class="h" d="M1683 1735l-2-62"/>
<path class="m" d="M1672 1664l9 9"/>
<path class="w" d="M1665 1806l9-115-2-27-9 46z"/>
<path class="k" d="M1674 1691l-2-27"/>
<path class="j" d="M1663 1710l9-46"/>
<path class="w" d="M1614 1709l8 58-2 2-8-49z"/>
<path class="g" d="M1622 1767l-2 2"/>
<path class="j" d="M1612 1720l8 49"/>
<path class="w" d="M1605 1731l9-22-2 11-9-14z"/>
<path class="k" d="M1614 1709l-2 11-9-14"/>
<path class="w" d="M1596 1748l9-17-2-25-9-14z"/>
<path class="i" d="M1605 1731l-2-25"/>
<path class="l" d="M1594 1692l9 14"/>
<path class="w" d="M1588 1690l8 58-2-56-8 27z"/>
<path class="h" d="M1596 1748l-2-56"/>
<path class="j" d="M1586 1719l8-27"/>
<path class="w" d="M1562 1750l8 78-2-95-8-17z"/>
<path class="c" d="M1570 1828l-2-95"/>
<path class="j" d="M1560 1716l8 17"/>
<path class="w" d="M1553 1724l9 26-2-34-9 11z"/>
<path class="h" d="M1562 1750l-2-34"/>
<path class="j" d="M1551 1727l9-11"/>
<path class="w" d="M1527 1745l9-49-2 10-9 110z"/>
<path class="l" d="M1536 1696l-2 10"/>
<path class="d" d="M1525 1816l9-110"/>
<path class="w" d="M1519 1714l8 31-2 71-8 21z"/>
<path class="i" d="M1527 1745l-2 71"/>
<path class="c" d="M1517 1837l8-21"/>
<path class="w" d="M1510 1714l9 0-2 123-9-122z"/>
<path class="k" d="M1519 1714l-2 123-9-122"/>
<path class="w" d="M1449 1741l9 27-2-24-8 50z"/>
<path class="h" d="M1458 1768l-2-24"/>
<path class="f" d="M1448 1794l8-50"/>
<path class="w" d="M1441 1742l8-1-1 53-9-63z"/>
<path class="j" d="M1449 1741l-1 53-9-63"/>
<path class="w" d="M1398 1690l8 104-2-17-8-76z"/>
<path class="f" d="M1406 1794l-2-17"/>
<path class="l" d="M1396 1701l8 76"/>
<path class="w" d="M1380 1745l9 50-2-18-9 8z"/>
<path class="f" d="M1389 1795l-2-18"/>
<path class="g" d="M1378 1785l9-8"/>
<path class="w" d="M1372 1755l8-10-2 40-8 13z"/>
<path class="j" d="M1380 1745l-2 40"/>
<path class="f" d="M1370 1798l8-13"/>
<path class="w" d="M1363 1746l9 9-2 43-9-147z"/>
<path class="i" d="M1372 1755l-2 43"/>
<path class="p" d="M1361 1651l9 147"/>
<path class="w" d="M1354 1747l9-1-2-95-8 173z"/>
<path class="j" d="M1363 1746l-2-95"/>
<path class="e" d="M1353 1824l8-173"/>
<path class="w" d="M1346 1715l8 32-1 77-9-31z"/>
<path class="j" d="M1354 1747l-1 77"/>
<path class="g" d="M1344 1793l9 31"/>
<path class="w" d="M1337 1792l9-77-2 78-9-45z"/>
<path class="l" d="M1346 1715l-2 78"/>
<path class="j" d="M1335 1748l9 45"/>
<path class="w" d="M1277 1740l8 33-2-9-8-35z"/>
<path class="i" d="M1285 1773l-2-9"/>
<path class="k" d="M1275 1729l8 35"/>
<path class="w" d="M1268 1790l9-50-2-11-9 55z"/>
<path class="k" d="M1277 1740l-2-11"/>
<path class="h" d="M1266 1784l9-55"/>
<path class="w" d="M1259 1792l9-2-2-6-8 35z"/>
<path class="h" d="M1268 1790l-2-6"/>
<path class="f" d="M1258 1819l8-35"/>
<path class="h" d="M1259 1792l-1 27"/>
<path class="w" d="M1797 1711l8 8-1-37-9-29z"/>
<path class="i" d="M1805 1719l-1-37"/>
<path class="m" d="M1795 1653l9 29"/>
<path class="w" d="M1788 1700l9 11-2-58-9-12z"/>
<path class="i" d="M1797 1711l-2-58"/>
<path class="n" d="M1786 1641l9 12"/>
<path class="w" d="M1780 1687l8 13-2-59-8 15z"/>
<path class="j" d="M1788 1700l-2-59"/>
<path class="m" d="M1778 1656l8-15"/>
<path class="w" d="M1771 1659l9 28-2-31-9-41z"/>
<path class="k" d="M1780 1687l-2-31"/>
<path class="p" d="M1769 1615l9 41"/>
<path class="w" d="M1762 1699l9-40-2-44-9 159z"/>
<path class="m" d="M1771 1659l-2-44"/>
<path class="e" d="M1760 1774l9-159"/>
<path class="w" d="M1745 1622l9 91-2-52-9 96z"/>
<path class="i" d="M1754 1713l-2-52"/>
<path class="f" d="M1743 1757l9-96"/>
<path class="w" d="M1728 1645l8 13-2 53-8-132z"/>
<path class="m" d="M1736 1658l-2 53"/>
<path class="r" d="M1726 1579l8 132"/>
<path class="w" d="M1719 1743l9-98-2-66-9 136z"/>
<path class="n" d="M1728 1645l-2-66"/>
<path class="i" d="M1717 1715l9-136"/>
<path class="w" d="M1702 1674l8 14-1-15-9-10z"/>
<path class="k" d="M1710 1688l-1-15"/>
<path class="m" d="M1700 1663l9 10"/>
<path class="w" d="M1693 1721l9-47-2-11-9-2z"/>
<path class="l" d="M1702 1674l-2-11"/>
<path class="m" d="M1691 1661l9 2"/>
<path class="w" d="M1685 1748l8-27-2-60-8 74z"/>
<path class="i" d="M1693 1721l-2-60"/>
<path class="h" d="M1683 1735l8-74"/>
<path class="w" d="M1667 1737l9-53-2 7-9 115z"/>
<path class="l" d="M1676 1684l-2 7"/>
<path class="d" d="M1665 1806l9-115"/>
<path class="w" d="M1659 1733l8 4-2 69-8-132z"/>
<path class="h" d="M1667 1737l-2 69"/>
<path class="l" d="M1657 1674l8 132"/>
<path class="w" d="M1650 1691l9 42-2-59-9 4z"/>
<path class="i" d="M1659 1733l-2-59"/>
<path class="l" d="M1648 1678l9-4"/>
<path class="w" d="M1641 1821l9-130-2-13-9 8z"/>
<path class="l" d="M1650 1691l-2-13-9 8"/>
<path class="w" d="M1624 1691l9 43-2-47-9 80z"/>
<path class="i" d="M1633 1734l-2-47"/>
<path class="g" d="M1622 1767l9-80"/>
<path class="w" d="M1615 1666l9 25-2 76-8-58z"/>
<path class="l" d="M1624 1691l-2 76"/>
<path class="k" d="M1614 1709l8 58"/>
<path class="w" d="M1581 1807l9-117-2 0-9 2z"/>
<path class="l" d="M1590 1690l-2 0-9 2"/>
<path class="w" d="M1572 1770l9 37-2-115-9 136z"/>
<path class="d" d="M1581 1807l-2-115"/>
<path class="c" d="M1570 1828l9-136"/>
<path class="w" d="M1564 1798l8-28-2 58-8-78z"/>
<path class="g" d="M1572 1770l-2 58"/>
<path class="h" d="M1562 1750l8 78"/>
<path class="w" d="M1555 1727l9 71-2-48-9-26z"/>
<path class="e" d="M1564 1798l-2-48"/>
<path class="j" d="M1553 1724l9 26"/>
<path class="w" d="M1546 1826l9-99-2-3-9-2z"/>
<path class="j" d="M1555 1727l-2-3-9-2"/>
<path class="w" d="M1529 1713l9 13-2-30-9 49z"/>
<path class="j" d="M1538 1726l-2-30"/>
<path class="i" d="M1527 1745l9-49"/>
<path class="w" d="M1512 1714l8 33-1-33-9 0z"/>
<path class="i" d="M1520 1747l-1-33"/>
<path class="k" d="M1510 1714l9 0"/>
<path class="w" d="M1486 1726l9-25-2 55-9-82z"/>
<path class="l" d="M1495 1701l-2 55"/>
<path class="n" d="M1484 1674l9 82"/>
<path class="w" d="M1477 1756l9-30-2-52-9 75z"/>
<path class="j" d="M1486 1726l-2-52"/>
<path class="i" d="M1475 1749l9-75"/>
<path class="w" d="M1469 1671l8 85-2-7-8 13z"/>
<path class="i" d="M1477 1756l-2-7"/>
<path class="h" d="M1467 1762l8-13"/>
<path class="w" d="M1460 1719l9-48-2 91-9 6z"/>
<path class="n" d="M1469 1671l-2 91"/>
<path class="h" d="M1458 1768l9-6"/>
<path class="w" d="M1434 1821l9-144-2 65-9-51z"/>
<path class="n" d="M1443 1677l-2 65"/>
<path class="m" d="M1432 1691l9 51"/>
<path class="w" d="M1425 1780l9 41-2-130-8-20z"/>
<path class="e" d="M1434 1821l-2-130"/>
<path class="n" d="M1424 1671l8 20"/>
<path class="w" d="M1417 1610l8 170-1-109-9 80z"/>
<path class="g" d="M1425 1780l-1-109"/>
<path class="i" d="M1415 1751l9-80"/>
<path class="w" d="M1400 1824l8-142-2 112-8-104z"/>
<path class="n" d="M1408 1682l-2 112"/>
<path class="m" d="M1398 1690l8 104"/>
<path class="w" d="M1348 1797l8-76-2 26-8-32z"/>
<path class="l" d="M1356 1721l-2 26-8-32"/>
<path class="w" d="M1339 1743l9 54-2-82-9 77z"/>
<path class="g" d="M1348 1797l-2-82-9 77"/>
<path class="w" d="M1330 1664l9 79-2 49-8 56z"/>
<path class="j" d="M1339 1743l-2 49"/>
<path class="c" d="M1329 1848l8-56"/>
<path class="w" d="M1322 1816l8-152-1 184-9-158z"/>
<path class="p" d="M1330 1664l-1 184"/>
<path class="n" d="M1320 1690l9 158"/>
<path class="w" d="M1313 1826l9-10-2-126-9-13z"/>
<path class="f" d="M1322 1816l-2-126"/>
<path class="o" d="M1311 1677l9 13"/>
<path class="w" d="M1305 1791l8 35-2-149-8 77z"/>
<path class="e" d="M1313 1826l-2-149"/>
<path class="j" d="M1303 1754l8-77"/>
<path class="w" d="M1287 1789l9 19-2 16-9-51z"/>
<path class="f" d="M1296 1808l-2 16"/>
<path class="i" d="M1285 1773l9 51"/>
<path class="w" d="M1261 1790l9-61-2 61-9 2z"/>
<path class="l" d="M1270 1729l-2 61"/>
<path class="h" d="M1259 1792l9-2"/>
<path class="h" d="M1261 1790l-2 2"/>
<path class="w" d="M1764 1626l9 103-2-70-9 40z"/>
<path class="h" d="M1773 1729l-2-70"/>
<path class="j" d="M1762 1699l9-40"/>
<path class="w" d="M1738 1715l9-85-2-8-9 36z"/>
<path class="o" d="M1747 1630l-2-8"/>
<path class="m" d="M1736 1658l9-36"/>
<path class="w" d="M1730 1736l8-21-2-57-8-13z"/>
<path class="j" d="M1738 1715l-2-57"/>
<path class="n" d="M1728 1645l8 13"/>
<path class="w" d="M1721 1672l9 64-2-91-9 98z"/>
<path class="h" d="M1730 1736l-2-91-9 98"/>
<path class="w" d="M1652 1782l9-94-2 45-9-42z"/>
<path class="l" d="M1661 1688l-2 45-9-42"/>
<path class="w" d="M1643 1753l9 29-2-91-9 130z"/>
<path class="f" d="M1652 1782l-2-91"/>
<path class="c" d="M1641 1821l9-130"/>
<path class="w" d="M1635 1722l8 31-2 68-8-87z"/>
<path class="h" d="M1643 1753l-2 68"/>
<path class="i" d="M1633 1734l8 87"/>
<path class="w" d="M1626 1819l9-97-2 12-9-43z"/>
<path class="j" d="M1635 1722l-2 12"/>
<path class="l" d="M1624 1691l9 43"/>
<path class="w" d="M1617 1674l9 145-2-128-9-25z"/>
<path class="d" d="M1626 1819l-2-128"/>
<path class="m" d="M1615 1666l9 25"/>
<path class="w" d="M1609 1786l8-112-2-8-8 78z"/>
<path class="m" d="M1617 1674l-2-8"/>
<path class="h" d="M1607 1744l8-78"/>
<path class="w" d="M1591 1784l9-18-2-23-8-53z"/>
<path class="g" d="M1600 1766l-2-23"/>
<path class="l" d="M1590 1690l8 53"/>
<path class="w" d="M1583 1754l8 30-1-94-9 117z"/>
<path class="f" d="M1591 1784l-1-94"/>
<path class="d" d="M1581 1807l9-117"/>
<path class="w" d="M1574 1740l9 14-2 53-9-37z"/>
<path class="h" d="M1583 1754l-2 53"/>
<path class="g" d="M1572 1770l9 37"/>
<path class="w" d="M1566 1720l8 20-2 30-8 28z"/>
<path class="i" d="M1574 1740l-2 30"/>
<path class="e" d="M1564 1798l8-28"/>
<path class="w" d="M1557 1774l9-54-2 78-9-71z"/>
<path class="j" d="M1566 1720l-2 78-9-71"/>
<path class="w" d="M1548 1704l9 70-2-47-9 99z"/>
<path class="g" d="M1557 1774l-2-47"/>
<path class="d" d="M1546 1826l9-99"/>
<path class="w" d="M1488 1791l8-134-1 44-9 25z"/>
<path class="o" d="M1496 1657l-1 44"/>
<path class="j" d="M1486 1726l9-25"/>
<path class="w" d="M1462 1765l9-75-2-19-9 48z"/>
<path class="m" d="M1471 1690l-2-19"/>
<path class="k" d="M1460 1719l9-48"/>
<path class="w" d="M1445 1718l8-48-2 23-8-16z"/>
<path class="n" d="M1453 1670l-2 23-8-16"/>
<path class="w" d="M1436 1777l9-59-2-41-9 144z"/>
<path class="k" d="M1445 1718l-2-41"/>
<path class="e" d="M1434 1821l9-144"/>
<path class="w" d="M1419 1748l8 8-2 24-8-170z"/>
<path class="i" d="M1427 1756l-2 24"/>
<path class="r" d="M1417 1610l8 170"/>
<path class="w" d="M1410 1818l9-70-2-138-9 72z"/>
<path class="j" d="M1419 1748l-2-138"/>
<path class="n" d="M1408 1682l9-72"/>
<path class="w" d="M1401 1705l9 113-2-136-8 142z"/>
<path class="e" d="M1410 1818l-2-136-8 142"/>
<path class="w" d="M1393 1672l8 33-1 119-9-16z"/>
<path class="m" d="M1401 1705l-1 119"/>
<path class="f" d="M1391 1808l9 16"/>
<path class="w" d="M1367 1784l9-20-2 17-9-100z"/>
<path class="i" d="M1376 1764l-2 17"/>
<path class="n" d="M1365 1681l9 100"/>
<path class="w" d="M1350 1739l8 84-2-102-8 76z"/>
<path class="e" d="M1358 1823l-2-102"/>
<path class="g" d="M1348 1797l8-76"/>
<path class="w" d="M1341 1791l9-52-2 58-9-54z"/>
<path class="k" d="M1350 1739l-2 58"/>
<path class="j" d="M1339 1743l9 54"/>
<path class="w" d="M1332 1693l9 98-2-48-9-79z"/>
<path class="g" d="M1341 1791l-2-48"/>
<path class="p" d="M1330 1664l9 79"/>
<path class="w" d="M1324 1804l8-111-2-29-8 152z"/>
<path class="n" d="M1332 1693l-2-29"/>
<path class="f" d="M1322 1816l8-152"/>
<path class="w" d="M1272 1767l9 2-2-5-9-35z"/>
<path class="i" d="M1281 1769l-2-5"/>
<path class="l" d="M1270 1729l9 35"/>
<path class="w" d="M1263 1844l9-77-2-38-9 61z"/>
<path class="i" d="M1272 1767l-2-38"/>
<path class="h" d="M1261 1790l9-61"/>
<path class="d" d="M1263 1844l-2-54"/>
<path class="w" d="M1801 1743l8-28-2 74-8-41z"/>
<path class="i" d="M1809 1715l-2 74"/>
<path class="g" d="M1799 1748l8 41"/>
<path class="w" d="M1792 1729l9 14-2 5-9 40z"/>
<path class="g" d="M1801 1743l-2 5"/>
<path class="d" d="M1790 1788l9-40"/>
<path class="w" d="M1783 1709l9 20-2 59-9-52z"/>
<path class="h" d="M1792 1729l-2 59-9-52"/>
<path class="w" d="M1766 1693l9-54-2 90-9-103z"/>
<path class="n" d="M1775 1639l-2 90"/>
<path class="o" d="M1764 1626l9 103"/>
<path class="w" d="M1757 1641l9 52-2-67-8 114z"/>
<path class="k" d="M1766 1693l-2-67"/>
<path class="h" d="M1756 1740l8-114"/>
<path class="w" d="M1749 1695l8-54-1 99-9-110z"/>
<path class="n" d="M1757 1641l-1 99"/>
<path class="o" d="M1747 1630l9 110"/>
<path class="w" d="M1740 1711l9-16-2-65-9 85z"/>
<path class="k" d="M1749 1695l-2-65"/>
<path class="j" d="M1738 1715l9-85"/>
<path class="w" d="M1671 1787l9-106-2-17-9 95z"/>
<path class="l" d="M1680 1681l-2-17"/>
<path class="g" d="M1669 1759l9-95"/>
<path class="w" d="M1645 1796l9-72-2 58-9-29z"/>
<path class="j" d="M1654 1724l-2 58"/>
<path class="h" d="M1643 1753l9 29"/>
<path class="w" d="M1628 1715l9 70-2-63-9 97z"/>
<path class="f" d="M1637 1785l-2-63"/>
<path class="d" d="M1626 1819l9-97"/>
<path class="w" d="M1619 1692l9 23-2 104-9-145z"/>
<path class="j" d="M1628 1715l-2 104"/>
<path class="m" d="M1617 1674l9 145"/>
<path class="w" d="M1611 1692l8 0-2-18-8 112z"/>
<path class="l" d="M1619 1692l-2-18"/>
<path class="f" d="M1609 1786l8-112"/>
<path class="w" d="M1602 1790l9-98-2 94-9-20z"/>
<path class="l" d="M1611 1692l-2 94"/>
<path class="g" d="M1600 1766l9 20"/>
<path class="w" d="M1576 1738l9-31-2 47-9-14z"/>
<path class="k" d="M1585 1707l-2 47"/>
<path class="i" d="M1574 1740l9 14"/>
<path class="w" d="M1550 1758l9-17-2 33-9-70z"/>
<path class="i" d="M1559 1741l-2 33"/>
<path class="l" d="M1548 1704l9 70"/>
<path class="w" d="M1542 1767l8-9-2-54-8-23z"/>
<path class="h" d="M1550 1758l-2-54"/>
<path class="m" d="M1540 1681l8 23"/>
<path class="w" d="M1533 1792l9-25-2-86-9 44z"/>
<path class="h" d="M1542 1767l-2-86"/>
<path class="j" d="M1531 1725l9-44"/>
<path class="w" d="M1524 1767l9 25-2-67-9-68z"/>
<path class="f" d="M1533 1792l-2-67"/>
<path class="o" d="M1522 1657l9 68"/>
<path class="w" d="M1516 1756l8 11-2-110-8 67z"/>
<path class="h" d="M1524 1767l-2-110"/>
<path class="j" d="M1514 1724l8-67"/>
<path class="w" d="M1507 1700l9 56-2-32-9-64z"/>
<path class="i" d="M1516 1756l-2-32"/>
<path class="o" d="M1505 1660l9 64"/>
<path class="w" d="M1498 1769l9-69-2-40-9-3z"/>
<path class="l" d="M1507 1700l-2-40"/>
<path class="o" d="M1496 1657l9 3"/>
<path class="w" d="M1490 1790l8-21-2-112-8 134z"/>
<path class="h" d="M1498 1769l-2-112"/>
<path class="f" d="M1488 1791l8-134"/>
<path class="w" d="M1472 1823l9-23-2-124-8 14z"/>
<path class="f" d="M1481 1800l-2-124"/>
<path class="m" d="M1471 1690l8-14"/>
<path class="w" d="M1455 1707l9-66-2 124-9-95z"/>
<path class="p" d="M1464 1641l-2 124"/>
<path class="n" d="M1453 1670l9 95"/>
<path class="w" d="M1447 1730l8-23-2-37-8 48z"/>
<path class="l" d="M1455 1707l-2-37"/>
<path class="k" d="M1445 1718l8-48"/>
<path class="w" d="M1403 1759l9 63-2-4-9-113z"/>
<path class="e" d="M1412 1822l-2-4"/>
<path class="m" d="M1401 1705l9 113"/>
<path class="w" d="M1395 1779l8-20-2-54-8-33z"/>
<path class="i" d="M1403 1759l-2-54"/>
<path class="o" d="M1393 1672l8 33"/>
<path class="w" d="M1386 1740l9 39-2-107-9 53z"/>
<path class="h" d="M1395 1779l-2-107"/>
<path class="k" d="M1384 1725l9-53"/>
<path class="w" d="M1369 1715l8 79-1-30-9 20z"/>
<path class="g" d="M1377 1794l-1-30"/>
<path class="h" d="M1367 1784l9-20"/>
<path class="w" d="M1360 1642l9 73-2 69-9 39z"/>
<path class="l" d="M1369 1715l-2 69"/>
<path class="e" d="M1358 1823l9-39"/>
<path class="w" d="M1352 1750l8-108-2 181-8-84z"/>
<path class="q" d="M1360 1642l-2 181"/>
<path class="k" d="M1350 1739l8 84"/>
<path class="w" d="M1334 1691l9 96-2 4-9-98z"/>
<path class="h" d="M1343 1787l-2 4"/>
<path class="n" d="M1332 1693l9 98"/>
<path class="w" d="M1326 1783l8-92-2 2-8 111z"/>
<path class="n" d="M1334 1691l-2 2"/>
<path class="g" d="M1324 1804l8-111"/>
<path class="w" d="M1308 1713l9 30-2-17-9 136z"/>
<path class="k" d="M1317 1743l-2-17"/>
<path class="c" d="M1306 1862l9-136"/>
<path class="w" d="M1300 1760l8-47-2 149-8 5z"/>
<path class="m" d="M1308 1713l-2 149"/>
<path class="c" d="M1298 1867l8-5"/>
<path class="w" d="M1291 1703l9 57-2 107-9-79z"/>
<path class="j" d="M1300 1760l-2 107"/>
<path class="h" d="M1289 1788l9 79"/>
<path class="w" d="M1265 1809l9-63-2 21-9 77z"/>
<path class="k" d="M1274 1746l-2 21"/>
<path class="d" d="M1263 1844l9-77"/>
<path class="g" d="M1265 1809l-2 35"/>
<path class="w" d="M1794 1674l9 88-2-19-9-14z"/>
<path class="f" d="M1803 1762l-2-19"/>
<path class="h" d="M1792 1729l9 14"/>
<path class="w" d="M1777 1836l8-94-2-33-8-70z"/>
<path class="h" d="M1785 1742l-2-33"/>
<path class="n" d="M1775 1639l8 70"/>
<path class="w" d="M1768 1743l9 93-2-197-9 54z"/>
<path class="b" d="M1777 1836l-2-197"/>
<path class="k" d="M1766 1693l9-54"/>
<path class="w" d="M1759 1787l9-44-2-50-9-52z"/>
<path class="h" d="M1768 1743l-2-50"/>
<path class="n" d="M1757 1641l9 52"/>
<path class="w" d="M1751 1814l8-27-2-146-8 54z"/>
<path class="e" d="M1759 1787l-2-146"/>
<path class="k" d="M1749 1695l8-54"/>
<path class="w" d="M1742 1686l9 128-2-119-9 16z"/>
<path class="c" d="M1751 1814l-2-119"/>
<path class="j" d="M1740 1711l9-16"/>
<path class="w" d="M1733 1714l9-28-2 25-8-48z"/>
<path class="l" d="M1742 1686l-2 25"/>
<path class="m" d="M1732 1663l8 48"/>
<path class="w" d="M1725 1774l8-60-1-51-9 110z"/>
<path class="j" d="M1733 1714l-1-51"/>
<path class="f" d="M1723 1773l9-110"/>
<path class="w" d="M1708 1699l8 48-2-70-8-18z"/>
<path class="h" d="M1716 1747l-2-70"/>
<path class="n" d="M1706 1659l8 18"/>
<path class="w" d="M1699 1717l9-18-2-40-9 32z"/>
<path class="k" d="M1708 1699l-2-40"/>
<path class="l" d="M1697 1691l9-32"/>
<path class="w" d="M1682 1848l8-109-2-60-8 2z"/>
<path class="i" d="M1690 1739l-2-60"/>
<path class="l" d="M1680 1681l8-2"/>
<path class="w" d="M1673 1701l9 147-2-167-9 106z"/>
<path class="b" d="M1682 1848l-2-167"/>
<path class="e" d="M1671 1787l9-106"/>
<path class="w" d="M1664 1700l9 1-2 86-9-14z"/>
<path class="k" d="M1673 1701l-2 86"/>
<path class="f" d="M1662 1773l9 14"/>
<path class="w" d="M1647 1733l9 17-2-26-9 72z"/>
<path class="h" d="M1656 1750l-2-26"/>
<path class="e" d="M1645 1796l9-72"/>
<path class="w" d="M1638 1712l9 21-2 63-8-11z"/>
<path class="i" d="M1647 1733l-2 63"/>
<path class="f" d="M1637 1785l8 11"/>
<path class="w" d="M1621 1722l9 54-2-61-9-23z"/>
<path class="g" d="M1630 1776l-2-61"/>
<path class="l" d="M1619 1692l9 23"/>
<path class="w" d="M1613 1782l8-60-2-30-8 0z"/>
<path class="j" d="M1621 1722l-2-30"/>
<path class="l" d="M1611 1692l8 0"/>
<path class="w" d="M1604 1761l9 21-2-90-9 98z"/>
<path class="f" d="M1613 1782l-2-90-9 98"/>
<path class="w" d="M1595 1685l9 76-2 29-9-74z"/>
<path class="h" d="M1604 1761l-2 29"/>
<path class="k" d="M1593 1716l9 74"/>
<path class="w" d="M1587 1740l8-55-2 31-8-9z"/>
<path class="m" d="M1595 1685l-2 31"/>
<path class="k" d="M1585 1707l8 9"/>
<path class="w" d="M1578 1707l9 33-2-33-9 31z"/>
<path class="i" d="M1587 1740l-2-33-9 31"/>
<path class="w" d="M1569 1720l9-13-2 31-9 64z"/>
<path class="k" d="M1578 1707l-2 31"/>
<path class="e" d="M1567 1802l9-64"/>
<path class="w" d="M1561 1760l8-40-2 82-8-61z"/>
<path class="k" d="M1569 1720l-2 82"/>
<path class="i" d="M1559 1741l8 61"/>
<path class="w" d="M1552 1727l9 33-2-19-9 17z"/>
<path class="h" d="M1561 1760l-2-19-9 17"/>
<path class="w" d="M1526 1685l9 101-2 6-9-25z"/>
<path class="g" d="M1535 1786l-2 6"/>
<path class="h" d="M1524 1767l9 25"/>
<path class="w" d="M1518 1807l8-122-2 82-8-11z"/>
<path class="m" d="M1526 1685l-2 82"/>
<path class="i" d="M1516 1756l8 11"/>
<path class="w" d="M1509 1775l9 32-2-51-9-56z"/>
<path class="e" d="M1518 1807l-2-51"/>
<path class="l" d="M1507 1700l9 56"/>
<path class="w" d="M1474 1809l9 7-2-16-9 23z"/>
<path class="e" d="M1483 1816l-2-16-9 23"/>
<path class="w" d="M1466 1712l8 97-2 14-8-182z"/>
<path class="f" d="M1474 1809l-2 14"/>
<path class="p" d="M1464 1641l8 182"/>
<path class="w" d="M1457 1801l9-89-2-71-9 66z"/>
<path class="l" d="M1466 1712l-2-71-9 66"/>
<path class="w" d="M1448 1697l9 104-2-94-8 23z"/>
<path class="f" d="M1457 1801l-2-94"/>
<path class="k" d="M1447 1730l8-23"/>
<path class="w" d="M1440 1753l8-56-1 33-9 1z"/>
<path class="m" d="M1448 1697l-1 33"/>
<path class="k" d="M1438 1731l9-1"/>
<path class="w" d="M1431 1714l9 39-2-22-9 92z"/>
<path class="i" d="M1440 1753l-2-22"/>
<path class="e" d="M1429 1823l9-92"/>
<path class="w" d="M1423 1765l8-51-2 109-8-83z"/>
<path class="l" d="M1431 1714l-2 109"/>
<path class="j" d="M1421 1740l8 83"/>
<path class="w" d="M1414 1787l9-22-2-25-9 82z"/>
<path class="i" d="M1423 1765l-2-25"/>
<path class="e" d="M1412 1822l9-82"/>
<path class="w" d="M1405 1705l9 82-2 35-9-63z"/>
<path class="g" d="M1414 1787l-2 35"/>
<path class="i" d="M1403 1759l9 63"/>
<path class="w" d="M1388 1779l9 34-2-34-9-39z"/>
<path class="f" d="M1397 1813l-2-34"/>
<path class="j" d="M1386 1740l9 39"/>
<path class="w" d="M1379 1743l9 36-2-39-9 54z"/>
<path class="h" d="M1388 1779l-2-39"/>
<path class="g" d="M1377 1794l9-54"/>
<path class="w" d="M1371 1729l8 14-2 51-8-79z"/>
<path class="k" d="M1379 1743l-2 51"/>
<path class="l" d="M1369 1715l8 79"/>
<path class="w" d="M1362 1763l9-34-2-14-9-73z"/>
<path class="k" d="M1371 1729l-2-14"/>
<path class="q" d="M1360 1642l9 73"/>
<path class="w" d="M1353 1754l9 9-2-121-8 108z"/>
<path class="i" d="M1362 1763l-2-121"/>
<path class="j" d="M1352 1750l8-108"/>
<path class="w" d="M1345 1722l8 32-1-4-9 37z"/>
<path class="j" d="M1353 1754l-1-4"/>
<path class="h" d="M1343 1787l9-37"/>
<path class="w" d="M1336 1680l9 42-2 65-9-96z"/>
<path class="l" d="M1345 1722l-2 65"/>
<path class="n" d="M1334 1691l9 96"/>
<path class="w" d="M1310 1815l9-67-2-5-9-30z"/>
<path class="k" d="M1319 1748l-2-5"/>
<path class="m" d="M1308 1713l9 30"/>
<path class="w" d="M1302 1730l8 85-2-102-8 47z"/>
<path class="f" d="M1310 1815l-2-102"/>
<path class="j" d="M1300 1760l8-47"/>
<path class="w" d="M1284 1844l9-132-2-9-9 32z"/>
<path class="m" d="M1293 1712l-2-9"/>
<path class="l" d="M1282 1735l9-32"/>
<path class="w" d="M1276 1793l8 51-2-109-8 11z"/>
<path class="e" d="M1284 1844l-2-109"/>
<path class="k" d="M1274 1746l8-11"/>
<path class="w" d="M1267 1850l9-57-2-47-9 63z"/>
<path class="h" d="M1276 1793l-2-47"/>
<path class="g" d="M1265 1809l9-63"/>
<path class="d" d="M1267 1850l-2-41"/>
<path class="w" d="M1796 1608l8 157-1-3-9-88z"/>
<path class="f" d="M1804 1765l-1-3"/>
<path class="l" d="M1794 1674l9 88"/>
<path class="w" d="M1779 1659l8-4-2 87-8 94z"/>
<path class="n" d="M1787 1655l-2 87"/>
<path class="b" d="M1777 1836l8-94"/>
<path class="w" d="M1770 1701l9-42-2 177-9-93z"/>
<path class="m" d="M1779 1659l-2 177"/>
<path class="h" d="M1768 1743l9 93"/>
<path class="w" d="M1761 1719l9-18-2 42-9 44z"/>
<path class="k" d="M1770 1701l-2 42"/>
<path class="e" d="M1759 1787l9-44"/>
<path class="w" d="M1753 1740l8-21-2 68-8 27z"/>
<path class="j" d="M1761 1719l-2 68"/>
<path class="c" d="M1751 1814l8-27"/>
<path class="w" d="M1744 1683l9 57-2 74-9-128z"/>
<path class="h" d="M1753 1740l-2 74"/>
<path class="l" d="M1742 1686l9 128"/>
<path class="w" d="M1701 1716l8-25-1 8-9 18z"/>
<path class="l" d="M1709 1691l-1 8"/>
<path class="j" d="M1699 1717l9-18"/>
<path class="w" d="M1684 1753l8-46-2 32-8 109z"/>
<path class="k" d="M1692 1707l-2 32"/>
<path class="b" d="M1682 1848l8-109"/>
<path class="w" d="M1675 1683l9 70-2 95-9-147z"/>
<path class="h" d="M1684 1753l-2 95"/>
<path class="k" d="M1673 1701l9 147"/>
<path class="w" d="M1666 1709l9-26-2 18-9-1z"/>
<path class="l" d="M1675 1683l-2 18"/>
<path class="k" d="M1664 1700l9 1"/>
<path class="w" d="M1640 1806l9-71-2-2-9-21z"/>
<path class="i" d="M1649 1735l-2-2"/>
<path class="k" d="M1638 1712l9 21"/>
<path class="w" d="M1623 1746l9 11-2 19-9-54z"/>
<path class="h" d="M1632 1757l-2 19"/>
<path class="j" d="M1621 1722l9 54"/>
<path class="w" d="M1614 1717l9 29-2-24-8 60z"/>
<path class="i" d="M1623 1746l-2-24"/>
<path class="f" d="M1613 1782l8-60"/>
<path class="w" d="M1606 1723l8-6-1 65-9-21z"/>
<path class="k" d="M1614 1717l-1 65"/>
<path class="h" d="M1604 1761l9 21"/>
<path class="w" d="M1597 1819l9-96-2 38-9-76z"/>
<path class="j" d="M1606 1723l-2 38"/>
<path class="m" d="M1595 1685l9 76"/>
<path class="w" d="M1589 1809l8 10-2-134-8 55z"/>
<path class="d" d="M1597 1819l-2-134"/>
<path class="i" d="M1587 1740l8-55"/>
<path class="w" d="M1545 1848l9-116-2-5-9 18z"/>
<path class="j" d="M1554 1732l-2-5"/>
<path class="i" d="M1543 1745l9-18"/>
<path class="w" d="M1519 1704l9 51-2-70-8 122z"/>
<path class="i" d="M1528 1755l-2-70"/>
<path class="e" d="M1518 1807l8-122"/>
<path class="w" d="M1511 1733l8-29-1 103-9-32z"/>
<path class="l" d="M1519 1704l-1 103"/>
<path class="h" d="M1509 1775l9 32"/>
<path class="w" d="M1502 1666l9 67-2 42-9-36z"/>
<path class="j" d="M1511 1733l-2 42-9-36"/>
<path class="w" d="M1485 1690l9 64-2 40-9 22z"/>
<path class="i" d="M1494 1754l-2 40"/>
<path class="e" d="M1483 1816l9-22"/>
<path class="w" d="M1476 1678l9 12-2 126-9-7z"/>
<path class="m" d="M1485 1690l-2 126"/>
<path class="f" d="M1474 1809l9 7"/>
<path class="w" d="M1468 1691l8-13-2 131-8-97z"/>
<path class="n" d="M1476 1678l-2 131"/>
<path class="l" d="M1466 1712l8 97"/>
<path class="w" d="M1459 1719l9-28-2 21-9 89z"/>
<path class="m" d="M1468 1691l-2 21"/>
<path class="f" d="M1457 1801l9-89"/>
<path class="w" d="M1450 1759l9-40-2 82-9-104z"/>
<path class="l" d="M1459 1719l-2 82"/>
<path class="m" d="M1448 1697l9 104"/>
<path class="w" d="M1442 1745l8 14-2-62-8 56z"/>
<path class="i" d="M1450 1759l-2-62-8 56"/>
<path class="w" d="M1433 1768l9-23-2 8-9-39z"/>
<path class="j" d="M1442 1745l-2 8"/>
<path class="l" d="M1431 1714l9 39"/>
<path class="w" d="M1424 1829l9-61-2-54-8 51z"/>
<path class="i" d="M1433 1768l-2-54-8 51"/>
<path class="w" d="M1416 1742l8 87-1-64-9 22z"/>
<path class="e" d="M1424 1829l-1-64"/>
<path class="g" d="M1414 1787l9-22"/>
<path class="w" d="M1407 1743l9-1-2 45-9-82z"/>
<path class="j" d="M1416 1742l-2 45"/>
<path class="m" d="M1405 1705l9 82"/>
<path class="w" d="M1399 1712l8 31-2-38-8 108z"/>
<path class="j" d="M1407 1743l-2-38"/>
<path class="f" d="M1397 1813l8-108"/>
<path class="w" d="M1390 1841l9-129-2 101-9-34z"/>
<path class="m" d="M1399 1712l-2 101"/>
<path class="h" d="M1388 1779l9 34"/>
<path class="w" d="M1381 1747l9 94-2-62-9-36z"/>
<path class="d" d="M1390 1841l-2-62"/>
<path class="k" d="M1379 1743l9 36"/>
<path class="w" d="M1373 1664l8 83-2-4-8-14z"/>
<path class="j" d="M1381 1747l-2-4"/>
<path class="k" d="M1371 1729l8 14"/>
<path class="w" d="M1364 1792l9-128-2 65-9 34z"/>
<path class="p" d="M1373 1664l-2 65"/>
<path class="i" d="M1362 1763l9-34"/>
<path class="w" d="M1347 1729l8-17-2 42-8-32z"/>
<path class="m" d="M1355 1712l-2 42"/>
<path class="l" d="M1345 1722l8 32"/>
<path class="w" d="M1338 1764l9-35-2-7-9-42z"/>
<path class="l" d="M1347 1729l-2-7"/>
<path class="o" d="M1336 1680l9 42"/>
<path class="w" d="M1329 1774l9-10-2-84-8 48z"/>
<path class="j" d="M1338 1764l-2-84"/>
<path class="l" d="M1328 1728l8-48"/>
<path class="w" d="M1321 1862l8-88-1-46-9 20z"/>
<path class="i" d="M1329 1774l-1-46"/>
<path class="k" d="M1319 1748l9-20"/>
<path class="w" d="M1312 1828l9 34-2-114-9 67z"/>
<path class="c" d="M1321 1862l-2-114"/>
<path class="f" d="M1310 1815l9-67"/>
<path class="w" d="M1304 1711l8 117-2-13-8-85z"/>
<path class="f" d="M1312 1828l-2-13"/>
<path class="l" d="M1302 1730l8 85"/>
<path class="w" d="M1295 1729l9-18-2 19-9-18z"/>
<path class="m" d="M1304 1711l-2 19-9-18"/>
<path class="w" d="M1286 1768l9-39-2-17-9 132z"/>
<path class="l" d="M1295 1729l-2-17"/>
<path class="e" d="M1284 1844l9-132"/>
<path class="w" d="M1278 1779l8-11-2 76-8-51z"/>
<path class="j" d="M1286 1768l-2 76"/>
<path class="h" d="M1276 1793l8 51"/>
<path class="w" d="M1269 1795l9-16-2 14-9 57z"/>
<path class="i" d="M1278 1779l-2 14"/>
<path class="d" d="M1267 1850l9-57"/>
<path class="h" d="M1269 1795l-2 55"/>
<path class="w" d="M1806 1691l9 32-2-8-9 50z"/>
<path class="i" d="M1815 1723l-2-8"/>
<path class="f" d="M1804 1765l9-50"/>
<path class="w" d="M1798 1722l8-31-2 74-8-157z"/>
<path class="k" d="M1806 1691l-2 74"/>
<path class="q" d="M1796 1608l8 157"/>
<path class="w" d="M1789 1777l9-55-2-114-9 47z"/>
<path class="i" d="M1798 1722l-2-114"/>
<path class="n" d="M1787 1655l9-47"/>
<path class="w" d="M1780 1676l9 101-2-122-8 4z"/>
<path class="f" d="M1789 1777l-2-122"/>
<path class="m" d="M1779 1659l8-4"/>
<path class="w" d="M1772 1732l8-56-1-17-9 42z"/>
<path class="l" d="M1780 1676l-1-17"/>
<path class="k" d="M1770 1701l9-42"/>
<path class="w" d="M1763 1625l9 107-2-31-9 18z"/>
<path class="i" d="M1772 1732l-2-31"/>
<path class="j" d="M1761 1719l9-18"/>
<path class="w" d="M1746 1791l9-24-2-27-9-57z"/>
<path class="g" d="M1755 1767l-2-27"/>
<path class="l" d="M1744 1683l9 57"/>
<path class="w" d="M1737 1745l9 46-2-108-9 5z"/>
<path class="e" d="M1746 1791l-2-108"/>
<path class="l" d="M1735 1688l9-5"/>
<path class="w" d="M1729 1748l8-3-2-57-8 3z"/>
<path class="h" d="M1737 1745l-2-57"/>
<path class="l" d="M1727 1691l8-3"/>
<path class="w" d="M1720 1768l9-20-2-57-9-40z"/>
<path class="h" d="M1729 1748l-2-57"/>
<path class="n" d="M1718 1651l9 40"/>
<path class="w" d="M1711 1742l9 26-2-117-9 40z"/>
<path class="g" d="M1720 1768l-2-117"/>
<path class="l" d="M1709 1691l9-40"/>
<path class="w" d="M1703 1773l8-31-2-51-8 25z"/>
<path class="i" d="M1711 1742l-2-51"/>
<path class="j" d="M1701 1716l8-25"/>
<path class="w" d="M1694 1618l9 155-2-57-9-9z"/>
<path class="g" d="M1703 1773l-2-57"/>
<path class="k" d="M1692 1707l9 9"/>
<path class="w" d="M1685 1741l9-123-2 89-8 46z"/>
<path class="q" d="M1694 1618l-2 89"/>
<path class="h" d="M1684 1753l8-46"/>
<path class="w" d="M1677 1694l8 47-1 12-9-70z"/>
<path class="i" d="M1685 1741l-1 12"/>
<path class="l" d="M1675 1683l9 70"/>
<path class="w" d="M1668 1738l9-44-2-11-9 26z"/>
<path class="l" d="M1677 1694l-2-11"/>
<path class="k" d="M1666 1709l9-26"/>
<path class="w" d="M1634 1698l8 98-2 10-8-49z"/>
<path class="f" d="M1642 1796l-2 10"/>
<path class="h" d="M1632 1757l8 49"/>
<path class="w" d="M1625 1736l9-38-2 59-9-11z"/>
<path class="l" d="M1634 1698l-2 59"/>
<path class="i" d="M1623 1746l9 11"/>
<path class="w" d="M1616 1696l9 40-2 10-9-29z"/>
<path class="j" d="M1625 1736l-2 10"/>
<path class="k" d="M1614 1717l9 29"/>
<path class="w" d="M1608 1740l8-44-2 21-8 6z"/>
<path class="l" d="M1616 1696l-2 21"/>
<path class="j" d="M1606 1723l8-6"/>
<path class="w" d="M1599 1721l9 19-2-17-9 96z"/>
<path class="i" d="M1608 1740l-2-17"/>
<path class="d" d="M1597 1819l9-96"/>
<path class="w" d="M1590 1748l9-27-2 98-8-10z"/>
<path class="k" d="M1599 1721l-2 98"/>
<path class="e" d="M1589 1809l8 10"/>
<path class="w" d="M1582 1702l8 46-1 61-9-113z"/>
<path class="i" d="M1590 1748l-1 61"/>
<path class="l" d="M1580 1696l9 113"/>
<path class="w" d="M1573 1700l9 2-2-6-9 43z"/>
<path class="l" d="M1582 1702l-2-6"/>
<path class="j" d="M1571 1739l9-43"/>
<path class="w" d="M1565 1696l8 4-2 39-8 33z"/>
<path class="l" d="M1573 1700l-2 39"/>
<path class="h" d="M1563 1772l8-33"/>
<path class="w" d="M1556 1811l9-115-2 76-9-40z"/>
<path class="m" d="M1565 1696l-2 76"/>
<path class="j" d="M1554 1732l9 40"/>
<path class="w" d="M1547 1726l9 85-2-79-9 116z"/>
<path class="e" d="M1556 1811l-2-79"/>
<path class="c" d="M1545 1848l9-116"/>
<path class="w" d="M1539 1743l8-17-2 122-8-40z"/>
<path class="k" d="M1547 1726l-2 122"/>
<path class="e" d="M1537 1808l8 40"/>
<path class="w" d="M1530 1651l9 92-2 65-9-53z"/>
<path class="j" d="M1539 1743l-2 65"/>
<path class="i" d="M1528 1755l9 53"/>
<path class="w" d="M1521 1740l9-89-2 104-9-51z"/>
<path class="p" d="M1530 1651l-2 104"/>
<path class="l" d="M1519 1704l9 51"/>
<path class="w" d="M1513 1785l8-45-2-36-8 29z"/>
<path class="j" d="M1521 1740l-2-36-8 29"/>
<path class="w" d="M1504 1629l9 156-2-52-9-67z"/>
<path class="g" d="M1513 1785l-2-52"/>
<path class="o" d="M1502 1666l9 67"/>
<path class="w" d="M1487 1736l8-5-1 23-9-64z"/>
<path class="k" d="M1495 1731l-1 23"/>
<path class="m" d="M1485 1690l9 64"/>
<path class="w" d="M1478 1760l9-24-2-46-9-12z"/>
<path class="j" d="M1487 1736l-2-46"/>
<path class="n" d="M1476 1678l9 12"/>
<path class="w" d="M1470 1760l8 0-2-82-8 13z"/>
<path class="i" d="M1478 1760l-2-82"/>
<path class="m" d="M1468 1691l8-13"/>
<path class="w" d="M1461 1703l9 57-2-69-9 28z"/>
<path class="i" d="M1470 1760l-2-69"/>
<path class="l" d="M1459 1719l9-28"/>
<path class="w" d="M1452 1761l9-58-2 16-9 40z"/>
<path class="m" d="M1461 1703l-2 16"/>
<path class="i" d="M1450 1759l9-40"/>
<path class="w" d="M1435 1733l9 58-2-46-9 23z"/>
<path class="g" d="M1444 1791l-2-46"/>
<path class="i" d="M1433 1768l9-23"/>
<path class="w" d="M1426 1741l9-8-2 35-9 61z"/>
<path class="k" d="M1435 1733l-2 35"/>
<path class="e" d="M1424 1829l9-61"/>
<path class="w" d="M1418 1748l8-7-2 88-8-87z"/>
<path class="k" d="M1426 1741l-2 88"/>
<path class="j" d="M1416 1742l8 87"/>
<path class="w" d="M1392 1779l8 0-1-67-9 129z"/>
<path class="h" d="M1400 1779l-1-67"/>
<path class="d" d="M1390 1841l9-129"/>
<path class="w" d="M1383 1706l9 73-2 62-9-94z"/>
<path class="h" d="M1392 1779l-2 62"/>
<path class="j" d="M1381 1747l9 94"/>
<path class="w" d="M1375 1740l8-34-2 41-8-83z"/>
<path class="m" d="M1383 1706l-2 41"/>
<path class="p" d="M1373 1664l8 83"/>
<path class="w" d="M1366 1770l9-30-2-76-9 128z"/>
<path class="k" d="M1375 1740l-2-76"/>
<path class="h" d="M1364 1792l9-128"/>
<path class="w" d="M1357 1783l9-13-2 22-9-80z"/>
<path class="i" d="M1366 1770l-2 22"/>
<path class="m" d="M1355 1712l9 80"/>
<path class="w" d="M1323 1819l8-76-2 31-8 88z"/>
<path class="k" d="M1331 1743l-2 31"/>
<path class="c" d="M1321 1862l8-88"/>
<path class="w" d="M1314 1762l9 57-2 43-9-34z"/>
<path class="f" d="M1323 1819l-2 43-9-34"/>
<path class="w" d="M1305 1808l9-46-2 66-8-117z"/>
<path class="j" d="M1314 1762l-2 66"/>
<path class="m" d="M1304 1711l8 117"/>
<path class="w" d="M1297 1776l8 32-1-97-9 18z"/>
<path class="g" d="M1305 1808l-1-97"/>
<path class="l" d="M1295 1729l9-18"/>
<path class="w" d="M1288 1667l9 109-2-47-9 39z"/>
<path class="i" d="M1297 1776l-2-47"/>
<path class="j" d="M1286 1768l9-39"/>
<path class="w" d="M1280 1760l8-93-2 101-8 11z"/>
<path class="p" d="M1288 1667l-2 101"/>
<path class="i" d="M1278 1779l8-11"/>
<path class="w" d="M1271 1748l9 12-2 19-9 16z"/>
<path class="j" d="M1280 1760l-2 19"/>
<path class="h" d="M1269 1795l9-16"/>
<path class="k" d="M1271 1748l-2 47"/>
<path class="w" d="M1808 1715l9-90-2 98-9-32z"/>
<path class="p" d="M1817 1625l-2 98"/>
<path class="k" d="M1806 1691l9 32"/>
<path class="j" d="M1808 1715l9-90"/>
<path class="w" d="M1800 1690l8 25-2-24-8 31z"/>
<path class="j" d="M1808 1715l-2-24"/>
<path class="i" d="M1798 1722l8-31"/>
<path class="l" d="M1800 1690l8 25"/>
<path class="w" d="M1791 1737l9-47-2 32-9 55z"/>
<path class="l" d="M1800 1690l-2 32"/>
<path class="f" d="M1789 1777l9-55"/>
<path class="i" d="M1791 1737l9-47"/>
<path class="w" d="M1782 1750l9-13-2 40-9-101z"/>
<path class="i" d="M1791 1737l-2 40"/>
<path class="l" d="M1780 1676l9 101"/>
<path class="h" d="M1782 1750l9-13"/>
<path class="w" d="M1774 1751l8-1-2-74-8 56z"/>
<path class="h" d="M1782 1750l-2-74"/>
<path class="i" d="M1772 1732l8-56"/>
<path class="h" d="M1774 1751l8-1"/>
<path class="w" d="M1765 1754l9-3-2-19-9-107z"/>
<path class="h" d="M1774 1751l-2-19"/>
<path class="p" d="M1763 1625l9 107"/>
<path class="h" d="M1765 1754l9-3"/>
<path class="w" d="M1756 1711l9 43-2-129-8 142z"/>
<path class="h" d="M1765 1754l-2-129"/>
<path class="g" d="M1755 1767l8-142"/>
<path class="j" d="M1756 1711l9 43"/>
<path class="w" d="M1748 1736l8-25-1 56-9 24z"/>
<path class="j" d="M1756 1711l-1 56"/>
<path class="e" d="M1746 1791l9-24"/>
<path class="i" d="M1748 1736l8-25"/>
<path class="w" d="M1739 1682l9 54-2 55-9-46z"/>
<path class="i" d="M1748 1736l-2 55"/>
<path class="h" d="M1737 1745l9 46"/>
<path class="l" d="M1739 1682l9 54"/>
<path class="w" d="M1731 1735l8-53-2 63-8 3z"/>
<path class="l" d="M1739 1682l-2 63"/>
<path class="h" d="M1729 1748l8-3"/>
<path class="i" d="M1731 1735l8-53"/>
<path class="w" d="M1722 1795l9-60-2 13-9 20z"/>
<path class="i" d="M1731 1735l-2 13"/>
<path class="g" d="M1720 1768l9-20"/>
<path class="e" d="M1722 1795l9-60"/>
<path class="w" d="M1713 1689l9 106-2-27-9-26z"/>
<path class="e" d="M1722 1795l-2-27"/>
<path class="i" d="M1711 1742l9 26"/>
<path class="l" d="M1713 1689l9 106"/>
<path class="w" d="M1705 1758l8-69-2 53-8 31z"/>
<path class="l" d="M1713 1689l-2 53"/>
<path class="g" d="M1703 1773l8-31"/>
<path class="h" d="M1705 1758l8-69"/>
<path class="w" d="M1696 1792l9-34-2 15-9-155z"/>
<path class="h" d="M1705 1758l-2 15"/>
<path class="q" d="M1694 1618l9 155"/>
<path class="f" d="M1696 1792l9-34"/>
<path class="w" d="M1687 1710l9 82-2-174-9 123z"/>
<path class="f" d="M1696 1792l-2-174"/>
<path class="i" d="M1685 1741l9-123"/>
<path class="k" d="M1687 1710l9 82"/>
<path class="w" d="M1679 1687l8 23-2 31-8-47z"/>
<path class="k" d="M1687 1710l-2 31"/>
<path class="l" d="M1677 1694l8 47"/>
<path class="m" d="M1679 1687l8 23"/>
<path class="w" d="M1670 1775l9-88-2 7-9 44z"/>
<path class="m" d="M1679 1687l-2 7"/>
<path class="i" d="M1668 1738l9-44"/>
<path class="g" d="M1670 1775l9-88"/>
<path class="w" d="M1661 1606l9 169-2-37-8 117z"/>
<path class="g" d="M1670 1775l-2-37"/>
<path class="b" d="M1660 1855l8-117"/>
<path class="r" d="M1661 1606l9 169"/>
<path class="w" d="M1653 1720l8-114-1 249-9-107z"/>
<path class="r" d="M1661 1606l-1 249"/>
<path class="i" d="M1651 1748l9 107"/>
<path class="k" d="M1653 1720l8-114"/>
<path class="w" d="M1644 1737l9-17-2 28-9 48z"/>
<path class="k" d="M1653 1720l-2 28"/>
<path class="f" d="M1642 1796l9-48"/>
<path class="j" d="M1644 1737l9-17"/>
<path class="w" d="M1636 1636l8 101-2 59-8-98z"/>
<path class="j" d="M1644 1737l-2 59"/>
<path class="l" d="M1634 1698l8 98"/>
<path class="p" d="M1636 1636l8 101"/>
<path class="w" d="M1627 1737l9-101-2 62-9 38z"/>
<path class="p" d="M1636 1636l-2 62"/>
<path class="j" d="M1625 1736l9-38"/>
<path class="j" d="M1627 1737l9-101"/>
<path class="w" d="M1618 1717l9 20-2-1-9-40z"/>
<path class="j" d="M1627 1737l-2-1"/>
<path class="l" d="M1616 1696l9 40"/>
<path class="k" d="M1618 1717l9 20"/>
<path class="w" d="M1610 1702l8 15-2-21-8 44z"/>
<path class="k" d="M1618 1717l-2-21"/>
<path class="i" d="M1608 1740l8-44"/>
<path class="l" d="M1610 1702l8 15"/>
<path class="w" d="M1601 1740l9-38-2 38-9-19z"/>
<path class="l" d="M1610 1702l-2 38"/>
<path class="k" d="M1599 1721l9 19"/>
<path class="j" d="M1601 1740l9-38"/>
<path class="w" d="M1592 1762l9-22-2-19-9 27z"/>
<path class="j" d="M1601 1740l-2-19"/>
<path class="i" d="M1590 1748l9-27"/>
<path class="h" d="M1592 1762l9-22"/>
<path class="w" d="M1584 1787l8-25-2-14-8-46z"/>
<path class="h" d="M1592 1762l-2-14"/>
<path class="l" d="M1582 1702l8 46"/>
<path class="g" d="M1584 1787l8-25"/>
<path class="w" d="M1575 1683l9 104-2-85-9-2z"/>
<path class="g" d="M1584 1787l-2-85"/>
<path class="l" d="M1573 1700l9 2"/>
<path class="m" d="M1575 1683l9 104"/>
<path class="w" d="M1566 1790l9-107-2 17-8-4z"/>
<path class="m" d="M1575 1683l-2 17-8-4"/>
<path class="g" d="M1566 1790l9-107"/>
<path class="w" d="M1558 1760l8 30-1-94-9 115z"/>
<path class="g" d="M1566 1790l-1-94"/>
<path class="e" d="M1556 1811l9-115"/>
<path class="i" d="M1558 1760l8 30"/>
<path class="w" d="M1549 1817l9-57-2 51-9-85z"/>
<path class="i" d="M1558 1760l-2 51"/>
<path class="k" d="M1547 1726l9 85"/>
<path class="e" d="M1549 1817l9-57"/>
<path class="w" d="M1541 1760l8 57-2-91-8 17z"/>
<path class="e" d="M1549 1817l-2-91"/>
<path class="j" d="M1539 1743l8-17"/>
<path class="i" d="M1541 1760l8 57"/>
<path class="w" d="M1532 1774l9-14-2-17-9-92z"/>
<path class="i" d="M1541 1760l-2-17"/>
<path class="p" d="M1530 1651l9 92"/>
<path class="h" d="M1532 1774l9-14"/>
<path class="w" d="M1523 1760l9 14-2-123-9 89z"/>
<path class="h" d="M1532 1774l-2-123"/>
<path class="j" d="M1521 1740l9-89"/>
<path class="i" d="M1523 1760l9 14"/>
<path class="w" d="M1515 1749l8 11-2-20-8 45z"/>
<path class="i" d="M1523 1760l-2-20"/>
<path class="g" d="M1513 1785l8-45"/>
<path class="j" d="M1515 1749l8 11"/>
<path class="w" d="M1506 1723l9 26-2 36-9-156z"/>
<path class="j" d="M1515 1749l-2 36"/>
<path class="q" d="M1504 1629l9 156"/>
<path class="k" d="M1506 1723l9 26"/>
<path class="w" d="M1497 1801l9-78-2-94-9 102z"/>
<path class="k" d="M1506 1723l-2-94-9 102"/>
<path class="f" d="M1497 1801l9-78"/>
<path class="w" d="M1489 1765l8 36-2-70-8 5z"/>
<path class="f" d="M1497 1801l-2-70"/>
<path class="j" d="M1487 1736l8-5"/>
<path class="i" d="M1489 1765l8 36"/>
<path class="w" d="M1480 1758l9 7-2-29-9 24z"/>
<path class="i" d="M1489 1765l-2-29-9 24"/>
<path class="i" d="M1480 1758l9 7"/>
<path class="w" d="M1471 1745l9 13-2 2-8 0z"/>
<path class="i" d="M1480 1758l-2 2-8 0"/>
<path class="j" d="M1471 1745l9 13"/>
<path class="w" d="M1463 1759l8-14-1 15-9-57z"/>
<path class="j" d="M1471 1745l-1 15"/>
<path class="m" d="M1461 1703l9 57"/>
<path class="i" d="M1463 1759l8-14"/>
<path class="w" d="M1454 1736l9 23-2-56-9 58z"/>
<path class="i" d="M1463 1759l-2-56-9 58"/>
<path class="k" d="M1454 1736l9 23"/>
<path class="w" d="M1446 1717l8 19-2 25-8 30z"/>
<path class="k" d="M1454 1736l-2 25"/>
<path class="g" d="M1444 1791l8-30"/>
<path class="l" d="M1446 1717l8 19"/>
<path class="w" d="M1437 1841l9-124-2 74-9-58z"/>
<path class="l" d="M1446 1717l-2 74"/>
<path class="k" d="M1435 1733l9 58"/>
<path class="d" d="M1437 1841l9-124"/>
<path class="w" d="M1428 1813l9 28-2-108-9 8z"/>
<path class="d" d="M1437 1841l-2-108"/>
<path class="k" d="M1426 1741l9-8"/>
<path class="f" d="M1428 1813l9 28"/>
<path class="w" d="M1420 1728l8 85-2-72-8 7z"/>
<path class="f" d="M1428 1813l-2-72"/>
<path class="j" d="M1418 1748l8-7"/>
<path class="l" d="M1420 1728l8 85"/>
<path class="w" d="M1411 1830l9-102-2 20-9-40z"/>
<path class="l" d="M1420 1728l-2 20"/>
<path class="m" d="M1409 1708l9 40"/>
<path class="e" d="M1411 1830l9-102"/>
<path class="w" d="M1402 1678l9 152-2-122-9 71z"/>
<path class="e" d="M1411 1830l-2-122"/>
<path class="h" d="M1400 1779l9-71"/>
<path class="o" d="M1402 1678l9 152"/>
<path class="w" d="M1394 1832l8-154-2 101-8 0z"/>
<path class="o" d="M1402 1678l-2 101"/>
<path class="h" d="M1392 1779l8 0"/>
<path class="e" d="M1394 1832l8-154"/>
<path class="w" d="M1385 1712l9 120-2-53-9-73z"/>
<path class="e" d="M1394 1832l-2-53"/>
<path class="m" d="M1383 1706l9 73"/>
<path class="m" d="M1385 1712l9 120"/>
<path class="w" d="M1376 1668l9 44-2-6-8 34z"/>
<path class="m" d="M1385 1712l-2-6"/>
<path class="k" d="M1375 1740l8-34"/>
<path class="p" d="M1376 1668l9 44"/>
<path class="w" d="M1368 1811l8-143-1 72-9 30z"/>
<path class="p" d="M1376 1668l-1 72"/>
<path class="i" d="M1366 1770l9-30"/>
<path class="g" d="M1368 1811l8-143"/>
<path class="w" d="M1359 1696l9 115-2-41-9 13z"/>
<path class="g" d="M1368 1811l-2-41"/>
<path class="h" d="M1357 1783l9-13"/>
<path class="n" d="M1359 1696l9 115"/>
<path class="w" d="M1351 1705l8-9-2 87-8-48z"/>
<path class="n" d="M1359 1696l-2 87"/>
<path class="l" d="M1349 1735l8 48"/>
<path class="n" d="M1351 1705l8-9"/>
<path class="w" d="M1342 1787l9-82-2 30-9-33z"/>
<path class="n" d="M1351 1705l-2 30-9-33"/>
<path class="h" d="M1342 1787l9-82"/>
<path class="w" d="M1333 1813l9-26-2-85-9 41z"/>
<path class="h" d="M1342 1787l-2-85"/>
<path class="k" d="M1331 1743l9-41"/>
<path class="g" d="M1333 1813l9-26"/>
<path class="w" d="M1325 1692l8 121-2-70-8 76z"/>
<path class="g" d="M1333 1813l-2-70"/>
<path class="f" d="M1323 1819l8-76"/>
<path class="o" d="M1325 1692l8 121"/>
<path class="w" d="M1316 1793l9-101-2 127-9-57z"/>
<path class="o" d="M1325 1692l-2 127"/>
<path class="j" d="M1314 1762l9 57"/>
<path class="h" d="M1316 1793l9-101"/>
<path class="w" d="M1307 1796l9-3-2-31-9 46z"/>
<path class="h" d="M1316 1793l-2-31"/>
<path class="g" d="M1305 1808l9-46"/>
<path class="h" d="M1307 1796l9-3"/>
<path class="w" d="M1299 1804l8-8-2 12-8-32z"/>
<path class="h" d="M1307 1796l-2 12"/>
<path class="i" d="M1297 1776l8 32"/>
<path class="h" d="M1299 1804l8-8"/>
<path class="w" d="M1290 1791l9 13-2-28-9-109z"/>
<path class="h" d="M1299 1804l-2-28"/>
<path class="p" d="M1288 1667l9 109"/>
<path class="h" d="M1290 1791l9 13"/>
<path class="w" d="M1281 1742l9 49-2-124-8 93z"/>
<path class="h" d="M1290 1791l-2-124"/>
<path class="j" d="M1280 1760l8-93"/>
<path class="l" d="M1281 1742l9 49"/>
<path class="w" d="M1273 1836l8-94-1 18-9-12z"/>
<path class="l" d="M1281 1742l-1 18"/>
<path class="k" d="M1271 1748l9 12"/>
<path class="f" d="M1273 1836l-2-88"/>
<path class="f" d="M1273 1836l8-94"/>
</g>
<path d="M1266.1 1956.6L1870.6 1891.9M1266.1 1956.6L1075.4 1747.1M1075.4 1747.1L1075.4 1391.2M1075.4 1747.1L1064.6 1735.3M1075.4 1658.1L1064.6 1646.3M1075.4 1569.1L1064.6 1557.3M1075.4 1480.2L1064.6 1468.3M1075.4 1391.2L1064.6 1379.4M1266.1 1956.6L1275.9 1967.3M1352.5 1947.4L1362.2 1958.1M1438.8 1938.1L1448.6 1948.8M1525.2 1928.9L1534.9 1939.6M1611.5 1919.6L1621.3 1930.4M1697.9 1910.4L1707.6 1921.1M1784.2 1901.1L1794 1911.9M1870.6 1891.9L1880.4 1902.6M1266.1 1956.6L1250.7 1958.2M1170.8 1851.8L1155.3 1853.5M1075.4 1747.1L1060 1748.7" fill="none" stroke="#353535" stroke-width="1.5"/>
<text transform="matrix(0.5220 0 0 0.6712 1009.13 1397.60)">1</text>
<text transform="matrix(0.6204 0 0 0.6621 993.87 1713.70)">-1</text>
<text transform="matrix(0.6625 0 0 0.6474 974.00 1813.95)">100</text>
<text transform="matrix(0.6753 0 0 0.6252 1193.47 2013.27)">0</text>
<text transform="matrix(0.6863 0 0 0.6267 1506.84 2009.37)">30</text>
<text transform="matrix(0.6953 0 0 0.6400 1815.68 2003.66)">70</text>
<text transform="matrix(0.8252 0 0 0.8628 0 0)"><tspan x="1284.4" y="1376.6">(</tspan><tspan x="1319.7" y="1375.6" font-weight="bold" font-size="101.8px">d</tspan><tspan x="1379.0" y="1376.6">)</tspan></text>
</g>
</svg></figure></body></html>
